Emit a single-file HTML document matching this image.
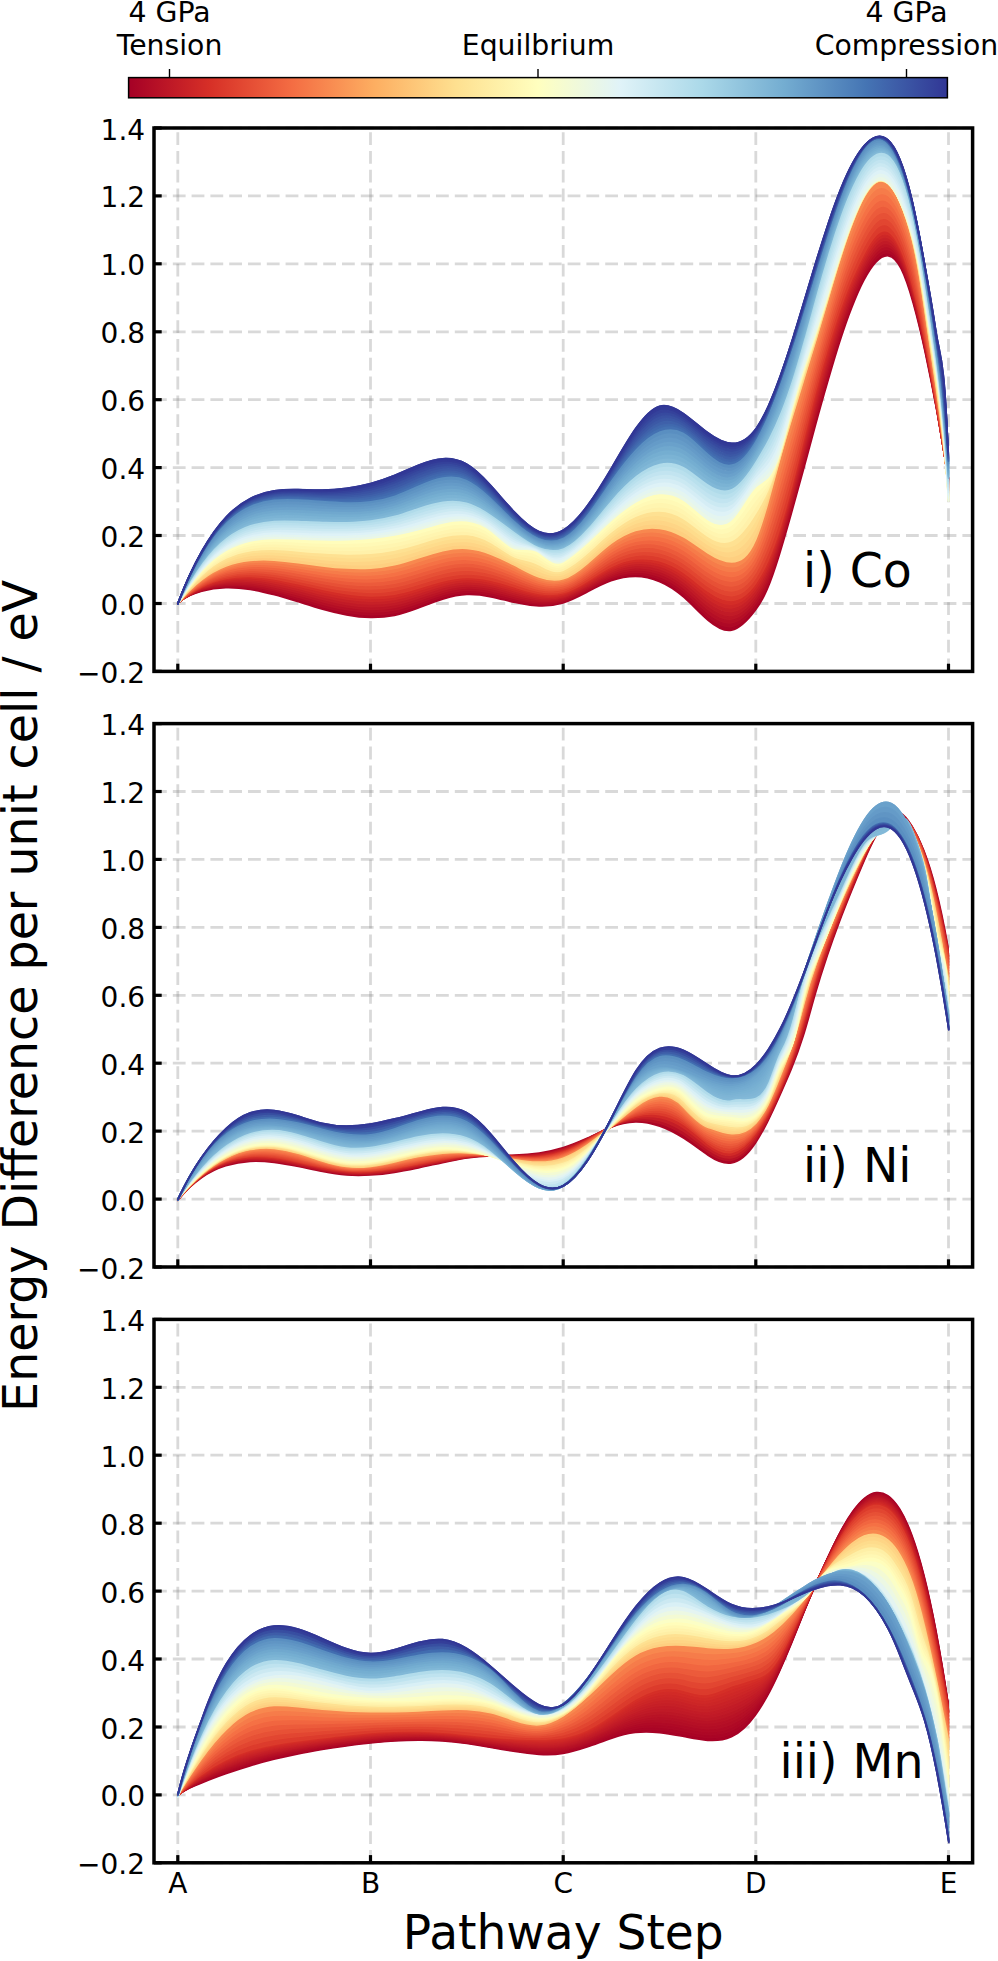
<!DOCTYPE html>
<html lang="en">
<head>
<meta charset="utf-8">
<title>Energy Difference per unit cell vs Pathway Step</title>
<style>html,body{margin:0;padding:0;background:#fff}svg{display:block}</style>
</head>
<body>
<svg width="998" height="1961" viewBox="0 0 998 1961">
<rect width="998" height="1961" fill="#fff"/>
<defs><linearGradient id="cb" x1="0" x2="1" y1="0" y2="0">
<stop offset="0%" stop-color="#a50026"/>
<stop offset="10%" stop-color="#d73027"/>
<stop offset="20%" stop-color="#f46d43"/>
<stop offset="30%" stop-color="#fdae61"/>
<stop offset="40%" stop-color="#fee090"/>
<stop offset="50%" stop-color="#ffffbf"/>
<stop offset="60%" stop-color="#e0f3f8"/>
<stop offset="70%" stop-color="#abd9e9"/>
<stop offset="80%" stop-color="#74add1"/>
<stop offset="90%" stop-color="#4575b4"/>
<stop offset="100%" stop-color="#313695"/>
</linearGradient>
<clipPath id="cl0"><rect x="154" y="128" width="818.6" height="543.4"/></clipPath>
<clipPath id="cl1"><rect x="154" y="723.6" width="818.6" height="543.4"/></clipPath>
<clipPath id="cl2"><rect x="154" y="1319.4" width="818.6" height="543.4"/></clipPath>
</defs>
<g id="colorbar">
<rect x="128.6" y="77.6" width="818.8" height="20.2" fill="url(#cb)" stroke="#000" stroke-width="1.5"/>
<line x1="169.5" x2="169.5" y1="69" y2="77.6" stroke="#000" stroke-width="1.4"/>
<line x1="538" x2="538" y1="69" y2="77.6" stroke="#000" stroke-width="1.4"/>
<line x1="906.5" x2="906.5" y1="69" y2="77.6" stroke="#000" stroke-width="1.4"/>
<g font-family="'DejaVu Sans','Liberation Sans',sans-serif" font-size="28.3" text-anchor="middle" fill="#000">
<text x="169.5" y="22.4">4 GPa</text><text x="169.5" y="54.6">Tension</text>
<text x="538" y="54.6">Equilbrium</text>
<text x="906.5" y="22.4">4 GPa</text><text x="906.5" y="54.6">Compression</text>
</g></g>
<g id="panel1">
<g stroke="#808080" stroke-opacity="0.3" stroke-width="2.8" stroke-dasharray="12.8 6.0" fill="none">
<line x1="177.8" x2="177.8" y1="671.4" y2="128"/>
<line x1="370.5" x2="370.5" y1="671.4" y2="128"/>
<line x1="563.2" x2="563.2" y1="671.4" y2="128"/>
<line x1="755.8" x2="755.8" y1="671.4" y2="128"/>
<line x1="948.5" x2="948.5" y1="671.4" y2="128"/>
<line x1="154" x2="972.6" y1="671.4" y2="671.4"/>
<line x1="154" x2="972.6" y1="603.5" y2="603.5"/>
<line x1="154" x2="972.6" y1="535.5" y2="535.5"/>
<line x1="154" x2="972.6" y1="467.6" y2="467.6"/>
<line x1="154" x2="972.6" y1="399.7" y2="399.7"/>
<line x1="154" x2="972.6" y1="331.8" y2="331.8"/>
<line x1="154" x2="972.6" y1="263.8" y2="263.8"/>
<line x1="154" x2="972.6" y1="195.9" y2="195.9"/>
<line x1="154" x2="972.6" y1="128" y2="128"/>
</g>
<g clip-path="url(#cl0)" stroke-width="1.7" stroke-linejoin="round" stroke-linecap="butt">
<path d="M177.9,602.3C179.8,601 181.8,599.8 183.7,598.7S187.6,596.5 189.6,595.5C193.6,593.6 197.6,592.2 201.7,591.1C209.8,588.9 217.9,587.9 225.9,587.7S242.1,588.2 250.2,589.4S266.3,592.6 274.4,594.7S290.4,599.3 298.5,601.8S314.5,606.8 322.5,609.1S338.6,613.3 346.5,614.8S362.5,617.3 370.5,617.4S386.4,617 394.4,615.3S410.3,610.9 418.3,607.9S434.4,601.7 442.5,599.2S458.6,594.7 466.8,594.4S483,595.1 491.1,596.8S507.2,600.7 515.2,602.5S531.1,605.5 539.1,605.8S555,605.3 562.9,602.9S578.8,596.4 586.8,592.2S602.9,583.7 611,580.8S627.3,576.4 635.4,576.4S651.7,578.2 659.8,581.6S676,590.2 684.1,597.4S700.2,613.5 708.2,620.3S724,631.6 731.6,630.1S747.2,621 755.1,610.5C759.1,605.2 763.1,598.9 767.1,589.5S775.1,568.3 779.1,555.4S787.1,528.6 791.1,514.3S799.2,485.3 803.2,470.5S811.2,440.7 815.2,426S823.2,396.8 827.3,382.9S835.3,355.5 839.3,343S847.3,318.8 851.4,308.4S859.4,288.6 863.5,280.9S871.5,266.9 875.6,262.5S883.9,255.3 888.4,255.8S897,260.6 901.1,268.7S909.2,288.7 913.2,303S921.3,334 925.2,352.2S933.1,390.2 937,411.3S944.5,454.6 948.4,477.7L948.4,478.1C944.5,454.6 940.7,431.9 936.9,410.4S929.1,368.8 925.1,350.4S917.1,315 913.1,300.6S905.1,274.3 901,266.1S892.8,253.5 888.4,252.8S879.8,254.7 875.7,259.1S867.6,269.7 863.5,277.4S855.5,294.3 851.5,304.6S843.4,326.4 839.4,338.8S831.4,364.4 827.4,378.3S819.3,406.6 815.3,421.4S807.3,451.3 803.3,466.3S795.2,496.2 791.2,510.6S783.2,539.1 779.2,552S771.2,576.5 767.2,585.9S759.2,601.7 755.2,607C747.2,617.7 739.3,625.1 731.6,626.4S716.1,623.3 708.1,616.6S692.1,601.2 684.1,594.2S667.9,582.3 659.8,579S643.5,574.2 635.4,574.2S619.2,576 611.1,579S594.9,586.6 586.9,590.8S570.9,599.2 562.9,601.6S547.1,604.6 539.1,604.2S523.1,602.4 515.1,600.5S499.1,596.5 491,594.8S474.9,591.9 466.8,592.3S450.6,594.4 442.5,596.9S426.4,602.5 418.4,605.4S402.4,611 394.4,612.7S378.5,614.9 370.5,614.7S354.5,613.6 346.5,612.2S330.5,608.8 322.5,606.6S306.5,601.9 298.4,599.5S282.4,594.8 274.3,592.7S258.2,588.9 250.2,587.8S234,586.2 226,586.5S209.8,588.1 201.7,590.6C197.6,591.8 193.6,593.3 189.6,595.3C187.7,596.3 185.7,597.4 183.7,598.6S179.8,601.1 177.9,602.4Z" fill="#a80326" stroke="#a80326"/>
<path d="M177.9,602.4C179.8,601.1 181.8,599.8 183.7,598.6S187.7,596.3 189.6,595.3C193.6,593.3 197.6,591.8 201.7,590.6C209.8,588.1 217.9,586.9 226,586.5S242.1,586.7 250.2,587.8S266.3,590.7 274.3,592.7S290.4,597.1 298.4,599.5S314.5,604.4 322.5,606.6S338.5,610.7 346.5,612.2S362.5,614.6 370.5,614.7S386.4,614.3 394.4,612.7S410.4,608.3 418.4,605.4S434.4,599.4 442.5,596.9S458.7,592.6 466.8,592.3S483,593.1 491,594.8S507.1,598.7 515.1,600.5S531.1,603.8 539.1,604.2S555,604 562.9,601.6S578.9,595.1 586.9,590.8S603,582.1 611.1,579S627.3,574.3 635.4,574.2S651.7,575.7 659.8,579S676,587.3 684.1,594.2S700.2,610 708.1,616.6S723.9,627.8 731.6,626.4S747.2,617.7 755.2,607C759.2,601.7 763.2,595.2 767.2,585.9S775.2,564.8 779.2,552S787.2,525 791.2,510.6S799.3,481.3 803.3,466.3S811.3,436.2 815.3,421.4S823.3,392.2 827.4,378.3S835.4,351.1 839.4,338.8S847.4,314.9 851.5,304.6S859.5,285.2 863.5,277.4S871.6,263.4 875.7,259.1S884,252 888.4,252.8S896.9,257.9 901,266.1S909.1,286.2 913.1,300.6S921.1,331.9 925.1,350.4S933,389 936.9,410.4S944.5,454.6 948.4,478.1L948.4,478.5C944.5,454.6 940.7,431.4 936.8,409.6S929,367.3 925,348.5S917,312.8 913,298.2S905,271.8 900.9,263.5S892.7,250.7 888.4,249.7S879.9,251.3 875.8,255.6S867.7,266.3 863.6,274S855.6,290.6 851.6,300.8S843.5,322.3 839.5,334.5S831.5,359.9 827.5,373.7S819.4,402 815.4,416.8S807.4,446.9 803.4,462S795.4,492.3 791.3,506.9S783.3,535.6 779.3,548.5S771.3,572.9 767.3,582.3S759.3,598.2 755.3,603.6C747.3,614.4 739.3,621.5 731.6,622.7S716,619.5 708.1,613S692.1,597.9 684,591.1S667.8,579.5 659.7,576.4S643.5,571.9 635.4,572.1S619.2,574 611.1,577.2S595,585 586.9,589.4S570.9,598 563,600.4S547.1,603.2 539.1,602.7S523.1,600.6 515.1,598.6S499.1,594.4 491,592.7S474.9,589.8 466.8,590.1S450.6,592.2 442.5,594.7S426.4,600.1 418.4,602.9S402.4,608.4 394.4,610S378.5,612.2 370.5,612S354.5,611 346.5,609.5S330.5,606.2 322.5,604.1S306.4,599.6 298.4,597.3S282.3,592.7 274.3,590.7S258.2,587.2 250.2,586.2S234,584.8 226,585.4S209.8,587.3 201.7,590C197.7,591.3 193.6,593 189.7,595.1C187.7,596.2 185.7,597.3 183.7,598.6S179.8,601.1 177.9,602.5Z" fill="#ae0926" stroke="#ae0926"/>
<path d="M177.9,602.5C179.8,601.1 181.8,599.8 183.7,598.6S187.7,596.2 189.7,595.1C193.6,593 197.7,591.3 201.7,590C209.8,587.3 217.9,585.9 226,585.4S242.1,585.2 250.2,586.2S266.3,588.8 274.3,590.7S290.4,595 298.4,597.3S314.5,602 322.5,604.1S338.5,608.1 346.5,609.5S362.5,611.9 370.5,612S386.5,611.6 394.4,610S410.4,605.8 418.4,602.9S434.5,597.1 442.5,594.7S458.7,590.5 466.8,590.1S483,591 491,592.7S507.1,596.7 515.1,598.6S531.1,602.2 539.1,602.7S555,602.7 563,600.4S578.9,593.8 586.9,589.4S603,580.4 611.1,577.2S627.3,572.3 635.4,572.1S651.6,573.3 659.7,576.4S675.9,584.4 684,591.1S700.1,606.4 708.1,613S723.9,623.9 731.6,622.7S747.3,614.4 755.3,603.6C759.3,598.2 763.3,591.6 767.3,582.3S775.3,561.4 779.3,548.5S787.3,521.5 791.3,506.9S799.4,477.2 803.4,462S811.4,431.6 815.4,416.8S823.5,387.5 827.5,373.7S835.5,346.8 839.5,334.5S847.5,311 851.6,300.8S859.6,281.7 863.6,274S871.7,260 875.8,255.6S884,248.8 888.4,249.7S896.9,255.2 900.9,263.5S909,283.7 913,298.2S921,329.8 925,348.5S933,387.8 936.8,409.6S944.5,454.6 948.4,478.5L948.5,478.9C944.5,454.5 940.7,431 936.8,408.8S928.9,365.7 924.9,346.7S916.9,310.5 912.9,295.9S904.9,269.3 900.8,260.9S892.6,247.8 888.4,246.7S879.9,247.9 875.9,252.2S867.8,262.9 863.7,270.5S855.7,287 851.7,297S843.6,318.2 839.6,330.3S831.6,355.4 827.6,369.2S819.5,397.3 815.5,412.2S807.5,442.5 803.5,457.8S795.5,488.5 791.4,503.2S783.4,532.1 779.4,545S771.4,569.4 767.4,578.7S759.4,594.7 755.4,600.1C747.4,611.1 739.4,617.9 731.6,619S716,615.7 708,609.3S692,594.5 683.9,588S667.8,576.8 659.7,573.8S643.5,569.6 635.4,569.9S619.2,572.1 611.1,575.5S595,583.5 587,588S571,596.8 563,599.1S547.1,601.8 539.1,601.2S523.1,598.7 515.1,596.7S499.1,592.3 491,590.6S474.9,587.7 466.8,588S450.6,590 442.6,592.4S426.5,597.7 418.5,600.5S402.4,605.8 394.4,607.4S378.5,609.5 370.5,609.3S354.5,608.3 346.5,606.9S330.5,603.7 322.5,601.6S306.4,597.3 298.4,595S282.3,590.6 274.3,588.8S258.2,585.4 250.1,584.6S234,583.5 226,584.2S209.8,586.6 201.7,589.4C197.7,590.9 193.7,592.7 189.7,594.9C187.7,596 185.7,597.2 183.8,598.5S179.8,601.2 177.9,602.7Z" fill="#b50f26" stroke="#b50f26"/>
<path d="M177.9,602.7C179.8,601.2 181.8,599.8 183.8,598.5S187.7,596 189.7,594.9C193.7,592.7 197.7,590.9 201.7,589.4C209.8,586.6 217.9,584.9 226,584.2S242.1,583.7 250.1,584.6S266.2,586.9 274.3,588.8S290.3,592.8 298.4,595S314.4,599.5 322.5,601.6S338.5,605.5 346.5,606.9S362.5,609.2 370.5,609.3S386.5,608.9 394.4,607.4S410.4,603.2 418.5,600.5S434.5,594.7 442.6,592.4S458.7,588.3 466.8,588S483,588.9 491,590.6S507.1,594.7 515.1,596.7S531.1,600.5 539.1,601.2S555,601.4 563,599.1S579,592.5 587,588S603.1,578.8 611.1,575.5S627.3,570.2 635.4,569.9S651.6,570.8 659.7,573.8S675.9,581.5 683.9,588S700,602.9 708,609.3S723.9,620.1 731.6,619S747.4,611.1 755.4,600.1C759.4,594.7 763.4,588 767.4,578.7S775.4,557.9 779.4,545S787.4,517.9 791.4,503.2S799.5,473.2 803.5,457.8S811.5,427.1 815.5,412.2S823.6,382.9 827.6,369.2S835.6,342.4 839.6,330.3S847.6,307 851.7,297S859.7,278.2 863.7,270.5S871.8,256.5 875.9,252.2S884.1,245.6 888.4,246.7S896.8,252.5 900.8,260.9S908.9,281.2 912.9,295.9S920.9,327.7 924.9,346.7S932.9,386.6 936.8,408.8S944.5,454.5 948.5,478.9L948.5,479.3C944.5,454.5 940.6,430.5 936.7,407.9S928.8,364.2 924.8,344.9S916.8,308.2 912.8,293.5S904.7,266.7 900.7,258.3S892.6,245 888.3,243.7S880,244.5 875.9,248.8S867.9,259.4 863.8,267.1S855.8,283.4 851.8,293.2S843.7,314.1 839.7,326.1S831.7,350.9 827.7,364.6S819.6,392.7 815.6,407.6S807.6,438.1 803.6,453.6S795.6,484.6 791.5,499.5S783.5,528.7 779.5,541.6S771.5,565.8 767.5,575S759.5,591.2 755.5,596.7C747.5,607.8 739.5,614.3 731.7,615.3S715.9,611.9 707.9,605.6S691.9,591.2 683.9,584.9S667.7,574 659.7,571.2S643.5,567.3 635.4,567.7S619.2,570.2 611.2,573.7S595.1,582 587,586.6S571,595.5 563,597.8S547.1,600.4 539.1,599.6S523.1,596.9 515.1,594.8S499,590.3 491,588.5S474.9,585.6 466.8,585.9S450.6,587.8 442.6,590.1S426.5,595.3 418.5,598S402.5,603.2 394.5,604.7S378.5,606.8 370.5,606.6S354.5,605.6 346.5,604.3S330.4,601.1 322.4,599.1S306.4,594.9 298.3,592.8S282.3,588.5 274.2,586.8S258.2,583.6 250.1,582.9S234,582.1 226,583S209.8,585.8 201.8,588.9C197.7,590.5 193.7,592.4 189.7,594.7C187.7,595.8 185.8,597.1 183.8,598.5S179.8,601.3 177.8,602.8Z" fill="#bb1526" stroke="#bb1526"/>
<path d="M177.8,602.8C179.8,601.3 181.8,599.8 183.8,598.5S187.7,595.8 189.7,594.7C193.7,592.4 197.7,590.5 201.8,588.9C209.8,585.8 217.9,583.9 226,583S242.1,582.2 250.1,582.9S266.2,585 274.2,586.8S290.3,590.6 298.3,592.8S314.4,597.1 322.4,599.1S338.5,602.9 346.5,604.3S362.5,606.5 370.5,606.6S386.5,606.2 394.5,604.7S410.5,600.7 418.5,598S434.6,592.4 442.6,590.1S458.7,586.2 466.8,585.9S482.9,586.8 491,588.5S507.1,592.6 515.1,594.8S531.1,598.8 539.1,599.6S555,600.1 563,597.8S579,591.2 587,586.6S603.1,577.1 611.2,573.7S627.3,568.2 635.4,567.7S651.6,568.4 659.7,571.2S675.8,578.5 683.9,584.9S699.9,599.3 707.9,605.6S723.8,616.3 731.7,615.3S747.5,607.8 755.5,596.7C759.5,591.2 763.5,584.3 767.5,575S775.5,554.4 779.5,541.6S787.5,514.4 791.5,499.5S799.6,469.1 803.6,453.6S811.6,422.5 815.6,407.6S823.7,378.3 827.7,364.6S835.7,338 839.7,326.1S847.7,303.1 851.8,293.2S859.8,274.7 863.8,267.1S871.9,253 875.9,248.8S884.1,242.3 888.3,243.7S896.7,249.8 900.7,258.3S908.8,278.7 912.8,293.5S920.8,325.6 924.8,344.9S932.8,385.4 936.7,407.9S944.5,454.5 948.5,479.3L948.5,479.6C944.5,454.4 940.6,430 936.6,407.1S928.7,362.6 924.7,343.1S916.7,306 912.7,291.1S904.6,264.2 900.6,255.7S892.5,242.2 888.3,240.6S880.1,241.1 876,245.3S867.9,256 863.9,263.6S855.9,279.8 851.9,289.5S843.8,310 839.8,321.8S831.8,346.5 827.8,360S819.7,388 815.7,403S807.7,433.7 803.7,449.4S795.7,480.8 791.6,495.8S783.6,525.2 779.6,538.1S771.6,562.2 767.6,571.4S759.6,587.7 755.6,593.3C747.6,604.5 739.6,610.7 731.7,611.6S715.9,608.1 707.9,601.9S691.8,587.9 683.8,581.7S667.7,571.2 659.6,568.6S643.5,565 635.4,565.5S619.3,568.3 611.2,571.9S595.1,580.5 587.1,585.2S571,594.3 563.1,596.6S547.1,599 539.1,598.1S523.1,595.1 515,592.8S499,588.2 491,586.5S474.9,583.6 466.8,583.8S450.7,585.6 442.6,587.8S426.6,592.9 418.5,595.5S402.5,600.6 394.5,602.1S378.5,604.1 370.5,603.9S354.5,602.9 346.4,601.6S330.4,598.6 322.4,596.6S306.3,592.6 298.3,590.5S282.3,586.4 274.2,584.8S258.1,581.9 250.1,581.3S234,580.8 226,581.9S209.9,585 201.8,588.3C197.8,590 193.7,592 189.8,594.5C187.8,595.7 185.8,597 183.8,598.4S179.8,601.3 177.8,602.9Z" fill="#c11b27" stroke="#c11b27"/>
<path d="M177.8,602.9C179.8,601.3 181.8,599.8 183.8,598.4S187.8,595.7 189.8,594.5C193.7,592 197.8,590 201.8,588.3C209.9,585 217.9,582.9 226,581.9S242.1,580.7 250.1,581.3S266.2,583.1 274.2,584.8S290.3,588.4 298.3,590.5S314.4,594.7 322.4,596.6S338.4,600.3 346.4,601.6S362.5,603.8 370.5,603.9S386.5,603.6 394.5,602.1S410.5,598.1 418.5,595.5S434.6,590.1 442.6,587.8S458.7,584 466.8,583.8S482.9,584.7 491,586.5S507,590.6 515,592.8S531.1,597.1 539.1,598.1S555.1,598.9 563.1,596.6S579.1,589.9 587.1,585.2S603.2,575.5 611.2,571.9S627.3,566.1 635.4,565.5S651.5,565.9 659.6,568.6S675.7,575.6 683.8,581.7S699.9,595.8 707.9,601.9S723.8,612.4 731.7,611.6S747.6,604.5 755.6,593.3C759.6,587.7 763.6,580.7 767.6,571.4S775.6,551 779.6,538.1S787.6,510.9 791.6,495.8S799.7,465.1 803.7,449.4S811.7,418 815.7,403S823.8,373.6 827.8,360S835.8,333.7 839.8,321.8S847.8,299.1 851.9,289.5S859.9,271.2 863.9,263.6S872,249.6 876,245.3S884.2,239.1 888.3,240.6S896.6,247.1 900.6,255.7S908.7,276.3 912.7,291.1S920.7,323.5 924.7,343.1S932.7,384.1 936.6,407.1S944.5,454.4 948.5,479.6L948.5,480C944.5,454.4 940.5,429.6 936.6,406.3S928.6,361 924.6,341.2S916.6,303.7 912.6,288.7S904.5,261.7 900.5,253.1S892.4,239.3 888.3,237.6S880.1,237.7 876.1,241.9S868,252.6 864,260.2S856,276.1 852,285.7S843.9,305.9 839.9,317.6S831.9,342 827.9,355.5S819.8,383.4 815.8,398.4S807.8,429.3 803.8,445.1S795.8,477 791.7,492.1S783.7,521.8 779.7,534.6S771.7,558.6 767.7,567.8S759.7,584.2 755.7,589.8C747.6,601.2 739.6,607.1 731.7,607.8S715.8,604.3 707.8,598.3S691.8,584.6 683.7,578.6S667.6,568.5 659.6,566S643.5,562.6 635.4,563.4S619.3,566.4 611.2,570.1S595.2,579 587.1,583.8S571.1,593.1 563.1,595.3S547.1,597.6 539.1,596.5S523,593.2 515,590.9S499,586.2 490.9,584.4S474.9,581.5 466.8,581.7S450.7,583.4 442.7,585.6S426.6,590.4 418.6,593S402.5,598 394.5,599.4S378.5,601.4 370.5,601.2S354.4,600.3 346.4,599S330.4,596 322.4,594.2S306.3,590.2 298.3,588.2S282.2,584.3 274.2,582.8S258.1,580.1 250.1,579.7S234,579.4 226,580.7S209.9,584.2 201.8,587.8C197.8,589.6 193.8,591.7 189.8,594.3C187.8,595.5 185.8,596.9 183.8,598.4S179.8,601.4 177.8,603Z" fill="#c72127" stroke="#c72127"/>
<path d="M177.8,603C179.8,601.4 181.8,599.8 183.8,598.4S187.8,595.5 189.8,594.3C193.8,591.7 197.8,589.6 201.8,587.8C209.9,584.2 217.9,581.9 226,580.7S242,579.2 250.1,579.7S266.2,581.3 274.2,582.8S290.3,586.2 298.3,588.2S314.3,592.3 322.4,594.2S338.4,597.7 346.4,599S362.5,601.1 370.5,601.2S386.5,600.9 394.5,599.4S410.5,595.6 418.6,593S434.6,587.7 442.7,585.6S458.7,581.9 466.8,581.7S482.9,582.6 490.9,584.4S507,588.6 515,590.9S531.1,595.4 539.1,596.5S555.1,597.6 563.1,595.3S579.1,588.6 587.1,583.8S603.2,573.8 611.2,570.1S627.3,564.1 635.4,563.4S651.5,563.5 659.6,566S675.7,572.7 683.7,578.6S699.8,592.3 707.8,598.3S723.8,608.6 731.7,607.8S747.6,601.2 755.7,589.8C759.7,584.2 763.7,577 767.7,567.8S775.7,547.5 779.7,534.6S787.7,507.3 791.7,492.1S799.8,461 803.8,445.1S811.8,413.4 815.8,398.4S823.9,369 827.9,355.5S835.9,329.3 839.9,317.6S847.9,295.2 852,285.7S860,267.7 864,260.2S872.1,246.1 876.1,241.9S884.2,235.9 888.3,237.6S896.5,244.5 900.5,253.1S908.6,273.8 912.6,288.7S920.6,321.5 924.6,341.2S932.6,382.9 936.6,406.3S944.5,454.4 948.5,480L948.5,480.4C944.5,454.4 940.5,429.1 936.5,405.4S928.5,359.5 924.5,339.4S916.5,301.4 912.5,286.4S904.4,259.2 900.4,250.5S892.4,236.5 888.3,234.6S880.2,234.3 876.2,238.5S868.1,249.2 864.1,256.7S856.1,272.5 852.1,281.9S844,301.8 840,313.4S832,337.5 828,350.9S819.9,378.7 815.9,393.8S807.9,424.9 803.9,440.9S795.9,473.1 791.8,488.4S783.8,518.3 779.8,531.2S771.8,555.1 767.8,564.2S759.8,580.7 755.7,586.4C747.7,597.9 739.7,603.5 731.7,604.1S715.7,600.5 707.7,594.6S691.7,581.2 683.6,575.5S667.6,565.7 659.5,563.4S643.4,560.3 635.4,561.2S619.3,564.5 611.3,568.3S595.2,577.5 587.2,582.4S571.1,591.9 563.1,594.1S547.1,596.2 539.1,595S523,591.4 515,589S499,584.1 490.9,582.3S474.8,579.4 466.8,579.5S450.7,581.2 442.7,583.3S426.6,588 418.6,590.5S402.6,595.3 394.5,596.8S378.5,598.7 370.5,598.5S354.4,597.6 346.4,596.4S330.4,593.5 322.3,591.7S306.3,587.9 298.3,586S282.2,582.2 274.2,580.8S258.1,578.3 250.1,578S234,578.1 226,579.5S209.9,583.4 201.9,587.2C197.8,589.1 193.8,591.4 189.8,594C187.8,595.4 185.8,596.8 183.8,598.3S179.8,601.5 177.8,603.2Z" fill="#ce2727" stroke="#ce2727"/>
<path d="M177.8,603.2C179.8,601.5 181.8,599.8 183.8,598.3S187.8,595.4 189.8,594C193.8,591.4 197.8,589.1 201.9,587.2C209.9,583.4 217.9,581 226,579.5S242,577.7 250.1,578S266.1,579.4 274.2,580.8S290.2,584.1 298.3,586S314.3,589.9 322.3,591.7S338.4,595.1 346.4,596.4S362.5,598.4 370.5,598.5S386.5,598.2 394.5,596.8S410.6,593 418.6,590.5S434.7,585.4 442.7,583.3S458.8,579.7 466.8,579.5S482.9,580.5 490.9,582.3S507,586.6 515,589S531.1,593.8 539.1,595S555.1,596.3 563.1,594.1S579.2,587.3 587.2,582.4S603.2,572.2 611.3,568.3S627.4,562 635.4,561.2S651.5,561 659.5,563.4S675.6,569.7 683.6,575.5S699.7,588.7 707.7,594.6S723.7,604.8 731.7,604.1S747.7,597.9 755.7,586.4C759.8,580.7 763.8,573.4 767.8,564.2S775.8,544 779.8,531.2S787.8,503.8 791.8,488.4S799.9,457 803.9,440.9S811.9,408.9 815.9,393.8S824,364.4 828,350.9S836,324.9 840,313.4S848,291.3 852.1,281.9S860.1,264.3 864.1,256.7S872.1,242.6 876.2,238.5S884.2,232.6 888.3,234.6S896.4,241.8 900.4,250.5S908.5,271.3 912.5,286.4S920.5,319.4 924.5,339.4S932.5,381.7 936.5,405.4S944.5,454.4 948.5,480.4L948.5,480.8C944.5,454.3 940.5,428.7 936.5,404.6S928.4,357.9 924.4,337.6S916.4,299.2 912.4,284S904.3,256.6 900.3,247.9S892.3,233.6 888.3,231.5S880.3,230.9 876.2,235S868.2,245.7 864.2,253.2S856.2,268.9 852.2,278.1S844.1,297.7 840.1,309.1S832.1,333 828.1,346.4S820,374 816,389.2S808,420.5 804,436.7S796,469.3 792,484.7S783.9,514.9 779.9,527.7S771.9,551.5 767.9,560.6S759.8,577.2 755.8,583C747.8,594.6 739.8,599.9 731.7,600.4S715.7,596.7 707.7,590.9S691.6,577.9 683.6,572.3S667.5,563 659.5,560.8S643.4,558 635.4,559S619.3,562.5 611.3,566.5S595.3,576 587.2,581S571.2,590.6 563.2,592.8S547.1,594.8 539.1,593.5S523,589.6 515,587S498.9,582.1 490.9,580.2S474.8,577.3 466.8,577.4S450.8,579 442.7,581S426.7,585.6 418.6,588S402.6,592.7 394.6,594.1S378.5,596 370.5,595.8S354.4,594.9 346.4,593.7S330.3,590.9 322.3,589.2S306.2,585.5 298.2,583.7S282.2,580.2 274.1,578.8S258.1,576.6 250.1,576.4S234,576.8 226,578.4S209.9,582.6 201.9,586.7C197.9,588.7 193.9,591.1 189.8,593.8C187.8,595.2 185.8,596.7 183.8,598.3S179.8,601.5 177.8,603.3Z" fill="#d42d27" stroke="#d42d27"/>
<path d="M177.8,603.3C179.8,601.5 181.8,599.8 183.8,598.3S187.8,595.2 189.8,593.8C193.9,591.1 197.9,588.7 201.9,586.7C209.9,582.6 217.9,580 226,578.4S242,576.2 250.1,576.4S266.1,577.5 274.1,578.8S290.2,581.9 298.2,583.7S314.3,587.4 322.3,589.2S338.4,592.5 346.4,593.7S362.4,595.7 370.5,595.8S386.5,595.5 394.6,594.1S410.6,590.5 418.6,588S434.7,583 442.7,581S458.8,577.6 466.8,577.4S482.9,578.4 490.9,580.2S507,584.5 515,587S531,592.1 539.1,593.5S555.1,595 563.2,592.8S579.2,586.1 587.2,581S603.3,570.5 611.3,566.5S627.4,560 635.4,559S651.5,558.6 659.5,560.8S675.5,566.8 683.6,572.3S699.6,585.2 707.7,590.9S723.7,600.9 731.7,600.4S747.8,594.6 755.8,583C759.8,577.2 763.9,569.8 767.9,560.6S775.9,540.5 779.9,527.7S787.9,500.2 792,484.7S800,452.9 804,436.7S812,404.4 816,389.2S824.1,359.7 828.1,346.4S836.1,320.5 840.1,309.1S848.1,287.3 852.2,278.1S860.2,260.8 864.2,253.2S872.2,239.1 876.2,235S884.3,229.4 888.3,231.5S896.3,239.1 900.3,247.9S908.4,268.8 912.4,284S920.4,317.3 924.4,337.6S932.4,380.5 936.5,404.6S944.5,454.3 948.5,480.8L948.5,482.1C944.5,453.6 940.5,427.2 936.5,402.5S928.4,355 924.4,333.7S916.4,293.7 912.4,278.5S904.3,251.1 900.3,242.2S892.3,227.8 888.3,225.5S880.3,224.5 876.2,228.4S868.2,238.7 864.2,246.2S856.2,261.9 852.2,271.3S844.1,291.3 840.1,302.8S832.1,327 828.1,340.4S820,368.1 816,383S808,413.6 804,429.4S796,461.1 792,476.3S783.9,506 779.9,519.1S771.9,543.6 767.9,553.3S759.8,571.2 755.8,577.5C747.8,590 739.8,595.1 731.7,595.6S715.7,591.8 707.7,586.1S691.6,573.3 683.6,567.9S667.5,558.8 659.5,556.7S643.4,554.3 635.4,555.4S619.3,559.4 611.3,563.6S595.3,573.6 587.2,578.9S571.2,588.8 563.2,591.1S547.1,593 539.1,591.4S523,587.1 515,584.3S498.9,578.9 490.9,577S474.8,573.7 466.8,573.8S450.8,575.2 442.7,577.2S426.7,581.8 418.6,584.2S402.6,589 394.6,590.4S378.5,592.4 370.5,592.4S354.4,591.6 346.4,590.5S330.3,587.9 322.3,586.3S306.2,582.8 298.2,581.1S282.2,577.7 274.1,576.5S258.1,574.4 250.1,574.4S234,575 226,576.8S209.9,581.5 201.9,585.8C197.9,587.9 193.9,590.5 189.8,593.4C187.8,594.8 185.8,596.4 183.8,598S179.8,601.5 177.8,603.3Z" fill="#dc3b2c" stroke="#dc3b2c"/>
<path d="M177.8,603.3C179.8,601.5 181.8,599.7 183.8,598S187.8,594.8 189.8,593.4C193.9,590.5 197.9,587.9 201.9,585.8C209.9,581.5 217.9,578.6 226,576.8S242,574.3 250.1,574.4S266.1,575.3 274.1,576.5S290.2,579.4 298.2,581.1S314.3,584.6 322.3,586.3S338.4,589.4 346.4,590.5S362.4,592.3 370.5,592.4S386.5,591.9 394.6,590.4S410.6,586.7 418.6,584.2S434.7,579.2 442.7,577.2S458.8,573.9 466.8,573.8S482.9,575 490.9,577S507,581.6 515,584.3S531,589.8 539.1,591.4S555.1,593.3 563.2,591.1S579.2,584.1 587.2,578.9S603.3,567.9 611.3,563.6S627.4,556.6 635.4,555.4S651.5,554.7 659.5,556.7S675.5,562.5 683.6,567.9S699.6,580.5 707.7,586.1S723.7,596 731.7,595.6S747.8,590 755.8,577.5C759.8,571.2 763.9,563.1 767.9,553.3S775.9,532.1 779.9,519.1S787.9,491.5 792,476.3S800,445.3 804,429.4S812,397.9 816,383S824.1,353.8 828.1,340.4S836.1,314.4 840.1,302.8S848.1,280.7 852.2,271.3S860.2,253.6 864.2,246.2S872.2,232.3 876.2,228.4S884.3,223.3 888.3,225.5S896.3,233.4 900.3,242.2S908.4,263.2 912.4,278.5S920.4,312.5 924.4,333.7S932.4,377.9 936.5,402.5S944.5,453.6 948.5,482.1L948.5,483.3C944.5,452.8 940.5,425.6 936.5,400.5S928.4,352 924.4,329.9S916.4,288.3 912.4,272.9S904.3,245.5 900.3,236.6S892.3,222 888.3,219.6S880.3,218.2 876.2,221.8S868.2,231.7 864.2,239.1S856.2,254.9 852.2,264.4S844.1,284.8 840.1,296.5S832.1,321 828.1,334.5S820,362.1 816,376.8S808,406.8 804,422.2S796,453 792,467.9S783.9,497.2 779.9,510.4S771.9,535.6 767.9,546.1S759.8,565.3 755.8,572C747.8,585.4 739.8,590.4 731.7,590.8S715.7,587 707.7,581.4S691.6,568.7 683.6,563.4S667.5,554.6 659.5,552.7S643.4,550.5 635.4,551.9S619.3,556.2 611.3,560.7S595.3,571.2 587.2,576.7S571.2,587.1 563.2,589.3S547.1,591.1 539.1,589.3S523,584.6 515,581.6S498.9,575.8 490.9,573.7S474.8,570.2 466.8,570.2S450.8,571.5 442.7,573.4S426.7,578 418.6,580.4S402.6,585.3 394.6,586.8S378.5,588.9 370.5,588.9S354.4,588.3 346.4,587.3S330.3,584.9 322.3,583.3S306.2,580.1 298.2,578.5S282.2,575.3 274.1,574.1S258.1,572.3 250.1,572.4S234,573.3 226,575.3S209.9,580.3 201.9,584.9C197.9,587.2 193.9,589.8 189.8,592.9C187.8,594.4 185.8,596.1 183.8,597.8S179.8,601.4 177.8,603.4Z" fill="#e24631" stroke="#e24631"/>
<path d="M177.8,603.4C179.8,601.4 181.8,599.5 183.8,597.8S187.8,594.4 189.8,592.9C193.9,589.8 197.9,587.2 201.9,584.9C209.9,580.3 217.9,577.2 226,575.3S242,572.5 250.1,572.4S266.1,573 274.1,574.1S290.2,576.8 298.2,578.5S314.3,581.8 322.3,583.3S338.4,586.3 346.4,587.3S362.4,588.9 370.5,588.9S386.5,588.2 394.6,586.8S410.6,582.9 418.6,580.4S434.7,575.4 442.7,573.4S458.8,570.1 466.8,570.2S482.9,571.6 490.9,573.7S507,578.7 515,581.6S531,587.6 539.1,589.3S555.1,591.5 563.2,589.3S579.2,582.2 587.2,576.7S603.3,565.2 611.3,560.7S627.4,553.2 635.4,551.9S651.5,550.8 659.5,552.7S675.5,558.1 683.6,563.4S699.6,575.8 707.7,581.4S723.7,591.1 731.7,590.8S747.8,585.4 755.8,572C759.8,565.3 763.9,556.5 767.9,546.1S775.9,523.6 779.9,510.4S787.9,482.9 792,467.9S800,437.6 804,422.2S812,391.5 816,376.8S824.1,347.9 828.1,334.5S836.1,308.3 840.1,296.5S848.1,274 852.2,264.4S860.2,246.5 864.2,239.1S872.2,225.5 876.2,221.8S884.3,217.2 888.3,219.6S896.3,227.7 900.3,236.6S908.4,257.6 912.4,272.9S920.4,307.7 924.4,329.9S932.4,375.4 936.5,400.5S944.5,452.8 948.5,483.3L948.5,484.6C944.5,452 940.5,424.1 936.5,398.5S928.4,349.1 924.4,326S916.4,282.8 912.4,267.4S904.3,239.9 900.3,230.9S892.3,216.2 888.3,213.6S880.3,211.8 876.2,215.2S868.2,224.7 864.2,232S856.2,247.9 852.2,257.6S844.1,278.3 840.1,290.2S832.1,315 828.1,328.5S820,356.1 816,370.6S808,399.9 804,414.9S796,444.9 792,459.6S783.9,488.4 779.9,501.8S771.9,527.7 767.9,538.8S759.8,559.4 755.8,566.5C747.8,580.8 739.8,585.6 731.7,585.9S715.7,582.1 707.7,576.6S691.6,564.2 683.6,559S667.5,550.4 659.5,548.6S643.4,546.8 635.4,548.3S619.3,553 611.3,557.7S595.3,568.8 587.2,574.5S571.2,585.3 563.2,587.6S547.1,589.2 539.1,587.3S523,582.1 515,578.9S498.9,572.7 490.9,570.4S474.8,566.7 466.8,566.5S450.8,567.7 442.7,569.6S426.7,574.2 418.6,576.6S402.6,581.5 394.6,583.1S378.5,585.3 370.5,585.4S354.4,585 346.4,584.1S330.3,581.9 322.3,580.4S306.2,577.4 298.2,575.8S282.2,572.8 274.1,571.8S258.1,570.2 250.1,570.4S234,571.6 226,573.7S209.9,579.2 201.9,584C197.9,586.4 193.9,589.2 189.8,592.4C187.8,594 185.8,595.8 183.8,597.6S179.8,601.3 177.8,603.4Z" fill="#e75136" stroke="#e75136"/>
<path d="M177.8,603.4C179.8,601.3 181.8,599.4 183.8,597.6S187.8,594 189.8,592.4C193.9,589.2 197.9,586.4 201.9,584C209.9,579.2 217.9,575.9 226,573.7S242,570.6 250.1,570.4S266.1,570.8 274.1,571.8S290.2,574.3 298.2,575.8S314.3,579 322.3,580.4S338.4,583.2 346.4,584.1S362.4,585.5 370.5,585.4S386.5,584.6 394.6,583.1S410.6,579.1 418.6,576.6S434.7,571.6 442.7,569.6S458.8,566.4 466.8,566.5S482.9,568.2 490.9,570.4S507,575.7 515,578.9S531,585.4 539.1,587.3S555.1,589.8 563.2,587.6S579.2,580.2 587.2,574.5S603.3,562.5 611.3,557.7S627.4,549.8 635.4,548.3S651.5,546.8 659.5,548.6S675.5,553.8 683.6,559S699.6,571.1 707.7,576.6S723.7,586.3 731.7,585.9S747.8,580.8 755.8,566.5C759.8,559.4 763.9,549.8 767.9,538.8S775.9,515.1 779.9,501.8S787.9,474.2 792,459.6S800,429.9 804,414.9S812,385 816,370.6S824.1,342 828.1,328.5S836.1,302.2 840.1,290.2S848.1,267.4 852.2,257.6S860.2,239.4 864.2,232S872.2,218.7 876.2,215.2S884.3,211 888.3,213.6S896.3,221.9 900.3,230.9S908.4,252 912.4,267.4S920.4,302.9 924.4,326S932.4,372.9 936.5,398.5S944.5,452 948.5,484.6L948.5,485.9C944.5,451.3 940.5,422.6 936.5,396.5S928.4,346.1 924.4,322.1S916.4,277.4 912.4,261.9S904.3,234.3 900.3,225.3S892.3,210.4 888.3,207.6S880.3,205.4 876.2,208.6S868.2,217.6 864.2,225S856.2,240.9 852.2,250.8S844.1,271.9 840.1,284S832.1,309 828.1,322.5S820,350.1 816,364.3S808,393.1 804,407.6S796,436.8 792,451.2S783.9,479.6 779.9,493.1S771.9,519.8 767.9,531.5S759.8,553.4 755.8,561C747.8,576.2 739.8,580.9 731.7,581.1S715.7,577.3 707.7,571.8S691.6,559.6 683.6,554.5S667.5,546.2 659.5,544.6S643.4,543 635.4,544.7S619.3,549.8 611.3,554.8S595.3,566.4 587.2,572.3S571.2,583.5 563.2,585.8S547.1,587.4 539.1,585.2S523,579.6 515,576.2S498.9,569.6 490.9,567.2S474.8,563.1 466.8,562.9S450.8,563.9 442.7,565.9S426.7,570.3 418.6,572.9S402.6,577.8 394.6,579.4S378.5,581.8 370.5,581.9S354.4,581.7 346.4,580.9S330.3,578.8 322.3,577.5S306.2,574.6 298.2,573.2S282.2,570.4 274.1,569.5S258.1,568 250.1,568.4S234,569.9 226,572.2S209.9,578 201.9,583.1C197.9,585.7 193.9,588.6 189.8,592C187.8,593.6 185.8,595.4 183.8,597.3S179.8,601.3 177.8,603.4Z" fill="#ec5b3b" stroke="#ec5b3b"/>
<path d="M177.8,603.4C179.8,601.3 181.8,599.3 183.8,597.3S187.8,593.6 189.8,592C193.9,588.6 197.9,585.7 201.9,583.1C209.9,578 217.9,574.5 226,572.2S242,568.7 250.1,568.4S266.1,568.5 274.1,569.5S290.2,571.8 298.2,573.2S314.3,576.1 322.3,577.5S338.4,580 346.4,580.9S362.4,582.1 370.5,581.9S386.5,581 394.6,579.4S410.6,575.4 418.6,572.9S434.7,567.8 442.7,565.9S458.8,562.7 466.8,562.9S482.9,564.7 490.9,567.2S507,572.8 515,576.2S531,583.1 539.1,585.2S555.1,588.1 563.2,585.8S579.2,578.3 587.2,572.3S603.3,559.8 611.3,554.8S627.4,546.4 635.4,544.7S651.5,542.9 659.5,544.6S675.5,549.5 683.6,554.5S699.6,566.4 707.7,571.8S723.7,581.4 731.7,581.1S747.8,576.2 755.8,561C759.8,553.4 763.9,543.2 767.9,531.5S775.9,506.7 779.9,493.1S787.9,465.5 792,451.2S800,422.2 804,407.6S812,378.6 816,364.3S824.1,336.1 828.1,322.5S836.1,296 840.1,284S848.1,260.7 852.2,250.8S860.2,232.3 864.2,225S872.2,211.8 876.2,208.6S884.3,204.9 888.3,207.6S896.3,216.2 900.3,225.3S908.4,246.3 912.4,261.9S920.4,298.1 924.4,322.1S932.4,370.3 936.5,396.5S944.5,451.3 948.5,485.9L948.5,487.1C944.5,450.5 940.5,421.1 936.5,394.4S928.4,343.2 924.4,318.2S916.4,271.9 912.4,256.3S904.3,228.7 900.3,219.6S892.3,204.5 888.3,201.7S880.3,199 876.2,202S868.2,210.6 864.2,217.9S856.2,233.9 852.2,244S844.1,265.4 840.1,277.7S832.1,303 828.1,316.6S820,344.1 816,358.1S808,386.2 804,400.4S796,428.7 792,442.8S783.9,470.8 779.9,484.5S771.9,511.9 767.9,524.2S759.8,547.5 755.8,555.6C747.8,571.7 739.8,576.1 731.7,576.3S715.7,572.4 707.7,567S691.6,555 683.6,550.1S667.5,542 659.5,540.5S643.4,539.2 635.4,541.2S619.3,546.6 611.3,551.9S595.3,564 587.2,570.2S571.2,581.7 563.2,584S547.1,585.5 539.1,583.2S523,577.1 515,573.5S498.9,566.5 490.9,563.9S474.8,559.6 466.8,559.3S450.8,560.2 442.7,562.1S426.7,566.5 418.6,569.1S402.6,574.1 394.6,575.7S378.5,578.2 370.5,578.5S354.4,578.4 346.4,577.6S330.3,575.8 322.3,574.6S306.2,571.9 298.2,570.6S282.2,567.9 274.1,567.1S258.1,565.9 250.1,566.4S234,568.1 226,570.6S209.9,576.9 201.9,582.2C197.9,584.9 193.9,588 189.8,591.5C187.8,593.3 185.8,595.1 183.8,597.1S179.8,601.2 177.8,603.4Z" fill="#f16640" stroke="#f16640"/>
<path d="M177.8,603.4C179.8,601.2 181.8,599.1 183.8,597.1S187.8,593.3 189.8,591.5C193.9,588 197.9,584.9 201.9,582.2C209.9,576.9 217.9,573.2 226,570.6S242,566.8 250.1,566.4S266.1,566.3 274.1,567.1S290.2,569.2 298.2,570.6S314.3,573.3 322.3,574.6S338.4,576.9 346.4,577.6S362.4,578.7 370.5,578.5S386.5,577.4 394.6,575.7S410.6,571.6 418.6,569.1S434.7,563.9 442.7,562.1S458.8,559 466.8,559.3S482.9,561.3 490.9,563.9S507,569.9 515,573.5S531,580.9 539.1,583.2S555.1,586.3 563.2,584S579.2,576.3 587.2,570.2S603.3,557.1 611.3,551.9S627.4,543.1 635.4,541.2S651.5,539 659.5,540.5S675.5,545.2 683.6,550.1S699.6,561.6 707.7,567S723.7,576.5 731.7,576.3S747.8,571.7 755.8,555.6C759.8,547.5 763.9,536.6 767.9,524.2S775.9,498.2 779.9,484.5S787.9,456.8 792,442.8S800,414.5 804,400.4S812,372.1 816,358.1S824.1,330.2 828.1,316.6S836.1,289.9 840.1,277.7S848.1,254 852.2,244S860.2,225.1 864.2,217.9S872.2,205 876.2,202S884.3,198.8 888.3,201.7S896.3,210.5 900.3,219.6S908.4,240.7 912.4,256.3S920.4,293.3 924.4,318.2S932.4,367.8 936.5,394.4S944.5,450.5 948.5,487.1L948.5,488.4C944.5,449.8 940.5,419.6 936.5,392.4S928.4,340.2 924.4,314.4S916.4,266.5 912.4,250.8S904.3,223.1 900.3,214S892.3,198.7 888.3,195.7S880.3,192.7 876.2,195.4S868.2,203.6 864.2,210.8S856.2,226.9 852.2,237.1S844.1,258.9 840.1,271.4S832.1,297.1 828.1,310.6S820,338.1 816,351.9S808,379.4 804,393.1S796,420.6 792,434.4S783.9,462 779.9,475.8S771.9,503.9 767.9,516.9S759.8,541.6 755.8,550.1C747.8,567.1 739.8,571.3 731.7,571.5S715.7,567.5 707.7,562.2S691.6,550.4 683.6,545.6S667.5,537.8 659.5,536.4S643.4,535.5 635.4,537.6S619.3,543.5 611.3,548.9S595.3,561.6 587.2,568S571.2,580 563.2,582.3S547.1,583.6 539.1,581.1S523,574.6 515,570.8S498.9,563.3 490.9,560.6S474.8,556 466.8,555.7S450.8,556.4 442.7,558.3S426.7,562.7 418.6,565.3S402.6,570.3 394.6,572S378.5,574.7 370.5,575S354.4,575.1 346.4,574.4S330.3,572.8 322.3,571.6S306.2,569.2 298.2,567.9S282.2,565.5 274.1,564.8S258.1,563.8 250.1,564.4S234,566.4 226,569.1S209.9,575.7 201.9,581.3C197.9,584.1 193.9,587.4 189.8,591C187.8,592.9 185.8,594.8 183.8,596.9S179.8,601.2 177.8,603.5Z" fill="#f57145" stroke="#f57145"/>
<path d="M177.8,603.5C179.8,601.2 181.8,599 183.8,596.9S187.8,592.9 189.8,591C193.9,587.4 197.9,584.1 201.9,581.3C209.9,575.7 217.9,571.8 226,569.1S242,565 250.1,564.4S266.1,564 274.1,564.8S290.2,566.7 298.2,567.9S314.3,570.5 322.3,571.6S338.4,573.8 346.4,574.4S362.4,575.3 370.5,575S386.5,573.8 394.6,572S410.6,567.8 418.6,565.3S434.7,560.1 442.7,558.3S458.8,555.3 466.8,555.7S482.9,557.9 490.9,560.6S507,566.9 515,570.8S531,578.6 539.1,581.1S555.1,584.6 563.2,582.3S579.2,574.4 587.2,568S603.3,554.4 611.3,548.9S627.4,539.7 635.4,537.6S651.5,535.1 659.5,536.4S675.5,540.8 683.6,545.6S699.6,556.9 707.7,562.2S723.7,571.6 731.7,571.5S747.8,567.1 755.8,550.1C759.8,541.6 763.9,529.9 767.9,516.9S775.9,489.7 779.9,475.8S787.9,448.1 792,434.4S800,406.8 804,393.1S812,365.7 816,351.9S824.1,324.2 828.1,310.6S836.1,283.8 840.1,271.4S848.1,247.4 852.2,237.1S860.2,218 864.2,210.8S872.2,198.2 876.2,195.4S884.3,192.6 888.3,195.7S896.3,204.8 900.3,214S908.4,235.1 912.4,250.8S920.4,288.5 924.4,314.4S932.4,365.2 936.5,392.4S944.5,449.8 948.5,488.4L948.5,489.7C944.5,449 940.5,418 936.5,390.4S928.4,337.3 924.4,310.5S916.4,261 912.4,245.2S904.3,217.5 900.3,208.3S892.3,192.9 888.3,189.7S880.3,186.3 876.2,188.8S868.2,196.6 864.2,203.7S856.2,219.9 852.2,230.3S844.1,252.5 840.1,265.1S832.1,291.1 828.1,304.7S820,332.2 816,345.7S808,372.5 804,385.8S796,412.5 792,426S783.9,453.1 779.9,467.2S771.9,496 767.9,509.7S759.8,535.7 755.8,544.6C747.8,562.5 739.8,566.6 731.7,566.7S715.7,562.7 707.7,557.5S691.6,545.8 683.6,541.2S667.5,533.6 659.5,532.4S643.4,531.7 635.4,534S619.3,540.3 611.3,546S595.3,559.2 587.2,565.8S571.2,578.2 563.2,580.5S547.1,581.8 539.1,579.1S523,572.1 515,568S498.9,560.2 490.9,557.3S474.8,552.5 466.8,552S450.8,552.6 442.7,554.5S426.7,558.9 418.6,561.5S402.6,566.6 394.6,568.4S378.5,571.1 370.5,571.5S354.4,571.8 346.4,571.2S330.3,569.8 322.3,568.7S306.2,566.5 298.2,565.3S282.2,563.1 274.1,562.4S258.1,561.6 250.1,562.4S234,564.7 226,567.6S209.9,574.6 201.9,580.5C197.9,583.4 193.9,586.7 189.8,590.6C187.8,592.5 185.8,594.5 183.8,596.7S179.8,601.1 177.8,603.5Z" fill="#f67c4a" stroke="#f67c4a"/>
<path d="M177.8,603.5C179.8,601.1 181.8,598.8 183.8,596.7S187.8,592.5 189.8,590.6C193.9,586.7 197.9,583.4 201.9,580.5C209.9,574.6 217.9,570.4 226,567.6S242,563.1 250.1,562.4S266.1,561.8 274.1,562.4S290.2,564.1 298.2,565.3S314.3,567.7 322.3,568.7S338.4,570.7 346.4,571.2S362.4,571.9 370.5,571.5S386.5,570.1 394.6,568.4S410.6,564 418.6,561.5S434.7,556.3 442.7,554.5S458.8,551.6 466.8,552S482.9,554.5 490.9,557.3S507,564 515,568S531,576.4 539.1,579.1S555.1,582.9 563.2,580.5S579.2,572.4 587.2,565.8S603.3,551.7 611.3,546S627.4,536.3 635.4,534S651.5,531.2 659.5,532.4S675.5,536.5 683.6,541.2S699.6,552.2 707.7,557.5S723.7,566.7 731.7,566.7S747.8,562.5 755.8,544.6C759.8,535.7 763.9,523.3 767.9,509.7S775.9,481.3 779.9,467.2S787.9,439.5 792,426S800,399.2 804,385.8S812,359.2 816,345.7S824.1,318.3 828.1,304.7S836.1,277.7 840.1,265.1S848.1,240.7 852.2,230.3S860.2,210.9 864.2,203.7S872.2,191.4 876.2,188.8S884.3,186.5 888.3,189.7S896.3,199.1 900.3,208.3S908.4,229.5 912.4,245.2S920.4,283.7 924.4,310.5S932.4,362.7 936.5,390.4S944.5,449 948.5,489.7L948.5,491C944.5,448.3 940.5,416.5 936.5,388.3S928.4,334.3 924.4,306.6S916.4,255.6 912.4,239.7S904.3,211.9 900.3,202.7S892.3,187.1 888.3,183.7S880.3,179.9 876.2,182.2S868.2,189.6 864.2,196.7S856.2,212.9 852.2,223.5S844.1,246 840.1,258.8S832.1,285.1 828.1,298.7S820,326.2 816,339.5S808,365.7 804,378.6S796,404.4 792,417.6S783.9,444.3 779.9,458.6S771.9,488.1 767.9,502.4S759.8,529.7 755.8,539.1C747.8,557.9 739.8,561.8 731.7,561.8S715.7,557.8 707.7,552.7S691.6,541.3 683.6,536.7S667.5,529.4 659.5,528.3S643.4,528 635.4,530.4S619.3,537.1 611.3,543.1S595.3,556.8 587.2,563.6S571.2,576.4 563.2,578.8S547.1,579.9 539.1,577S523,569.6 515,565.3S498.9,557.1 490.9,554.1S474.8,548.9 466.8,548.4S450.8,548.9 442.7,550.7S426.7,555.1 418.6,557.7S402.6,562.9 394.6,564.7S378.5,567.6 370.5,568.1S354.4,568.5 346.4,568S330.3,566.8 322.3,565.8S306.2,563.7 298.2,562.7S282.2,560.6 274.1,560.1S258.1,559.5 250.1,560.4S234,563 226,566S209.9,573.4 201.9,579.6C197.9,582.6 193.9,586.1 189.8,590.1C187.8,592.1 185.8,594.2 183.8,596.4S179.8,601 177.8,603.5Z" fill="#f8884f" stroke="#f8884f"/>
<path d="M177.8,603.5C179.8,601 181.8,598.7 183.8,596.4S187.8,592.1 189.8,590.1C193.9,586.1 197.9,582.6 201.9,579.6C209.9,573.4 217.9,569.1 226,566S242,561.2 250.1,560.4S266.1,559.6 274.1,560.1S290.2,561.6 298.2,562.7S314.3,564.8 322.3,565.8S338.4,567.6 346.4,568S362.4,568.5 370.5,568.1S386.5,566.5 394.6,564.7S410.6,560.3 418.6,557.7S434.7,552.5 442.7,550.7S458.8,547.8 466.8,548.4S482.9,551 490.9,554.1S507,561.1 515,565.3S531,574.1 539.1,577S555.1,581.1 563.2,578.8S579.2,570.5 587.2,563.6S603.3,549 611.3,543.1S627.4,532.9 635.4,530.4S651.5,527.3 659.5,528.3S675.5,532.2 683.6,536.7S699.6,547.5 707.7,552.7S723.7,561.8 731.7,561.8S747.8,557.9 755.8,539.1C759.8,529.7 763.9,516.6 767.9,502.4S775.9,472.8 779.9,458.6S787.9,430.8 792,417.6S800,391.5 804,378.6S812,352.8 816,339.5S824.1,312.4 828.1,298.7S836.1,271.5 840.1,258.8S848.1,234 852.2,223.5S860.2,203.7 864.2,196.7S872.2,184.5 876.2,182.2S884.3,180.4 888.3,183.7S896.3,193.4 900.3,202.7S908.4,223.8 912.4,239.7S920.4,278.9 924.4,306.6S932.4,360.1 936.5,388.3S944.5,448.3 948.5,491L948.5,492.2C944.5,446.6 940.5,414.4 936.5,386.3S928.4,332.8 924.4,305.3S916.4,254.8 912.4,239.2S904.3,211.7 900.3,202.5S892.3,187 888.3,183.6S880.3,179.8 876.2,182S868.2,189.3 864.2,196.4S856.2,212.6 852.2,223.1S844.1,245.6 840.1,258.3S832.1,284.4 828.1,298S820,325.2 816,338.4S808,364.3 804,377.1S796,402.8 792,416.3S783.9,443.6 779.9,457.7S771.9,486.2 767.9,499.2S759.8,523.9 755.8,532.6C747.8,550 739.8,555.6 731.7,556.5S715.7,553.7 707.7,548.5S691.6,536.8 683.6,532.1S667.5,524.8 659.5,524S643.4,524.1 635.4,526.9S619.3,534.1 611.3,540.2S595.3,554.1 587.2,561S571.2,573.9 563.2,576.6S547.1,577.2 539.1,573.9S523,567.2 515,563.2S498.9,554.6 490.9,551.1S474.8,545.5 466.8,544.9S450.8,545.4 442.7,547.2S426.7,551.6 418.6,554.2S402.6,559.2 394.6,561S378.5,563.8 370.5,564.3S354.4,564.8 346.4,564.4S330.3,563.4 322.3,562.5S306.2,560.7 298.2,559.7S282.2,557.8 274.1,557.4S258.1,557 250.1,557.9S234,560.8 226,564S209.9,571.9 201.9,578.4C197.9,581.6 193.9,585.3 189.8,589.5C187.8,591.6 185.8,593.8 183.8,596.1S179.8,601 177.8,603.6Z" fill="#fecf80" stroke="#fecf80"/>
<path d="M177.8,603.6C179.8,601 181.8,598.5 183.8,596.1S187.8,591.6 189.8,589.5C193.9,585.3 197.9,581.6 201.9,578.4C209.9,571.9 217.9,567.3 226,564S242,558.9 250.1,557.9S266.1,556.9 274.1,557.4S290.2,558.7 298.2,559.7S314.3,561.7 322.3,562.5S338.4,564.1 346.4,564.4S362.4,564.8 370.5,564.3S386.5,562.7 394.6,561S410.6,556.7 418.6,554.2S434.7,549 442.7,547.2S458.8,544.3 466.8,544.9S482.9,547.7 490.9,551.1S507,559.2 515,563.2S531,570.6 539.1,573.9S555.1,579.3 563.2,576.6S579.2,567.9 587.2,561S603.3,546.3 611.3,540.2S627.4,529.6 635.4,526.9S651.5,523.1 659.5,524S675.5,527.5 683.6,532.1S699.6,543.3 707.7,548.5S723.7,557.5 731.7,556.5S747.8,550 755.8,532.6C759.8,523.9 763.9,512.2 767.9,499.2S775.9,471.8 779.9,457.7S787.9,429.7 792,416.3S800,389.9 804,377.1S812,351.6 816,338.4S824.1,311.6 828.1,298S836.1,271 840.1,258.3S848.1,233.6 852.2,223.1S860.2,203.5 864.2,196.4S872.2,184.3 876.2,182S884.3,180.3 888.3,183.6S896.3,193.3 900.3,202.5S908.4,223.5 912.4,239.2S920.4,277.8 924.4,305.3S932.4,358.2 936.5,386.3S944.5,446.6 948.5,492.2L948.5,493.5C944.5,445 940.5,412.2 936.5,384.3S928.4,331.2 924.4,303.9S916.4,254.1 912.4,238.7S904.3,211.6 900.3,202.4S892.3,187 888.3,183.6S880.3,179.6 876.2,181.9S868.2,189.1 864.2,196.1S856.2,212.2 852.2,222.7S844.1,245.1 840.1,257.8S832.1,283.8 828.1,297.3S820,324.3 816,337.3S808,362.9 804,375.6S796,401.3 792,415S783.9,442.9 779.9,456.9S771.9,484.3 767.9,496.1S759.8,518 755.8,526C747.8,542 739.8,549.4 731.7,551.2S715.7,549.5 707.7,544.3S691.6,532.3 683.6,527.5S667.5,520.3 659.5,519.6S643.4,520.3 635.4,523.3S619.3,531.1 611.3,537.4S595.3,551.4 587.2,558.4S571.2,571.5 563.2,574.4S547.1,574.6 539.1,570.9S523,564.9 515,561.1S498.9,552 490.9,548.2S474.8,542.1 466.8,541.5S450.8,541.9 442.7,543.7S426.7,548.1 418.6,550.6S402.6,555.5 394.6,557.3S378.5,560 370.5,560.6S354.4,561.2 346.4,560.9S330.3,560 322.3,559.3S306.2,557.6 298.2,556.7S282.2,555 274.1,554.6S258.1,554.4 250.1,555.5S234,558.6 226,562.1S209.9,570.4 201.9,577.2C197.9,580.6 193.9,584.5 189.8,588.9C187.8,591.1 185.8,593.4 183.8,595.9S179.8,601 177.8,603.7Z" fill="#fed586" stroke="#fed586"/>
<path d="M177.8,603.7C179.8,601 181.8,598.3 183.8,595.9S187.8,591.1 189.8,588.9C193.9,584.5 197.9,580.6 201.9,577.2C209.9,570.4 217.9,565.5 226,562.1S242,556.6 250.1,555.5S266.1,554.3 274.1,554.6S290.2,555.9 298.2,556.7S314.3,558.5 322.3,559.3S338.4,560.6 346.4,560.9S362.4,561.1 370.5,560.6S386.5,559 394.6,557.3S410.6,553.1 418.6,550.6S434.7,545.5 442.7,543.7S458.8,540.8 466.8,541.5S482.9,544.4 490.9,548.2S507,557.3 515,561.1S531,567.2 539.1,570.9S555.1,577.4 563.2,574.4S579.2,565.3 587.2,558.4S603.3,543.6 611.3,537.4S627.4,526.3 635.4,523.3S651.5,519 659.5,519.6S675.5,522.8 683.6,527.5S699.6,539.1 707.7,544.3S723.7,553.1 731.7,551.2S747.8,542 755.8,526C759.8,518 763.9,507.8 767.9,496.1S775.9,470.8 779.9,456.9S787.9,428.7 792,415S800,388.4 804,375.6S812,350.4 816,337.3S824.1,310.8 828.1,297.3S836.1,270.4 840.1,257.8S848.1,233.2 852.2,222.7S860.2,203.2 864.2,196.1S872.2,184.1 876.2,181.9S884.3,180.2 888.3,183.6S896.3,193.2 900.3,202.4S908.4,223.3 912.4,238.7S920.4,276.7 924.4,303.9S932.4,356.3 936.5,384.3S944.5,445 948.5,493.5L948.5,494.7C944.5,443.4 940.5,410.1 936.5,382.2S928.4,329.7 924.4,302.6S916.4,253.4 912.4,238.2S904.3,211.4 900.3,202.3S892.3,186.9 888.3,183.5S880.3,179.5 876.2,181.7S868.2,188.9 864.2,195.9S856.2,211.9 852.2,222.4S844.1,244.7 840.1,257.2S832.1,283.1 828.1,296.5S820,323.4 816,336.3S808,361.5 804,374.2S796,399.8 792,413.7S783.9,442.2 779.9,456S771.9,482.4 767.9,493S759.8,512.2 755.8,519.5C747.8,534.1 739.8,543.1 731.7,545.9S715.7,545.4 707.7,540.2S691.6,527.8 683.6,523S667.5,515.7 659.5,515.3S643.4,516.5 635.4,519.8S619.3,528.1 611.3,534.5S595.3,548.7 587.2,555.7S571.2,569 563.2,572.3S547.1,571.9 539.1,567.8S523,562.5 515,559S498.9,549.5 490.9,545.3S474.8,538.7 466.8,538S450.8,538.4 442.7,540.2S426.7,544.7 418.6,547.1S402.6,551.9 394.6,553.5S378.5,556.2 370.5,556.8S354.4,557.5 346.4,557.3S330.3,556.6 322.3,556S306.2,554.6 298.2,553.8S282.2,552.2 274.1,551.9S258.1,551.8 250.1,553S234,556.4 226,560.1S209.9,568.9 201.9,576.1C197.9,579.6 193.9,583.7 189.8,588.3C187.8,590.6 185.8,593 183.8,595.6S179.8,600.9 177.8,603.8Z" fill="#fedc8c" stroke="#fedc8c"/>
<path d="M177.8,603.8C179.8,600.9 181.8,598.2 183.8,595.6S187.8,590.6 189.8,588.3C193.9,583.7 197.9,579.6 201.9,576.1C209.9,568.9 217.9,563.8 226,560.1S242,554.3 250.1,553S266.1,551.6 274.1,551.9S290.2,553 298.2,553.8S314.3,555.4 322.3,556S338.4,557.1 346.4,557.3S362.4,557.4 370.5,556.8S386.5,555.2 394.6,553.5S410.6,549.6 418.6,547.1S434.7,542.1 442.7,540.2S458.8,537.3 466.8,538S482.9,541.1 490.9,545.3S507,555.4 515,559S531,563.7 539.1,567.8S555.1,575.5 563.2,572.3S579.2,562.8 587.2,555.7S603.3,540.9 611.3,534.5S627.4,523.1 635.4,519.8S651.5,514.9 659.5,515.3S675.5,518.2 683.6,523S699.6,534.9 707.7,540.2S723.7,548.8 731.7,545.9S747.8,534.1 755.8,519.5C759.8,512.2 763.9,503.5 767.9,493S775.9,469.8 779.9,456S787.9,427.6 792,413.7S800,386.8 804,374.2S812,349.2 816,336.3S824.1,309.9 828.1,296.5S836.1,269.8 840.1,257.2S848.1,232.8 852.2,222.4S860.2,202.9 864.2,195.9S872.2,183.9 876.2,181.7S884.3,180 888.3,183.5S896.3,193.2 900.3,202.3S908.4,223 912.4,238.2S920.4,275.5 924.4,302.6S932.4,354.3 936.5,382.2S944.5,443.4 948.5,494.7L948.5,496C944.5,441.8 940.5,408 936.5,380.2S928.4,328.1 924.4,301.2S916.4,252.7 912.4,237.7S904.3,211.2 900.3,202.1S892.3,186.8 888.3,183.4S880.3,179.3 876.2,181.5S868.2,188.6 864.2,195.6S856.2,211.6 852.2,222S844.1,244.2 840.1,256.7S832.1,282.5 828.1,295.8S820,322.5 816,335.2S808,360.2 804,372.7S796,398.3 792,412.4S783.9,441.5 779.9,455.2S771.9,480.6 767.9,489.8S759.8,506.3 755.8,512.9C747.8,526.1 739.8,536.9 731.7,540.6S715.7,541.3 707.7,536S691.6,523.3 683.6,518.4S667.5,511.1 659.5,510.9S643.4,512.6 635.4,516.2S619.3,525.1 611.3,531.7S595.3,546 587.2,553.1S571.2,566.5 563.2,570.1S547.1,569.2 539.1,564.7S523,560.2 515,556.9S498.9,546.9 490.9,542.3S474.8,535.3 466.8,534.5S450.8,534.9 442.7,536.7S426.7,541.2 418.6,543.6S402.6,548.2 394.6,549.8S378.5,552.5 370.5,553.1S354.4,553.9 346.4,553.8S330.3,553.3 322.3,552.7S306.2,551.5 298.2,550.8S282.2,549.4 274.1,549.2S258.1,549.3 250.1,550.6S234,554.3 226,558.1S209.9,567.4 201.9,574.9C197.9,578.6 193.9,582.9 189.8,587.7C187.8,590.1 185.8,592.6 183.8,595.3S179.8,600.9 177.8,603.9Z" fill="#fee192" stroke="#fee192"/>
<path d="M177.8,603.9C179.8,600.9 181.8,598 183.8,595.3S187.8,590.1 189.8,587.7C193.9,582.9 197.9,578.6 201.9,574.9C209.9,567.4 217.9,562 226,558.1S242,551.9 250.1,550.6S266.1,549 274.1,549.2S290.2,550.1 298.2,550.8S314.3,552.2 322.3,552.7S338.4,553.7 346.4,553.8S362.4,553.7 370.5,553.1S386.5,551.4 394.6,549.8S410.6,546 418.6,543.6S434.7,538.6 442.7,536.7S458.8,533.8 466.8,534.5S482.9,537.8 490.9,542.3S507,553.5 515,556.9S531,560.2 539.1,564.7S555.1,573.7 563.2,570.1S579.2,560.2 587.2,553.1S603.3,538.2 611.3,531.7S627.4,519.8 635.4,516.2S651.5,510.7 659.5,510.9S675.5,513.5 683.6,518.4S699.6,530.7 707.7,536S723.7,544.4 731.7,540.6S747.8,526.1 755.8,512.9C759.8,506.3 763.9,499.1 767.9,489.8S775.9,468.8 779.9,455.2S787.9,426.6 792,412.4S800,385.3 804,372.7S812,348 816,335.2S824.1,309.1 828.1,295.8S836.1,269.2 840.1,256.7S848.1,232.4 852.2,222S860.2,202.6 864.2,195.6S872.2,183.7 876.2,181.5S884.3,179.9 888.3,183.4S896.3,193.1 900.3,202.1S908.4,222.7 912.4,237.7S920.4,274.4 924.4,301.2S932.4,352.4 936.5,380.2S944.5,441.8 948.5,496L948.5,497.2C944.5,440.2 940.5,405.8 936.5,378.1S928.4,326.5 924.4,299.9S916.4,252 912.4,237.2S904.3,211 900.3,202S892.3,186.8 888.3,183.3S880.3,179.2 876.2,181.4S868.2,188.4 864.2,195.3S856.2,211.3 852.2,221.6S844.1,243.7 840.1,256.2S832.1,281.8 828.1,295.1S820,321.5 816,334.2S808,358.8 804,371.2S796,396.7 792,411.1S783.9,440.9 779.9,454.3S771.9,478.7 767.9,486.7S759.8,500.4 755.8,506.3C747.8,518.2 739.8,530.6 731.7,535.3S715.7,537.1 707.7,531.8S691.6,518.8 683.6,513.8S667.5,506.6 659.5,506.6S643.4,508.8 635.4,512.7S619.3,522.1 611.3,528.8S595.3,543.3 587.2,550.5S571.2,564 563.2,567.9S547.1,566.5 539.1,561.6S523,557.8 515,554.7S498.9,544.4 490.9,539.4S474.8,531.8 466.8,531.1S450.8,531.4 442.7,533.3S426.7,537.7 418.6,540.1S402.6,544.5 394.6,546.1S378.5,548.7 370.5,549.3S354.4,550.2 346.4,550.2S330.3,549.9 322.3,549.5S306.2,548.4 298.2,547.8S282.2,546.6 274.1,546.5S258.1,546.7 250.1,548.2S234,552.1 226,556.2S209.9,565.9 201.9,573.7C197.9,577.6 193.9,582 189.8,587.1C187.8,589.6 185.8,592.2 183.8,595.1S179.8,600.9 177.8,604Z" fill="#fff1aa" stroke="#fff1aa"/>
<path d="M177.8,604C179.8,600.9 181.8,597.9 183.8,595.1S187.8,589.6 189.8,587.1C193.9,582 197.9,577.6 201.9,573.7C209.9,565.9 217.9,560.3 226,556.2S242,549.6 250.1,548.2S266.1,546.3 274.1,546.5S290.2,547.2 298.2,547.8S314.3,549 322.3,549.5S338.4,550.2 346.4,550.2S362.4,550 370.5,549.3S386.5,547.7 394.6,546.1S410.6,542.4 418.6,540.1S434.7,535.1 442.7,533.3S458.8,530.3 466.8,531.1S482.9,534.4 490.9,539.4S507,551.7 515,554.7S531,556.7 539.1,561.6S555.1,571.8 563.2,567.9S579.2,557.6 587.2,550.5S603.3,535.5 611.3,528.8S627.4,516.5 635.4,512.7S651.5,506.6 659.5,506.6S675.5,508.8 683.6,513.8S699.6,526.5 707.7,531.8S723.7,540 731.7,535.3S747.8,518.2 755.8,506.3C759.8,500.4 763.9,494.7 767.9,486.7S775.9,467.8 779.9,454.3S787.9,425.5 792,411.1S800,383.7 804,371.2S812,346.8 816,334.2S824.1,308.3 828.1,295.1S836.1,268.7 840.1,256.2S848.1,232 852.2,221.6S860.2,202.3 864.2,195.3S872.2,183.5 876.2,181.4S884.3,179.8 888.3,183.3S896.3,193 900.3,202S908.4,222.4 912.4,237.2S920.4,273.3 924.4,299.9S932.4,350.5 936.5,378.1S944.5,440.2 948.5,497.2L948.5,498.5C944.5,438.6 940.5,403.7 936.5,376.1S928.4,325 924.4,298.6S916.4,251.3 912.4,236.7S904.3,210.8 900.3,201.9S892.3,186.7 888.3,183.2S880.3,179.1 876.2,181.2S868.2,188.2 864.2,195.1S856.2,210.9 852.2,221.3S844.1,243.3 840.1,255.7S832.1,281.2 828.1,294.3S820,320.6 816,333.1S808,357.4 804,369.8S796,395.2 792,409.8S783.9,440.2 779.9,453.5S771.9,476.8 767.9,483.5S759.8,494.6 755.8,499.8C747.8,510.2 739.8,524.4 731.7,530S715.7,533 707.7,527.7S691.6,514.3 683.6,509.2S667.5,502 659.5,502.2S643.4,504.9 635.4,509.1S619.3,519.1 611.3,526S595.3,540.6 587.2,547.8S571.2,561.6 563.2,565.8S547.1,563.8 539.1,558.6S523,555.5 515,552.6S498.9,541.8 490.9,536.5S474.8,528.4 466.8,527.6S450.8,527.9 442.7,529.8S426.7,534.3 418.6,536.6S402.6,540.9 394.6,542.4S378.5,544.9 370.5,545.6S354.4,546.6 346.4,546.7S330.3,546.5 322.3,546.2S306.2,545.4 298.2,544.9S282.2,543.8 274.1,543.7S258.1,544.2 250.1,545.7S234,549.9 226,554.2S209.9,564.4 201.9,572.6C197.9,576.6 193.9,581.2 189.8,586.5C187.8,589.1 185.8,591.8 183.8,594.8S179.8,600.8 177.8,604.1Z" fill="#fff5b0" stroke="#fff5b0"/>
<path d="M177.8,604.1C179.8,600.8 181.8,597.7 183.8,594.8S187.8,589.1 189.8,586.5C193.9,581.2 197.9,576.6 201.9,572.6C209.9,564.4 217.9,558.5 226,554.2S242,547.3 250.1,545.7S266.1,543.7 274.1,543.7S290.2,544.3 298.2,544.9S314.3,545.9 322.3,546.2S338.4,546.7 346.4,546.7S362.4,546.3 370.5,545.6S386.5,543.9 394.6,542.4S410.6,538.9 418.6,536.6S434.7,531.6 442.7,529.8S458.8,526.8 466.8,527.6S482.9,531.1 490.9,536.5S507,549.8 515,552.6S531,553.3 539.1,558.6S555.1,569.9 563.2,565.8S579.2,555 587.2,547.8S603.3,532.8 611.3,526S627.4,513.3 635.4,509.1S651.5,502.4 659.5,502.2S675.5,504.1 683.6,509.2S699.6,522.3 707.7,527.7S723.7,535.7 731.7,530S747.8,510.2 755.8,499.8C759.8,494.6 763.9,490.3 767.9,483.5S775.9,466.7 779.9,453.5S787.9,424.5 792,409.8S800,382.1 804,369.8S812,345.6 816,333.1S824.1,307.4 828.1,294.3S836.1,268.1 840.1,255.7S848.1,231.6 852.2,221.3S860.2,202 864.2,195.1S872.2,183.3 876.2,181.2S884.3,179.7 888.3,183.2S896.3,193 900.3,201.9S908.4,222.1 912.4,236.7S920.4,272.1 924.4,298.6S932.4,348.5 936.5,376.1S944.5,438.6 948.5,498.5L948.5,499.7C944.5,437 940.5,401.5 936.5,374.1S928.4,323.4 924.4,297.2S916.4,250.5 912.4,236.2S904.3,210.6 900.3,201.8S892.3,186.6 888.3,183.1S880.3,178.9 876.2,181S868.2,187.9 864.2,194.8S856.2,210.6 852.2,220.9S844.1,242.8 840.1,255.2S832.1,280.5 828.1,293.6S820,319.7 816,332S808,356 804,368.3S796,393.7 792,408.6S783.9,439.5 779.9,452.6S771.9,474.9 767.9,480.4S759.8,488.7 755.8,493.2C747.8,502.3 739.8,518.2 731.7,524.7S715.7,528.9 707.7,523.5S691.6,509.8 683.6,504.6S667.5,497.5 659.5,497.9S643.4,501.1 635.4,505.6S619.3,516.1 611.3,523.1S595.3,538 587.2,545.2S571.2,559.1 563.2,563.6S547.1,561.2 539.1,555.5S523,553.1 515,550.5S498.9,539.3 490.9,533.5S474.8,525 466.8,524.2S450.8,524.4 442.7,526.3S426.7,530.8 418.6,533.1S402.6,537.2 394.6,538.7S378.5,541.2 370.5,541.9S354.4,543 346.4,543.1S330.3,543.2 322.3,542.9S306.2,542.3 298.2,541.9S282.2,541 274.1,541S258.1,541.6 250.1,543.3S234,547.8 226,552.3S209.9,562.9 201.9,571.4C197.9,575.6 193.9,580.4 189.8,585.9C187.8,588.6 185.8,591.5 183.8,594.5S179.8,600.8 177.8,604.2Z" fill="#fff9b6" stroke="#fff9b6"/>
<path d="M177.8,604.2C179.8,600.8 181.8,597.6 183.8,594.5S187.8,588.6 189.8,585.9C193.9,580.4 197.9,575.6 201.9,571.4C209.9,562.9 217.9,556.7 226,552.3S242,545 250.1,543.3S266.1,541 274.1,541S290.2,541.5 298.2,541.9S314.3,542.7 322.3,542.9S338.4,543.3 346.4,543.1S362.4,542.6 370.5,541.9S386.5,540.1 394.6,538.7S410.6,535.3 418.6,533.1S434.7,528.2 442.7,526.3S458.8,523.3 466.8,524.2S482.9,527.8 490.9,533.5S507,547.9 515,550.5S531,549.8 539.1,555.5S555.1,568.1 563.2,563.6S579.2,552.5 587.2,545.2S603.3,530.1 611.3,523.1S627.4,510 635.4,505.6S651.5,498.3 659.5,497.9S675.5,499.5 683.6,504.6S699.6,518.1 707.7,523.5S723.7,531.3 731.7,524.7S747.8,502.3 755.8,493.2C759.8,488.7 763.9,485.9 767.9,480.4S775.9,465.7 779.9,452.6S787.9,423.4 792,408.6S800,380.6 804,368.3S812,344.4 816,332S824.1,306.6 828.1,293.6S836.1,267.5 840.1,255.2S848.1,231.2 852.2,220.9S860.2,201.7 864.2,194.8S872.2,183.1 876.2,181S884.3,179.6 888.3,183.1S896.3,192.9 900.3,201.8S908.4,221.9 912.4,236.2S920.4,271 924.4,297.2S932.4,346.6 936.5,374.1S944.5,437 948.5,499.7L948.5,501C944.5,435.4 940.5,399.4 936.5,372S928.4,321.8 924.4,295.9S916.4,249.8 912.4,235.7S904.3,210.5 900.3,201.6S892.3,186.6 888.3,183.1S880.3,178.8 876.2,180.8S868.2,187.7 864.2,194.6S856.2,210.3 852.2,220.5S844.1,242.4 840.1,254.7S832.1,279.9 828.1,292.8S820,318.7 816,331S808,354.6 804,366.8S796,392.1 792,407.3S783.9,438.8 779.9,451.8S771.9,473 767.9,477.3S759.8,482.9 755.8,486.7C747.8,494.3 739.8,511.9 731.7,519.4S715.7,524.7 707.7,519.3S691.6,505.3 683.6,500S667.5,492.9 659.5,493.5S643.4,497.3 635.4,502S619.3,513.1 611.3,520.2S595.3,535.3 587.2,542.6S571.2,556.6 563.2,561.4S547.1,558.5 539.1,552.4S523,550.8 515,548.4S498.9,536.7 490.9,530.6S474.8,521.6 466.8,520.7S450.8,520.9 442.7,522.8S426.7,527.3 418.6,529.5S402.6,533.5 394.6,534.9S378.5,537.4 370.5,538.1S354.4,539.3 346.4,539.6S330.3,539.8 322.3,539.7S306.2,539.3 298.2,538.9S282.2,538.2 274.1,538.3S258.1,539.1 250.1,540.9S234,545.6 226,550.3S209.9,561.4 201.9,570.2C197.9,574.6 193.9,579.6 189.8,585.2C187.8,588.1 185.8,591.1 183.8,594.2S179.8,600.7 177.8,604.3Z" fill="#fffdbc" stroke="#fffdbc"/>
<path d="M177.8,604.3C179.8,600.7 181.8,597.4 183.8,594.2S187.8,588.1 189.8,585.2C193.9,579.6 197.9,574.6 201.9,570.2C209.9,561.4 217.9,555 226,550.3S242,542.7 250.1,540.9S266.1,538.4 274.1,538.3S290.2,538.6 298.2,538.9S314.3,539.5 322.3,539.7S338.4,539.8 346.4,539.6S362.4,538.9 370.5,538.1S386.5,536.3 394.6,534.9S410.6,531.8 418.6,529.5S434.7,524.7 442.7,522.8S458.8,519.8 466.8,520.7S482.9,524.5 490.9,530.6S507,546 515,548.4S531,546.3 539.1,552.4S555.1,566.2 563.2,561.4S579.2,549.9 587.2,542.6S603.3,527.4 611.3,520.2S627.4,506.7 635.4,502S651.5,494.1 659.5,493.5S675.5,494.8 683.6,500S699.6,513.9 707.7,519.3S723.7,527 731.7,519.4S747.8,494.3 755.8,486.7C759.8,482.9 763.9,481.5 767.9,477.3S775.9,464.7 779.9,451.8S787.9,422.4 792,407.3S800,379 804,366.8S812,343.2 816,331S824.1,305.8 828.1,292.8S836.1,266.9 840.1,254.7S848.1,230.8 852.2,220.5S860.2,201.4 864.2,194.6S872.2,182.9 876.2,180.8S884.3,179.5 888.3,183.1S896.3,192.8 900.3,201.6S908.4,221.6 912.4,235.7S920.4,269.9 924.4,295.9S932.4,344.7 936.5,372S944.5,435.4 948.5,501L948.5,498.1C944.5,433.8 940.5,397.9 936.5,370.2S928.4,319.3 924.4,293.4S916.4,247.1 912.4,232.6S904.3,206.8 900.3,197.9S892.3,182.9 888.3,179.4S880.3,175.3 876.2,177.4S868.2,184.1 864.2,190.8S856.2,206.1 852.2,216.1S844.1,237.6 840.1,249.7S832.1,274.7 828.1,287.7S820,313.8 816,326.3S808,350.6 804,363.1S796,388.8 792,403.6S783.9,434.2 779.9,446.8S771.9,467.7 767.9,472.4S759.8,479.1 755.8,483.3C747.8,491.6 739.8,508.4 731.7,515.5S715.7,520.2 707.7,514.8S691.6,500.9 683.6,495.8S667.5,488.9 659.5,489.7S643.4,493.7 635.4,498.7S619.3,510.2 611.3,517.6S595.3,533.2 587.2,540.7S571.2,555.1 563.2,559.7S547.1,557.4 539.1,551.6S523,549.1 515,546.3S498.9,534.5 490.9,528.5S474.8,519.4 466.8,518.3S450.8,518.2 442.7,520S426.7,524.5 418.6,526.7S402.6,530.9 394.6,532.4S378.5,535 370.5,535.8S354.4,537 346.4,537.3S330.3,537.5 322.3,537.3S306.2,536.9 298.2,536.5S282.2,535.8 274.1,536S258.1,536.9 250.1,538.8S234,543.8 226,548.6S209.9,560.2 201.9,569.2C197.9,573.7 193.9,578.9 189.8,584.7C187.8,587.6 185.8,590.6 183.8,593.9S179.8,600.6 177.8,604.2Z" fill="#eaf7e6" stroke="#eaf7e6"/>
<path d="M177.8,604.2C179.8,600.6 181.8,597.1 183.8,593.9S187.8,587.6 189.8,584.7C193.9,578.9 197.9,573.7 201.9,569.2C209.9,560.2 217.9,553.5 226,548.6S242,540.7 250.1,538.8S266.1,536.2 274.1,536S290.2,536.2 298.2,536.5S314.3,537.2 322.3,537.3S338.4,537.5 346.4,537.3S362.4,536.6 370.5,535.8S386.5,533.9 394.6,532.4S410.6,529 418.6,526.7S434.7,521.8 442.7,520S458.8,517.3 466.8,518.3S482.9,522.5 490.9,528.5S507,543.4 515,546.3S531,545.9 539.1,551.6S555.1,564.3 563.2,559.7S579.2,548.2 587.2,540.7S603.3,525 611.3,517.6S627.4,503.6 635.4,498.7S651.5,490.5 659.5,489.7S675.5,490.7 683.6,495.8S699.6,509.4 707.7,514.8S723.7,522.6 731.7,515.5S747.8,491.6 755.8,483.3C759.8,479.1 763.9,477.1 767.9,472.4S775.9,459.4 779.9,446.8S787.9,418.4 792,403.6S800,375.5 804,363.1S812,338.8 816,326.3S824.1,300.7 828.1,287.7S836.1,261.9 840.1,249.7S848.1,226.2 852.2,216.1S860.2,197.4 864.2,190.8S872.2,179.4 876.2,177.4S884.3,176 888.3,179.4S896.3,189 900.3,197.9S908.4,218.1 912.4,232.6S920.4,267.5 924.4,293.4S932.4,342.6 936.5,370.2S944.5,433.8 948.5,498.1L948.5,495.3C944.5,432.2 940.5,396.4 936.5,368.4S928.4,316.7 924.4,290.9S916.4,244.4 912.4,229.5S904.3,203.1 900.3,194.2S892.3,179.2 888.3,175.8S880.3,171.9 876.2,173.9S868.2,180.4 864.2,186.9S856.2,201.9 852.2,211.7S844.1,232.8 840.1,244.8S832.1,269.6 828.1,282.6S820,308.8 816,321.6S808,346.6 804,359.3S796,385.4 792,399.9S783.9,429.6 779.9,441.8S771.9,462.4 767.9,467.5S759.8,475.4 755.8,479.9C747.8,488.9 739.8,505 731.7,511.6S715.7,515.7 707.7,510.3S691.6,496.5 683.6,491.5S667.5,484.9 659.5,485.9S643.4,490.2 635.4,495.3S619.3,507.3 611.3,515S595.3,531.2 587.2,538.9S571.2,553.5 563.2,557.9S547.1,556.2 539.1,550.8S523,547.4 515,544.1S498.9,532.3 490.9,526.4S474.8,517.2 466.8,515.9S450.8,515.5 442.7,517.3S426.7,521.6 418.6,523.9S402.6,528.3 394.6,529.9S378.5,532.7 370.5,533.5S354.4,534.7 346.4,534.9S330.3,535.1 322.3,535S306.2,534.5 298.2,534.2S282.2,533.5 274.1,533.7S258.1,534.7 250.1,536.7S234,542 226,547S209.9,558.9 201.9,568.2C197.9,572.9 193.9,578.1 189.8,584.1C187.8,587 185.8,590.2 183.8,593.5S179.8,600.4 177.8,604.1Z" fill="#e4f5f0" stroke="#e4f5f0"/>
<path d="M177.8,604.1C179.8,600.4 181.8,596.8 183.8,593.5S187.8,587 189.8,584.1C193.9,578.1 197.9,572.9 201.9,568.2C209.9,558.9 217.9,552 226,547S242,538.7 250.1,536.7S266.1,533.9 274.1,533.7S290.2,533.8 298.2,534.2S314.3,534.8 322.3,535S338.4,535.2 346.4,534.9S362.4,534.3 370.5,533.5S386.5,531.5 394.6,529.9S410.6,526.2 418.6,523.9S434.7,519 442.7,517.3S458.8,514.7 466.8,515.9S482.9,520.4 490.9,526.4S507,540.8 515,544.1S531,545.4 539.1,550.8S555.1,562.3 563.2,557.9S579.2,546.6 587.2,538.9S603.3,522.6 611.3,515S627.4,500.5 635.4,495.3S651.5,486.8 659.5,485.9S675.5,486.6 683.6,491.5S699.6,504.8 707.7,510.3S723.7,518.2 731.7,511.6S747.8,488.9 755.8,479.9C759.8,475.4 763.9,472.6 767.9,467.5S775.9,454 779.9,441.8S787.9,414.4 792,399.9S800,372.1 804,359.3S812,334.4 816,321.6S824.1,295.6 828.1,282.6S836.1,256.8 840.1,244.8S848.1,221.6 852.2,211.7S860.2,193.4 864.2,186.9S872.2,175.9 876.2,173.9S884.3,172.5 888.3,175.8S896.3,185.2 900.3,194.2S908.4,214.6 912.4,229.5S920.4,265.1 924.4,290.9S932.4,340.5 936.5,368.4S944.5,432.2 948.5,495.3L948.5,492.4C944.5,430.7 940.5,394.8 936.5,366.6S928.4,314.1 924.4,288.4S916.4,241.8 912.4,226.4S904.3,199.4 900.3,190.4S892.3,175.5 888.3,172.2S880.3,168.4 876.2,170.4S868.2,176.8 864.2,183.1S856.2,197.7 852.2,207.4S844.1,228 840.1,239.9S832.1,264.4 828.1,277.5S820,303.9 816,316.9S808,342.6 804,355.6S796,382 792,396.2S783.9,425 779.9,436.8S771.9,457.1 767.9,462.7S759.8,471.7 755.8,476.5C747.8,486.2 739.8,501.5 731.7,507.7S715.7,511.2 707.7,505.7S691.6,492.1 683.6,487.3S667.5,481 659.5,482S643.4,486.7 635.4,492S619.3,504.4 611.3,512.3S595.3,529.1 587.2,537.1S571.2,551.9 563.2,556.1S547.1,555.1 539.1,550.1S523,545.7 515,542S498.9,530.1 490.9,524.2S474.8,515 466.8,513.6S450.8,512.9 442.7,514.5S426.7,518.7 418.6,521.1S402.6,525.7 394.6,527.4S378.5,530.3 370.5,531.1S354.4,532.4 346.4,532.6S330.3,532.8 322.3,532.6S306.2,532.1 298.2,531.8S282.2,531.1 274.1,531.4S258.1,532.5 250.1,534.7S234,540.1 226,545.4S209.9,557.7 201.9,567.2C197.9,572 193.9,577.4 189.8,583.5C187.8,586.5 185.8,589.8 183.8,593.2S179.8,600.2 177.8,603.9Z" fill="#def2f7" stroke="#def2f7"/>
<path d="M177.8,603.9C179.8,600.2 181.8,596.6 183.8,593.2S187.8,586.5 189.8,583.5C193.9,577.4 197.9,572 201.9,567.2C209.9,557.7 217.9,550.6 226,545.4S242,536.8 250.1,534.7S266.1,531.7 274.1,531.4S290.2,531.4 298.2,531.8S314.3,532.4 322.3,532.6S338.4,532.8 346.4,532.6S362.4,532 370.5,531.1S386.5,529.1 394.6,527.4S410.6,523.5 418.6,521.1S434.7,516.1 442.7,514.5S458.8,512.2 466.8,513.6S482.9,518.4 490.9,524.2S507,538.2 515,542S531,545 539.1,550.1S555.1,560.3 563.2,556.1S579.2,545 587.2,537.1S603.3,520.3 611.3,512.3S627.4,497.3 635.4,492S651.5,483.1 659.5,482S675.5,482.4 683.6,487.3S699.6,500.3 707.7,505.7S723.7,513.8 731.7,507.7S747.8,486.2 755.8,476.5C759.8,471.7 763.9,468.2 767.9,462.7S775.9,448.7 779.9,436.8S787.9,410.4 792,396.2S800,368.6 804,355.6S812,330 816,316.9S824.1,290.5 828.1,277.5S836.1,251.7 840.1,239.9S848.1,217 852.2,207.4S860.2,189.5 864.2,183.1S872.2,172.4 876.2,170.4S884.3,168.9 888.3,172.2S896.3,181.5 900.3,190.4S908.4,211.1 912.4,226.4S920.4,262.7 924.4,288.4S932.4,338.4 936.5,366.6S944.5,430.7 948.5,492.4L948.5,489.6C944.5,429.1 940.5,393.3 936.5,364.8S928.4,311.5 924.4,285.9S916.4,239.1 912.4,223.4S904.3,195.7 900.3,186.7S892.3,171.8 888.3,168.6S880.3,165 876.2,166.9S868.2,173.2 864.2,179.3S856.2,193.5 852.2,203S844.1,223.2 840.1,234.9S832.1,259.3 828.1,272.3S820,298.9 816,312.3S808,338.6 804,351.9S796,378.6 792,392.5S783.9,420.3 779.9,431.8S771.9,451.8 767.9,457.8S759.8,467.9 755.8,473.1C747.8,483.4 739.8,498 731.7,503.7S715.7,506.6 707.7,501.2S691.6,487.7 683.6,483S667.5,477 659.5,478.2S643.4,483.2 635.4,488.7S619.3,501.5 611.3,509.7S595.3,527.1 587.2,535.2S571.2,550.4 563.2,554.4S547.1,554 539.1,549.3S523,544 515,539.8S498.9,527.9 490.9,522.1S474.8,512.8 466.8,511.2S450.8,510.2 442.7,511.7S426.7,515.8 418.6,518.2S402.6,523.1 394.6,524.9S378.5,527.9 370.5,528.8S354.4,530.1 346.4,530.3S330.3,530.5 322.3,530.3S306.2,529.7 298.2,529.4S282.2,528.8 274.1,529.1S258.1,530.4 250.1,532.6S234,538.3 226,543.7S209.9,556.4 201.9,566.2C197.9,571.1 193.9,576.6 189.8,582.9C187.8,586 185.8,589.3 183.8,592.8S179.8,600 177.8,603.8Z" fill="#d5edf5" stroke="#d5edf5"/>
<path d="M177.8,603.8C179.8,600 181.8,596.3 183.8,592.8S187.8,586 189.8,582.9C193.9,576.6 197.9,571.1 201.9,566.2C209.9,556.4 217.9,549.1 226,543.7S242,534.8 250.1,532.6S266.1,529.4 274.1,529.1S290.2,529.1 298.2,529.4S314.3,530.1 322.3,530.3S338.4,530.5 346.4,530.3S362.4,529.7 370.5,528.8S386.5,526.7 394.6,524.9S410.6,520.7 418.6,518.2S434.7,513.3 442.7,511.7S458.8,509.6 466.8,511.2S482.9,516.4 490.9,522.1S507,535.7 515,539.8S531,544.6 539.1,549.3S555.1,558.4 563.2,554.4S579.2,543.3 587.2,535.2S603.3,517.9 611.3,509.7S627.4,494.2 635.4,488.7S651.5,479.4 659.5,478.2S675.5,478.3 683.6,483S699.6,495.8 707.7,501.2S723.7,509.5 731.7,503.7S747.8,483.4 755.8,473.1C759.8,467.9 763.9,463.8 767.9,457.8S775.9,443.3 779.9,431.8S787.9,406.4 792,392.5S800,365.1 804,351.9S812,325.6 816,312.3S824.1,285.4 828.1,272.3S836.1,246.6 840.1,234.9S848.1,212.4 852.2,203S860.2,185.5 864.2,179.3S872.2,168.9 876.2,166.9S884.3,165.4 888.3,168.6S896.3,177.7 900.3,186.7S908.4,207.6 912.4,223.4S920.4,260.2 924.4,285.9S932.4,336.3 936.5,364.8S944.5,429.1 948.5,489.6L948.5,486.7C944.5,427.5 940.5,391.8 936.5,363S928.4,309 924.4,283.4S916.4,236.4 912.4,220.3S904.3,192 900.3,182.9S892.3,168.1 888.3,165S880.3,161.5 876.2,163.4S868.2,169.5 864.2,175.5S856.2,189.3 852.2,198.6S844.1,218.4 840.1,230S832.1,254.1 828.1,267.2S820,294 816,307.6S808,334.6 804,348.1S796,375.2 792,388.8S783.9,415.7 779.9,426.8S771.9,446.5 767.9,452.9S759.8,464.2 755.8,469.7C747.8,480.7 739.8,494.5 731.7,499.8S715.7,502.1 707.7,496.7S691.6,483.3 683.6,478.8S667.5,473 659.5,474.4S643.4,479.7 635.4,485.4S619.3,498.6 611.3,507S595.3,525 587.2,533.4S571.2,548.8 563.2,552.6S547.1,552.9 539.1,548.5S523,542.3 515,537.7S498.9,525.6 490.9,520S474.8,510.5 466.8,508.8S450.8,507.5 442.7,508.9S426.7,512.9 418.6,515.4S402.6,520.4 394.6,522.3S378.5,525.6 370.5,526.5S354.4,527.8 346.4,528S330.3,528.1 322.3,527.9S306.2,527.3 298.2,527S282.2,526.4 274.1,526.8S258.1,528.2 250.1,530.5S234,536.5 226,542.1S209.9,555.1 201.9,565.2C197.9,570.2 193.9,575.9 189.8,582.3C187.8,585.5 185.8,588.9 183.8,592.4S179.8,599.8 177.8,603.7Z" fill="#cbe9f2" stroke="#cbe9f2"/>
<path d="M177.8,603.7C179.8,599.8 181.8,596 183.8,592.4S187.8,585.5 189.8,582.3C193.9,575.9 197.9,570.2 201.9,565.2C209.9,555.1 217.9,547.6 226,542.1S242,532.9 250.1,530.5S266.1,527.2 274.1,526.8S290.2,526.7 298.2,527S314.3,527.7 322.3,527.9S338.4,528.2 346.4,528S362.4,527.4 370.5,526.5S386.5,524.3 394.6,522.3S410.6,517.9 418.6,515.4S434.7,510.4 442.7,508.9S458.8,507.1 466.8,508.8S482.9,514.4 490.9,520S507,533.1 515,537.7S531,544.1 539.1,548.5S555.1,556.4 563.2,552.6S579.2,541.7 587.2,533.4S603.3,515.5 611.3,507S627.4,491.1 635.4,485.4S651.5,475.7 659.5,474.4S675.5,474.2 683.6,478.8S699.6,491.2 707.7,496.7S723.7,505.1 731.7,499.8S747.8,480.7 755.8,469.7C759.8,464.2 763.9,459.4 767.9,452.9S775.9,438 779.9,426.8S787.9,402.4 792,388.8S800,361.6 804,348.1S812,321.2 816,307.6S824.1,280.3 828.1,267.2S836.1,241.6 840.1,230S848.1,207.8 852.2,198.6S860.2,181.5 864.2,175.5S872.2,165.4 876.2,163.4S884.3,161.9 888.3,165S896.3,173.9 900.3,182.9S908.4,204.2 912.4,220.3S920.4,257.8 924.4,283.4S932.4,334.2 936.5,363S944.5,427.5 948.5,486.7L948.5,483.9C944.5,426 940.5,390.3 936.5,361.2S928.4,306.4 924.4,280.9S916.4,233.7 912.4,217.2S904.3,188.3 900.3,179.2S892.3,164.3 888.3,161.3S880.3,158.1 876.2,160S868.2,165.9 864.2,171.7S856.2,185.2 852.2,194.2S844.1,213.6 840.1,225.1S832.1,249 828.1,262.1S820,289 816,302.9S808,330.6 804,344.4S796,371.8 792,385.1S783.9,411.1 779.9,421.9S771.9,441.2 767.9,448.1S759.8,460.5 755.8,466.3C747.8,478 739.8,491 731.7,495.9S715.7,497.6 707.7,492.1S691.6,478.9 683.6,474.5S667.5,469 659.5,470.5S643.4,476.1 635.4,482S619.3,495.6 611.3,504.4S595.3,523 587.2,531.5S571.2,547.3 563.2,550.9S547.1,551.7 539.1,547.7S523,540.6 515,535.5S498.9,523.4 490.9,517.9S474.8,508.3 466.8,506.4S450.8,504.8 442.7,506.2S426.7,510 418.6,512.6S402.6,517.8 394.6,519.8S378.5,523.2 370.5,524.2S354.4,525.6 346.4,525.7S330.3,525.8 322.3,525.5S306.2,524.9 298.2,524.6S282.2,524.1 274.1,524.5S258.1,526 250.1,528.5S234,534.7 226,540.4S209.9,553.9 201.9,564.2C197.9,569.4 193.9,575.2 189.8,581.7C187.8,585 185.8,588.4 183.8,592.1S179.8,599.6 177.8,603.6Z" fill="#c2e4f0" stroke="#c2e4f0"/>
<path d="M177.8,603.6C179.8,599.6 181.8,595.7 183.8,592.1S187.8,585 189.8,581.7C193.9,575.2 197.9,569.4 201.9,564.2C209.9,553.9 217.9,546.2 226,540.4S242,530.9 250.1,528.5S266.1,524.9 274.1,524.5S290.2,524.3 298.2,524.6S314.3,525.3 322.3,525.5S338.4,525.9 346.4,525.7S362.4,525.1 370.5,524.2S386.5,521.8 394.6,519.8S410.6,515.2 418.6,512.6S434.7,507.5 442.7,506.2S458.8,504.6 466.8,506.4S482.9,512.4 490.9,517.9S507,530.5 515,535.5S531,543.7 539.1,547.7S555.1,554.5 563.2,550.9S579.2,540.1 587.2,531.5S603.3,513.2 611.3,504.4S627.4,487.9 635.4,482S651.5,472 659.5,470.5S675.5,470.1 683.6,474.5S699.6,486.7 707.7,492.1S723.7,500.7 731.7,495.9S747.8,478 755.8,466.3C759.8,460.5 763.9,455 767.9,448.1S775.9,432.6 779.9,421.9S787.9,398.4 792,385.1S800,358.1 804,344.4S812,316.8 816,302.9S824.1,275.2 828.1,262.1S836.1,236.5 840.1,225.1S848.1,203.2 852.2,194.2S860.2,177.5 864.2,171.7S872.2,161.8 876.2,160S884.3,158.3 888.3,161.3S896.3,170.1 900.3,179.2S908.4,200.7 912.4,217.2S920.4,255.4 924.4,280.9S932.4,332.1 936.5,361.2S944.5,426 948.5,483.9L948.5,481.1C944.5,424.4 940.5,388.8 936.5,359.4S928.4,303.8 924.4,278.4S916.4,231 912.4,214.1S904.3,184.6 900.3,175.5S892.3,160.6 888.3,157.7S880.3,154.6 876.2,156.5S868.2,162.3 864.2,167.9S856.2,181 852.2,189.8S844.1,208.8 840.1,220.1S832.1,243.8 828.1,257S820,284.1 816,298.2S808,326.6 804,340.6S796,368.4 792,381.4S783.9,406.5 779.9,416.9S771.9,435.8 767.9,443.2S759.8,456.8 755.8,462.9C747.8,475.3 739.8,487.6 731.7,492S715.7,493.1 707.7,487.6S691.6,474.5 683.6,470.3S667.5,465.1 659.5,466.7S643.4,472.6 635.4,478.7S619.3,492.7 611.3,501.8S595.3,521 587.2,529.7S571.2,545.7 563.2,549.1S547.1,550.6 539.1,546.9S523,538.9 515,533.4S498.9,521.2 490.9,515.8S474.8,506.1 466.8,504.1S450.8,502.1 442.7,503.4S426.7,507.2 418.6,509.8S402.6,515.2 394.6,517.3S378.5,520.9 370.5,521.8S354.4,523.3 346.4,523.4S330.3,523.4 322.3,523.2S306.2,522.6 298.2,522.3S282.2,521.7 274.1,522.2S258.1,523.9 250.1,526.4S234,532.9 226,538.8S209.9,552.6 201.9,563.2C197.9,568.5 193.9,574.4 189.8,581.1C187.8,584.5 185.8,588 183.8,591.7S179.8,599.4 177.8,603.5Z" fill="#b9e0ed" stroke="#b9e0ed"/>
<path d="M177.8,603.5C179.8,599.4 181.8,595.5 183.8,591.7S187.8,584.5 189.8,581.1C193.9,574.4 197.9,568.5 201.9,563.2C209.9,552.6 217.9,544.7 226,538.8S242,529 250.1,526.4S266.1,522.7 274.1,522.2S290.2,521.9 298.2,522.3S314.3,522.9 322.3,523.2S338.4,523.6 346.4,523.4S362.4,522.8 370.5,521.8S386.5,519.4 394.6,517.3S410.6,512.4 418.6,509.8S434.7,504.7 442.7,503.4S458.8,502 466.8,504.1S482.9,510.3 490.9,515.8S507,527.9 515,533.4S531,543.3 539.1,546.9S555.1,552.5 563.2,549.1S579.2,538.4 587.2,529.7S603.3,510.8 611.3,501.8S627.4,484.8 635.4,478.7S651.5,468.4 659.5,466.7S675.5,466 683.6,470.3S699.6,482.2 707.7,487.6S723.7,496.4 731.7,492S747.8,475.3 755.8,462.9C759.8,456.8 763.9,450.5 767.9,443.2S775.9,427.2 779.9,416.9S787.9,394.4 792,381.4S800,354.6 804,340.6S812,312.3 816,298.2S824.1,270.1 828.1,257S836.1,231.4 840.1,220.1S848.1,198.6 852.2,189.8S860.2,173.6 864.2,167.9S872.2,158.3 876.2,156.5S884.3,154.8 888.3,157.7S896.3,166.3 900.3,175.5S908.4,197.2 912.4,214.1S920.4,253 924.4,278.4S932.4,330 936.5,359.4S944.5,424.4 948.5,481.1L948.5,478.2C944.5,422.8 940.5,387.3 936.5,357.6S928.4,301.2 924.4,275.9S916.4,228.3 912.4,211S904.3,180.9 900.3,171.7S892.3,156.9 888.3,154.1S880.3,151.2 876.2,153S868.2,158.6 864.2,164.1S856.2,176.8 852.2,185.4S844.1,204 840.1,215.2S832.1,238.7 828.1,251.8S820,279.1 816,293.5S808,322.6 804,336.9S796,365 792,377.7S783.9,401.9 779.9,411.9S771.9,430.5 767.9,438.3S759.8,453 755.8,459.5C747.8,472.6 739.8,484.1 731.7,488S715.7,488.6 707.7,483.1S691.6,470.2 683.6,466S667.5,461.1 659.5,462.9S643.4,469.1 635.4,475.4S619.3,489.8 611.3,499.1S595.3,518.9 587.2,527.8S571.2,544.2 563.2,547.4S547.1,549.5 539.1,546.2S523,537.2 515,531.2S498.9,519 490.9,513.7S474.8,503.9 466.8,501.7S450.8,499.4 442.7,500.6S426.7,504.3 418.6,506.9S402.6,512.6 394.6,514.8S378.5,518.5 370.5,519.5S354.4,521 346.4,521.1S330.3,521.1 322.3,520.8S306.2,520.2 298.2,519.9S282.2,519.4 274.1,519.9S258.1,521.7 250.1,524.3S234,531.1 226,537.1S209.9,551.4 201.9,562.2C197.9,567.6 193.9,573.7 189.8,580.5C187.8,584 185.8,587.6 183.8,591.4S179.8,599.2 177.8,603.4Z" fill="#b0dbea" stroke="#b0dbea"/>
<path d="M177.8,603.4C179.8,599.2 181.8,595.2 183.8,591.4S187.8,584 189.8,580.5C193.9,573.7 197.9,567.6 201.9,562.2C209.9,551.4 217.9,543.2 226,537.1S242,527 250.1,524.3S266.1,520.4 274.1,519.9S290.2,519.6 298.2,519.9S314.3,520.6 322.3,520.8S338.4,521.3 346.4,521.1S362.4,520.5 370.5,519.5S386.5,517 394.6,514.8S410.6,509.6 418.6,506.9S434.7,501.8 442.7,500.6S458.8,499.5 466.8,501.7S482.9,508.3 490.9,513.7S507,525.3 515,531.2S531,542.8 539.1,546.2S555.1,550.5 563.2,547.4S579.2,536.8 587.2,527.8S603.3,508.4 611.3,499.1S627.4,481.7 635.4,475.4S651.5,464.7 659.5,462.9S675.5,461.9 683.6,466S699.6,477.6 707.7,483.1S723.7,492 731.7,488S747.8,472.6 755.8,459.5C759.8,453 763.9,446.1 767.9,438.3S775.9,421.9 779.9,411.9S787.9,390.4 792,377.7S800,351.1 804,336.9S812,307.9 816,293.5S824.1,265 828.1,251.8S836.1,226.4 840.1,215.2S848.1,194 852.2,185.4S860.2,169.6 864.2,164.1S872.2,154.8 876.2,153S884.3,151.3 888.3,154.1S896.3,162.5 900.3,171.7S908.4,193.7 912.4,211S920.4,250.6 924.4,275.9S932.4,327.9 936.5,357.6S944.5,422.8 948.5,478.2L948.5,476.1C944.5,420.1 940.5,385.1 936.5,355.7S928.4,299.8 924.4,274.7S916.4,227.5 912.4,210.2S904.3,180.1 900.3,170.8S892.3,155.8 888.3,152.8S880.3,149.5 876.2,151.2S868.2,156.6 864.2,162S856.2,174.6 852.2,183.2S844.1,201.8 840.1,212.9S832.1,236.2 828.1,249.3S820,276.3 816,290.5S808,319.3 804,333.4S796,361.2 792,373.8S783.9,398.1 779.9,408.2S771.9,427.2 767.9,435.2S759.8,450.3 755.8,456.9C747.8,470.1 739.8,481.3 731.7,485S715.7,484.9 707.7,479.2S691.6,465.9 683.6,461.7S667.5,456.9 659.5,458.8S643.4,465.4 635.4,472S619.3,487 611.3,496.6S595.3,516.9 587.2,526S571.2,542.7 563.2,546S547.1,548.4 539.1,545S523,536 515,529.9S498.9,517.2 490.9,511.5S474.8,501.2 466.8,498.8S450.8,496.4 442.7,497.6S426.7,501.4 418.6,504.1S402.6,510 394.6,512.3S378.5,516.1 370.5,517.1S354.4,518.5 346.4,518.6S330.3,518.5 322.3,518.2S306.2,517.5 298.2,517.2S282.2,516.7 274.1,517.2S258.1,519.1 250.1,521.9S234,528.9 226,535.2S209.9,549.9 201.9,561.1C197.9,566.6 193.9,572.9 189.8,579.9C187.8,583.4 185.8,587.2 183.8,591.1S179.8,599.1 177.8,603.4Z" fill="#81b8d7" stroke="#81b8d7"/>
<path d="M177.8,603.4C179.8,599.1 181.8,595 183.8,591.1S187.8,583.4 189.8,579.9C193.9,572.9 197.9,566.6 201.9,561.1C209.9,549.9 217.9,541.5 226,535.2S242,524.7 250.1,521.9S266.1,517.8 274.1,517.2S290.2,516.9 298.2,517.2S314.3,517.9 322.3,518.2S338.4,518.8 346.4,518.6S362.4,518.1 370.5,517.1S386.5,514.6 394.6,512.3S410.6,506.9 418.6,504.1S434.7,498.8 442.7,497.6S458.8,496.5 466.8,498.8S482.9,505.9 490.9,511.5S507,523.7 515,529.9S531,541.7 539.1,545S555.1,549.3 563.2,546S579.2,535.2 587.2,526S603.3,506.2 611.3,496.6S627.4,478.6 635.4,472S651.5,460.8 659.5,458.8S675.5,457.6 683.6,461.7S699.6,473.6 707.7,479.2S723.7,488.6 731.7,485S747.8,470.1 755.8,456.9C759.8,450.3 763.9,443.2 767.9,435.2S775.9,418.3 779.9,408.2S787.9,386.5 792,373.8S800,347.4 804,333.4S812,304.8 816,290.5S824.1,262.4 828.1,249.3S836.1,224 840.1,212.9S848.1,191.8 852.2,183.2S860.2,167.5 864.2,162S872.2,152.9 876.2,151.2S884.3,149.8 888.3,152.8S896.3,161.5 900.3,170.8S908.4,193 912.4,210.2S920.4,249.6 924.4,274.7S932.4,326.3 936.5,355.7S944.5,420.1 948.5,476.1L948.5,474C944.5,417.5 940.5,382.9 936.5,353.8S928.4,298.4 924.4,273.5S916.4,226.6 912.4,209.4S904.3,179.3 900.3,169.9S892.3,154.6 888.3,151.4S880.3,147.8 876.2,149.4S868.2,154.6 864.2,160S856.2,172.5 852.2,181S844.1,199.5 840.1,210.6S832.1,233.8 828.1,246.8S820,273.5 816,287.6S808,315.9 804,329.8S796,357.3 792,370S783.9,394.2 779.9,404.5S771.9,423.9 767.9,432.1S759.8,447.6 755.8,454.3C747.8,467.6 739.8,478.5 731.7,481.9S715.7,481.3 707.7,475.4S691.6,461.7 683.6,457.5S667.5,452.6 659.5,454.8S643.4,461.8 635.4,468.6S619.3,484.2 611.3,494S595.3,514.8 587.2,524.2S571.2,541.3 563.2,544.7S547.1,547.2 539.1,543.9S523,534.8 515,528.5S498.9,515.3 490.9,509.4S474.8,498.5 466.8,496S450.8,493.3 442.7,494.6S426.7,498.5 418.6,501.3S402.6,507.4 394.6,509.7S378.5,513.7 370.5,514.7S354.4,516.1 346.4,516.2S330.3,516 322.3,515.6S306.2,514.8 298.2,514.5S282.2,514 274.1,514.6S258.1,516.6 250.1,519.5S234,526.7 226,533.3S209.9,548.4 201.9,559.9C197.9,565.7 193.9,572.1 189.8,579.3C187.8,582.9 185.8,586.8 183.8,590.8S179.8,599 177.8,603.5Z" fill="#7bb3d4" stroke="#7bb3d4"/>
<path d="M177.8,603.5C179.8,599 181.8,594.8 183.8,590.8S187.8,582.9 189.8,579.3C193.9,572.1 197.9,565.7 201.9,559.9C209.9,548.4 217.9,539.8 226,533.3S242,522.4 250.1,519.5S266.1,515.2 274.1,514.6S290.2,514.2 298.2,514.5S314.3,515.3 322.3,515.6S338.4,516.2 346.4,516.2S362.4,515.6 370.5,514.7S386.5,512.1 394.6,509.7S410.6,504.2 418.6,501.3S434.7,495.8 442.7,494.6S458.8,493.5 466.8,496S482.9,503.5 490.9,509.4S507,522.2 515,528.5S531,540.6 539.1,543.9S555.1,548.1 563.2,544.7S579.2,533.5 587.2,524.2S603.3,503.9 611.3,494S627.4,475.4 635.4,468.6S651.5,456.9 659.5,454.8S675.5,453.3 683.6,457.5S699.6,469.5 707.7,475.4S723.7,485.3 731.7,481.9S747.8,467.6 755.8,454.3C759.8,447.6 763.9,440.3 767.9,432.1S775.9,414.8 779.9,404.5S787.9,382.6 792,370S800,343.8 804,329.8S812,301.6 816,287.6S824.1,259.7 828.1,246.8S836.1,221.6 840.1,210.6S848.1,189.5 852.2,181S860.2,165.4 864.2,160S872.2,151 876.2,149.4S884.3,148.2 888.3,151.4S896.3,160.5 900.3,169.9S908.4,192.2 912.4,209.4S920.4,248.6 924.4,273.5S932.4,324.8 936.5,353.8S944.5,417.5 948.5,474L948.5,471.9C944.5,414.8 940.5,380.7 936.5,352S928.4,297 924.4,272.3S916.4,225.8 912.4,208.7S904.3,178.5 900.3,169S892.3,153.4 888.3,150S880.3,146.1 876.2,147.6S868.2,152.6 864.2,157.9S856.2,170.3 852.2,178.8S844.1,197.3 840.1,208.3S832.1,231.4 828.1,244.2S820,270.7 816,284.6S808,312.5 804,326.3S796,353.5 792,366.1S783.9,390.3 779.9,400.8S771.9,420.6 767.9,429S759.8,444.9 755.8,451.6C747.8,465.2 739.8,475.8 731.7,478.8S715.7,477.6 707.7,471.5S691.6,457.4 683.6,453.2S667.5,448.4 659.5,450.7S643.4,458.2 635.4,465.3S619.3,481.4 611.3,491.5S595.3,512.8 587.2,522.4S571.2,539.8 563.2,543.4S547.1,546.1 539.1,542.8S523,533.6 515,527.1S498.9,513.5 490.9,507.3S474.8,495.8 466.8,493.1S450.8,490.3 442.7,491.6S426.7,495.5 418.6,498.5S402.6,504.8 394.6,507.2S378.5,511.2 370.5,512.2S354.4,513.6 346.4,513.7S330.3,513.4 322.3,513S306.2,512.1 298.2,511.8S282.2,511.3 274.1,511.9S258.1,514.1 250.1,517.1S234,524.6 226,531.3S209.9,547 201.9,558.8C197.9,564.7 193.9,571.3 189.8,578.7C187.8,582.4 185.8,586.4 183.8,590.5S179.8,599 177.8,603.5Z" fill="#75aed1" stroke="#75aed1"/>
<path d="M177.8,603.5C179.8,599 181.8,594.6 183.8,590.5S187.8,582.4 189.8,578.7C193.9,571.3 197.9,564.7 201.9,558.8C209.9,547 217.9,538 226,531.3S242,520.1 250.1,517.1S266.1,512.6 274.1,511.9S290.2,511.5 298.2,511.8S314.3,512.6 322.3,513S338.4,513.7 346.4,513.7S362.4,513.2 370.5,512.2S386.5,509.7 394.6,507.2S410.6,501.5 418.6,498.5S434.7,492.8 442.7,491.6S458.8,490.4 466.8,493.1S482.9,501.1 490.9,507.3S507,520.6 515,527.1S531,539.4 539.1,542.8S555.1,546.9 563.2,543.4S579.2,531.9 587.2,522.4S603.3,501.6 611.3,491.5S627.4,472.3 635.4,465.3S651.5,453 659.5,450.7S675.5,448.9 683.6,453.2S699.6,465.4 707.7,471.5S723.7,481.9 731.7,478.8S747.8,465.2 755.8,451.6C759.8,444.9 763.9,437.4 767.9,429S775.9,411.2 779.9,400.8S787.9,378.7 792,366.1S800,340.1 804,326.3S812,298.4 816,284.6S824.1,257.1 828.1,244.2S836.1,219.3 840.1,208.3S848.1,187.3 852.2,178.8S860.2,163.2 864.2,157.9S872.2,149 876.2,147.6S884.3,146.7 888.3,150S896.3,159.5 900.3,169S908.4,191.5 912.4,208.7S920.4,247.6 924.4,272.3S932.4,323.2 936.5,352S944.5,414.8 948.5,471.9L948.5,469.9C944.5,412.1 940.5,378.5 936.5,350.1S928.4,295.5 924.4,271.1S916.4,225 912.4,207.9S904.3,177.7 900.3,168.1S892.3,152.2 888.3,148.7S880.3,144.4 876.2,145.8S868.2,150.6 864.2,155.8S856.2,168.2 852.2,176.6S844.1,195 840.1,206S832.1,228.9 828.1,241.7S820,267.9 816,281.6S808,309.2 804,322.8S796,349.7 792,362.2S783.9,386.5 779.9,397.1S771.9,417.2 767.9,425.9S759.8,442.2 755.8,449C747.8,462.7 739.8,473 731.7,475.8S715.7,474 707.7,467.7S691.6,453.2 683.6,448.9S667.5,444.2 659.5,446.7S643.4,454.5 635.4,461.9S619.3,478.6 611.3,488.9S595.3,510.8 587.2,520.5S571.2,538.4 563.2,542S547.1,545 539.1,541.6S523,532.4 515,525.7S498.9,511.6 490.9,505.1S474.8,493.1 466.8,490.3S450.8,487.3 442.7,488.6S426.7,492.6 418.6,495.7S402.6,502.2 394.6,504.7S378.5,508.8 370.5,509.8S354.4,511.2 346.4,511.2S330.3,510.9 322.3,510.4S306.2,509.5 298.2,509.1S282.2,508.6 274.1,509.3S258.1,511.5 250.1,514.6S234,522.4 226,529.4S209.9,545.5 201.9,557.6C197.9,563.7 193.9,570.5 189.8,578.1C187.8,581.9 185.8,586 183.8,590.2S179.8,598.9 177.8,603.6Z" fill="#70a8ce" stroke="#70a8ce"/>
<path d="M177.8,603.6C179.8,598.9 181.8,594.4 183.8,590.2S187.8,581.9 189.8,578.1C193.9,570.5 197.9,563.7 201.9,557.6C209.9,545.5 217.9,536.3 226,529.4S242,517.8 250.1,514.6S266.1,510 274.1,509.3S290.2,508.8 298.2,509.1S314.3,510 322.3,510.4S338.4,511.2 346.4,511.2S362.4,510.8 370.5,509.8S386.5,507.2 394.6,504.7S410.6,498.8 418.6,495.7S434.7,489.9 442.7,488.6S458.8,487.4 466.8,490.3S482.9,498.7 490.9,505.1S507,519 515,525.7S531,538.3 539.1,541.6S555.1,545.7 563.2,542S579.2,530.3 587.2,520.5S603.3,499.3 611.3,488.9S627.4,469.2 635.4,461.9S651.5,449.1 659.5,446.7S675.5,444.6 683.6,448.9S699.6,461.3 707.7,467.7S723.7,478.6 731.7,475.8S747.8,462.7 755.8,449C759.8,442.2 763.9,434.5 767.9,425.9S775.9,407.7 779.9,397.1S787.9,374.8 792,362.2S800,336.4 804,322.8S812,295.3 816,281.6S824.1,254.4 828.1,241.7S836.1,216.9 840.1,206S848.1,185.1 852.2,176.6S860.2,161.1 864.2,155.8S872.2,147.1 876.2,145.8S884.3,145.2 888.3,148.7S896.3,158.4 900.3,168.1S908.4,190.8 912.4,207.9S920.4,246.6 924.4,271.1S932.4,321.7 936.5,350.1S944.5,412.1 948.5,469.9L948.5,467.8C944.5,409.4 940.5,376.3 936.5,348.2S928.4,294.1 924.4,269.8S916.4,224.1 912.4,207.1S904.3,176.9 900.3,167.2S892.3,151 888.3,147.3S880.3,142.7 876.2,143.9S868.2,148.6 864.2,153.8S856.2,166 852.2,174.4S844.1,192.7 840.1,203.7S832.1,226.5 828.1,239.1S820,265.1 816,278.6S808,305.8 804,319.2S796,345.9 792,358.4S783.9,382.6 779.9,393.4S771.9,413.9 767.9,422.7S759.8,439.5 755.8,446.4C747.8,460.2 739.8,470.2 731.7,472.7S715.7,470.4 707.7,463.8S691.6,448.9 683.6,444.6S667.5,440 659.5,442.6S643.4,450.9 635.4,458.5S619.3,475.8 611.3,486.4S595.3,508.7 587.2,518.7S571.2,536.9 563.2,540.7S547.1,543.9 539.1,540.5S523,531.2 515,524.3S498.9,509.8 490.9,503S474.8,490.5 466.8,487.4S450.8,484.2 442.7,485.5S426.7,489.7 418.6,492.9S402.6,499.6 394.6,502.2S378.5,506.4 370.5,507.4S354.4,508.7 346.4,508.7S330.3,508.3 322.3,507.8S306.2,506.8 298.2,506.4S282.2,505.9 274.1,506.6S258.1,509 250.1,512.2S234,520.3 226,527.4S209.9,544 201.9,556.5C197.9,562.7 193.9,569.7 189.8,577.5C187.8,581.4 185.8,585.6 183.8,589.9S179.8,598.8 177.8,603.6Z" fill="#6aa1cb" stroke="#6aa1cb"/>
<path d="M177.8,603.6C179.8,598.8 181.8,594.3 183.8,589.9S187.8,581.4 189.8,577.5C193.9,569.7 197.9,562.7 201.9,556.5C209.9,544 217.9,534.6 226,527.4S242,515.4 250.1,512.2S266.1,507.3 274.1,506.6S290.2,506.1 298.2,506.4S314.3,507.4 322.3,507.8S338.4,508.7 346.4,508.7S362.4,508.4 370.5,507.4S386.5,504.7 394.6,502.2S410.6,496.1 418.6,492.9S434.7,486.9 442.7,485.5S458.8,484.4 466.8,487.4S482.9,496.2 490.9,503S507,517.5 515,524.3S531,537.2 539.1,540.5S555.1,544.5 563.2,540.7S579.2,528.7 587.2,518.7S603.3,497.1 611.3,486.4S627.4,466.1 635.4,458.5S651.5,445.3 659.5,442.6S675.5,440.3 683.6,444.6S699.6,457.2 707.7,463.8S723.7,475.2 731.7,472.7S747.8,460.2 755.8,446.4C759.8,439.5 763.9,431.6 767.9,422.7S775.9,404.1 779.9,393.4S787.9,370.9 792,358.4S800,332.7 804,319.2S812,292.1 816,278.6S824.1,251.8 828.1,239.1S836.1,214.6 840.1,203.7S848.1,182.9 852.2,174.4S860.2,159 864.2,153.8S872.2,145.2 876.2,143.9S884.3,143.7 888.3,147.3S896.3,157.4 900.3,167.2S908.4,190 912.4,207.1S920.4,245.6 924.4,269.8S932.4,320.1 936.5,348.2S944.5,409.4 948.5,467.8L948.5,465.7C944.5,406.8 940.5,374.1 936.5,346.4S928.4,292.7 924.4,268.6S916.4,223.3 912.4,206.3S904.3,176.1 900.3,166.3S892.3,149.8 888.3,146S880.3,141 876.2,142.1S868.2,146.6 864.2,151.7S856.2,163.8 852.2,172.3S844.1,190.5 840.1,201.3S832.1,224.1 828.1,236.6S820,262.3 816,275.6S808,302.4 804,315.7S796,342.1 792,354.5S783.9,378.8 779.9,389.7S771.9,410.6 767.9,419.6S759.8,436.7 755.8,443.7C747.8,457.7 739.8,467.4 731.7,469.7S715.7,466.7 707.7,459.9S691.6,444.7 683.6,440.4S667.5,435.8 659.5,438.6S643.4,447.2 635.4,455.1S619.3,472.9 611.3,483.9S595.3,506.7 587.2,516.9S571.2,535.5 563.2,539.4S547.1,542.7 539.1,539.4S523,530 515,523S498.9,507.9 490.9,500.9S474.8,487.8 466.8,484.6S450.8,481.2 442.7,482.5S426.7,486.8 418.6,490.1S402.6,497 394.6,499.6S378.5,504 370.5,505S354.4,506.3 346.4,506.2S330.3,505.7 322.3,505.2S306.2,504.1 298.2,503.7S282.2,503.2 274.1,504S258.1,506.4 250.1,509.8S234,518.1 226,525.5S209.9,542.5 201.9,555.3C197.9,561.7 193.9,568.9 189.8,576.9C187.8,580.9 185.8,585.2 183.8,589.6S179.8,598.8 177.8,603.7Z" fill="#659bc8" stroke="#659bc8"/>
<path d="M177.8,603.7C179.8,598.8 181.8,594.1 183.8,589.6S187.8,580.9 189.8,576.9C193.9,568.9 197.9,561.7 201.9,555.3C209.9,542.5 217.9,532.8 226,525.5S242,513.1 250.1,509.8S266.1,504.7 274.1,504S290.2,503.4 298.2,503.7S314.3,504.7 322.3,505.2S338.4,506.2 346.4,506.2S362.4,506 370.5,505S386.5,502.3 394.6,499.6S410.6,493.4 418.6,490.1S434.7,483.9 442.7,482.5S458.8,481.4 466.8,484.6S482.9,493.8 490.9,500.9S507,515.9 515,523S531,536.1 539.1,539.4S555.1,543.3 563.2,539.4S579.2,527 587.2,516.9S603.3,494.8 611.3,483.9S627.4,463 635.4,455.1S651.5,441.4 659.5,438.6S675.5,436 683.6,440.4S699.6,453.1 707.7,459.9S723.7,471.9 731.7,469.7S747.8,457.7 755.8,443.7C759.8,436.7 763.9,428.7 767.9,419.6S775.9,400.6 779.9,389.7S787.9,367 792,354.5S800,329 804,315.7S812,288.9 816,275.6S824.1,249.1 828.1,236.6S836.1,212.2 840.1,201.3S848.1,180.7 852.2,172.3S860.2,156.9 864.2,151.7S872.2,143.2 876.2,142.1S884.3,142.1 888.3,146S896.3,156.4 900.3,166.3S908.4,189.3 912.4,206.3S920.4,244.6 924.4,268.6S932.4,318.6 936.5,346.4S944.5,406.8 948.5,465.7L948.5,463.6C944.5,404.1 940.5,372 936.5,344.5S928.4,291.2 924.4,267.4S916.4,222.5 912.4,205.5S904.3,175.4 900.3,165.4S892.3,148.6 888.3,144.6S880.3,139.3 876.2,140.3S868.2,144.6 864.2,149.7S856.2,161.7 852.2,170.1S844.1,188.2 840.1,199S832.1,221.7 828.1,234.1S820,259.5 816,272.6S808,299.1 804,312.2S796,338.2 792,350.6S783.9,374.9 779.9,386S771.9,407.3 767.9,416.5S759.8,434 755.8,441.1C747.8,455.3 739.8,464.7 731.7,466.6S715.7,463.1 707.7,456.1S691.6,440.5 683.6,436.1S667.5,431.5 659.5,434.5S643.4,443.6 635.4,451.8S619.3,470.1 611.3,481.3S595.3,504.7 587.2,515S571.2,534 563.2,538.1S547.1,541.6 539.1,538.3S523,528.8 515,521.6S498.9,506.1 490.9,498.7S474.8,485.1 466.8,481.7S450.8,478.1 442.7,479.5S426.7,483.9 418.6,487.3S402.6,494.4 394.6,497.1S378.5,501.5 370.5,502.5S354.4,503.8 346.4,503.7S330.3,503.2 322.3,502.6S306.2,501.4 298.2,501S282.2,500.5 274.1,501.3S258.1,503.9 250.1,507.4S234,516 226,523.5S209.9,541.1 201.9,554.2C197.9,560.8 193.9,568.1 189.8,576.3C187.8,580.4 185.8,584.8 183.8,589.3S179.8,598.7 177.8,603.7Z" fill="#6095c4" stroke="#6095c4"/>
<path d="M177.8,603.7C179.8,598.7 181.8,593.9 183.8,589.3S187.8,580.4 189.8,576.3C193.9,568.1 197.9,560.8 201.9,554.2C209.9,541.1 217.9,531.1 226,523.5S242,510.8 250.1,507.4S266.1,502.1 274.1,501.3S290.2,500.7 298.2,501S314.3,502.1 322.3,502.6S338.4,503.7 346.4,503.7S362.4,503.5 370.5,502.5S386.5,499.8 394.6,497.1S410.6,490.7 418.6,487.3S434.7,480.9 442.7,479.5S458.8,478.4 466.8,481.7S482.9,491.4 490.9,498.7S507,514.4 515,521.6S531,534.9 539.1,538.3S555.1,542.1 563.2,538.1S579.2,525.4 587.2,515S603.3,492.5 611.3,481.3S627.4,459.9 635.4,451.8S651.5,437.5 659.5,434.5S675.5,431.7 683.6,436.1S699.6,449 707.7,456.1S723.7,468.5 731.7,466.6S747.8,455.3 755.8,441.1C759.8,434 763.9,425.8 767.9,416.5S775.9,397 779.9,386S787.9,363 792,350.6S800,325.3 804,312.2S812,285.8 816,272.6S824.1,246.5 828.1,234.1S836.1,209.8 840.1,199S848.1,178.4 852.2,170.1S860.2,154.8 864.2,149.7S872.2,141.3 876.2,140.3S884.3,140.6 888.3,144.6S896.3,155.4 900.3,165.4S908.4,188.6 912.4,205.5S920.4,243.6 924.4,267.4S932.4,317.1 936.5,344.5S944.5,404.1 948.5,463.6L948.5,461.5C944.5,401.4 940.5,369.8 936.5,342.6S928.4,289.8 924.4,266.2S916.4,221.7 912.4,204.8S904.3,174.6 900.3,164.5S892.3,147.4 888.3,143.3S880.3,137.6 876.2,138.5S868.2,142.5 864.2,147.6S856.2,159.5 852.2,167.9S844.1,186 840.1,196.7S832.1,219.2 828.1,231.5S820,256.7 816,269.6S808,295.7 804,308.7S796,334.4 792,346.8S783.9,371.1 779.9,382.3S771.9,403.9 767.9,413.4S759.8,431.3 755.8,438.5C747.8,452.8 739.8,461.9 731.7,463.5S715.7,459.5 707.7,452.2S691.6,436.2 683.6,431.8S667.5,427.3 659.5,430.5S643.4,439.9 635.4,448.4S619.3,467.3 611.3,478.8S595.3,502.6 587.2,513.2S571.2,532.6 563.2,536.7S547.1,540.5 539.1,537.1S523,527.6 515,520.2S498.9,504.2 490.9,496.6S474.8,482.4 466.8,478.9S450.8,475.1 442.7,476.5S426.7,481 418.6,484.5S402.6,491.8 394.6,494.6S378.5,499.1 370.5,500.1S354.4,501.4 346.4,501.3S330.3,500.6 322.3,500S306.2,498.8 298.2,498.4S282.2,497.8 274.1,498.7S258.1,501.4 250.1,504.9S234,513.8 226,521.6S209.9,539.6 201.9,553.1C197.9,559.8 193.9,567.3 189.8,575.7C187.8,579.9 185.8,584.4 183.8,589S179.8,598.6 177.8,603.8Z" fill="#5a8fc1" stroke="#5a8fc1"/>
<path d="M177.8,603.8C179.8,598.6 181.8,593.7 183.8,589S187.8,579.9 189.8,575.7C193.9,567.3 197.9,559.8 201.9,553.1C209.9,539.6 217.9,529.4 226,521.6S242,508.5 250.1,504.9S266.1,499.5 274.1,498.7S290.2,498 298.2,498.4S314.3,499.4 322.3,500S338.4,501.1 346.4,501.3S362.4,501.1 370.5,500.1S386.5,497.4 394.6,494.6S410.6,488 418.6,484.5S434.7,477.9 442.7,476.5S458.8,475.4 466.8,478.9S482.9,489 490.9,496.6S507,512.8 515,520.2S531,533.8 539.1,537.1S555.1,540.9 563.2,536.7S579.2,523.8 587.2,513.2S603.3,490.2 611.3,478.8S627.4,456.8 635.4,448.4S651.5,433.6 659.5,430.5S675.5,427.4 683.6,431.8S699.6,445 707.7,452.2S723.7,465.2 731.7,463.5S747.8,452.8 755.8,438.5C759.8,431.3 763.9,422.9 767.9,413.4S775.9,393.5 779.9,382.3S787.9,359.1 792,346.8S800,321.6 804,308.7S812,282.6 816,269.6S824.1,243.8 828.1,231.5S836.1,207.5 840.1,196.7S848.1,176.2 852.2,167.9S860.2,152.6 864.2,147.6S872.2,139.4 876.2,138.5S884.3,139.1 888.3,143.3S896.3,154.4 900.3,164.5S908.4,187.8 912.4,204.8S920.4,242.5 924.4,266.2S932.4,315.5 936.5,342.6S944.5,401.4 948.5,461.5L948.5,460.3C944.4,395.1 940.4,368.3 936.4,341.1S928.4,288.9 924.4,265.5S916.3,221.1 912.3,204.1S904.3,173.8 900.2,163.7S892.2,146.9 888.2,142.8S880.3,137.4 876.3,138.3S868.3,142.3 864.3,147.3S856.3,159 852.3,167.2S844.2,185.1 840.2,195.7S832.2,218 828.2,230.3S820.2,255.3 816.1,268.3S808.1,294.5 804.1,307.5S796.1,333.3 792.1,345.7S784,370.1 780,381.3S772,403 768,412.4S759.9,430.2 755.9,437.1C747.9,451.1 739.8,459.6 731.7,461S715.6,456.8 707.6,449.7S691.5,434 683.5,429.5S667.5,424.4 659.5,427.4S643.5,437.1 635.5,445.8S619.4,465.6 611.4,477.3S595.4,501.6 587.3,512.2S571.3,531.6 563.2,535.9S547.1,539.8 539,536.4S522.9,526.7 514.9,519.2S498.8,502.9 490.8,495.2S474.8,480.7 466.8,477.1S450.7,473 442.7,474.3S426.7,478.6 418.7,482S402.6,489.3 394.6,492.2S378.5,496.9 370.5,498S354.4,499.6 346.4,499.6S330.3,499.3 322.3,498.8S306.2,497.6 298.2,497.3S282.2,496.8 274.2,497.7S258.1,500.5 250.1,504.1S234.1,513.1 226,521S210,539.2 202,552.7C197.9,559.5 193.9,567.1 189.9,575.5C187.9,579.8 185.8,584.2 183.8,588.9S179.8,598.6 177.8,603.8Z" fill="#4471b2" stroke="#4471b2"/>
<path d="M177.8,603.8C179.8,598.6 181.8,593.6 183.8,588.9S187.9,579.8 189.9,575.5C193.9,567.1 197.9,559.5 202,552.7C210,539.2 218,528.8 226,521S242.1,507.7 250.1,504.1S266.1,498.6 274.2,497.7S290.2,496.9 298.2,497.3S314.3,498.3 322.3,498.8S338.4,499.7 346.4,499.6S362.5,499.2 370.5,498S386.6,495 394.6,492.2S410.7,485.5 418.7,482S434.7,475.5 442.7,474.3S458.8,473.4 466.8,477.1S482.8,487.4 490.8,495.2S506.9,511.6 514.9,519.2S531,533.1 539,536.4S555.2,540.1 563.2,535.9S579.3,522.8 587.3,512.2S603.4,489 611.4,477.3S627.5,454.6 635.5,445.8S651.5,430.5 659.5,427.4S675.5,424.9 683.5,429.5S699.6,442.6 707.6,449.7S723.7,462.4 731.7,461S747.9,451.1 755.9,437.1C759.9,430.2 763.9,421.8 768,412.4S776,392.5 780,381.3S788,358.2 792.1,345.7S800.1,320.5 804.1,307.5S812.1,281.3 816.1,268.3S824.2,242.5 828.2,230.3S836.2,206.4 840.2,195.7S848.2,175.4 852.3,167.2S860.3,152.2 864.3,147.3S872.3,139.2 876.3,138.3S884.2,138.7 888.2,142.8S896.2,153.7 900.2,163.7S908.3,187.1 912.3,204.1S920.3,242.1 924.4,265.5S932.4,314 936.4,341.1S944.4,395.1 948.5,460.3L948.4,459.1C944.4,388.8 940.3,366.8 936.3,339.7S928.3,287.9 924.3,264.8S916.3,220.5 912.2,203.4S904.2,173 900.1,163S892.1,146.3 888.2,142.4S880.3,137.2 876.3,138.1S868.4,142.1 864.4,147S856.4,158.5 852.3,166.6S844.3,184.1 840.3,194.7S832.3,216.8 828.3,229S820.3,254 816.2,267S808.2,293.2 804.2,306.3S796.2,332.2 792.2,344.7S784.1,369.2 780.1,380.4S772.1,402.1 768.1,411.4S760,429 756,435.8C747.9,449.4 739.8,457.3 731.7,458.5S715.6,454.2 707.5,447.2S691.5,431.9 683.5,427.2S667.5,421.5 659.5,424.4S643.6,434.2 635.6,443.3S619.5,463.9 611.5,475.9S595.4,500.5 587.4,511.2S571.3,530.7 563.3,535S547.1,539.1 539,535.7S522.9,525.8 514.8,518.2S498.8,501.6 490.7,493.7S474.7,478.9 466.7,475.2S450.7,470.9 442.7,472S426.7,476.2 418.7,479.6S402.7,486.9 394.6,489.8S378.6,494.7 370.5,495.9S354.5,497.8 346.4,498S330.3,498 322.3,497.5S306.2,496.5 298.2,496.2S282.2,495.8 274.2,496.7S258.2,499.6 250.1,503.3S234.1,512.4 226.1,520.4S210.1,538.7 202,552.4C198,559.2 193.9,566.8 189.9,575.4C187.9,579.6 185.9,584.1 183.9,588.9S179.8,598.6 177.8,603.8Z" fill="#4169ae" stroke="#4169ae"/>
<path d="M177.8,603.8C179.8,598.6 181.8,593.6 183.9,588.9S187.9,579.6 189.9,575.4C193.9,566.8 198,559.2 202,552.4C210.1,538.7 218.1,528.3 226.1,520.4S242.1,507 250.1,503.3S266.2,497.7 274.2,496.7S290.2,495.9 298.2,496.2S314.3,497.1 322.3,497.5S338.4,498.2 346.4,498S362.5,497.2 370.5,495.9S386.6,492.7 394.6,489.8S410.7,483 418.7,479.6S434.7,473.2 442.7,472S458.7,471.5 466.7,475.2S482.7,485.9 490.7,493.7S506.8,510.5 514.8,518.2S530.9,532.3 539,535.7S555.2,539.4 563.3,535S579.4,521.9 587.4,511.2S603.5,487.9 611.5,475.9S627.6,452.4 635.6,443.3S651.6,427.3 659.5,424.4S675.4,422.5 683.5,427.2S699.5,440.3 707.5,447.2S723.6,459.6 731.7,458.5S747.9,449.4 756,435.8C760,429 764,420.8 768.1,411.4S776.1,391.6 780.1,380.4S788.1,357.2 792.2,344.7S800.2,319.3 804.2,306.3S812.2,280 816.2,267S824.3,241.2 828.3,229S836.3,205.2 840.3,194.7S848.3,174.7 852.3,166.6S860.4,151.8 864.4,147S872.4,139 876.3,138.1S884.2,138.4 888.2,142.4S896.1,153 900.1,163S908.2,186.3 912.2,203.4S920.3,241.6 924.3,264.8S932.3,312.5 936.3,339.7S944.4,388.8 948.4,459.1L948.4,457.9C944.3,382.5 940.2,365.3 936.2,338.2S928.2,287 924.2,264.1S916.2,220 912.2,202.8S904.1,172.3 900.1,162.3S892,145.8 888.1,141.9S880.3,136.9 876.3,137.9S868.4,141.9 864.4,146.7S856.4,158 852.4,165.9S844.4,183.2 840.4,193.7S832.4,215.6 828.4,227.7S820.4,252.7 816.3,265.7S808.3,292 804.3,305.1S796.3,331.2 792.3,343.7S784.2,368.2 780.2,379.5S772.2,401.2 768.2,410.4S760.1,427.9 756.1,434.5C748,447.8 739.9,455.1 731.7,456S715.5,451.5 707.5,444.7S691.4,429.7 683.4,424.9S667.5,418.6 659.6,421.4S643.7,431.3 635.7,440.8S619.6,462.1 611.6,474.4S595.5,499.4 587.5,510.2S571.4,529.7 563.3,534.2S547,538.5 538.9,535S522.8,524.9 514.8,517.1S498.7,500.3 490.7,492.3S474.6,477.2 466.7,473.4S450.7,468.8 442.7,469.8S426.8,473.8 418.8,477.2S402.7,484.4 394.7,487.4S378.6,492.4 370.6,493.9S354.5,496.1 346.4,496.4S330.4,496.6 322.3,496.3S306.2,495.4 298.2,495.1S282.2,494.8 274.2,495.8S258.2,498.7 250.2,502.5S234.2,511.7 226.2,519.7S210.2,538.3 202.1,552C198,558.9 194,566.6 189.9,575.2C187.9,579.5 185.9,584 183.9,588.8S179.8,598.5 177.8,603.8Z" fill="#3f61aa" stroke="#3f61aa"/>
<path d="M177.8,603.8C179.8,598.5 181.8,593.5 183.9,588.8S187.9,579.5 189.9,575.2C194,566.6 198,558.9 202.1,552C210.2,538.3 218.2,527.7 226.2,519.7S242.2,506.2 250.2,502.5S266.2,496.7 274.2,495.8S290.2,494.8 298.2,495.1S314.3,496 322.3,496.3S338.4,496.7 346.4,496.4S362.5,495.3 370.6,493.9S386.6,490.3 394.7,487.4S410.7,480.5 418.8,477.2S434.8,470.9 442.7,469.8S458.7,469.5 466.7,473.4S482.6,484.3 490.7,492.3S506.7,509.3 514.8,517.1S530.8,531.5 538.9,535S555.2,538.6 563.3,534.2S579.5,520.9 587.5,510.2S603.6,486.7 611.6,474.4S627.6,450.3 635.7,440.8S651.7,424.2 659.6,421.4S675.4,420.1 683.4,424.9S699.4,437.9 707.5,444.7S723.6,456.9 731.7,456S748,447.8 756.1,434.5C760.1,427.9 764.1,419.7 768.2,410.4S776.2,390.7 780.2,379.5S788.2,356.2 792.3,343.7S800.3,318.2 804.3,305.1S812.3,278.7 816.3,265.7S824.4,239.9 828.4,227.7S836.4,204.1 840.4,193.7S848.4,173.9 852.4,165.9S860.5,151.4 864.4,146.7S872.4,138.8 876.3,137.9S884.1,138.1 888.1,141.9S896,152.4 900.1,162.3S908.1,185.6 912.2,202.8S920.2,241.1 924.2,264.1S932.2,311 936.2,338.2S944.3,382.5 948.4,457.9L948.3,456.7C944.2,376.1 940.1,363.8 936.1,336.7S928.1,286 924.2,263.4S916.2,219.4 912.1,202.1S904,171.5 900,161.6S891.9,145.2 888,141.5S880.3,136.7 876.4,137.7S868.5,141.6 864.5,146.3S856.5,157.5 852.5,165.3S844.5,182.3 840.5,192.6S832.5,214.4 828.5,226.5S820.5,251.4 816.4,264.4S808.4,290.7 804.4,303.9S796.4,330.1 792.4,342.6S784.3,367.3 780.3,378.6S772.3,400.2 768.3,409.5S760.2,426.7 756.2,433.2C748.1,446.1 739.9,452.8 731.7,453.5S715.5,448.9 707.4,442.2S691.3,427.6 683.3,422.6S667.4,415.7 659.6,418.4S643.8,428.4 635.7,438.2S619.7,460.4 611.7,473S595.6,498.3 587.6,509.1S571.5,528.8 563.4,533.3S547,537.8 538.9,534.3S522.7,524.1 514.7,516.1S498.6,499 490.6,490.9S474.6,475.5 466.6,471.5S450.7,466.7 442.8,467.6S426.8,471.4 418.8,474.7S402.8,481.9 394.7,484.9S378.6,490.2 370.6,491.8S354.5,494.3 346.4,494.8S330.4,495.3 322.3,495.1S306.2,494.3 298.2,494S282.2,493.8 274.2,494.8S258.2,497.9 250.2,501.7S234.3,511 226.3,519.1S210.3,537.8 202.2,551.7C198.1,558.6 194,566.3 190,575C187.9,579.3 185.9,583.9 183.9,588.7S179.8,598.5 177.8,603.8Z" fill="#3c59a6" stroke="#3c59a6"/>
<path d="M177.8,603.8C179.8,598.5 181.9,593.5 183.9,588.7S187.9,579.3 190,575C194,566.3 198.1,558.6 202.2,551.7C210.3,537.8 218.3,527.2 226.3,519.1S242.3,505.5 250.2,501.7S266.2,495.8 274.2,494.8S290.2,493.8 298.2,494S314.3,494.8 322.3,495.1S338.4,495.3 346.4,494.8S362.5,493.4 370.6,491.8S386.7,488 394.7,484.9S410.8,478 418.8,474.7S434.8,468.6 442.8,467.6S458.6,467.5 466.6,471.5S482.6,482.7 490.6,490.9S506.6,508.2 514.7,516.1S530.8,530.8 538.9,534.3S555.3,537.9 563.4,533.3S579.5,519.9 587.6,509.1S603.7,485.5 611.7,473S627.7,448.1 635.7,438.2S651.8,421.1 659.6,418.4S675.3,417.6 683.3,422.6S699.4,435.6 707.4,442.2S723.5,454.1 731.7,453.5S748.1,446.1 756.2,433.2C760.2,426.7 764.2,418.7 768.3,409.5S776.3,389.8 780.3,378.6S788.3,355.2 792.4,342.6S800.4,317 804.4,303.9S812.4,277.4 816.4,264.4S824.5,238.6 828.5,226.5S836.5,203 840.5,192.6S848.5,173.1 852.5,165.3S860.5,151.1 864.5,146.3S872.5,138.6 876.4,137.7S884.1,137.7 888,141.5S895.9,151.7 900,161.6S908,184.8 912.1,202.1S920.2,240.7 924.2,263.4S932.1,309.5 936.1,336.7S944.2,376.1 948.3,456.7L948.3,455.5C944.2,369.8 940,362.4 936,335.2S928.1,285.1 924.1,262.6S916.1,218.9 912,201.5S903.9,170.8 899.9,160.9S891.9,144.7 887.9,141S880.3,136.4 876.4,137.4S868.6,141.4 864.6,146S856.6,157 852.6,164.6S844.6,181.4 840.6,191.6S832.6,213.2 828.6,225.2S820.6,250.1 816.5,263.1S808.5,289.5 804.5,302.7S796.5,329 792.5,341.6S784.4,366.4 780.4,377.6S772.4,399.3 768.4,408.5S760.3,425.5 756.3,431.8C748.2,444.4 739.9,450.5 731.7,450.9S715.4,446.2 707.3,439.7S691.3,425.4 683.3,420.3S667.4,412.8 659.6,415.4S643.8,425.5 635.8,435.7S619.8,458.7 611.8,471.5S595.7,497.3 587.7,508.1S571.6,527.8 563.4,532.4S547,537.2 538.8,533.6S522.6,523.2 514.6,515.1S498.5,497.7 490.5,489.4S474.5,473.8 466.5,469.7S450.7,464.6 442.8,465.4S426.8,469 418.8,472.3S402.8,479.4 394.8,482.5S378.7,488 370.6,489.7S354.5,492.5 346.5,493.2S330.4,494 322.3,493.8S306.2,493.1 298.2,492.9S282.2,492.8 274.2,493.8S258.3,497 250.3,500.8S234.3,510.3 226.4,518.5S210.4,537.4 202.2,551.3C198.2,558.3 194.1,566.1 190,574.8C188,579.2 185.9,583.7 183.9,588.6S179.8,598.5 177.8,603.8Z" fill="#3a52a3" stroke="#3a52a3"/>
<path d="M177.8,603.8C179.8,598.5 181.9,593.4 183.9,588.6S188,579.2 190,574.8C194.1,566.1 198.2,558.3 202.2,551.3C210.4,537.4 218.4,526.7 226.4,518.5S242.3,504.7 250.3,500.8S266.2,494.9 274.2,493.8S290.2,492.7 298.2,492.9S314.3,493.6 322.3,493.8S338.4,493.8 346.5,493.2S362.6,491.4 370.6,489.7S386.7,485.6 394.8,482.5S410.8,475.6 418.8,472.3S434.8,466.3 442.8,465.4S458.6,465.5 466.5,469.7S482.5,481.1 490.5,489.4S506.5,507 514.6,515.1S530.7,530 538.8,533.6S555.3,537.1 563.4,532.4S579.6,519 587.7,508.1S603.7,484.4 611.8,471.5S627.8,445.9 635.8,435.7S651.8,417.9 659.6,415.4S675.3,415.2 683.3,420.3S699.3,433.3 707.3,439.7S723.5,451.3 731.7,450.9S748.2,444.4 756.3,431.8C760.3,425.5 764.3,417.6 768.4,408.5S776.4,388.9 780.4,377.6S788.4,354.2 792.5,341.6S800.5,315.9 804.5,302.7S812.5,276.1 816.5,263.1S824.6,237.3 828.6,225.2S836.6,201.8 840.6,191.6S848.6,172.3 852.6,164.6S860.6,150.7 864.6,146S872.5,138.4 876.4,137.4S884,137.4 887.9,141S895.8,151.1 899.9,160.9S908,184.1 912,201.5S920.1,240.2 924.1,262.6S932,308 936,335.2S944.2,369.8 948.3,455.5L948.2,454.3C944.1,363.5 939.9,360.9 935.9,333.7S928,284.1 924,261.9S916.1,218.3 912,200.8S903.8,170 899.8,160.2S891.8,144.1 887.9,140.6S880.3,136.2 876.4,137.2S868.6,141.2 864.7,145.7S856.7,156.4 852.7,164S844.7,180.5 840.7,190.6S832.7,211.9 828.7,224S820.7,248.7 816.6,261.8S808.6,288.2 804.6,301.5S796.6,327.9 792.6,340.6S784.5,365.4 780.5,376.7S772.5,398.4 768.4,407.5S760.4,424.4 756.3,430.5C748.2,442.8 740,448.2 731.7,448.4S715.3,443.6 707.3,437.2S691.2,423.3 683.2,418S667.4,409.9 659.7,412.4S643.9,422.6 635.9,433.2S619.9,456.9 611.9,470.1S595.8,496.2 587.7,507.1S571.6,526.8 563.5,531.6S547,536.5 538.8,532.9S522.6,522.3 514.5,514.1S498.4,496.5 490.4,488S474.4,472.1 466.5,467.8S450.7,462.5 442.8,463.2S426.9,466.6 418.9,469.8S402.9,476.9 394.8,480.1S378.7,485.7 370.6,487.6S354.5,490.8 346.5,491.6S330.4,492.6 322.3,492.6S306.2,492 298.2,491.8S282.2,491.7 274.2,492.9S258.3,496.1 250.3,500S234.4,509.6 226.4,517.9S210.5,536.9 202.3,551C198.2,558 194.1,565.8 190,574.6C188,579 186,583.6 183.9,588.5S179.9,598.5 177.8,603.9Z" fill="#374a9f" stroke="#374a9f"/>
<path d="M177.8,603.9C179.9,598.5 181.9,593.4 183.9,588.5S188,579 190,574.6C194.1,565.8 198.2,558 202.3,551C210.5,536.9 218.4,526.1 226.4,517.9S242.4,503.9 250.3,500S266.3,494 274.2,492.9S290.2,491.7 298.2,491.8S314.3,492.5 322.3,492.6S338.4,492.3 346.5,491.6S362.6,489.5 370.6,487.6S386.7,483.3 394.8,480.1S410.9,473.1 418.9,469.8S434.8,464 442.8,463.2S458.6,463.6 466.5,467.8S482.4,479.5 490.4,488S506.5,505.9 514.5,514.1S530.6,529.3 538.8,532.9S555.3,536.3 563.5,531.6S579.7,518 587.7,507.1S603.8,483.2 611.9,470.1S627.9,443.7 635.9,433.2S651.9,414.8 659.7,412.4S675.2,412.7 683.2,418S699.2,430.9 707.3,437.2S723.5,448.6 731.7,448.4S748.2,442.8 756.3,430.5C760.4,424.4 764.4,416.6 768.4,407.5S776.5,388 780.5,376.7S788.5,353.3 792.6,340.6S800.6,314.7 804.6,301.5S812.6,274.8 816.6,261.8S824.7,236 828.7,224S836.7,200.7 840.7,190.6S848.7,171.6 852.7,164S860.7,150.3 864.7,145.7S872.6,138.3 876.4,137.2S884,137 887.9,140.6S895.7,150.4 899.8,160.2S907.9,183.3 912,200.8S920.1,239.7 924,261.9S932,306.5 935.9,333.7S944.1,363.5 948.2,454.3L948.2,453C944.1,357.2 939.8,359.4 935.9,332.2S927.9,283.2 924,261.2S916,217.7 911.9,200.2S903.7,169.2 899.7,159.5S891.7,143.5 887.8,140.1S880.3,136 876.5,137S868.7,141 864.8,145.4S856.8,155.9 852.8,163.3S844.8,179.6 840.8,189.6S832.8,210.7 828.8,222.7S820.8,247.4 816.7,260.5S808.7,286.9 804.7,300.3S796.7,326.8 792.7,339.6S784.6,364.5 780.6,375.8S772.6,397.5 768.5,406.5S760.5,423.2 756.4,429.2C748.3,441.1 740,446 731.7,445.9S715.3,440.9 707.2,434.7S691.1,421.1 683.1,415.7S667.4,407 659.7,409.3S644,419.7 636,430.6S620,455.2 612,468.6S595.9,495.1 587.8,506.1S571.7,525.9 563.5,530.7S547,535.8 538.8,532.2S522.5,521.4 514.4,513.1S498.4,495.2 490.3,486.6S474.3,470.4 466.4,466S450.7,460.4 442.8,461S426.9,464.2 418.9,467.4S402.9,474.5 394.8,477.7S378.7,483.5 370.7,485.5S354.5,489 346.5,489.9S330.4,491.3 322.3,491.3S306.2,490.9 298.2,490.7S282.2,490.7 274.2,491.9S258.3,495.2 250.4,499.2S234.5,508.9 226.5,517.3S210.5,536.5 202.4,550.6C198.3,557.7 194.2,565.6 190.1,574.4C188,578.8 186,583.5 183.9,588.4S179.9,598.5 177.8,603.9Z" fill="#35429b" stroke="#35429b"/>
<path d="M177.8,603.9C179.9,598.5 181.9,593.3 183.9,588.4S188,578.8 190.1,574.4C194.2,565.6 198.3,557.7 202.4,550.6C210.5,536.5 218.5,525.6 226.5,517.3S242.4,503.2 250.4,499.2S266.3,493 274.2,491.9S290.2,490.6 298.2,490.7S314.3,491.3 322.3,491.3S338.4,490.9 346.5,489.9S362.6,487.6 370.7,485.5S386.8,480.9 394.8,477.7S410.9,470.6 418.9,467.4S434.9,461.7 442.8,461S458.5,461.6 466.4,466S482.3,478 490.3,486.6S506.4,504.7 514.4,513.1S530.6,528.5 538.8,532.2S555.4,535.6 563.5,530.7S579.8,517.1 587.8,506.1S603.9,482 612,468.6S628,441.5 636,430.6S652,411.6 659.7,409.3S675.2,410.3 683.1,415.7S699.1,428.6 707.2,434.7S723.4,445.8 731.7,445.9S748.3,441.1 756.4,429.2C760.5,423.2 764.5,415.5 768.5,406.5S776.6,387.1 780.6,375.8S788.6,352.3 792.7,339.6S800.7,313.6 804.7,300.3S812.7,273.5 816.7,260.5S824.8,234.7 828.8,222.7S836.8,199.6 840.8,189.6S848.8,170.8 852.8,163.3S860.8,149.9 864.8,145.4S872.6,138.1 876.5,137S883.9,136.7 887.8,140.1S895.6,149.7 899.7,159.5S907.8,182.6 911.9,200.2S920,239.3 924,261.2S931.9,305 935.9,332.2S944.1,357.2 948.2,453L948.1,451.8C944,350.8 939.8,357.9 935.8,330.7S927.8,282.3 923.9,260.5S915.9,217.2 911.8,199.5S903.6,168.5 899.6,158.8S891.6,143 887.7,139.7S880.3,135.7 876.5,136.8S868.8,140.7 864.8,145.1S856.9,155.4 852.9,162.7S844.9,178.7 840.9,188.5S832.9,209.5 828.9,221.4S820.9,246.1 816.8,259.2S808.8,285.7 804.8,299.1S796.8,325.7 792.8,338.5S784.7,363.6 780.7,374.9S772.7,396.6 768.6,405.5S760.6,422.1 756.5,427.9C748.4,439.4 740,443.7 731.7,443.4S715.2,438.3 707.1,432.3S691,418.9 683.1,413.4S667.4,404.1 659.7,406.3S644.1,416.8 636.1,428.1S620.1,453.5 612.1,467.2S596,494.1 587.9,505.1S571.8,524.9 563.6,529.9S546.9,535.2 538.7,531.5S522.4,520.5 514.4,512.1S498.3,493.9 490.3,485.1S474.3,468.6 466.4,464.1S450.7,458.3 442.8,458.8S426.9,461.8 419,465S402.9,472 394.9,475.3S378.8,481.3 370.7,483.5S354.6,487.2 346.5,488.3S330.4,490 322.3,490.1S306.2,489.8 298.2,489.7S282.2,489.7 274.3,490.9S258.4,494.4 250.4,498.4S234.6,508.2 226.6,516.6S210.6,536 202.4,550.2C198.3,557.4 194.2,565.3 190.1,574.2C188,578.7 186,583.4 183.9,588.3S179.9,598.4 177.8,603.9Z" fill="#323a97" stroke="#323a97"/>
<path d="M177.8,603.9C179.9,598.4 181.9,593.3 183.9,588.3S188,578.7 190.1,574.2C194.2,565.3 198.3,557.4 202.4,550.2C210.6,536 218.6,525 226.6,516.6S242.5,502.4 250.4,498.4S266.3,492.1 274.3,490.9S290.2,489.5 298.2,489.7S314.3,490.2 322.3,490.1S338.4,489.4 346.5,488.3S362.6,485.6 370.7,483.5S386.8,478.6 394.9,475.3S411,468.1 419,465S434.9,459.3 442.8,458.8S458.5,459.6 466.4,464.1S482.3,476.4 490.3,485.1S506.3,503.6 514.4,512.1S530.5,527.8 538.7,531.5S555.4,534.8 563.6,529.9S579.9,516.1 587.9,505.1S604,480.9 612.1,467.2S628.1,439.3 636.1,428.1S652.1,408.5 659.7,406.3S675.1,407.8 683.1,413.4S699.1,426.2 707.1,432.3S723.4,443.1 731.7,443.4S748.4,439.4 756.5,427.9C760.6,422.1 764.6,414.5 768.6,405.5S776.7,386.2 780.7,374.9S788.7,351.3 792.8,338.5S800.8,312.4 804.8,299.1S812.8,272.2 816.8,259.2S824.9,233.4 828.9,221.4S836.9,198.4 840.9,188.5S848.9,170 852.9,162.7S860.9,149.5 864.8,145.1S872.7,137.9 876.5,136.8S883.9,136.4 887.7,139.7S895.5,149.1 899.6,158.8S907.7,181.8 911.8,199.5S920,238.8 923.9,260.5S931.8,303.5 935.8,330.7S944,350.8 948.1,451.8" fill="none" stroke="#313695"/>
</g>
<g stroke="#000" stroke-width="3.2">
<line x1="154" x2="161.7" y1="671.4" y2="671.4"/>
<line x1="154" x2="161.7" y1="603.5" y2="603.5"/>
<line x1="154" x2="161.7" y1="535.5" y2="535.5"/>
<line x1="154" x2="161.7" y1="467.6" y2="467.6"/>
<line x1="154" x2="161.7" y1="399.7" y2="399.7"/>
<line x1="154" x2="161.7" y1="331.8" y2="331.8"/>
<line x1="154" x2="161.7" y1="263.8" y2="263.8"/>
<line x1="154" x2="161.7" y1="195.9" y2="195.9"/>
<line x1="154" x2="161.7" y1="128" y2="128"/>
<line x1="177.8" x2="177.8" y1="671.4" y2="663.7"/>
<line x1="370.5" x2="370.5" y1="671.4" y2="663.7"/>
<line x1="563.2" x2="563.2" y1="671.4" y2="663.7"/>
<line x1="755.8" x2="755.8" y1="671.4" y2="663.7"/>
<line x1="948.5" x2="948.5" y1="671.4" y2="663.7"/>
</g>
<rect x="154" y="128" width="818.6" height="543.4" fill="none" stroke="#000" stroke-width="3.5"/>
<g font-family="'DejaVu Sans','Liberation Sans',sans-serif" font-size="28.0" text-anchor="end" fill="#000">
<text x="145.1" y="682.9">−0.2</text>
<text x="145.1" y="615">0.0</text>
<text x="145.1" y="547">0.2</text>
<text x="145.1" y="479.1">0.4</text>
<text x="145.1" y="411.2">0.6</text>
<text x="145.1" y="343.3">0.8</text>
<text x="145.1" y="275.3">1.0</text>
<text x="145.1" y="207.4">1.2</text>
<text x="145.1" y="139.5">1.4</text>
</g>
<text x="803" y="586.5" font-family="'DejaVu Sans','Liberation Sans',sans-serif" font-size="47.4" fill="#000">i) Co</text>
</g>
<g id="panel2">
<g stroke="#808080" stroke-opacity="0.3" stroke-width="2.8" stroke-dasharray="12.8 6.0" fill="none">
<line x1="177.8" x2="177.8" y1="1267" y2="723.6"/>
<line x1="370.5" x2="370.5" y1="1267" y2="723.6"/>
<line x1="563.2" x2="563.2" y1="1267" y2="723.6"/>
<line x1="755.8" x2="755.8" y1="1267" y2="723.6"/>
<line x1="948.5" x2="948.5" y1="1267" y2="723.6"/>
<line x1="154" x2="972.6" y1="1267" y2="1267"/>
<line x1="154" x2="972.6" y1="1199.1" y2="1199.1"/>
<line x1="154" x2="972.6" y1="1131.1" y2="1131.1"/>
<line x1="154" x2="972.6" y1="1063.2" y2="1063.2"/>
<line x1="154" x2="972.6" y1="995.3" y2="995.3"/>
<line x1="154" x2="972.6" y1="927.4" y2="927.4"/>
<line x1="154" x2="972.6" y1="859.4" y2="859.4"/>
<line x1="154" x2="972.6" y1="791.5" y2="791.5"/>
<line x1="154" x2="972.6" y1="723.6" y2="723.6"/>
</g>
<g clip-path="url(#cl1)" stroke-width="1.7" stroke-linejoin="round" stroke-linecap="butt">
<path d="M177.7,1200.1C179.7,1197.8 181.7,1195.6 183.7,1193.5S187.6,1189.4 189.5,1187.5C193.4,1183.8 197.4,1180.5 201.4,1177.7C209.5,1172.1 217.6,1168.2 225.7,1165.7S241.9,1161.7 250,1161.3S266.2,1161.4 274.2,1162.4S290.4,1164.9 298.4,1166.5S314.5,1169.9 322.5,1171.4S338.5,1174.2 346.5,1174.9S362.4,1175.5 370.4,1175S386.4,1173.6 394.4,1172.3S410.4,1169.4 418.5,1167.8S434.5,1164.3 442.6,1162.6S458.6,1159.3 466.7,1158S482.8,1156 490.9,1155.8S507,1155.6 515,1155.2S531.1,1154.1 539.2,1153S555.3,1150.1 563.4,1147.6S579.6,1141.5 587.6,1138S603.3,1130.3 611.2,1127.1S627.2,1122.1 635.4,1121.9S651.7,1123.4 659.8,1126.2S676,1133.3 684,1138.4S700.2,1149.9 708.1,1155.2S723.9,1164.2 731.6,1162.9S747.2,1155.1 755.1,1143.4C759.1,1137.6 763.1,1130.5 767.1,1122.6S775.1,1106 779.1,1097S787.2,1079 791.2,1069.3S799.2,1048.8 803.2,1036.1S811.2,1008 815.2,994.1S823.3,967.4 827.3,955.5S835.3,932.5 839.3,921.9S847.4,901.1 851.4,891.2S859.4,871.8 863.4,862.4S871.6,843.8 875.9,835.9S884.5,821.4 888.7,817.3S896.3,811.7 900,813.1S907.8,819.5 911.8,826S919.8,840.2 923.7,850.2S931.6,872.5 935.6,888.1S943.7,922.6 947.7,945.5L947.9,948.1C943.9,926.2 939.8,907.2 935.8,891.1S927.8,862 923.9,851.5S915.9,833 911.9,826.5S903.8,815.6 900.1,814.1S892.7,814.1 888.6,817.9S880.2,827.7 876,835.2S867.7,851.5 863.6,860.6S855.6,879.2 851.6,889S843.5,908.9 839.5,919.4S831.5,940.6 827.5,952.1S819.4,976.1 815.4,990S807.4,1019 803.4,1032S795.4,1056.2 791.4,1066.4S783.3,1085.9 779.3,1094.9S771.3,1112.6 767.3,1120.3S759.3,1135.1 755.3,1140.8C747.3,1152.3 739.4,1158.9 731.6,1160.2S716,1157.7 708,1152.3S692,1140 683.9,1134.8S667.8,1125.8 659.7,1123.3S643.5,1119.9 635.4,1120.5S619.2,1123.5 611.2,1127S595.5,1134.8 587.5,1138.6S571.4,1146.1 563.3,1148.7S547.2,1153 539.2,1154S523.1,1155.5 515,1155.7S498.9,1155.6 490.9,1155.7S474.8,1156.4 466.7,1157.6S450.6,1160.2 442.6,1161.8S426.5,1165.2 418.5,1166.8S402.5,1170 394.5,1171.3S378.4,1173.6 370.4,1174.1S354.4,1174.6 346.4,1173.9S330.4,1171.9 322.4,1170.4S306.4,1167 298.3,1165.4S282.3,1162.2 274.2,1161.2S258.1,1159.7 250,1160.2S233.9,1162 225.8,1164.7S209.6,1171.4 201.5,1177.1C197.5,1180 193.5,1183.4 189.6,1187.2C187.6,1189.1 185.7,1191.2 183.7,1193.3S179.7,1197.7 177.8,1200.1Z" fill="#ab0626" stroke="#ab0626"/>
<path d="M177.8,1200.1C179.7,1197.7 181.7,1195.5 183.7,1193.3S187.6,1189.1 189.6,1187.2C193.5,1183.4 197.5,1180 201.5,1177.1C209.6,1171.4 217.7,1167.4 225.8,1164.7S241.9,1160.6 250,1160.2S266.2,1160.2 274.2,1161.2S290.3,1163.7 298.3,1165.4S314.4,1168.8 322.4,1170.4S338.4,1173.2 346.4,1173.9S362.4,1174.6 370.4,1174.1S386.4,1172.6 394.5,1171.3S410.5,1168.5 418.5,1166.8S434.6,1163.5 442.6,1161.8S458.7,1158.7 466.7,1157.6S482.8,1155.8 490.9,1155.7S507,1155.8 515,1155.7S531.1,1155 539.2,1154S555.3,1151.3 563.3,1148.7S579.5,1142.4 587.5,1138.6S603.3,1130.4 611.2,1127S627.3,1121.2 635.4,1120.5S651.6,1120.9 659.7,1123.3S675.9,1129.7 683.9,1134.8S700,1146.8 708,1152.3S723.9,1161.6 731.6,1160.2S747.3,1152.3 755.3,1140.8C759.3,1135.1 763.3,1128.1 767.3,1120.3S775.3,1104 779.3,1094.9S787.4,1076.6 791.4,1066.4S799.4,1045 803.4,1032S811.4,1003.8 815.4,990S823.5,963.6 827.5,952.1S835.5,929.9 839.5,919.4S847.6,898.8 851.6,889S859.6,869.7 863.6,860.6S871.8,842.7 876,835.2S884.5,821.6 888.6,817.9S896.3,812.7 900.1,814.1S907.9,820.1 911.9,826.5S919.9,841 923.9,851.5S931.8,875.1 935.8,891.1S943.9,926.2 947.9,948.1L948.1,950.8C944.1,929.8 940.1,910.7 936,894.2S928,863.8 924.1,852.8S916.1,833.4 912.1,827.1S904,816.5 900.2,815.1S892.5,815 888.5,818.5S880.2,827.5 876.1,834.5S867.8,849.9 863.8,858.7S855.8,877 851.8,886.8S843.7,906.7 839.7,917S831.7,937.7 827.7,948.8S819.6,972.1 815.6,985.8S807.6,1014.6 803.6,1027.9S795.6,1052.9 791.6,1063.5S783.5,1083.7 779.5,1092.8S771.5,1110.4 767.5,1118.1S759.5,1132.6 755.5,1138.2C747.5,1149.5 739.5,1156.2 731.7,1157.6S715.9,1155 707.9,1149.3S691.8,1136.5 683.8,1131.3S667.7,1122.4 659.6,1120.4S643.5,1118 635.4,1119.1S619.2,1123 611.3,1126.8S595.4,1135.1 587.4,1139.2S571.3,1147.1 563.3,1149.8S547.2,1154.1 539.1,1155S523,1156.1 515,1156.1S498.9,1155.7 490.9,1155.7S474.8,1156.1 466.7,1157.1S450.7,1159.5 442.6,1161.1S426.6,1164.3 418.6,1165.9S402.5,1169.1 394.5,1170.3S378.5,1172.6 370.4,1173.1S354.4,1173.6 346.4,1172.9S330.4,1170.9 322.4,1169.3S306.3,1165.9 298.3,1164.2S282.2,1161 274.2,1160S258.1,1158.5 250,1159S233.9,1160.9 225.8,1163.7S209.7,1170.7 201.7,1176.6C197.6,1179.6 193.6,1183 189.7,1186.9C187.7,1188.9 185.7,1191 183.7,1193.2S179.8,1197.7 177.8,1200.2Z" fill="#b81226" stroke="#b81226"/>
<path d="M177.8,1200.2C179.8,1197.7 181.8,1195.4 183.7,1193.2S187.7,1188.9 189.7,1186.9C193.6,1183 197.6,1179.6 201.7,1176.6C209.7,1170.7 217.8,1166.5 225.8,1163.7S242,1159.5 250,1159S266.1,1159 274.2,1160S290.3,1162.5 298.3,1164.2S314.4,1167.7 322.4,1169.3S338.4,1172.2 346.4,1172.9S362.4,1173.6 370.4,1173.1S386.5,1171.6 394.5,1170.3S410.5,1167.5 418.6,1165.9S434.6,1162.6 442.6,1161.1S458.7,1158.1 466.7,1157.1S482.8,1155.6 490.9,1155.7S507,1156.1 515,1156.1S531.1,1155.8 539.1,1155S555.2,1152.5 563.3,1149.8S579.4,1143.3 587.4,1139.2S603.3,1130.6 611.3,1126.8S627.3,1120.3 635.4,1119.1S651.6,1118.4 659.6,1120.4S675.8,1126 683.8,1131.3S699.9,1143.7 707.9,1149.3S723.8,1159 731.7,1157.6S747.5,1149.5 755.5,1138.2C759.5,1132.6 763.5,1125.8 767.5,1118.1S775.5,1102 779.5,1092.8S787.5,1074.1 791.6,1063.5S799.6,1041.2 803.6,1027.9S811.6,999.6 815.6,985.8S823.7,959.9 827.7,948.8S835.7,927.3 839.7,917S847.8,896.5 851.8,886.8S859.8,867.6 863.8,858.7S871.9,841.5 876.1,834.5S884.4,821.9 888.5,818.5S896.3,813.7 900.2,815.1S908.1,820.7 912.1,827.1S920.1,841.8 924.1,852.8S932,877.7 936,894.2S944.1,929.8 948.1,950.8L948.3,953.5C944.3,933.3 940.3,914.2 936.3,897.3S928.2,865.7 924.2,854.1S916.2,833.9 912.2,827.6S904.2,817.4 900.3,816.1S892.4,815.9 888.4,819.1S880.2,827.3 876.1,833.9S868,848.3 864,856.9S856,874.8 852,884.5S843.9,904.4 839.9,914.6S831.9,934.7 827.9,945.4S819.8,968.1 815.8,981.7S807.8,1010.2 803.8,1023.8S795.8,1049.6 791.8,1060.6S783.7,1081.6 779.7,1090.7S771.7,1108.3 767.7,1115.9S759.7,1130.1 755.6,1135.6C747.6,1146.8 739.6,1153.5 731.7,1155S715.8,1152.3 707.8,1146.4S691.7,1133.1 683.7,1127.7S667.6,1119.1 659.6,1117.5S643.5,1116.1 635.4,1117.7S619.3,1122.6 611.3,1126.6S595.3,1135.5 587.3,1139.8S571.3,1148.2 563.2,1151S547.1,1155.2 539.1,1156S523,1156.7 515,1156.5S498.9,1155.8 490.9,1155.6S474.8,1155.8 466.8,1156.7S450.7,1158.8 442.7,1160.3S426.6,1163.4 418.6,1165S402.5,1168.1 394.5,1169.4S378.5,1171.7 370.5,1172.2S354.4,1172.7 346.4,1172S330.4,1169.9 322.3,1168.3S306.3,1164.8 298.3,1163S282.2,1159.7 274.2,1158.7S258.1,1157.3 250,1157.8S234,1159.9 225.9,1162.8S209.8,1170 201.8,1176.1C197.8,1179.1 193.8,1182.6 189.8,1186.6C187.8,1188.6 185.8,1190.8 183.8,1193S179.8,1197.7 177.8,1200.2Z" fill="#c41e27" stroke="#c41e27"/>
<path d="M177.8,1200.2C179.8,1197.7 181.8,1195.3 183.8,1193S187.8,1188.6 189.8,1186.6C193.8,1182.6 197.8,1179.1 201.8,1176.1C209.8,1170 217.9,1165.7 225.9,1162.8S242,1158.4 250,1157.8S266.1,1157.7 274.2,1158.7S290.2,1161.3 298.3,1163S314.3,1166.6 322.3,1168.3S338.4,1171.2 346.4,1172S362.4,1172.7 370.5,1172.2S386.5,1170.7 394.5,1169.4S410.6,1166.6 418.6,1165S434.7,1161.7 442.7,1160.3S458.7,1157.5 466.8,1156.7S482.9,1155.4 490.9,1155.6S507,1156.3 515,1156.5S531.1,1156.7 539.1,1156S555.2,1153.7 563.2,1151S579.3,1144.2 587.3,1139.8S603.3,1130.7 611.3,1126.6S627.3,1119.4 635.4,1117.7S651.5,1115.9 659.6,1117.5S675.6,1122.4 683.7,1127.7S699.8,1140.5 707.8,1146.4S723.8,1156.4 731.7,1155S747.6,1146.8 755.6,1135.6C759.7,1130.1 763.7,1123.4 767.7,1115.9S775.7,1099.9 779.7,1090.7S787.7,1071.6 791.8,1060.6S799.8,1037.4 803.8,1023.8S811.8,995.4 815.8,981.7S823.9,956.1 827.9,945.4S835.9,924.8 839.9,914.6S848,894.3 852,884.5S860,865.5 864,856.9S872.1,840.4 876.1,833.9S884.3,822.2 888.4,819.1S896.3,814.8 900.3,816.1S908.2,821.3 912.2,827.6S920.2,842.5 924.2,854.1S932.2,880.4 936.3,897.3S944.3,933.3 948.3,953.5L948.5,956.2C944.5,936.9 940.5,917.7 936.5,900.4S928.4,867.5 924.4,855.4S916.4,834.4 912.4,828.1S904.3,818.4 900.3,817.1S892.3,816.8 888.3,819.7S880.3,827.1 876.2,833.2S868.2,846.7 864.2,855S856.2,872.6 852.2,882.3S844.1,902.1 840.1,912.1S832.1,931.8 828.1,942.1S820,964.1 816,977.6S808,1005.8 804,1019.7S796,1046.3 792,1057.7S783.9,1079.4 779.9,1088.7S771.9,1106.2 767.9,1113.6S759.8,1127.6 755.8,1133C747.8,1144 739.8,1150.8 731.7,1152.3S715.7,1149.6 707.7,1143.5S691.6,1129.6 683.6,1124.2S667.5,1115.7 659.5,1114.6S643.4,1114.2 635.4,1116.3S619.3,1122.1 611.3,1126.5S595.3,1135.8 587.2,1140.4S571.2,1149.3 563.2,1152.1S547.1,1156.4 539.1,1157S523,1157.4 515,1156.9S498.9,1155.8 490.9,1155.5S474.8,1155.5 466.8,1156.2S450.8,1158.1 442.7,1159.5S426.7,1162.5 418.6,1164S402.6,1167.1 394.6,1168.4S378.5,1170.7 370.5,1171.2S354.4,1171.7 346.4,1171S330.3,1168.9 322.3,1167.2S306.2,1163.6 298.2,1161.9S282.2,1158.5 274.1,1157.5S258.1,1156.1 250.1,1156.7S234,1158.8 226,1161.8S209.9,1169.3 201.9,1175.5C197.9,1178.7 193.9,1182.2 189.8,1186.4C187.8,1188.4 185.8,1190.6 183.8,1192.9S179.8,1197.7 177.8,1200.3Z" fill="#d12a27" stroke="#d12a27"/>
<path d="M177.8,1200.3C179.8,1197.7 181.8,1195.2 183.8,1192.9S187.8,1188.4 189.8,1186.4C193.9,1182.2 197.9,1178.7 201.9,1175.5C209.9,1169.3 217.9,1164.8 226,1161.8S242,1157.3 250.1,1156.7S266.1,1156.5 274.1,1157.5S290.2,1160.1 298.2,1161.9S314.3,1165.5 322.3,1167.2S338.4,1170.3 346.4,1171S362.4,1171.7 370.5,1171.2S386.5,1169.7 394.6,1168.4S410.6,1165.6 418.6,1164S434.7,1160.9 442.7,1159.5S458.8,1156.9 466.8,1156.2S482.9,1155.3 490.9,1155.5S507,1156.5 515,1156.9S531,1157.6 539.1,1157S555.1,1154.9 563.2,1152.1S579.2,1145.1 587.2,1140.4S603.3,1130.8 611.3,1126.5S627.4,1118.5 635.4,1116.3S651.5,1113.4 659.5,1114.6S675.5,1118.8 683.6,1124.2S699.6,1137.4 707.7,1143.5S723.7,1153.8 731.7,1152.3S747.8,1144 755.8,1133C759.8,1127.6 763.9,1121 767.9,1113.6S775.9,1097.9 779.9,1088.7S787.9,1069.1 792,1057.7S800,1033.5 804,1019.7S812,991.1 816,977.6S824.1,952.4 828.1,942.1S836.1,922.2 840.1,912.1S848.1,892 852.2,882.3S860.2,863.4 864.2,855S872.2,839.2 876.2,833.2S884.3,822.5 888.3,819.7S896.3,815.8 900.3,817.1S908.4,821.9 912.4,828.1S920.4,843.3 924.4,855.4S932.4,883 936.5,900.4S944.5,936.9 948.5,956.2L948.5,959.1C944.5,939.8 940.5,920.1 936.5,902.3S928.4,868.8 924.4,856.5S916.4,835.2 912.4,828.8S904.3,818.8 900.3,817.5S892.3,817.1 888.3,819.9S880.3,827.2 876.2,833.2S868.2,846.4 864.2,854.7S856.2,872.1 852.2,881.6S844.1,901.1 840.1,911S832.1,930.6 828.1,940.8S820,962.7 816,975.9S808,1003.5 804,1017.6S796,1044.7 792,1056.1S783.9,1077.8 779.9,1087.2S771.9,1105 767.9,1112.5S759.8,1126.5 755.8,1131.8C747.8,1142.5 739.8,1148.7 731.7,1150S715.7,1147.1 707.7,1141.4S691.6,1127.9 683.6,1122S667.5,1113.2 659.5,1112.2S643.4,1112.5 635.4,1115.2S619.3,1121.8 611.3,1126.5S595.3,1136.3 587.2,1141S571.2,1150 563.2,1152.9S547.1,1157.1 539.1,1157.6S523,1157.8 515,1157.3S498.9,1155.9 490.9,1155.5S474.8,1155.1 466.8,1155.7S450.8,1157.4 442.7,1158.7S426.7,1161.5 418.6,1163.1S402.6,1166.2 394.6,1167.6S378.5,1170 370.5,1170.6S354.4,1171.2 346.4,1170.4S330.3,1168.2 322.3,1166.4S306.2,1162.6 298.2,1160.8S282.2,1157.3 274.1,1156.4S258.1,1155.1 250.1,1155.8S234,1158.2 226,1161.3S209.9,1169 201.9,1175.4C197.9,1178.5 193.9,1182.1 189.8,1186.2C187.8,1188.3 185.8,1190.5 183.8,1192.8S179.8,1197.5 177.8,1200.1Z" fill="#dc3b2c" stroke="#dc3b2c"/>
<path d="M177.8,1200.1C179.8,1197.5 181.8,1195.1 183.8,1192.8S187.8,1188.3 189.8,1186.2C193.9,1182.1 197.9,1178.5 201.9,1175.4C209.9,1169 217.9,1164.5 226,1161.3S242,1156.5 250.1,1155.8S266.1,1155.4 274.1,1156.4S290.2,1159 298.2,1160.8S314.3,1164.7 322.3,1166.4S338.4,1169.7 346.4,1170.4S362.4,1171.2 370.5,1170.6S386.5,1168.9 394.6,1167.6S410.6,1164.7 418.6,1163.1S434.7,1160 442.7,1158.7S458.8,1156.3 466.8,1155.7S482.9,1155.1 490.9,1155.5S507,1156.7 515,1157.3S531,1158.2 539.1,1157.6S555.1,1155.7 563.2,1152.9S579.2,1145.8 587.2,1141S603.3,1131.1 611.3,1126.5S627.4,1117.8 635.4,1115.2S651.5,1111.3 659.5,1112.2S675.5,1116.2 683.6,1122S699.6,1135.8 707.7,1141.4S723.7,1151.2 731.7,1150S747.8,1142.5 755.8,1131.8C759.8,1126.5 763.9,1120 767.9,1112.5S775.9,1096.5 779.9,1087.2S787.9,1067.6 792,1056.1S800,1031.6 804,1017.6S812,989.1 816,975.9S824.1,951.1 828.1,940.8S836.1,921 840.1,911S848.1,891.2 852.2,881.6S860.2,862.9 864.2,854.7S872.2,839.1 876.2,833.2S884.3,822.6 888.3,819.9S896.3,816.2 900.3,817.5S908.4,822.5 912.4,828.8S920.4,844.2 924.4,856.5S932.4,884.5 936.5,902.3S944.5,939.8 948.5,959.1L948.5,962C944.5,942.6 940.5,922.4 936.5,904.2S928.4,870.1 924.4,857.6S916.4,835.9 912.4,829.5S904.3,819.3 900.3,817.9S892.3,817.4 888.3,820.1S880.3,827.3 876.2,833.1S868.2,846.2 864.2,854.3S856.2,871.5 852.2,880.9S844.1,900.1 840.1,909.9S832.1,929.3 828.1,939.6S820,961.2 816,974.2S808,1001.3 804,1015.4S796,1043.1 792,1054.6S783.9,1076.2 779.9,1085.7S771.9,1103.9 767.9,1111.4S759.8,1125.3 755.8,1130.6C747.8,1141 739.8,1146.6 731.7,1147.7S715.7,1144.7 707.7,1139.4S691.6,1126.2 683.6,1119.9S667.5,1110.6 659.5,1109.9S643.4,1110.9 635.4,1114S619.3,1121.6 611.3,1126.5S595.3,1136.8 587.2,1141.6S571.2,1150.8 563.2,1153.6S547.1,1157.8 539.1,1158.3S523,1158.3 515,1157.7S498.9,1156.1 490.9,1155.5S474.8,1154.8 466.8,1155.3S450.8,1156.7 442.7,1157.9S426.7,1160.6 418.6,1162.1S402.6,1165.4 394.6,1166.8S378.5,1169.4 370.5,1170S354.4,1170.7 346.4,1169.9S330.3,1167.5 322.3,1165.6S306.2,1161.6 298.2,1159.7S282.2,1156.2 274.1,1155.2S258.1,1154.1 250.1,1154.9S234,1157.6 226,1160.8S209.9,1168.8 201.9,1175.2C197.9,1178.4 193.9,1182 189.8,1186.1C187.8,1188.2 185.8,1190.3 183.8,1192.6S179.8,1197.4 177.8,1199.9Z" fill="#e24631" stroke="#e24631"/>
<path d="M177.8,1199.9C179.8,1197.4 181.8,1194.9 183.8,1192.6S187.8,1188.2 189.8,1186.1C193.9,1182 197.9,1178.4 201.9,1175.2C209.9,1168.8 217.9,1164.1 226,1160.8S242,1155.7 250.1,1154.9S266.1,1154.3 274.1,1155.2S290.2,1157.8 298.2,1159.7S314.3,1163.8 322.3,1165.6S338.4,1169.1 346.4,1169.9S362.4,1170.6 370.5,1170S386.5,1168.2 394.6,1166.8S410.6,1163.7 418.6,1162.1S434.7,1159.1 442.7,1157.9S458.8,1155.8 466.8,1155.3S482.9,1154.9 490.9,1155.5S507,1157 515,1157.7S531,1158.7 539.1,1158.3S555.1,1156.5 563.2,1153.6S579.2,1146.5 587.2,1141.6S603.3,1131.4 611.3,1126.5S627.4,1117.1 635.4,1114S651.5,1109.3 659.5,1109.9S675.5,1113.6 683.6,1119.9S699.6,1134.1 707.7,1139.4S723.7,1148.7 731.7,1147.7S747.8,1141 755.8,1130.6C759.8,1125.3 763.9,1119 767.9,1111.4S775.9,1095.2 779.9,1085.7S787.9,1066 792,1054.6S800,1029.6 804,1015.4S812,987.1 816,974.2S824.1,949.8 828.1,939.6S836.1,919.8 840.1,909.9S848.1,890.3 852.2,880.9S860.2,862.5 864.2,854.3S872.2,839 876.2,833.1S884.3,822.8 888.3,820.1S896.3,816.5 900.3,817.9S908.4,823 912.4,829.5S920.4,845.1 924.4,857.6S932.4,886 936.5,904.2S944.5,942.6 948.5,962L948.5,964.9C944.5,945.5 940.5,924.8 936.5,906.2S928.4,871.3 924.4,858.7S916.4,836.7 912.4,830.2S904.3,819.8 900.3,818.3S892.3,817.7 888.3,820.3S880.3,827.3 876.2,833.1S868.2,846 864.2,854S856.2,870.9 852.2,880.2S844.1,899.1 840.1,908.9S832.1,928.1 828.1,938.3S820,959.8 816,972.5S808,999 804,1013.3S796,1041.5 792,1053S783.9,1074.6 779.9,1084.2S771.9,1102.7 767.9,1110.3S759.8,1124.2 755.8,1129.3C747.8,1139.4 739.8,1144.6 731.7,1145.3S715.7,1142.3 707.7,1137.4S691.6,1124.5 683.6,1117.8S667.5,1108 659.5,1107.6S643.4,1109.3 635.4,1112.8S619.3,1121.3 611.3,1126.5S595.3,1137.2 587.2,1142.2S571.2,1151.6 563.2,1154.4S547.1,1158.5 539.1,1158.9S523,1158.8 515,1158S498.9,1156.2 490.9,1155.5S474.8,1154.5 466.8,1154.9S450.8,1156 442.7,1157.1S426.7,1159.6 418.6,1161.2S402.6,1164.5 394.6,1165.9S378.5,1168.7 370.5,1169.4S354.4,1170.1 346.4,1169.3S330.3,1166.8 322.3,1164.9S306.2,1160.6 298.2,1158.7S282.2,1155 274.1,1154.1S258.1,1153 250.1,1154S234,1156.9 226,1160.4S209.9,1168.5 201.9,1175C197.9,1178.2 193.9,1181.9 189.8,1186C187.8,1188.1 185.8,1190.2 183.8,1192.5S179.8,1197.2 177.8,1199.8Z" fill="#e75136" stroke="#e75136"/>
<path d="M177.8,1199.8C179.8,1197.2 181.8,1194.8 183.8,1192.5S187.8,1188.1 189.8,1186C193.9,1181.9 197.9,1178.2 201.9,1175C209.9,1168.5 217.9,1163.8 226,1160.4S242,1154.9 250.1,1154S266.1,1153.2 274.1,1154.1S290.2,1156.7 298.2,1158.7S314.3,1162.9 322.3,1164.9S338.4,1168.5 346.4,1169.3S362.4,1170 370.5,1169.4S386.5,1167.4 394.6,1165.9S410.6,1162.8 418.6,1161.2S434.7,1158.2 442.7,1157.1S458.8,1155.2 466.8,1154.9S482.9,1154.8 490.9,1155.5S507,1157.2 515,1158S531,1159.3 539.1,1158.9S555.1,1157.2 563.2,1154.4S579.2,1147.2 587.2,1142.2S603.3,1131.7 611.3,1126.5S627.4,1116.4 635.4,1112.8S651.5,1107.2 659.5,1107.6S675.5,1111 683.6,1117.8S699.6,1132.5 707.7,1137.4S723.7,1146.1 731.7,1145.3S747.8,1139.4 755.8,1129.3C759.8,1124.2 763.9,1117.9 767.9,1110.3S775.9,1093.8 779.9,1084.2S787.9,1064.5 792,1053S800,1027.6 804,1013.3S812,985.1 816,972.5S824.1,948.5 828.1,938.3S836.1,918.6 840.1,908.9S848.1,889.5 852.2,880.2S860.2,862 864.2,854S872.2,838.9 876.2,833.1S884.3,822.9 888.3,820.3S896.3,816.9 900.3,818.3S908.4,823.6 912.4,830.2S920.4,846.1 924.4,858.7S932.4,887.5 936.5,906.2S944.5,945.5 948.5,964.9L948.5,967.9C944.5,948.4 940.5,927.2 936.5,908.1S928.4,872.6 924.4,859.8S916.4,837.5 912.4,830.8S904.3,820.3 900.3,818.8S892.3,818 888.3,820.5S880.3,827.4 876.2,833.1S868.2,845.8 864.2,853.7S856.2,870.4 852.2,879.5S844.1,898.2 840.1,907.8S832.1,926.9 828.1,937S820,958.3 816,970.7S808,996.7 804,1011.2S796,1039.9 792,1051.4S783.9,1073 779.9,1082.7S771.9,1101.5 767.9,1109.2S759.8,1123.1 755.8,1128.1C747.8,1137.9 739.8,1142.5 731.7,1143S715.7,1139.8 707.7,1135.3S691.6,1122.8 683.6,1115.6S667.5,1105.5 659.5,1105.3S643.4,1107.7 635.4,1111.7S619.3,1121 611.3,1126.5S595.3,1137.7 587.2,1142.8S571.2,1152.3 563.2,1155.1S547.1,1159.3 539.1,1159.6S523,1159.3 515,1158.4S498.9,1156.3 490.9,1155.4S474.8,1154.2 466.8,1154.4S450.8,1155.3 442.7,1156.3S426.7,1158.7 418.6,1160.3S402.6,1163.6 394.6,1165.1S378.5,1168 370.5,1168.7S354.4,1169.6 346.4,1168.8S330.3,1166.1 322.3,1164.1S306.2,1159.7 298.2,1157.6S282.2,1153.8 274.1,1152.9S258.1,1152 250.1,1153.1S234,1156.3 226,1159.9S209.9,1168.3 201.9,1174.8C197.9,1178.1 193.9,1181.8 189.8,1185.9C187.8,1187.9 185.8,1190.1 183.8,1192.4S179.8,1197.1 177.8,1199.6Z" fill="#ec5b3b" stroke="#ec5b3b"/>
<path d="M177.8,1199.6C179.8,1197.1 181.8,1194.7 183.8,1192.4S187.8,1187.9 189.8,1185.9C193.9,1181.8 197.9,1178.1 201.9,1174.8C209.9,1168.3 217.9,1163.4 226,1159.9S242,1154.1 250.1,1153.1S266.1,1152 274.1,1152.9S290.2,1155.5 298.2,1157.6S314.3,1162 322.3,1164.1S338.4,1167.9 346.4,1168.8S362.4,1169.5 370.5,1168.7S386.5,1166.7 394.6,1165.1S410.6,1161.8 418.6,1160.3S434.7,1157.3 442.7,1156.3S458.8,1154.6 466.8,1154.4S482.9,1154.6 490.9,1155.4S507,1157.5 515,1158.4S531,1159.9 539.1,1159.6S555.1,1158 563.2,1155.1S579.2,1147.9 587.2,1142.8S603.3,1132 611.3,1126.5S627.4,1115.7 635.4,1111.7S651.5,1105.1 659.5,1105.3S675.5,1108.5 683.6,1115.6S699.6,1130.8 707.7,1135.3S723.7,1143.5 731.7,1143S747.8,1137.9 755.8,1128.1C759.8,1123.1 763.9,1116.9 767.9,1109.2S775.9,1092.5 779.9,1082.7S787.9,1063 792,1051.4S800,1025.7 804,1011.2S812,983.1 816,970.7S824.1,947.2 828.1,937S836.1,917.4 840.1,907.8S848.1,888.7 852.2,879.5S860.2,861.6 864.2,853.7S872.2,838.7 876.2,833.1S884.3,823 888.3,820.5S896.3,817.2 900.3,818.8S908.4,824.2 912.4,830.8S920.4,847 924.4,859.8S932.4,889 936.5,908.1S944.5,948.4 948.5,967.9L948.5,970.8C944.5,951.3 940.5,929.5 936.5,910S928.4,873.9 924.4,860.9S916.4,838.3 912.4,831.5S904.3,820.8 900.3,819.2S892.3,818.2 888.3,820.7S880.3,827.4 876.2,833S868.2,845.6 864.2,853.3S856.2,869.8 852.2,878.8S844.1,897.2 840.1,906.7S832.1,925.7 828.1,935.8S820,956.9 816,969S808,994.4 804,1009.1S796,1038.3 792,1049.9S783.9,1071.4 779.9,1081.2S771.9,1100.4 767.9,1108.1S759.8,1122 755.8,1126.8C747.8,1136.4 739.8,1140.4 731.7,1140.7S715.7,1137.4 707.7,1133.3S691.6,1121.1 683.6,1113.5S667.5,1102.9 659.5,1103S643.4,1106.1 635.4,1110.5S619.3,1120.7 611.3,1126.5S595.3,1138.2 587.2,1143.4S571.2,1153.1 563.2,1155.9S547.1,1160 539.1,1160.2S523,1159.8 515,1158.8S498.9,1156.4 490.9,1155.4S474.8,1153.9 466.8,1154S450.8,1154.6 442.7,1155.5S426.7,1157.8 418.6,1159.3S402.6,1162.7 394.6,1164.3S378.5,1167.3 370.5,1168.1S354.4,1169.1 346.4,1168.2S330.3,1165.5 322.3,1163.3S306.2,1158.7 298.2,1156.5S282.2,1152.6 274.1,1151.8S258.1,1151 250.1,1152.2S234,1155.7 226,1159.4S209.9,1168.1 201.9,1174.7C197.9,1178 193.9,1181.7 189.8,1185.8C187.8,1187.8 185.8,1190 183.8,1192.3S179.8,1196.9 177.8,1199.4Z" fill="#f16640" stroke="#f16640"/>
<path d="M177.8,1199.4C179.8,1196.9 181.8,1194.5 183.8,1192.3S187.8,1187.8 189.8,1185.8C193.9,1181.7 197.9,1178 201.9,1174.7C209.9,1168.1 217.9,1163 226,1159.4S242,1153.4 250.1,1152.2S266.1,1150.9 274.1,1151.8S290.2,1154.4 298.2,1156.5S314.3,1161.1 322.3,1163.3S338.4,1167.3 346.4,1168.2S362.4,1168.9 370.5,1168.1S386.5,1165.9 394.6,1164.3S410.6,1160.9 418.6,1159.3S434.7,1156.4 442.7,1155.5S458.8,1154 466.8,1154S482.9,1154.4 490.9,1155.4S507,1157.7 515,1158.8S531,1160.5 539.1,1160.2S555.1,1158.8 563.2,1155.9S579.2,1148.6 587.2,1143.4S603.3,1132.3 611.3,1126.5S627.4,1115 635.4,1110.5S651.5,1103 659.5,1103S675.5,1105.9 683.6,1113.5S699.6,1129.1 707.7,1133.3S723.7,1141 731.7,1140.7S747.8,1136.4 755.8,1126.8C759.8,1122 763.9,1115.9 767.9,1108.1S775.9,1091.1 779.9,1081.2S787.9,1061.4 792,1049.9S800,1023.7 804,1009.1S812,981.1 816,969S824.1,945.9 828.1,935.8S836.1,916.2 840.1,906.7S848.1,887.8 852.2,878.8S860.2,861.1 864.2,853.3S872.2,838.6 876.2,833S884.3,823.2 888.3,820.7S896.3,817.6 900.3,819.2S908.4,824.7 912.4,831.5S920.4,847.9 924.4,860.9S932.4,890.5 936.5,910S944.5,951.3 948.5,970.8L948.5,973.7C944.5,954.1 940.5,931.9 936.5,911.9S928.4,875.1 924.4,862S916.4,839.1 912.4,832.2S904.3,821.3 900.3,819.6S892.3,818.5 888.3,820.9S880.3,827.5 876.2,833S868.2,845.3 864.2,853S856.2,869.2 852.2,878.1S844.1,896.2 840.1,905.6S832.1,924.4 828.1,934.5S820,955.4 816,967.3S808,992.1 804,1006.9S796,1036.7 792,1048.3S783.9,1069.8 779.9,1079.8S771.9,1099.2 767.9,1107S759.8,1120.9 755.8,1125.6C747.8,1134.8 739.8,1138.3 731.7,1138.4S715.7,1135 707.7,1131.2S691.6,1119.4 683.6,1111.4S667.5,1100.4 659.5,1100.7S643.4,1104.5 635.4,1109.4S619.3,1120.4 611.3,1126.5S595.3,1138.7 587.2,1144S571.2,1153.8 563.2,1156.7S547.1,1160.7 539.1,1160.9S523,1160.3 515,1159.1S498.9,1156.5 490.9,1155.4S474.8,1153.6 466.8,1153.5S450.8,1153.9 442.7,1154.7S426.7,1156.8 418.6,1158.4S402.6,1161.8 394.6,1163.5S378.5,1166.7 370.5,1167.5S354.4,1168.6 346.4,1167.6S330.3,1164.8 322.3,1162.5S306.2,1157.7 298.2,1155.4S282.2,1151.4 274.1,1150.6S258.1,1150 250.1,1151.3S234,1155.1 226,1158.9S209.9,1167.8 201.9,1174.5C197.9,1177.8 193.9,1181.5 189.8,1185.7C187.8,1187.7 185.8,1189.9 183.8,1192.1S179.8,1196.8 177.8,1199.3Z" fill="#f57145" stroke="#f57145"/>
<path d="M177.8,1199.3C179.8,1196.8 181.8,1194.4 183.8,1192.1S187.8,1187.7 189.8,1185.7C193.9,1181.5 197.9,1177.8 201.9,1174.5C209.9,1167.8 217.9,1162.7 226,1158.9S242,1152.6 250.1,1151.3S266.1,1149.8 274.1,1150.6S290.2,1153.2 298.2,1155.4S314.3,1160.3 322.3,1162.5S338.4,1166.7 346.4,1167.6S362.4,1168.4 370.5,1167.5S386.5,1165.2 394.6,1163.5S410.6,1159.9 418.6,1158.4S434.7,1155.6 442.7,1154.7S458.8,1153.4 466.8,1153.5S482.9,1154.3 490.9,1155.4S507,1158 515,1159.1S531,1161.1 539.1,1160.9S555.1,1159.5 563.2,1156.7S579.2,1149.3 587.2,1144S603.3,1132.5 611.3,1126.5S627.4,1114.3 635.4,1109.4S651.5,1100.9 659.5,1100.7S675.5,1103.3 683.6,1111.4S699.6,1127.5 707.7,1131.2S723.7,1138.4 731.7,1138.4S747.8,1134.8 755.8,1125.6C759.8,1120.9 763.9,1114.8 767.9,1107S775.9,1089.7 779.9,1079.8S787.9,1059.9 792,1048.3S800,1021.8 804,1006.9S812,979.2 816,967.3S824.1,944.6 828.1,934.5S836.1,914.9 840.1,905.6S848.1,887 852.2,878.1S860.2,860.7 864.2,853S872.2,838.5 876.2,833S884.3,823.3 888.3,820.9S896.3,817.9 900.3,819.6S908.4,825.3 912.4,832.2S920.4,848.8 924.4,862S932.4,892 936.5,911.9S944.5,954.1 948.5,973.7L948.5,976.7C944.5,957 940.5,934.2 936.5,913.9S928.4,876.4 924.4,863.1S916.4,839.8 912.4,832.9S904.3,821.8 900.3,820S892.3,818.8 888.3,821.1S880.3,827.5 876.2,833S868.2,845.1 864.2,852.7S856.2,868.7 852.2,877.4S844.1,895.2 840.1,904.5S832.1,923.2 828.1,933.3S820,954 816,965.6S808,989.8 804,1004.8S796,1035.1 792,1046.7S783.9,1068.2 779.9,1078.3S771.9,1098 767.9,1105.9S759.8,1119.8 755.8,1124.3C747.8,1133.3 739.8,1136.2 731.7,1136S715.7,1132.6 707.7,1129.2S691.6,1117.7 683.6,1109.2S667.5,1097.8 659.5,1098.3S643.4,1102.9 635.4,1108.2S619.3,1120.1 611.3,1126.5S595.3,1139.1 587.2,1144.6S571.2,1154.6 563.2,1157.4S547.1,1161.4 539.1,1161.5S523,1160.8 515,1159.5S498.9,1156.6 490.9,1155.4S474.8,1153.3 466.8,1153.1S450.8,1153.2 442.7,1153.9S426.7,1155.9 418.6,1157.4S402.6,1160.9 394.6,1162.7S378.5,1166 370.5,1166.9S354.4,1168 346.4,1167.1S330.3,1164.1 322.3,1161.7S306.2,1156.7 298.2,1154.4S282.2,1150.2 274.1,1149.4S258.1,1148.9 250.1,1150.4S234,1154.4 226,1158.4S209.9,1167.6 201.9,1174.3C197.9,1177.7 193.9,1181.4 189.8,1185.5C187.8,1187.6 185.8,1189.8 183.8,1192S179.8,1196.6 177.8,1199.1Z" fill="#f67c4a" stroke="#f67c4a"/>
<path d="M177.8,1199.1C179.8,1196.6 181.8,1194.3 183.8,1192S187.8,1187.6 189.8,1185.5C193.9,1181.4 197.9,1177.7 201.9,1174.3C209.9,1167.6 217.9,1162.3 226,1158.4S242,1151.8 250.1,1150.4S266.1,1148.7 274.1,1149.4S290.2,1152.1 298.2,1154.4S314.3,1159.4 322.3,1161.7S338.4,1166.1 346.4,1167.1S362.4,1167.8 370.5,1166.9S386.5,1164.4 394.6,1162.7S410.6,1159 418.6,1157.4S434.7,1154.7 442.7,1153.9S458.8,1152.8 466.8,1153.1S482.9,1154.1 490.9,1155.4S507,1158.2 515,1159.5S531,1161.7 539.1,1161.5S555.1,1160.3 563.2,1157.4S579.2,1150 587.2,1144.6S603.3,1132.8 611.3,1126.5S627.4,1113.6 635.4,1108.2S651.5,1098.9 659.5,1098.3S675.5,1100.8 683.6,1109.2S699.6,1125.8 707.7,1129.2S723.7,1135.9 731.7,1136S747.8,1133.3 755.8,1124.3C759.8,1119.8 763.9,1113.8 767.9,1105.9S775.9,1088.4 779.9,1078.3S787.9,1058.3 792,1046.7S800,1019.8 804,1004.8S812,977.2 816,965.6S824.1,943.3 828.1,933.3S836.1,913.7 840.1,904.5S848.1,886.2 852.2,877.4S860.2,860.2 864.2,852.7S872.2,838.4 876.2,833S884.3,823.4 888.3,821.1S896.3,818.3 900.3,820S908.4,825.9 912.4,832.9S920.4,849.7 924.4,863.1S932.4,893.5 936.5,913.9S944.5,957 948.5,976.7L948.5,979.6C944.5,959.9 940.5,936.6 936.5,915.8S928.4,877.7 924.4,864.2S916.4,840.6 912.4,833.5S904.3,822.3 900.3,820.4S892.3,819.1 888.3,821.3S880.3,827.6 876.2,832.9S868.2,844.9 864.2,852.3S856.2,868.1 852.2,876.7S844.1,894.2 840.1,903.4S832.1,922 828.1,932S820,952.5 816,963.8S808,987.6 804,1002.7S796,1033.6 792,1045.2S783.9,1066.6 779.9,1076.8S771.9,1096.9 767.9,1104.8S759.8,1118.7 755.8,1123.1C747.8,1131.8 739.8,1134.1 731.7,1133.7S715.7,1130.1 707.7,1127.1S691.6,1116 683.6,1107.1S667.5,1095.3 659.5,1096S643.4,1101.2 635.4,1107S619.3,1119.8 611.3,1126.5S595.3,1139.6 587.2,1145.2S571.2,1155.3 563.2,1158.2S547.1,1162.1 539.1,1162.2S523,1161.2 515,1159.9S498.9,1156.8 490.9,1155.4S474.8,1153 466.8,1152.6S450.8,1152.5 442.7,1153.1S426.7,1154.9 418.6,1156.5S402.6,1160 394.6,1161.8S378.5,1165.3 370.5,1166.3S354.4,1167.5 346.4,1166.5S330.3,1163.4 322.3,1161S306.2,1155.7 298.2,1153.3S282.2,1149 274.1,1148.3S258.1,1147.9 250.1,1149.5S234,1153.8 226,1157.9S209.9,1167.3 201.9,1174.1C197.9,1177.5 193.9,1181.3 189.8,1185.4C187.8,1187.5 185.8,1189.6 183.8,1191.9S179.8,1196.5 177.8,1198.9Z" fill="#f8884f" stroke="#f8884f"/>
<path d="M177.8,1198.9C179.8,1196.5 181.8,1194.1 183.8,1191.9S187.8,1187.5 189.8,1185.4C193.9,1181.3 197.9,1177.5 201.9,1174.1C209.9,1167.3 217.9,1161.9 226,1157.9S242,1151 250.1,1149.5S266.1,1147.5 274.1,1148.3S290.2,1150.9 298.2,1153.3S314.3,1158.5 322.3,1161S338.4,1165.5 346.4,1166.5S362.4,1167.3 370.5,1166.3S386.5,1163.7 394.6,1161.8S410.6,1158.1 418.6,1156.5S434.7,1153.8 442.7,1153.1S458.8,1152.3 466.8,1152.6S482.9,1153.9 490.9,1155.4S507,1158.5 515,1159.9S531,1162.3 539.1,1162.2S555.1,1161 563.2,1158.2S579.2,1150.7 587.2,1145.2S603.3,1133.1 611.3,1126.5S627.4,1112.9 635.4,1107S651.5,1096.8 659.5,1096S675.5,1098.2 683.6,1107.1S699.6,1124.2 707.7,1127.1S723.7,1133.3 731.7,1133.7S747.8,1131.8 755.8,1123.1C759.8,1118.7 763.9,1112.8 767.9,1104.8S775.9,1087 779.9,1076.8S787.9,1056.8 792,1045.2S800,1017.8 804,1002.7S812,975.2 816,963.8S824.1,942 828.1,932S836.1,912.5 840.1,903.4S848.1,885.4 852.2,876.7S860.2,859.8 864.2,852.3S872.2,838.2 876.2,832.9S884.3,823.6 888.3,821.3S896.3,818.6 900.3,820.4S908.4,826.4 912.4,833.5S920.4,850.6 924.4,864.2S932.4,895 936.5,915.8S944.5,959.9 948.5,979.6L948.5,982.5C944.5,957.3 940.5,939.8 936.5,918.4S928.4,878.8 924.4,864.9S916.4,840.8 912.4,833.7S904.3,822.5 900.3,820.8S892.3,819.6 888.3,821.8S880.3,828 876.2,833.2S868.2,844.9 864.2,852.2S856.2,867.7 852.2,876.3S844.1,893.9 840.1,903.1S832.1,921.9 828.1,931.9S820,952.3 816,963.4S808,986.3 804,1001.6S796,1033.5 792,1045.1S783.9,1065.6 779.9,1075.5S771.9,1095.9 767.9,1104S759.8,1117.9 755.8,1122.1C747.8,1130.5 739.8,1132.4 731.7,1131.8S715.7,1128.6 707.7,1125.7S691.6,1114.3 683.6,1105.5S667.5,1094.2 659.5,1095.2S643.4,1100.4 635.4,1106.2S619.3,1119.3 611.3,1126.3S595.3,1140.2 587.2,1146.1S571.2,1156.7 563.2,1159.5S547.1,1163.4 539.1,1163.3S523,1162 515,1160.5S498.9,1157 490.9,1155.4S474.8,1152.8 466.8,1152.3S450.8,1151.9 442.7,1152.5S426.7,1154.3 418.6,1155.9S402.6,1159.4 394.6,1161.2S378.5,1164.7 370.5,1165.7S354.4,1166.9 346.4,1165.9S330.3,1162.8 322.3,1160.4S306.2,1155.1 298.2,1152.7S282.2,1148.5 274.1,1147.8S258.1,1147.4 250.1,1149S234,1153.4 226,1157.5S209.9,1167.1 201.9,1173.9C197.9,1177.4 193.9,1181.1 189.8,1185.3C187.8,1187.4 185.8,1189.6 183.8,1191.8S179.8,1196.5 177.8,1198.9Z" fill="#fecf80" stroke="#fecf80"/>
<path d="M177.8,1198.9C179.8,1196.5 181.8,1194.1 183.8,1191.8S187.8,1187.4 189.8,1185.3C193.9,1181.1 197.9,1177.4 201.9,1173.9C209.9,1167.1 217.9,1161.6 226,1157.5S242,1150.6 250.1,1149S266.1,1147 274.1,1147.8S290.2,1150.4 298.2,1152.7S314.3,1157.9 322.3,1160.4S338.4,1164.9 346.4,1165.9S362.4,1166.7 370.5,1165.7S386.5,1163 394.6,1161.2S410.6,1157.4 418.6,1155.9S434.7,1153.1 442.7,1152.5S458.8,1151.8 466.8,1152.3S482.9,1153.9 490.9,1155.4S507,1158.9 515,1160.5S531,1163.2 539.1,1163.3S555.1,1162.4 563.2,1159.5S579.2,1151.9 587.2,1146.1S603.3,1133.3 611.3,1126.3S627.4,1112.1 635.4,1106.2S651.5,1096.1 659.5,1095.2S675.5,1096.7 683.6,1105.5S699.6,1122.8 707.7,1125.7S723.7,1131.3 731.7,1131.8S747.8,1130.5 755.8,1122.1C759.8,1117.9 763.9,1112 767.9,1104S775.9,1085.5 779.9,1075.5S787.9,1056.7 792,1045.1S800,1016.8 804,1001.6S812,974.4 816,963.4S824.1,941.9 828.1,931.9S836.1,912.3 840.1,903.1S848.1,884.9 852.2,876.3S860.2,859.5 864.2,852.2S872.2,838.4 876.2,833.2S884.3,824 888.3,821.8S896.3,819 900.3,820.8S908.4,826.6 912.4,833.7S920.4,851 924.4,864.9S932.4,897 936.5,918.4S944.5,957.3 948.5,982.5L948.5,985.5C944.5,954.7 940.5,943.1 936.5,921S928.4,880 924.4,865.7S916.4,841.1 912.4,833.9S904.3,822.8 900.3,821.1S892.3,820.1 888.3,822.3S880.3,828.3 876.2,833.4S868.2,844.8 864.2,852S856.2,867.3 852.2,875.9S844.1,893.5 840.1,902.8S832.1,921.8 828.1,931.8S820,952.2 816,962.9S808,985 804,1000.4S796,1033.5 792,1045.1S783.9,1064.6 779.9,1074.3S771.9,1095 767.9,1103.1S759.8,1117 755.8,1121.1C747.8,1129.3 739.8,1130.7 731.7,1129.9S715.7,1127 707.7,1124.2S691.6,1112.6 683.6,1103.9S667.5,1093.2 659.5,1094.3S643.4,1099.5 635.4,1105.4S619.3,1118.7 611.3,1126.1S595.3,1140.8 587.2,1147S571.2,1158 563.2,1160.9S547.1,1164.7 539.1,1164.4S523,1162.8 515,1161.1S498.9,1157.2 490.9,1155.5S474.8,1152.6 466.8,1152S450.8,1151.3 442.7,1151.9S426.7,1153.6 418.6,1155.2S402.6,1158.8 394.6,1160.6S378.5,1164.1 370.5,1165.1S354.4,1166.3 346.4,1165.3S330.3,1162.2 322.3,1159.8S306.2,1154.5 298.2,1152.2S282.2,1147.9 274.1,1147.2S258.1,1146.9 250.1,1148.5S234,1153 226,1157.1S209.9,1166.8 201.9,1173.7C197.9,1177.2 193.9,1181 189.8,1185.2C187.8,1187.3 185.8,1189.5 183.8,1191.8S179.8,1196.4 177.8,1198.9Z" fill="#fed586" stroke="#fed586"/>
<path d="M177.8,1198.9C179.8,1196.4 181.8,1194.1 183.8,1191.8S187.8,1187.3 189.8,1185.2C193.9,1181 197.9,1177.2 201.9,1173.7C209.9,1166.8 217.9,1161.3 226,1157.1S242,1150.2 250.1,1148.5S266.1,1146.5 274.1,1147.2S290.2,1149.8 298.2,1152.2S314.3,1157.3 322.3,1159.8S338.4,1164.3 346.4,1165.3S362.4,1166 370.5,1165.1S386.5,1162.4 394.6,1160.6S410.6,1156.8 418.6,1155.2S434.7,1152.5 442.7,1151.9S458.8,1151.3 466.8,1152S482.9,1153.8 490.9,1155.5S507,1159.4 515,1161.1S531,1164.2 539.1,1164.4S555.1,1163.7 563.2,1160.9S579.2,1153.2 587.2,1147S603.3,1133.4 611.3,1126.1S627.4,1111.3 635.4,1105.4S651.5,1095.3 659.5,1094.3S675.5,1095.2 683.6,1103.9S699.6,1121.4 707.7,1124.2S723.7,1129.2 731.7,1129.9S747.8,1129.3 755.8,1121.1C759.8,1117 763.9,1111.2 767.9,1103.1S775.9,1083.9 779.9,1074.3S787.9,1056.6 792,1045.1S800,1015.8 804,1000.4S812,973.6 816,962.9S824.1,941.8 828.1,931.8S836.1,912.1 840.1,902.8S848.1,884.4 852.2,875.9S860.2,859.2 864.2,852S872.2,838.5 876.2,833.4S884.3,824.5 888.3,822.3S896.3,819.4 900.3,821.1S908.4,826.8 912.4,833.9S920.4,851.4 924.4,865.7S932.4,898.9 936.5,921S944.5,954.7 948.5,985.5L948.5,988.4C944.5,952.1 940.5,946.3 936.5,923.6S928.4,881.1 924.4,866.4S916.4,841.3 912.4,834.1S904.3,823 900.3,821.4S892.3,820.6 888.3,822.8S880.3,828.7 876.2,833.7S868.2,844.8 864.2,851.9S856.2,866.9 852.2,875.5S844.1,893.1 840.1,902.5S832.1,921.7 828.1,931.7S820,952 816,962.4S808,983.7 804,999.3S796,1033.5 792,1045S783.9,1063.6 779.9,1073S771.9,1094.1 767.9,1102.3S759.8,1116.1 755.8,1120.1C747.8,1128.1 739.8,1128.9 731.7,1128.1S715.7,1125.5 707.7,1122.7S691.6,1110.9 683.6,1102.3S667.5,1092.2 659.5,1093.4S643.4,1098.6 635.4,1104.5S619.3,1118.2 611.3,1125.9S595.3,1141.4 587.2,1147.9S571.2,1159.4 563.2,1162.2S547.1,1165.9 539.1,1165.6S523,1163.7 515,1161.7S498.9,1157.5 490.9,1155.6S474.8,1152.4 466.8,1151.6S450.8,1150.7 442.7,1151.3S426.7,1153 418.6,1154.6S402.6,1158.1 394.6,1160S378.5,1163.5 370.5,1164.5S354.4,1165.7 346.4,1164.7S330.3,1161.6 322.3,1159.2S306.2,1154 298.2,1151.6S282.2,1147.4 274.1,1146.7S258.1,1146.4 250.1,1148.1S234,1152.6 226,1156.8S209.9,1166.5 201.9,1173.5C197.9,1177 193.9,1180.8 189.8,1185.1C187.8,1187.2 185.8,1189.4 183.8,1191.7S179.8,1196.4 177.8,1198.9Z" fill="#fedc8c" stroke="#fedc8c"/>
<path d="M177.8,1198.9C179.8,1196.4 181.8,1194 183.8,1191.7S187.8,1187.2 189.8,1185.1C193.9,1180.8 197.9,1177 201.9,1173.5C209.9,1166.5 217.9,1161 226,1156.8S242,1149.7 250.1,1148.1S266.1,1146 274.1,1146.7S290.2,1149.3 298.2,1151.6S314.3,1156.8 322.3,1159.2S338.4,1163.7 346.4,1164.7S362.4,1165.4 370.5,1164.5S386.5,1161.8 394.6,1160S410.6,1156.1 418.6,1154.6S434.7,1151.8 442.7,1151.3S458.8,1150.9 466.8,1151.6S482.9,1153.8 490.9,1155.6S507,1159.8 515,1161.7S531,1165.2 539.1,1165.6S555.1,1165.1 563.2,1162.2S579.2,1154.4 587.2,1147.9S603.3,1133.6 611.3,1125.9S627.4,1110.5 635.4,1104.5S651.5,1094.6 659.5,1093.4S675.5,1093.8 683.6,1102.3S699.6,1119.9 707.7,1122.7S723.7,1127.2 731.7,1128.1S747.8,1128.1 755.8,1120.1C759.8,1116.1 763.9,1110.4 767.9,1102.3S775.9,1082.3 779.9,1073S787.9,1056.5 792,1045S800,1014.8 804,999.3S812,972.8 816,962.4S824.1,941.8 828.1,931.7S836.1,911.9 840.1,902.5S848.1,884 852.2,875.5S860.2,859 864.2,851.9S872.2,838.6 876.2,833.7S884.3,825 888.3,822.8S896.3,819.8 900.3,821.4S908.4,826.9 912.4,834.1S920.4,851.8 924.4,866.4S932.4,900.9 936.5,923.6S944.5,952.1 948.5,988.4L948.5,991.3C944.5,949.6 940.5,949.5 936.5,926.2S928.4,882.2 924.4,867.2S916.4,841.5 912.4,834.3S904.3,823.2 900.3,821.8S892.3,821.1 888.3,823.3S880.3,829.1 876.2,833.9S868.2,844.8 864.2,851.8S856.2,866.6 852.2,875S844.1,892.7 840.1,902.2S832.1,921.6 828.1,931.7S820,951.8 816,961.9S808,982.4 804,998.1S796,1033.5 792,1044.9S783.9,1062.6 779.9,1071.7S771.9,1093.2 767.9,1101.4S759.8,1115.3 755.8,1119.1C747.8,1126.8 739.8,1127.2 731.7,1126.2S715.7,1124 707.7,1121.3S691.6,1109.2 683.6,1100.7S667.5,1091.2 659.5,1092.5S643.4,1097.7 635.4,1103.7S619.3,1117.7 611.3,1125.7S595.3,1142 587.2,1148.8S571.2,1160.8 563.2,1163.6S547.1,1167.2 539.1,1166.7S523,1164.5 515,1162.3S498.9,1157.7 490.9,1155.7S474.8,1152.2 466.8,1151.3S450.8,1150.2 442.7,1150.7S426.7,1152.3 418.6,1153.9S402.6,1157.5 394.6,1159.3S378.5,1162.9 370.5,1163.8S354.4,1165.1 346.4,1164.1S330.3,1161.1 322.3,1158.6S306.2,1153.4 298.2,1151.1S282.2,1146.9 274.1,1146.2S258.1,1146 250.1,1147.6S234,1152.2 226,1156.4S209.9,1166.2 201.9,1173.3C197.9,1176.8 193.9,1180.7 189.8,1185C187.8,1187.1 185.8,1189.3 183.8,1191.6S179.8,1196.4 177.8,1198.9Z" fill="#fee192" stroke="#fee192"/>
<path d="M177.8,1198.9C179.8,1196.4 181.8,1194 183.8,1191.6S187.8,1187.1 189.8,1185C193.9,1180.7 197.9,1176.8 201.9,1173.3C209.9,1166.2 217.9,1160.6 226,1156.4S242,1149.3 250.1,1147.6S266.1,1145.5 274.1,1146.2S290.2,1148.7 298.2,1151.1S314.3,1156.2 322.3,1158.6S338.4,1163.2 346.4,1164.1S362.4,1164.8 370.5,1163.8S386.5,1161.2 394.6,1159.3S410.6,1155.5 418.6,1153.9S434.7,1151.1 442.7,1150.7S458.8,1150.4 466.8,1151.3S482.9,1153.7 490.9,1155.7S507,1160.2 515,1162.3S531,1166.2 539.1,1166.7S555.1,1166.4 563.2,1163.6S579.2,1155.6 587.2,1148.8S603.3,1133.8 611.3,1125.7S627.4,1109.7 635.4,1103.7S651.5,1093.9 659.5,1092.5S675.5,1092.3 683.6,1100.7S699.6,1118.5 707.7,1121.3S723.7,1125.1 731.7,1126.2S747.8,1126.8 755.8,1119.1C759.8,1115.3 763.9,1109.6 767.9,1101.4S775.9,1080.7 779.9,1071.7S787.9,1056.4 792,1044.9S800,1013.8 804,998.1S812,972 816,961.9S824.1,941.7 828.1,931.7S836.1,911.7 840.1,902.2S848.1,883.5 852.2,875S860.2,858.7 864.2,851.8S872.2,838.8 876.2,833.9S884.3,825.4 888.3,823.3S896.3,820.3 900.3,821.8S908.4,827.1 912.4,834.3S920.4,852.1 924.4,867.2S932.4,902.9 936.5,926.2S944.5,949.6 948.5,991.3L948.5,994.3C944.5,947 940.5,952.8 936.5,928.8S928.4,883.4 924.4,867.9S916.4,841.8 912.4,834.5S904.3,823.5 900.3,822.1S892.3,821.6 888.3,823.7S880.3,829.5 876.2,834.2S868.2,844.8 864.2,851.6S856.2,866.2 852.2,874.6S844.1,892.3 840.1,901.9S832.1,921.5 828.1,931.6S820,951.7 816,961.5S808,981.1 804,997S796,1033.5 792,1044.9S783.9,1061.7 779.9,1070.4S771.9,1092.3 767.9,1100.6S759.8,1114.4 755.8,1118.2C747.8,1125.6 739.8,1125.5 731.7,1124.3S715.7,1122.4 707.7,1119.8S691.6,1107.5 683.6,1099.2S667.5,1090.1 659.5,1091.7S643.4,1096.9 635.4,1102.9S619.3,1117.1 611.3,1125.5S595.3,1142.6 587.2,1149.7S571.2,1162.1 563.2,1165S547.1,1168.4 539.1,1167.8S523,1165.3 515,1163S498.9,1158 490.9,1155.8S474.8,1151.9 466.8,1150.9S450.8,1149.6 442.7,1150S426.7,1151.7 418.6,1153.3S402.6,1156.9 394.6,1158.7S378.5,1162.2 370.5,1163.2S354.4,1164.5 346.4,1163.5S330.3,1160.5 322.3,1158S306.2,1152.8 298.2,1150.5S282.2,1146.3 274.1,1145.7S258.1,1145.5 250.1,1147.2S234,1151.8 226,1156S209.9,1166 201.9,1173.1C197.9,1176.6 193.9,1180.5 189.8,1184.8C187.8,1187 185.8,1189.2 183.8,1191.6S179.8,1196.4 177.8,1198.9Z" fill="#feefa6" stroke="#feefa6"/>
<path d="M177.8,1198.9C179.8,1196.4 181.8,1193.9 183.8,1191.6S187.8,1187 189.8,1184.8C193.9,1180.5 197.9,1176.6 201.9,1173.1C209.9,1166 217.9,1160.3 226,1156S242,1148.8 250.1,1147.2S266.1,1145 274.1,1145.7S290.2,1148.2 298.2,1150.5S314.3,1155.6 322.3,1158S338.4,1162.6 346.4,1163.5S362.4,1164.2 370.5,1163.2S386.5,1160.6 394.6,1158.7S410.6,1154.9 418.6,1153.3S434.7,1150.5 442.7,1150S458.8,1149.9 466.8,1150.9S482.9,1153.6 490.9,1155.8S507,1160.7 515,1163S531,1167.2 539.1,1167.8S555.1,1167.8 563.2,1165S579.2,1156.8 587.2,1149.7S603.3,1134 611.3,1125.5S627.4,1108.9 635.4,1102.9S651.5,1093.2 659.5,1091.7S675.5,1090.8 683.6,1099.2S699.6,1117.1 707.7,1119.8S723.7,1123.1 731.7,1124.3S747.8,1125.6 755.8,1118.2C759.8,1114.4 763.9,1108.8 767.9,1100.6S775.9,1079.2 779.9,1070.4S787.9,1056.3 792,1044.9S800,1012.9 804,997S812,971.2 816,961.5S824.1,941.6 828.1,931.6S836.1,911.5 840.1,901.9S848.1,883.1 852.2,874.6S860.2,858.4 864.2,851.6S872.2,838.9 876.2,834.2S884.3,825.9 888.3,823.7S896.3,820.7 900.3,822.1S908.4,827.2 912.4,834.5S920.4,852.5 924.4,867.9S932.4,904.8 936.5,928.8S944.5,947 948.5,994.3L948.5,997.2C944.5,944.4 940.5,956 936.5,931.4S928.4,884.5 924.4,868.7S916.4,842 912.4,834.7S904.3,823.7 900.3,822.4S892.3,822.1 888.3,824.2S880.3,829.8 876.2,834.4S868.2,844.8 864.2,851.5S856.2,865.8 852.2,874.2S844.1,891.9 840.1,901.6S832.1,921.4 828.1,931.5S820,951.5 816,961S808,979.8 804,995.8S796,1033.5 792,1044.8S783.9,1060.7 779.9,1069.1S771.9,1091.4 767.9,1099.7S759.8,1113.6 755.8,1117.2C747.8,1124.3 739.8,1123.8 731.7,1122.4S715.7,1120.9 707.7,1118.3S691.6,1105.8 683.6,1097.6S667.5,1089.1 659.5,1090.8S643.4,1096 635.4,1102S619.3,1116.6 611.3,1125.4S595.3,1143.2 587.2,1150.6S571.2,1163.5 563.2,1166.3S547.1,1169.7 539.1,1168.9S523,1166.1 515,1163.6S498.9,1158.2 490.9,1155.9S474.8,1151.7 466.8,1150.6S450.8,1149 442.7,1149.4S426.7,1151 418.6,1152.6S402.6,1156.2 394.6,1158.1S378.5,1161.6 370.5,1162.6S354.4,1163.9 346.4,1162.9S330.3,1159.9 322.3,1157.4S306.2,1152.3 298.2,1150S282.2,1145.8 274.1,1145.2S258.1,1145 250.1,1146.7S234,1151.4 226,1155.7S209.9,1165.7 201.9,1172.8C197.9,1176.4 193.9,1180.4 189.8,1184.7C187.8,1186.9 185.8,1189.2 183.8,1191.5S179.8,1196.4 177.8,1198.9Z" fill="#fff3ad" stroke="#fff3ad"/>
<path d="M177.8,1198.9C179.8,1196.4 181.8,1193.9 183.8,1191.5S187.8,1186.9 189.8,1184.7C193.9,1180.4 197.9,1176.4 201.9,1172.8C209.9,1165.7 217.9,1160 226,1155.7S242,1148.4 250.1,1146.7S266.1,1144.5 274.1,1145.2S290.2,1147.6 298.2,1150S314.3,1155 322.3,1157.4S338.4,1162 346.4,1162.9S362.4,1163.6 370.5,1162.6S386.5,1159.9 394.6,1158.1S410.6,1154.2 418.6,1152.6S434.7,1149.8 442.7,1149.4S458.8,1149.5 466.8,1150.6S482.9,1153.6 490.9,1155.9S507,1161.1 515,1163.6S531,1168.2 539.1,1168.9S555.1,1169.1 563.2,1166.3S579.2,1158.1 587.2,1150.6S603.3,1134.1 611.3,1125.4S627.4,1108.1 635.4,1102S651.5,1092.4 659.5,1090.8S675.5,1089.4 683.6,1097.6S699.6,1115.7 707.7,1118.3S723.7,1121.1 731.7,1122.4S747.8,1124.3 755.8,1117.2C759.8,1113.6 763.9,1108.1 767.9,1099.7S775.9,1077.6 779.9,1069.1S787.9,1056.2 792,1044.8S800,1011.9 804,995.8S812,970.5 816,961S824.1,941.5 828.1,931.5S836.1,911.3 840.1,901.6S848.1,882.6 852.2,874.2S860.2,858.1 864.2,851.5S872.2,839 876.2,834.4S884.3,826.4 888.3,824.2S896.3,821.1 900.3,822.4S908.4,827.4 912.4,834.7S920.4,852.9 924.4,868.7S932.4,906.8 936.5,931.4S944.5,944.4 948.5,997.2L948.5,1000.1C944.5,941.8 940.5,959.2 936.5,934S928.4,885.6 924.4,869.4S916.4,842.2 912.4,834.9S904.3,824 900.3,822.7S892.3,822.6 888.3,824.7S880.3,830.2 876.2,834.7S868.2,844.8 864.2,851.3S856.2,865.4 852.2,873.8S844.1,891.5 840.1,901.3S832.1,921.3 828.1,931.4S820,951.4 816,960.5S808,978.5 804,994.7S796,1033.4 792,1044.8S783.9,1059.7 779.9,1067.9S771.9,1090.4 767.9,1098.9S759.8,1112.7 755.8,1116.2C747.8,1123.1 739.8,1122 731.7,1120.5S715.7,1119.3 707.7,1116.8S691.6,1104.1 683.6,1096S667.5,1088.1 659.5,1089.9S643.4,1095.1 635.4,1101.2S619.3,1116.1 611.3,1125.2S595.3,1143.8 587.2,1151.5S571.2,1164.8 563.2,1167.7S547.1,1171 539.1,1170.1S523,1166.9 515,1164.2S498.9,1158.5 490.9,1156S474.8,1151.5 466.8,1150.3S450.8,1148.5 442.7,1148.8S426.7,1150.4 418.6,1152S402.6,1155.6 394.6,1157.5S378.5,1161 370.5,1162S354.4,1163.3 346.4,1162.3S330.3,1159.3 322.3,1156.9S306.2,1151.7 298.2,1149.4S282.2,1145.3 274.1,1144.6S258.1,1144.5 250.1,1146.2S234,1151 226,1155.3S209.9,1165.4 201.9,1172.6C197.9,1176.2 193.9,1180.2 189.8,1184.6C187.8,1186.8 185.8,1189.1 183.8,1191.5S179.8,1196.3 177.8,1198.9Z" fill="#fff8b4" stroke="#fff8b4"/>
<path d="M177.8,1198.9C179.8,1196.3 181.8,1193.8 183.8,1191.5S187.8,1186.8 189.8,1184.6C193.9,1180.2 197.9,1176.2 201.9,1172.6C209.9,1165.4 217.9,1159.7 226,1155.3S242,1148 250.1,1146.2S266.1,1144 274.1,1144.6S290.2,1147.1 298.2,1149.4S314.3,1154.4 322.3,1156.9S338.4,1161.4 346.4,1162.3S362.4,1163 370.5,1162S386.5,1159.3 394.6,1157.5S410.6,1153.6 418.6,1152S434.7,1149.1 442.7,1148.8S458.8,1149 466.8,1150.3S482.9,1153.5 490.9,1156S507,1161.5 515,1164.2S531,1169.2 539.1,1170.1S555.1,1170.5 563.2,1167.7S579.2,1159.3 587.2,1151.5S603.3,1134.3 611.3,1125.2S627.4,1107.3 635.4,1101.2S651.5,1091.7 659.5,1089.9S675.5,1087.9 683.6,1096S699.6,1114.3 707.7,1116.8S723.7,1119 731.7,1120.5S747.8,1123.1 755.8,1116.2C759.8,1112.7 763.9,1107.3 767.9,1098.9S775.9,1076 779.9,1067.9S787.9,1056.1 792,1044.8S800,1010.9 804,994.7S812,969.7 816,960.5S824.1,941.5 828.1,931.4S836.1,911.1 840.1,901.3S848.1,882.2 852.2,873.8S860.2,857.9 864.2,851.3S872.2,839.2 876.2,834.7S884.3,826.9 888.3,824.7S896.3,821.5 900.3,822.7S908.4,827.6 912.4,834.9S920.4,853.3 924.4,869.4S932.4,908.7 936.5,934S944.5,941.8 948.5,1000.1L948.5,1003.1C944.5,939.3 940.5,962.5 936.5,936.6S928.4,886.8 924.4,870.2S916.4,842.4 912.4,835.1S904.3,824.2 900.3,823.1S892.3,823.1 888.3,825.2S880.3,830.6 876.2,835S868.2,844.7 864.2,851.2S856.2,865 852.2,873.4S844.1,891.1 840.1,901S832.1,921.2 828.1,931.3S820,951.2 816,960S808,977.2 804,993.5S796,1033.4 792,1044.7S783.9,1058.7 779.9,1066.6S771.9,1089.5 767.9,1098S759.8,1111.9 755.8,1115.2C747.8,1121.9 739.8,1120.3 731.7,1118.7S715.7,1117.8 707.7,1115.4S691.6,1102.4 683.6,1094.4S667.5,1087.1 659.5,1089S643.4,1094.2 635.4,1100.4S619.3,1115.5 611.3,1125S595.3,1144.4 587.2,1152.5S571.2,1166.2 563.2,1169S547.1,1172.2 539.1,1171.2S523,1167.7 515,1164.8S498.9,1158.7 490.9,1156.1S474.8,1151.3 466.8,1149.9S450.8,1147.9 442.7,1148.2S426.7,1149.7 418.6,1151.3S402.6,1155 394.6,1156.8S378.5,1160.4 370.5,1161.4S354.4,1162.7 346.4,1161.7S330.3,1158.7 322.3,1156.3S306.2,1151.1 298.2,1148.8S282.2,1144.7 274.1,1144.1S258.1,1144 250.1,1145.8S234,1150.6 226,1154.9S209.9,1165.1 201.9,1172.4C197.9,1176 193.9,1180.1 189.8,1184.5C187.8,1186.7 185.8,1189 183.8,1191.4S179.8,1196.3 177.8,1198.9Z" fill="#fffdbb" stroke="#fffdbb"/>
<path d="M177.8,1198.9C179.8,1196.3 181.8,1193.8 183.8,1191.4S187.8,1186.7 189.8,1184.5C193.9,1180.1 197.9,1176 201.9,1172.4C209.9,1165.1 217.9,1159.3 226,1154.9S242,1147.5 250.1,1145.8S266.1,1143.5 274.1,1144.1S290.2,1146.5 298.2,1148.8S314.3,1153.9 322.3,1156.3S338.4,1160.8 346.4,1161.7S362.4,1162.4 370.5,1161.4S386.5,1158.7 394.6,1156.8S410.6,1153 418.6,1151.3S434.7,1148.5 442.7,1148.2S458.8,1148.6 466.8,1149.9S482.9,1153.4 490.9,1156.1S507,1161.9 515,1164.8S531,1170.1 539.1,1171.2S555.1,1171.9 563.2,1169S579.2,1160.5 587.2,1152.5S603.3,1134.5 611.3,1125S627.4,1106.5 635.4,1100.4S651.5,1091 659.5,1089S675.5,1086.4 683.6,1094.4S699.6,1112.9 707.7,1115.4S723.7,1117 731.7,1118.7S747.8,1121.9 755.8,1115.2C759.8,1111.9 763.9,1106.5 767.9,1098S775.9,1074.5 779.9,1066.6S787.9,1056 792,1044.7S800,1009.9 804,993.5S812,968.9 816,960S824.1,941.4 828.1,931.3S836.1,910.8 840.1,901S848.1,881.7 852.2,873.4S860.2,857.6 864.2,851.2S872.2,839.3 876.2,835S884.3,827.3 888.3,825.2S896.3,821.9 900.3,823.1S908.4,827.7 912.4,835.1S920.4,853.6 924.4,870.2S932.4,910.7 936.5,936.6S944.5,939.3 948.5,1003.1L948.5,1004.5C944.5,945.1 940.5,963.3 936.5,937.8S928.4,887 924.4,870.1S916.4,842.3 912.4,834.6S904.3,823.2 900.3,822.4S892.3,823.4 888.3,825.7S880.3,831 876.2,835S868.2,843.9 864.2,850.2S856.2,863.9 852.2,872.2S844.1,889.9 840.1,899.6S832.1,919.5 828.1,929.4S820,949 816,957.9S808,975.3 804,991.1S796,1029.5 792,1041.5S783.9,1056.8 779.9,1064.6S771.9,1087.3 767.9,1095.9S759.8,1109.8 755.8,1112.9C747.8,1119.1 739.8,1117.4 731.7,1116.2S715.7,1115.2 707.7,1112.4S691.6,1099.3 683.6,1091.9S667.5,1084.9 659.5,1086.9S643.4,1092.4 635.4,1098.8S619.3,1114.5 611.3,1124.4S595.3,1144.8 587.2,1153.3S571.2,1168.1 563.2,1171.1S547.1,1174.5 539.1,1173.2S523,1169 515,1165.6S498.9,1158.5 490.9,1155.4S474.8,1149.8 466.8,1148.2S450.8,1146 442.7,1146.2S426.7,1147.7 418.6,1149.3S402.6,1153 394.6,1154.8S378.5,1158.4 370.5,1159.5S354.4,1160.8 346.4,1159.8S330.3,1156.7 322.3,1154.3S306.2,1149.1 298.2,1146.9S282.2,1142.8 274.1,1142.2S258.1,1142.2 250.1,1144.1S234,1149.1 226,1153.6S209.9,1164.1 201.9,1171.6C197.9,1175.4 193.9,1179.5 189.8,1184.1C187.8,1186.4 185.8,1188.7 183.8,1191.2S179.8,1196.3 177.8,1199Z" fill="#fbfec6" stroke="#fbfec6"/>
<path d="M177.8,1199C179.8,1196.3 181.8,1193.7 183.8,1191.2S187.8,1186.4 189.8,1184.1C193.9,1179.5 197.9,1175.4 201.9,1171.6C209.9,1164.1 217.9,1158.2 226,1153.6S242,1145.9 250.1,1144.1S266.1,1141.6 274.1,1142.2S290.2,1144.6 298.2,1146.9S314.3,1151.9 322.3,1154.3S338.4,1158.8 346.4,1159.8S362.4,1160.5 370.5,1159.5S386.5,1156.7 394.6,1154.8S410.6,1150.9 418.6,1149.3S434.7,1146.5 442.7,1146.2S458.8,1146.7 466.8,1148.2S482.9,1152.2 490.9,1155.4S507,1162.3 515,1165.6S531,1171.9 539.1,1173.2S555.1,1174.2 563.2,1171.1S579.2,1161.8 587.2,1153.3S603.3,1134.3 611.3,1124.4S627.4,1105.2 635.4,1098.8S651.5,1088.9 659.5,1086.9S675.5,1084.4 683.6,1091.9S699.6,1109.5 707.7,1112.4S723.7,1115.1 731.7,1116.2S747.8,1119.1 755.8,1112.9C759.8,1109.8 763.9,1104.5 767.9,1095.9S775.9,1072.4 779.9,1064.6S787.9,1053.4 792,1041.5S800,1006.9 804,991.1S812,966.8 816,957.9S824.1,939.3 828.1,929.4S836.1,909.4 840.1,899.6S848.1,880.6 852.2,872.2S860.2,856.4 864.2,850.2S872.2,838.9 876.2,835S884.3,828.1 888.3,825.7S896.3,821.7 900.3,822.4S908.4,826.8 912.4,834.6S920.4,853.3 924.4,870.1S932.4,912.4 936.5,937.8S944.5,945.1 948.5,1004.5L948.5,1006C944.5,950.9 940.5,964.2 936.5,939.1S928.4,887.2 924.4,870.1S916.4,842.2 912.4,834.1S904.3,822.2 900.3,821.8S892.3,823.8 888.3,826.3S880.3,831.4 876.2,835S868.2,843 864.2,849.1S856.2,862.7 852.2,871S844.1,888.7 840.1,898.3S832.1,917.8 828.1,927.5S820,946.7 816,955.7S808,973.4 804,988.6S796,1025.7 792,1038.2S783.9,1054.9 779.9,1062.7S771.9,1085.1 767.9,1093.8S759.8,1107.7 755.8,1110.6C747.8,1116.4 739.8,1114.4 731.7,1113.8S715.7,1112.6 707.7,1109.4S691.6,1096.3 683.6,1089.4S667.5,1082.7 659.5,1084.8S643.4,1090.6 635.4,1097.3S619.3,1113.6 611.3,1123.9S595.3,1145.1 587.2,1154.2S571.2,1169.9 563.2,1173.3S547.1,1176.8 539.1,1175.3S523,1170.3 515,1166.5S498.9,1158.2 490.9,1154.6S474.8,1148.3 466.8,1146.5S450.8,1144 442.7,1144.3S426.7,1145.7 418.6,1147.3S402.6,1151 394.6,1152.9S378.5,1156.5 370.5,1157.5S354.4,1158.8 346.4,1157.9S330.3,1154.8 322.3,1152.4S306.2,1147.2 298.2,1144.9S282.2,1140.8 274.1,1140.3S258.1,1140.4 250.1,1142.4S234,1147.6 226,1152.3S209.9,1163.1 201.9,1170.9C197.9,1174.8 193.9,1179 189.8,1183.7C187.8,1186 185.8,1188.5 183.8,1191S179.8,1196.2 177.8,1199Z" fill="#f3fad4" stroke="#f3fad4"/>
<path d="M177.8,1199C179.8,1196.2 181.8,1193.6 183.8,1191S187.8,1186 189.8,1183.7C193.9,1179 197.9,1174.8 201.9,1170.9C209.9,1163.1 217.9,1157 226,1152.3S242,1144.3 250.1,1142.4S266.1,1139.8 274.1,1140.3S290.2,1142.6 298.2,1144.9S314.3,1149.9 322.3,1152.4S338.4,1156.9 346.4,1157.9S362.4,1158.5 370.5,1157.5S386.5,1154.7 394.6,1152.9S410.6,1148.9 418.6,1147.3S434.7,1144.5 442.7,1144.3S458.8,1144.8 466.8,1146.5S482.9,1151 490.9,1154.6S507,1162.6 515,1166.5S531,1173.7 539.1,1175.3S555.1,1176.6 563.2,1173.3S579.2,1163.2 587.2,1154.2S603.3,1134.2 611.3,1123.9S627.4,1104 635.4,1097.3S651.5,1086.8 659.5,1084.8S675.5,1082.4 683.6,1089.4S699.6,1106.1 707.7,1109.4S723.7,1113.1 731.7,1113.8S747.8,1116.4 755.8,1110.6C759.8,1107.7 763.9,1102.6 767.9,1093.8S775.9,1070.4 779.9,1062.7S787.9,1050.7 792,1038.2S800,1003.9 804,988.6S812,964.7 816,955.7S824.1,937.2 828.1,927.5S836.1,907.9 840.1,898.3S848.1,879.4 852.2,871S860.2,855.2 864.2,849.1S872.2,838.5 876.2,835S884.3,828.8 888.3,826.3S896.3,821.4 900.3,821.8S908.4,825.9 912.4,834.1S920.4,853 924.4,870.1S932.4,914.1 936.5,939.1S944.5,950.9 948.5,1006L948.5,1007.5C944.5,956.7 940.5,965 936.5,940.4S928.4,887.4 924.4,870S916.4,842.1 912.4,833.6S904.3,821.2 900.3,821.2S892.3,824.1 888.3,826.8S880.3,831.9 876.2,835S868.2,842.2 864.2,848.1S856.2,861.5 852.2,869.9S844.1,887.6 840.1,897S832.1,916.1 828.1,925.6S820,944.5 816,953.6S808,971.5 804,986.2S796,1021.8 792,1034.9S783.9,1053.1 779.9,1060.7S771.9,1082.8 767.9,1091.7S759.8,1105.6 755.8,1108.3C747.8,1113.7 739.8,1111.5 731.7,1111.3S715.7,1110.1 707.7,1106.4S691.6,1093.3 683.6,1086.9S667.5,1080.5 659.5,1082.6S643.4,1088.8 635.4,1095.7S619.3,1112.6 611.3,1123.3S595.3,1145.5 587.2,1155S571.2,1171.8 563.2,1175.4S547.1,1179.2 539.1,1177.3S523,1171.7 515,1167.3S498.9,1158 490.9,1153.9S474.8,1146.8 466.8,1144.8S450.8,1142.1 442.7,1142.3S426.7,1143.7 418.6,1145.3S402.6,1149 394.6,1150.9S378.5,1154.5 370.5,1155.6S354.4,1156.9 346.4,1155.9S330.3,1152.9 322.3,1150.4S306.2,1145.2 298.2,1142.9S282.2,1138.9 274.1,1138.4S258.1,1138.6 250.1,1140.7S234,1146.1 226,1151S209.9,1162.2 201.9,1170.1C197.9,1174.1 193.9,1178.5 189.8,1183.3C187.8,1185.7 185.8,1188.2 183.8,1190.8S179.8,1196.2 177.8,1199Z" fill="#ecf8e3" stroke="#ecf8e3"/>
<path d="M177.8,1199C179.8,1196.2 181.8,1193.5 183.8,1190.8S187.8,1185.7 189.8,1183.3C193.9,1178.5 197.9,1174.1 201.9,1170.1C209.9,1162.2 217.9,1155.8 226,1151S242,1142.7 250.1,1140.7S266.1,1137.9 274.1,1138.4S290.2,1140.6 298.2,1142.9S314.3,1148 322.3,1150.4S338.4,1155 346.4,1155.9S362.4,1156.6 370.5,1155.6S386.5,1152.8 394.6,1150.9S410.6,1146.9 418.6,1145.3S434.7,1142.5 442.7,1142.3S458.8,1142.9 466.8,1144.8S482.9,1149.9 490.9,1153.9S507,1162.9 515,1167.3S531,1175.5 539.1,1177.3S555.1,1179 563.2,1175.4S579.2,1164.5 587.2,1155S603.3,1134.1 611.3,1123.3S627.4,1102.7 635.4,1095.7S651.5,1084.7 659.5,1082.6S675.5,1080.4 683.6,1086.9S699.6,1102.7 707.7,1106.4S723.7,1111.1 731.7,1111.3S747.8,1113.7 755.8,1108.3C759.8,1105.6 763.9,1100.6 767.9,1091.7S775.9,1068.3 779.9,1060.7S787.9,1048 792,1034.9S800,1000.9 804,986.2S812,962.6 816,953.6S824.1,935.1 828.1,925.6S836.1,906.5 840.1,897S848.1,878.2 852.2,869.9S860.2,854 864.2,848.1S872.2,838.1 876.2,835S884.3,829.6 888.3,826.8S896.3,821.1 900.3,821.2S908.4,825 912.4,833.6S920.4,852.7 924.4,870S932.4,915.7 936.5,940.4S944.5,956.7 948.5,1007.5L948.5,1009C944.5,962.5 940.5,965.9 936.5,941.6S928.4,887.6 924.4,870S916.4,842 912.4,833.1S904.3,820.2 900.3,820.5S892.3,824.5 888.3,827.4S880.3,832.3 876.2,835S868.2,841.4 864.2,847.1S856.2,860.3 852.2,868.7S844.1,886.4 840.1,895.7S832.1,914.4 828.1,923.7S820,942.3 816,951.4S808,969.6 804,983.7S796,1017.9 792,1031.6S783.9,1051.2 779.9,1058.7S771.9,1080.6 767.9,1089.6S759.8,1103.4 755.8,1105.9C747.8,1110.9 739.8,1108.6 731.7,1108.9S715.7,1107.5 707.7,1103.4S691.6,1090.3 683.6,1084.3S667.5,1078.3 659.5,1080.5S643.4,1087 635.4,1094.2S619.3,1111.6 611.3,1122.8S595.3,1145.9 587.2,1155.9S571.2,1173.7 563.2,1177.5S547.1,1181.5 539.1,1179.4S523,1173 515,1168.1S498.9,1157.7 490.9,1153.2S474.8,1145.2 466.8,1143.1S450.8,1140.2 442.7,1140.3S426.7,1141.7 418.6,1143.3S402.6,1147 394.6,1148.9S378.5,1152.6 370.5,1153.6S354.4,1155 346.4,1154S330.3,1150.9 322.3,1148.5S306.2,1143.2 298.2,1140.9S282.2,1136.9 274.1,1136.5S258.1,1136.8 250.1,1139S234,1144.6 226,1149.6S209.9,1161.2 201.9,1169.4C197.9,1173.5 193.9,1178 189.8,1182.9C187.8,1185.4 185.8,1188 183.8,1190.7S179.8,1196.2 177.8,1199.1Z" fill="#e4f4f1" stroke="#e4f4f1"/>
<path d="M177.8,1199.1C179.8,1196.2 181.8,1193.3 183.8,1190.7S187.8,1185.4 189.8,1182.9C193.9,1178 197.9,1173.5 201.9,1169.4C209.9,1161.2 217.9,1154.6 226,1149.6S242,1141.1 250.1,1139S266.1,1136 274.1,1136.5S290.2,1138.7 298.2,1140.9S314.3,1146 322.3,1148.5S338.4,1153 346.4,1154S362.4,1154.7 370.5,1153.6S386.5,1150.8 394.6,1148.9S410.6,1144.9 418.6,1143.3S434.7,1140.5 442.7,1140.3S458.8,1141.1 466.8,1143.1S482.9,1148.7 490.9,1153.2S507,1163.2 515,1168.1S531,1177.3 539.1,1179.4S555.1,1181.4 563.2,1177.5S579.2,1165.8 587.2,1155.9S603.3,1133.9 611.3,1122.8S627.4,1101.4 635.4,1094.2S651.5,1082.6 659.5,1080.5S675.5,1078.4 683.6,1084.3S699.6,1099.3 707.7,1103.4S723.7,1109.2 731.7,1108.9S747.8,1110.9 755.8,1105.9C759.8,1103.4 763.9,1098.7 767.9,1089.6S775.9,1066.3 779.9,1058.7S787.9,1045.3 792,1031.6S800,997.9 804,983.7S812,960.5 816,951.4S824.1,933 828.1,923.7S836.1,905 840.1,895.7S848.1,877.1 852.2,868.7S860.2,852.9 864.2,847.1S872.2,837.7 876.2,835S884.3,830.3 888.3,827.4S896.3,820.8 900.3,820.5S908.4,824.1 912.4,833.1S920.4,852.4 924.4,870S932.4,917.4 936.5,941.6S944.5,962.5 948.5,1009L948.5,1010.5C944.5,968.3 940.5,966.7 936.5,942.9S928.4,887.8 924.4,869.9S916.4,841.9 912.4,832.5S904.3,819.2 900.3,819.9S892.3,824.8 888.3,827.9S880.3,832.7 876.2,835S868.2,840.5 864.2,846.1S856.2,859.2 852.2,867.6S844.1,885.2 840.1,894.4S832.1,912.7 828.1,921.8S820,940.1 816,949.3S808,967.7 804,981.3S796,1014 792,1028.3S783.9,1049.3 779.9,1056.8S771.9,1078.4 767.9,1087.5S759.8,1101.3 755.8,1103.6C747.8,1108.2 739.8,1105.6 731.7,1106.4S715.7,1104.9 707.7,1100.4S691.6,1087.3 683.6,1081.8S667.5,1076.1 659.5,1078.3S643.4,1085.2 635.4,1092.6S619.3,1110.6 611.3,1122.2S595.3,1146.2 587.2,1156.7S571.2,1175.5 563.2,1179.6S547.1,1183.8 539.1,1181.4S523,1174.3 515,1168.9S498.9,1157.5 490.9,1152.5S474.8,1143.7 466.8,1141.4S450.8,1138.3 442.7,1138.4S426.7,1139.7 418.6,1141.3S402.6,1145 394.6,1146.9S378.5,1150.6 370.5,1151.7S354.4,1153.1 346.4,1152.1S330.3,1149 322.3,1146.5S306.2,1141.2 298.2,1139S282.2,1135 274.1,1134.6S258.1,1135 250.1,1137.2S234,1143.1 226,1148.3S209.9,1160.2 201.9,1168.6C197.9,1172.8 193.9,1177.4 189.8,1182.5C187.8,1185.1 185.8,1187.7 183.8,1190.5S179.8,1196.1 177.8,1199.1Z" fill="#d9f0f6" stroke="#d9f0f6"/>
<path d="M177.8,1199.1C179.8,1196.1 181.8,1193.2 183.8,1190.5S187.8,1185.1 189.8,1182.5C193.9,1177.4 197.9,1172.8 201.9,1168.6C209.9,1160.2 217.9,1153.5 226,1148.3S242,1139.5 250.1,1137.2S266.1,1134.2 274.1,1134.6S290.2,1136.7 298.2,1139S314.3,1144 322.3,1146.5S338.4,1151.1 346.4,1152.1S362.4,1152.7 370.5,1151.7S386.5,1148.8 394.6,1146.9S410.6,1142.9 418.6,1141.3S434.7,1138.5 442.7,1138.4S458.8,1139.2 466.8,1141.4S482.9,1147.5 490.9,1152.5S507,1163.5 515,1168.9S531,1179.1 539.1,1181.4S555.1,1183.8 563.2,1179.6S579.2,1167.2 587.2,1156.7S603.3,1133.8 611.3,1122.2S627.4,1100.1 635.4,1092.6S651.5,1080.6 659.5,1078.3S675.5,1076.3 683.6,1081.8S699.6,1095.9 707.7,1100.4S723.7,1107.2 731.7,1106.4S747.8,1108.2 755.8,1103.6C759.8,1101.3 763.9,1096.7 767.9,1087.5S775.9,1064.3 779.9,1056.8S787.9,1042.7 792,1028.3S800,994.9 804,981.3S812,958.5 816,949.3S824.1,930.9 828.1,921.8S836.1,903.5 840.1,894.4S848.1,875.9 852.2,867.6S860.2,851.7 864.2,846.1S872.2,837.3 876.2,835S884.3,831.1 888.3,827.9S896.3,820.6 900.3,819.9S908.4,823.2 912.4,832.5S920.4,852 924.4,869.9S932.4,919.1 936.5,942.9S944.5,968.3 948.5,1010.5L948.5,1011.9C944.5,974.1 940.5,967.6 936.5,944.2S928.4,888 924.4,869.9S916.4,841.8 912.4,832S904.3,818.2 900.3,819.2S892.3,825.2 888.3,828.5S880.3,833.1 876.2,835S868.2,839.7 864.2,845.1S856.2,858 852.2,866.4S844.1,884.1 840.1,893.1S832.1,910.9 828.1,919.9S820,937.8 816,947.1S808,965.8 804,978.8S796,1010.1 792,1025.1S783.9,1047.4 779.9,1054.8S771.9,1076.1 767.9,1085.4S759.8,1099.2 755.8,1101.3C747.8,1105.5 739.8,1102.7 731.7,1104S715.7,1102.3 707.7,1097.4S691.6,1084.3 683.6,1079.3S667.5,1074 659.5,1076.2S643.4,1083.4 635.4,1091.1S619.3,1109.7 611.3,1121.7S595.3,1146.6 587.2,1157.6S571.2,1177.4 563.2,1181.8S547.1,1186.1 539.1,1183.5S523,1175.7 515,1169.8S498.9,1157.2 490.9,1151.8S474.8,1142.2 466.8,1139.7S450.8,1136.3 442.7,1136.4S426.7,1137.7 418.6,1139.3S402.6,1143 394.6,1144.9S378.5,1148.6 370.5,1149.7S354.4,1151.1 346.4,1150.2S330.3,1147 322.3,1144.6S306.2,1139.3 298.2,1137S282.2,1133 274.1,1132.7S258.1,1133.2 250.1,1135.5S234,1141.6 226,1147S209.9,1159.2 201.9,1167.8C197.9,1172.2 193.9,1176.9 189.8,1182.1C187.8,1184.7 185.8,1187.5 183.8,1190.3S179.8,1196.1 177.8,1199.1Z" fill="#cce9f2" stroke="#cce9f2"/>
<path d="M177.8,1199.1C179.8,1196.1 181.8,1193.1 183.8,1190.3S187.8,1184.7 189.8,1182.1C193.9,1176.9 197.9,1172.2 201.9,1167.8C209.9,1159.2 217.9,1152.3 226,1147S242,1137.9 250.1,1135.5S266.1,1132.3 274.1,1132.7S290.2,1134.7 298.2,1137S314.3,1142.1 322.3,1144.6S338.4,1149.2 346.4,1150.2S362.4,1150.8 370.5,1149.7S386.5,1146.8 394.6,1144.9S410.6,1140.9 418.6,1139.3S434.7,1136.5 442.7,1136.4S458.8,1137.3 466.8,1139.7S482.9,1146.3 490.9,1151.8S507,1163.9 515,1169.8S531,1180.9 539.1,1183.5S555.1,1186.1 563.2,1181.8S579.2,1168.5 587.2,1157.6S603.3,1133.7 611.3,1121.7S627.4,1098.8 635.4,1091.1S651.5,1078.5 659.5,1076.2S675.5,1074.3 683.6,1079.3S699.6,1092.5 707.7,1097.4S723.7,1105.3 731.7,1104S747.8,1105.5 755.8,1101.3C759.8,1099.2 763.9,1094.8 767.9,1085.4S775.9,1062.2 779.9,1054.8S787.9,1040 792,1025.1S800,991.9 804,978.8S812,956.4 816,947.1S824.1,928.8 828.1,919.9S836.1,902.1 840.1,893.1S848.1,874.8 852.2,866.4S860.2,850.5 864.2,845.1S872.2,836.9 876.2,835S884.3,831.8 888.3,828.5S896.3,820.3 900.3,819.2S908.4,822.3 912.4,832S920.4,851.7 924.4,869.9S932.4,920.8 936.5,944.2S944.5,974.1 948.5,1011.9L948.5,1013.4C944.5,979.9 940.5,968.4 936.5,945.4S928.4,888.3 924.4,869.8S916.4,841.7 912.4,831.5S904.3,817.1 900.3,818.6S892.3,825.5 888.3,829S880.3,833.6 876.2,835S868.2,838.8 864.2,844.1S856.2,856.8 852.2,865.2S844.1,882.9 840.1,891.8S832.1,909.2 828.1,918S820,935.6 816,945S808,963.9 804,976.4S796,1006.3 792,1021.8S783.9,1045.5 779.9,1052.8S771.9,1073.9 767.9,1083.3S759.8,1097.1 755.8,1099C747.8,1102.7 739.8,1099.8 731.7,1101.5S715.7,1099.7 707.7,1094.4S691.6,1081.3 683.6,1076.8S667.5,1071.8 659.5,1074.1S643.4,1081.6 635.4,1089.5S619.3,1108.7 611.3,1121.1S595.3,1147 587.2,1158.4S571.2,1179.3 563.2,1183.9S547.1,1188.4 539.1,1185.5S523,1177 515,1170.6S498.9,1157 490.9,1151S474.8,1140.7 466.8,1138S450.8,1134.4 442.7,1134.5S426.7,1135.6 418.6,1137.3S402.6,1141 394.6,1142.9S378.5,1146.7 370.5,1147.8S354.4,1149.2 346.4,1148.2S330.3,1145.1 322.3,1142.6S306.2,1137.3 298.2,1135S282.2,1131.1 274.1,1130.8S258.1,1131.4 250.1,1133.8S234,1140.1 226,1145.6S209.9,1158.2 201.9,1167.1C197.9,1171.5 193.9,1176.4 189.8,1181.7C187.8,1184.4 185.8,1187.2 183.8,1190.1S179.8,1196 177.8,1199.2Z" fill="#bfe3ef" stroke="#bfe3ef"/>
<path d="M177.8,1199.2C179.8,1196 181.8,1193 183.8,1190.1S187.8,1184.4 189.8,1181.7C193.9,1176.4 197.9,1171.5 201.9,1167.1C209.9,1158.2 217.9,1151.1 226,1145.6S242,1136.3 250.1,1133.8S266.1,1130.4 274.1,1130.8S290.2,1132.8 298.2,1135S314.3,1140.1 322.3,1142.6S338.4,1147.3 346.4,1148.2S362.4,1148.9 370.5,1147.8S386.5,1144.9 394.6,1142.9S410.6,1138.9 418.6,1137.3S434.7,1134.5 442.7,1134.5S458.8,1135.4 466.8,1138S482.9,1145.1 490.9,1151S507,1164.2 515,1170.6S531,1182.6 539.1,1185.5S555.1,1188.5 563.2,1183.9S579.2,1169.9 587.2,1158.4S603.3,1133.5 611.3,1121.1S627.4,1097.5 635.4,1089.5S651.5,1076.4 659.5,1074.1S675.5,1072.3 683.6,1076.8S699.6,1089 707.7,1094.4S723.7,1103.3 731.7,1101.5S747.8,1102.7 755.8,1099C759.8,1097.1 763.9,1092.8 767.9,1083.3S775.9,1060.2 779.9,1052.8S787.9,1037.3 792,1021.8S800,988.9 804,976.4S812,954.3 816,945S824.1,926.7 828.1,918S836.1,900.6 840.1,891.8S848.1,873.6 852.2,865.2S860.2,849.3 864.2,844.1S872.2,836.5 876.2,835S884.3,832.6 888.3,829S896.3,820 900.3,818.6S908.4,821.4 912.4,831.5S920.4,851.4 924.4,869.8S932.4,922.5 936.5,945.4S944.5,979.9 948.5,1013.4L948.5,1014.9C944.5,985.7 940.5,969.2 936.5,946.7S928.4,888.5 924.4,869.8S916.4,841.6 912.4,831S904.3,816.1 900.3,818S892.3,825.9 888.3,829.6S880.3,834 876.2,835.1S868.2,838 864.2,843.1S856.2,855.6 852.2,864.1S844.1,881.7 840.1,890.4S832.1,907.5 828.1,916.1S820,933.4 816,942.8S808,962 804,973.9S796,1002.4 792,1018.5S783.9,1043.6 779.9,1050.9S771.9,1071.7 767.9,1081.3S759.8,1095 755.8,1096.7C747.8,1100 739.8,1096.8 731.7,1099.1S715.7,1097.2 707.7,1091.4S691.6,1078.3 683.6,1074.3S667.5,1069.6 659.5,1071.9S643.4,1079.7 635.4,1088S619.3,1107.7 611.3,1120.6S595.3,1147.3 587.2,1159.3S571.2,1181.1 563.2,1186S547.1,1190.7 539.1,1187.6S523,1178.3 515,1171.4S498.9,1156.8 490.9,1150.3S474.8,1139.1 466.8,1136.3S450.8,1132.5 442.7,1132.5S426.7,1133.6 418.6,1135.2S402.6,1138.9 394.6,1140.9S378.5,1144.7 370.5,1145.8S354.4,1147.3 346.4,1146.3S330.3,1143.1 322.3,1140.6S306.2,1135.3 298.2,1133.1S282.2,1129.1 274.1,1128.8S258.1,1129.6 250.1,1132.1S234,1138.6 226,1144.3S209.9,1157.2 201.9,1166.3C197.9,1170.9 193.9,1175.9 189.8,1181.3C187.8,1184.1 185.8,1186.9 183.8,1189.9S179.8,1196 177.8,1199.2Z" fill="#b2dceb" stroke="#b2dceb"/>
<path d="M177.8,1199.2C179.8,1196 181.8,1192.9 183.8,1189.9S187.8,1184.1 189.8,1181.3C193.9,1175.9 197.9,1170.9 201.9,1166.3C209.9,1157.2 217.9,1149.9 226,1144.3S242,1134.6 250.1,1132.1S266.1,1128.6 274.1,1128.8S290.2,1130.8 298.2,1133.1S314.3,1138.1 322.3,1140.6S338.4,1145.3 346.4,1146.3S362.4,1146.9 370.5,1145.8S386.5,1142.9 394.6,1140.9S410.6,1136.9 418.6,1135.2S434.7,1132.5 442.7,1132.5S458.8,1133.6 466.8,1136.3S482.9,1143.9 490.9,1150.3S507,1164.5 515,1171.4S531,1184.4 539.1,1187.6S555.1,1190.9 563.2,1186S579.2,1171.2 587.2,1159.3S603.3,1133.4 611.3,1120.6S627.4,1096.2 635.4,1088S651.5,1074.3 659.5,1071.9S675.5,1070.3 683.6,1074.3S699.6,1085.6 707.7,1091.4S723.7,1101.3 731.7,1099.1S747.8,1100 755.8,1096.7C759.8,1095 763.9,1090.9 767.9,1081.3S775.9,1058.1 779.9,1050.9S787.9,1034.6 792,1018.5S800,985.9 804,973.9S812,952.2 816,942.8S824.1,924.6 828.1,916.1S836.1,899.1 840.1,890.4S848.1,872.5 852.2,864.1S860.2,848.1 864.2,843.1S872.2,836.1 876.2,835.1S884.3,833.3 888.3,829.6S896.3,819.8 900.3,818S908.4,820.5 912.4,831S920.4,851.1 924.4,869.8S932.4,924.2 936.5,946.7S944.5,985.7 948.5,1014.9L948.5,1015.7C944.5,986.2 940.5,968.4 936.5,945.7S928.4,889.2 924.4,870.8S916.4,842.3 912.4,831.7S904.3,816.3 900.3,817.2S892.3,823.1 888.3,826.2S880.3,830.1 876.2,831.4S868.2,835 864.2,840.2S856.2,852.9 852.2,861.3S844.1,879.1 840.1,888S832.1,905.6 828.1,914.4S820,932.4 816,942.1S808,961.9 804,973.8S796,1001.7 792,1017.2S783.9,1041.9 779.9,1049.3S771.9,1069.5 767.9,1078.6S759.8,1092 755.8,1093.9C747.8,1097.7 739.8,1095.3 731.7,1097.3S715.7,1095.4 707.7,1090S691.6,1077.7 683.6,1073.8S667.5,1069 659.5,1071.2S643.4,1078.7 635.4,1087S619.3,1107.3 611.3,1120.4S595.3,1147.5 587.2,1159.4S571.2,1181.1 563.2,1186S547.1,1190.7 539.1,1187.5S523,1178.2 515,1171.2S498.9,1156.3 490.9,1149.7S474.8,1138.2 466.8,1135.2S450.8,1131.2 442.7,1131.3S426.7,1132.5 418.6,1134.2S402.6,1138.1 394.6,1140.1S378.5,1144 370.5,1145.1S354.4,1146.4 346.4,1145.4S330.3,1142.3 322.3,1139.8S306.2,1134.6 298.2,1132.4S282.2,1128.6 274.1,1128.3S258.1,1128.9 250.1,1131.4S234,1137.8 226,1143.4S209.9,1156.4 201.9,1165.6C197.9,1170.3 193.9,1175.4 189.8,1181C187.8,1183.8 185.8,1186.7 183.8,1189.8S179.8,1196 177.8,1199.3Z" fill="#83b9d8" stroke="#83b9d8"/>
<path d="M177.8,1199.3C179.8,1196 181.8,1192.8 183.8,1189.8S187.8,1183.8 189.8,1181C193.9,1175.4 197.9,1170.3 201.9,1165.6C209.9,1156.4 217.9,1149.1 226,1143.4S242,1133.9 250.1,1131.4S266.1,1128 274.1,1128.3S290.2,1130.2 298.2,1132.4S314.3,1137.4 322.3,1139.8S338.4,1144.4 346.4,1145.4S362.4,1146.1 370.5,1145.1S386.5,1142.1 394.6,1140.1S410.6,1135.9 418.6,1134.2S434.7,1131.3 442.7,1131.3S458.8,1132.3 466.8,1135.2S482.9,1143.1 490.9,1149.7S507,1164.2 515,1171.2S531,1184.3 539.1,1187.5S555.1,1190.8 563.2,1186S579.2,1171.3 587.2,1159.4S603.3,1133.5 611.3,1120.4S627.4,1095.4 635.4,1087S651.5,1073.4 659.5,1071.2S675.5,1069.9 683.6,1073.8S699.6,1084.6 707.7,1090S723.7,1099.4 731.7,1097.3S747.8,1097.7 755.8,1093.9C759.8,1092 763.9,1087.8 767.9,1078.6S775.9,1056.7 779.9,1049.3S787.9,1032.7 792,1017.2S800,985.8 804,973.8S812,951.8 816,942.1S824.1,923.3 828.1,914.4S836.1,896.9 840.1,888S848.1,869.8 852.2,861.3S860.2,845.4 864.2,840.2S872.2,832.7 876.2,831.4S884.3,829.4 888.3,826.2S896.3,818.1 900.3,817.2S908.4,821.1 912.4,831.7S920.4,852.3 924.4,870.8S932.4,923 936.5,945.7S944.5,986.2 948.5,1015.7L948.5,1016.5C944.5,986.8 940.5,967.6 936.5,944.7S928.4,890 924.4,871.8S916.4,843 912.4,832.3S904.3,816.5 900.3,816.5S892.3,820.3 888.3,822.9S880.3,826.3 876.2,827.8S868.2,832 864.2,837.3S856.2,850.2 852.2,858.6S844.1,876.4 840.1,885.5S832.1,903.6 828.1,912.8S820,931.4 816,941.5S808,961.8 804,973.8S796,1001 792,1015.9S783.9,1040.1 779.9,1047.7S771.9,1067.3 767.9,1076S759.8,1089 755.8,1091.2C747.8,1095.5 739.8,1093.8 731.7,1095.6S715.7,1093.7 707.7,1088.6S691.6,1077 683.6,1073.3S667.5,1068.5 659.5,1070.5S643.4,1077.6 635.4,1086.1S619.3,1106.8 611.3,1120.2S595.3,1147.7 587.2,1159.6S571.2,1181.1 563.2,1185.9S547.1,1190.7 539.1,1187.5S523,1178 515,1170.9S498.9,1155.8 490.9,1149.1S474.8,1137.2 466.8,1134.2S450.8,1130 442.7,1130S426.7,1131.3 418.6,1133.1S402.6,1137.2 394.6,1139.3S378.5,1143.3 370.5,1144.3S354.4,1145.5 346.4,1144.5S330.3,1141.4 322.3,1139S306.2,1133.9 298.2,1131.8S282.2,1128 274.1,1127.7S258.1,1128.3 250.1,1130.7S234,1136.9 226,1142.6S209.9,1155.6 201.9,1165C197.9,1169.7 193.9,1174.9 189.8,1180.6C187.8,1183.5 185.8,1186.5 183.8,1189.6S179.8,1196 177.8,1199.5Z" fill="#80b6d6" stroke="#80b6d6"/>
<path d="M177.8,1199.5C179.8,1196 181.8,1192.8 183.8,1189.6S187.8,1183.5 189.8,1180.6C193.9,1174.9 197.9,1169.7 201.9,1165C209.9,1155.6 217.9,1148.2 226,1142.6S242,1133.1 250.1,1130.7S266.1,1127.4 274.1,1127.7S290.2,1129.6 298.2,1131.8S314.3,1136.6 322.3,1139S338.4,1143.5 346.4,1144.5S362.4,1145.4 370.5,1144.3S386.5,1141.4 394.6,1139.3S410.6,1134.9 418.6,1133.1S434.7,1130.1 442.7,1130S458.8,1131.1 466.8,1134.2S482.9,1142.4 490.9,1149.1S507,1163.8 515,1170.9S531,1184.3 539.1,1187.5S555.1,1190.8 563.2,1185.9S579.2,1171.4 587.2,1159.6S603.3,1133.5 611.3,1120.2S627.4,1094.6 635.4,1086.1S651.5,1072.5 659.5,1070.5S675.5,1069.5 683.6,1073.3S699.6,1083.5 707.7,1088.6S723.7,1097.4 731.7,1095.6S747.8,1095.5 755.8,1091.2C759.8,1089 763.9,1084.7 767.9,1076S775.9,1055.3 779.9,1047.7S787.9,1030.8 792,1015.9S800,985.7 804,973.8S812,951.5 816,941.5S824.1,922 828.1,912.8S836.1,894.6 840.1,885.5S848.1,867.1 852.2,858.6S860.2,842.7 864.2,837.3S872.2,829.4 876.2,827.8S884.3,825.4 888.3,822.9S896.3,816.5 900.3,816.5S908.4,821.7 912.4,832.3S920.4,853.5 924.4,871.8S932.4,921.8 936.5,944.7S944.5,986.8 948.5,1016.5L948.5,1017.3C944.5,987.3 940.5,966.7 936.5,943.7S928.4,890.8 924.4,872.8S916.4,843.7 912.4,833S904.3,816.6 900.3,815.7S892.3,817.5 888.3,819.5S880.3,822.4 876.2,824.2S868.2,828.9 864.2,834.4S856.2,847.4 852.2,855.9S844.1,873.8 840.1,883S832.1,901.6 828.1,911.2S820,930.5 816,940.8S808,961.7 804,973.7S796,1000.4 792,1014.6S783.9,1038.3 779.9,1046.1S771.9,1065.1 767.9,1073.4S759.8,1086 755.8,1088.4C747.8,1093.2 739.8,1092.3 731.7,1093.8S715.7,1091.9 707.7,1087.2S691.6,1076.4 683.6,1072.8S667.5,1067.9 659.5,1069.8S643.4,1076.5 635.4,1085.2S619.3,1106.4 611.3,1120S595.3,1147.9 587.2,1159.7S571.2,1181 563.2,1185.9S547.1,1190.7 539.1,1187.4S523,1177.9 515,1170.7S498.9,1155.4 490.9,1148.5S474.8,1136.2 466.8,1133.1S450.8,1128.7 442.7,1128.8S426.7,1130.2 418.6,1132S402.6,1136.3 394.6,1138.4S378.5,1142.5 370.5,1143.6S354.4,1144.6 346.4,1143.6S330.3,1140.5 322.3,1138.2S306.2,1133.2 298.2,1131.1S282.2,1127.5 274.1,1127.1S258.1,1127.6 250.1,1129.9S234,1136.1 226,1141.7S209.9,1154.7 201.9,1164.3C197.9,1169.1 193.9,1174.4 189.8,1180.2C187.8,1183.2 185.8,1186.2 183.8,1189.5S179.8,1196.1 177.8,1199.6Z" fill="#7db4d5" stroke="#7db4d5"/>
<path d="M177.8,1199.6C179.8,1196.1 181.8,1192.7 183.8,1189.5S187.8,1183.2 189.8,1180.2C193.9,1174.4 197.9,1169.1 201.9,1164.3C209.9,1154.7 217.9,1147.3 226,1141.7S242,1132.3 250.1,1129.9S266.1,1126.8 274.1,1127.1S290.2,1129.1 298.2,1131.1S314.3,1135.8 322.3,1138.2S338.4,1142.5 346.4,1143.6S362.4,1144.6 370.5,1143.6S386.5,1140.6 394.6,1138.4S410.6,1133.9 418.6,1132S434.7,1128.9 442.7,1128.8S458.8,1129.9 466.8,1133.1S482.9,1141.6 490.9,1148.5S507,1163.4 515,1170.7S531,1184.2 539.1,1187.4S555.1,1190.7 563.2,1185.9S579.2,1171.5 587.2,1159.7S603.3,1133.6 611.3,1120S627.4,1093.8 635.4,1085.2S651.5,1071.6 659.5,1069.8S675.5,1069.2 683.6,1072.8S699.6,1082.5 707.7,1087.2S723.7,1095.4 731.7,1093.8S747.8,1093.2 755.8,1088.4C759.8,1086 763.9,1081.6 767.9,1073.4S775.9,1053.9 779.9,1046.1S787.9,1028.8 792,1014.6S800,985.6 804,973.7S812,951.1 816,940.8S824.1,920.7 828.1,911.2S836.1,892.3 840.1,883S848.1,864.4 852.2,855.9S860.2,839.9 864.2,834.4S872.2,826 876.2,824.2S884.3,821.5 888.3,819.5S896.3,814.8 900.3,815.7S908.4,822.3 912.4,833S920.4,854.7 924.4,872.8S932.4,920.7 936.5,943.7S944.5,987.3 948.5,1017.3L948.5,1018.1C944.5,987.8 940.5,965.9 936.5,942.7S928.4,891.6 924.4,873.8S916.4,844.3 912.4,833.6S904.3,816.8 900.3,815S892.3,814.7 888.3,816.1S880.3,818.5 876.2,820.6S868.2,825.9 864.2,831.6S856.2,844.7 852.2,853.2S844.1,871.1 840.1,880.6S832.1,899.6 828.1,909.5S820,929.5 816,940.1S808,961.6 804,973.6S796,999.7 792,1013.3S783.9,1036.5 779.9,1044.5S771.9,1063 767.9,1070.8S759.8,1083 755.8,1085.6C747.8,1090.9 739.8,1090.8 731.7,1092.1S715.7,1090.2 707.7,1085.8S691.6,1075.8 683.6,1072.3S667.5,1067.4 659.5,1069S643.4,1075.4 635.4,1084.2S619.3,1105.9 611.3,1119.8S595.3,1148.1 587.2,1159.9S571.2,1181 563.2,1185.8S547.1,1190.6 539.1,1187.4S523,1177.7 515,1170.4S498.9,1154.9 490.9,1147.9S474.8,1135.2 466.8,1132S450.8,1127.5 442.7,1127.6S426.7,1129 418.6,1131S402.6,1135.4 394.6,1137.6S378.5,1141.8 370.5,1142.8S354.4,1143.7 346.4,1142.7S330.3,1139.6 322.3,1137.3S306.2,1132.5 298.2,1130.5S282.2,1126.9 274.1,1126.6S258.1,1127 250.1,1129.2S234,1135.2 226,1140.8S209.9,1153.9 201.9,1163.6C197.9,1168.5 193.9,1173.9 189.8,1179.9C187.8,1182.9 185.8,1186 183.8,1189.3S179.8,1196.1 177.8,1199.7Z" fill="#7ab2d3" stroke="#7ab2d3"/>
<path d="M177.8,1199.7C179.8,1196.1 181.8,1192.6 183.8,1189.3S187.8,1182.9 189.8,1179.9C193.9,1173.9 197.9,1168.5 201.9,1163.6C209.9,1153.9 217.9,1146.5 226,1140.8S242,1131.5 250.1,1129.2S266.1,1126.2 274.1,1126.6S290.2,1128.5 298.2,1130.5S314.3,1135.1 322.3,1137.3S338.4,1141.6 346.4,1142.7S362.4,1143.8 370.5,1142.8S386.5,1139.8 394.6,1137.6S410.6,1132.9 418.6,1131S434.7,1127.6 442.7,1127.6S458.8,1128.7 466.8,1132S482.9,1140.9 490.9,1147.9S507,1163.1 515,1170.4S531,1184.1 539.1,1187.4S555.1,1190.6 563.2,1185.8S579.2,1171.6 587.2,1159.9S603.3,1133.7 611.3,1119.8S627.4,1093 635.4,1084.2S651.5,1070.7 659.5,1069S675.5,1068.8 683.6,1072.3S699.6,1081.4 707.7,1085.8S723.7,1093.4 731.7,1092.1S747.8,1090.9 755.8,1085.6C759.8,1083 763.9,1078.6 767.9,1070.8S775.9,1052.5 779.9,1044.5S787.9,1026.9 792,1013.3S800,985.6 804,973.6S812,950.7 816,940.1S824.1,919.4 828.1,909.5S836.1,890 840.1,880.6S848.1,861.7 852.2,853.2S860.2,837.2 864.2,831.6S872.2,822.6 876.2,820.6S884.3,817.6 888.3,816.1S896.3,813.1 900.3,815S908.4,822.9 912.4,833.6S920.4,855.9 924.4,873.8S932.4,919.5 936.5,942.7S944.5,987.8 948.5,1018.1L948.5,1018.9C944.5,988.3 940.5,965 936.5,941.7S928.4,892.4 924.4,874.8S916.4,845 912.4,834.3S904.3,816.9 900.3,814.2S892.3,811.9 888.3,812.8S880.3,814.7 876.2,817S868.2,822.9 864.2,828.7S856.2,842 852.2,850.5S844.1,868.4 840.1,878.1S832.1,897.7 828.1,907.9S820,928.6 816,939.4S808,961.5 804,973.5S796,999.1 792,1012S783.9,1034.7 779.9,1042.9S771.9,1060.8 767.9,1068.1S759.8,1080 755.8,1082.9C747.8,1088.6 739.8,1089.3 731.7,1090.4S715.7,1088.5 707.7,1084.4S691.6,1075.1 683.6,1071.8S667.5,1066.8 659.5,1068.3S643.4,1074.4 635.4,1083.3S619.3,1105.5 611.3,1119.6S595.3,1148.3 587.2,1160S571.2,1181 563.2,1185.8S547.1,1190.6 539.1,1187.3S523,1177.5 515,1170.1S498.9,1154.5 490.9,1147.3S474.8,1134.3 466.8,1130.9S450.8,1126.2 442.7,1126.3S426.7,1127.9 418.6,1129.9S402.6,1134.5 394.6,1136.8S378.5,1141.1 370.5,1142S354.4,1142.9 346.4,1141.8S330.3,1138.7 322.3,1136.5S306.2,1131.8 298.2,1129.9S282.2,1126.4 274.1,1126S258.1,1126.3 250.1,1128.5S234,1134.4 226,1140S209.9,1153.1 201.9,1162.9C197.9,1167.9 193.9,1173.4 189.8,1179.5C187.8,1182.6 185.8,1185.8 183.8,1189.2S179.8,1196.1 177.8,1199.8Z" fill="#77afd2" stroke="#77afd2"/>
<path d="M177.8,1199.8C179.8,1196.1 181.8,1192.6 183.8,1189.2S187.8,1182.6 189.8,1179.5C193.9,1173.4 197.9,1167.9 201.9,1162.9C209.9,1153.1 217.9,1145.6 226,1140S242,1130.7 250.1,1128.5S266.1,1125.6 274.1,1126S290.2,1127.9 298.2,1129.9S314.3,1134.3 322.3,1136.5S338.4,1140.7 346.4,1141.8S362.4,1143 370.5,1142S386.5,1139.1 394.6,1136.8S410.6,1131.9 418.6,1129.9S434.7,1126.4 442.7,1126.3S458.8,1127.4 466.8,1130.9S482.9,1140.1 490.9,1147.3S507,1162.7 515,1170.1S531,1184 539.1,1187.3S555.1,1190.6 563.2,1185.8S579.2,1171.7 587.2,1160S603.3,1133.7 611.3,1119.6S627.4,1092.1 635.4,1083.3S651.5,1069.8 659.5,1068.3S675.5,1068.4 683.6,1071.8S699.6,1080.3 707.7,1084.4S723.7,1091.4 731.7,1090.4S747.8,1088.6 755.8,1082.9C759.8,1080 763.9,1075.5 767.9,1068.1S775.9,1051.2 779.9,1042.9S787.9,1024.9 792,1012S800,985.5 804,973.5S812,950.3 816,939.4S824.1,918.1 828.1,907.9S836.1,887.8 840.1,878.1S848.1,859 852.2,850.5S860.2,834.4 864.2,828.7S872.2,819.2 876.2,817S884.3,813.6 888.3,812.8S896.3,811.5 900.3,814.2S908.4,823.6 912.4,834.3S920.4,857.2 924.4,874.8S932.4,918.4 936.5,941.7S944.5,988.3 948.5,1018.9L948.5,1019.6C944.5,988.9 940.5,964.2 936.5,940.7S928.4,893.1 924.4,875.8S916.4,845.7 912.4,834.9S904.3,817.1 900.3,813.5S892.3,809.1 888.3,809.4S880.3,810.8 876.2,813.3S868.2,819.9 864.2,825.8S856.2,839.2 852.2,847.8S844.1,865.8 840.1,875.6S832.1,895.7 828.1,906.2S820,927.6 816,938.8S808,961.4 804,973.4S796,998.4 792,1010.7S783.9,1032.9 779.9,1041.4S771.9,1058.6 767.9,1065.5S759.8,1077 755.8,1080.1C747.8,1086.4 739.8,1087.8 731.7,1088.6S715.7,1086.7 707.7,1083S691.6,1074.5 683.6,1071.3S667.5,1066.3 659.5,1067.6S643.4,1073.3 635.4,1082.3S619.3,1105 611.3,1119.4S595.3,1148.5 587.2,1160.2S571.2,1180.9 563.2,1185.7S547.1,1190.6 539.1,1187.3S523,1177.4 515,1169.9S498.9,1154 490.9,1146.7S474.8,1133.3 466.8,1129.8S450.8,1124.9 442.7,1125.1S426.7,1126.7 418.6,1128.8S402.6,1133.6 394.6,1135.9S378.5,1140.4 370.5,1141.3S354.4,1142 346.4,1140.9S330.3,1137.8 322.3,1135.7S306.2,1131.2 298.2,1129.2S282.2,1125.8 274.1,1125.4S258.1,1125.6 250.1,1127.8S234,1133.5 226,1139.1S209.9,1152.3 201.9,1162.3C197.9,1167.3 193.9,1172.9 189.8,1179.1C187.8,1182.3 185.8,1185.5 183.8,1189S179.8,1196.1 177.8,1200Z" fill="#74acd1" stroke="#74acd1"/>
<path d="M177.8,1200C179.8,1196.1 181.8,1192.5 183.8,1189S187.8,1182.3 189.8,1179.1C193.9,1172.9 197.9,1167.3 201.9,1162.3C209.9,1152.3 217.9,1144.7 226,1139.1S242,1129.9 250.1,1127.8S266.1,1125 274.1,1125.4S290.2,1127.3 298.2,1129.2S314.3,1133.5 322.3,1135.7S338.4,1139.8 346.4,1140.9S362.4,1142.2 370.5,1141.3S386.5,1138.3 394.6,1135.9S410.6,1130.9 418.6,1128.8S434.7,1125.2 442.7,1125.1S458.8,1126.2 466.8,1129.8S482.9,1139.4 490.9,1146.7S507,1162.4 515,1169.9S531,1183.9 539.1,1187.3S555.1,1190.5 563.2,1185.7S579.2,1171.8 587.2,1160.2S603.3,1133.8 611.3,1119.4S627.4,1091.3 635.4,1082.3S651.5,1068.9 659.5,1067.6S675.5,1068 683.6,1071.3S699.6,1079.3 707.7,1083S723.7,1089.4 731.7,1088.6S747.8,1086.4 755.8,1080.1C759.8,1077 763.9,1072.4 767.9,1065.5S775.9,1049.8 779.9,1041.4S787.9,1023 792,1010.7S800,985.4 804,973.4S812,950 816,938.8S824.1,916.7 828.1,906.2S836.1,885.5 840.1,875.6S848.1,856.3 852.2,847.8S860.2,831.7 864.2,825.8S872.2,815.9 876.2,813.3S884.3,809.7 888.3,809.4S896.3,809.8 900.3,813.5S908.4,824.2 912.4,834.9S920.4,858.4 924.4,875.8S932.4,917.2 936.5,940.7S944.5,988.9 948.5,1019.6L948.5,1020.4C944.5,989.4 940.5,963.3 936.5,939.7S928.4,893.9 924.4,876.7S916.4,846.4 912.4,835.6S904.3,817.3 900.3,812.7S892.3,806.3 888.3,806S880.3,806.9 876.2,809.7S868.2,816.9 864.2,822.9S856.2,836.5 852.2,845.1S844.1,863.1 840.1,873.2S832.1,893.7 828.1,904.6S820,926.6 816,938.1S808,961.4 804,973.3S796,997.7 792,1009.4S783.9,1031.2 779.9,1039.8S771.9,1056.5 767.9,1062.9S759.8,1074 755.8,1077.4C747.8,1084.1 739.8,1086.3 731.7,1086.9S715.7,1085 707.7,1081.6S691.6,1073.9 683.6,1070.8S667.5,1065.7 659.5,1066.9S643.4,1072.2 635.4,1081.4S619.3,1104.6 611.3,1119.2S595.3,1148.6 587.2,1160.3S571.2,1180.9 563.2,1185.7S547.1,1190.6 539.1,1187.2S523,1177.2 515,1169.6S498.9,1153.5 490.9,1146.1S474.8,1132.3 466.8,1128.7S450.8,1123.7 442.7,1123.8S426.7,1125.6 418.6,1127.8S402.6,1132.7 394.6,1135.1S378.5,1139.6 370.5,1140.5S354.4,1141.1 346.4,1140S330.3,1136.9 322.3,1134.8S306.2,1130.5 298.2,1128.6S282.2,1125.3 274.1,1124.8S258.1,1125 250.1,1127S234,1132.7 226,1138.3S209.9,1151.5 201.9,1161.6C197.9,1166.7 193.9,1172.4 189.8,1178.7C187.8,1181.9 185.8,1185.3 183.8,1188.9S179.8,1196.2 177.8,1200.1Z" fill="#71a9cf" stroke="#71a9cf"/>
<path d="M177.8,1200.1C179.8,1196.2 181.8,1192.4 183.8,1188.9S187.8,1181.9 189.8,1178.7C193.9,1172.4 197.9,1166.7 201.9,1161.6C209.9,1151.5 217.9,1143.8 226,1138.3S242,1129.1 250.1,1127S266.1,1124.4 274.1,1124.8S290.2,1126.7 298.2,1128.6S314.3,1132.7 322.3,1134.8S338.4,1138.8 346.4,1140S362.4,1141.4 370.5,1140.5S386.5,1137.5 394.6,1135.1S410.6,1129.9 418.6,1127.8S434.7,1124 442.7,1123.8S458.8,1125 466.8,1128.7S482.9,1138.6 490.9,1146.1S507,1162 515,1169.6S531,1183.8 539.1,1187.2S555.1,1190.4 563.2,1185.7S579.2,1172 587.2,1160.3S603.3,1133.8 611.3,1119.2S627.4,1090.5 635.4,1081.4S651.5,1068 659.5,1066.9S675.5,1067.6 683.6,1070.8S699.6,1078.2 707.7,1081.6S723.7,1087.5 731.7,1086.9S747.8,1084.1 755.8,1077.4C759.8,1074 763.9,1069.3 767.9,1062.9S775.9,1048.4 779.9,1039.8S787.9,1021.1 792,1009.4S800,985.3 804,973.3S812,949.6 816,938.1S824.1,915.4 828.1,904.6S836.1,883.2 840.1,873.2S848.1,853.6 852.2,845.1S860.2,829 864.2,822.9S872.2,812.5 876.2,809.7S884.3,805.7 888.3,806S896.3,808.1 900.3,812.7S908.4,824.8 912.4,835.6S920.4,859.6 924.4,876.7S932.4,916 936.5,939.7S944.5,989.4 948.5,1020.4L948.5,1021.2C944.5,989.9 940.5,962.5 936.5,938.7S928.4,894.7 924.4,877.7S916.4,847.1 912.4,836.3S904.3,817.4 900.3,812S892.3,803.5 888.3,802.6S880.3,803.1 876.2,806.1S868.2,813.9 864.2,820.1S856.2,833.8 852.2,842.3S844.1,860.5 840.1,870.7S832.1,891.8 828.1,902.9S820,925.7 816,937.4S808,961.3 804,973.3S796,997.1 792,1008.1S783.9,1029.4 779.9,1038.2S771.9,1054.3 767.9,1060.3S759.8,1071 755.8,1074.6C747.8,1081.8 739.8,1084.8 731.7,1085.1S715.7,1083.3 707.7,1080.2S691.6,1073.2 683.6,1070.3S667.5,1065.2 659.5,1066.1S643.4,1071.2 635.4,1080.4S619.3,1104.1 611.3,1119S595.3,1148.8 587.2,1160.4S571.2,1180.9 563.2,1185.6S547.1,1190.6 539.1,1187.2S523,1177.1 515,1169.4S498.9,1153.1 490.9,1145.5S474.8,1131.4 466.8,1127.6S450.8,1122.4 442.7,1122.6S426.7,1124.4 418.6,1126.7S402.6,1131.8 394.6,1134.3S378.5,1138.9 370.5,1139.8S354.4,1140.2 346.4,1139.1S330.3,1136 322.3,1134S306.2,1129.8 298.2,1128S282.2,1124.7 274.1,1124.3S258.1,1124.3 250.1,1126.3S234,1131.8 226,1137.4S209.9,1150.6 201.9,1160.9C197.9,1166.1 193.9,1171.9 189.8,1178.4C187.8,1181.6 185.8,1185.1 183.8,1188.7S179.8,1196.2 177.8,1200.2Z" fill="#6ea6cd" stroke="#6ea6cd"/>
<path d="M177.8,1200.2C179.8,1196.2 181.8,1192.4 183.8,1188.7S187.8,1181.6 189.8,1178.4C193.9,1171.9 197.9,1166.1 201.9,1160.9C209.9,1150.6 217.9,1143 226,1137.4S242,1128.3 250.1,1126.3S266.1,1123.8 274.1,1124.3S290.2,1126.2 298.2,1128S314.3,1132 322.3,1134S338.4,1137.9 346.4,1139.1S362.4,1140.6 370.5,1139.8S386.5,1136.8 394.6,1134.3S410.6,1129 418.6,1126.7S434.7,1122.8 442.7,1122.6S458.8,1123.8 466.8,1127.6S482.9,1137.9 490.9,1145.5S507,1161.7 515,1169.4S531,1183.7 539.1,1187.2S555.1,1190.4 563.2,1185.6S579.2,1172.1 587.2,1160.4S603.3,1133.9 611.3,1119S627.4,1089.7 635.4,1080.4S651.5,1067.1 659.5,1066.1S675.5,1067.3 683.6,1070.3S699.6,1077.1 707.7,1080.2S723.7,1085.5 731.7,1085.1S747.8,1081.8 755.8,1074.6C759.8,1071 763.9,1066.3 767.9,1060.3S775.9,1047 779.9,1038.2S787.9,1019.1 792,1008.1S800,985.2 804,973.3S812,949.2 816,937.4S824.1,914.1 828.1,902.9S836.1,880.9 840.1,870.7S848.1,850.9 852.2,842.3S860.2,826.2 864.2,820.1S872.2,809.1 876.2,806.1S884.3,801.8 888.3,802.6S896.3,806.5 900.3,812S908.4,825.4 912.4,836.3S920.4,860.8 924.4,877.7S932.4,914.9 936.5,938.7S944.5,989.9 948.5,1021.2L948.5,1022.3C944.5,991.9 940.5,965.3 936.5,942.1S928.4,899.2 924.4,882.7S916.4,852.6 912.4,841.9S904.3,823.2 900.3,817.7S892.3,809.1 888.3,808S880.3,808 876.2,810.8S868.2,818 864.2,823.9S856.2,837 852.2,845.2S844.1,862.8 840.1,872.7S832.1,893.4 828.1,904.4S820,926.8 816,938.4S808,961.9 804,973.6S796,996.8 792,1007.6S783.9,1028.4 779.9,1037S771.9,1052.9 767.9,1058.8S759.8,1069.4 755.8,1073C747.8,1080.1 739.8,1083 731.7,1083.2S715.7,1081.1 707.7,1077.9S691.6,1070.5 683.6,1067.4S667.5,1062.1 659.5,1063.4S643.4,1069.5 635.4,1079.4S619.3,1103.9 611.3,1118.8S595.3,1148.7 587.2,1160.5S571.2,1181.2 563.2,1185.7S547.1,1190.2 539.1,1186.6S523,1176.2 515,1168.3S498.9,1151.7 490.9,1144S474.8,1129.6 466.8,1125.7S450.8,1120.4 442.7,1120.6S426.7,1122.5 418.6,1124.8S402.6,1130 394.6,1132.5S378.5,1137.2 370.5,1138.1S354.4,1138.6 346.4,1137.5S330.3,1134.4 322.3,1132.4S306.2,1128.1 298.2,1126.3S282.2,1123.1 274.1,1122.7S258.1,1122.7 250.1,1124.8S234,1130.4 226,1136.1S209.9,1149.6 201.9,1160.1C197.9,1165.3 193.9,1171.2 189.8,1177.8C187.8,1181.2 185.8,1184.7 183.8,1188.4S179.8,1195.9 177.8,1200Z" fill="#6aa1cb" stroke="#6aa1cb"/>
<path d="M177.8,1200C179.8,1195.9 181.8,1192.1 183.8,1188.4S187.8,1181.2 189.8,1177.8C193.9,1171.2 197.9,1165.3 201.9,1160.1C209.9,1149.6 217.9,1141.8 226,1136.1S242,1126.8 250.1,1124.8S266.1,1122.2 274.1,1122.7S290.2,1124.5 298.2,1126.3S314.3,1130.4 322.3,1132.4S338.4,1136.3 346.4,1137.5S362.4,1139 370.5,1138.1S386.5,1135 394.6,1132.5S410.6,1127.1 418.6,1124.8S434.7,1120.8 442.7,1120.6S458.8,1121.8 466.8,1125.7S482.9,1136.2 490.9,1144S507,1160.5 515,1168.3S531,1183 539.1,1186.6S555.1,1190.3 563.2,1185.7S579.2,1172.2 587.2,1160.5S603.3,1133.8 611.3,1118.8S627.4,1089.2 635.4,1079.4S651.5,1064.7 659.5,1063.4S675.5,1064.2 683.6,1067.4S699.6,1074.6 707.7,1077.9S723.7,1083.5 731.7,1083.2S747.8,1080.1 755.8,1073C759.8,1069.4 763.9,1064.8 767.9,1058.8S775.9,1045.7 779.9,1037S787.9,1018.4 792,1007.6S800,985.3 804,973.6S812,950 816,938.4S824.1,915.4 828.1,904.4S836.1,882.7 840.1,872.7S848.1,853.5 852.2,845.2S860.2,829.7 864.2,823.9S872.2,813.5 876.2,810.8S884.3,807 888.3,808S896.3,812.2 900.3,817.7S908.4,831.2 912.4,841.9S920.4,866.1 924.4,882.7S932.4,918.9 936.5,942.1S944.5,991.9 948.5,1022.3L948.5,1023.4C944.5,994 940.5,968.1 936.5,945.5S928.4,903.8 924.4,887.6S916.4,858.1 912.4,847.5S904.3,829 900.3,823.4S892.3,814.6 888.3,813.4S880.3,813 876.2,815.5S868.2,822.1 864.2,827.7S856.2,840.1 852.2,848.1S844.1,865.1 840.1,874.8S832.1,895 828.1,905.8S820,928 816,939.4S808,962.5 804,973.9S796,996.6 792,1007.1S783.9,1027.3 779.9,1035.8S771.9,1051.5 767.9,1057.4S759.8,1067.9 755.8,1071.4C747.8,1078.4 739.8,1081.2 731.7,1081.3S715.7,1078.9 707.7,1075.5S691.6,1067.7 683.6,1064.5S667.5,1059.1 659.5,1060.7S643.4,1067.9 635.4,1078.3S619.3,1103.6 611.3,1118.6S595.3,1148.6 587.2,1160.5S571.2,1181.4 563.2,1185.9S547.1,1189.9 539.1,1186.1S523,1175.3 515,1167.3S498.9,1150.4 490.9,1142.5S474.8,1127.8 466.8,1123.8S450.8,1118.4 442.7,1118.6S426.7,1120.5 418.6,1122.8S402.6,1128.1 394.6,1130.7S378.5,1135.6 370.5,1136.5S354.4,1137 346.4,1135.9S330.3,1132.9 322.3,1130.8S306.2,1126.5 298.2,1124.7S282.2,1121.5 274.1,1121S258.1,1121.2 250.1,1123.3S234,1129 226,1134.8S209.9,1148.6 201.9,1159.2C197.9,1164.5 193.9,1170.5 189.8,1177.3C187.8,1180.7 185.8,1184.2 183.8,1188S179.8,1195.7 177.8,1199.9Z" fill="#659bc8" stroke="#659bc8"/>
<path d="M177.8,1199.9C179.8,1195.7 181.8,1191.8 183.8,1188S187.8,1180.7 189.8,1177.3C193.9,1170.5 197.9,1164.5 201.9,1159.2C209.9,1148.6 217.9,1140.6 226,1134.8S242,1125.4 250.1,1123.3S266.1,1120.6 274.1,1121S290.2,1122.9 298.2,1124.7S314.3,1128.7 322.3,1130.8S338.4,1134.7 346.4,1135.9S362.4,1137.4 370.5,1136.5S386.5,1133.3 394.6,1130.7S410.6,1125.2 418.6,1122.8S434.7,1118.7 442.7,1118.6S458.8,1119.8 466.8,1123.8S482.9,1134.6 490.9,1142.5S507,1159.3 515,1167.3S531,1182.3 539.1,1186.1S555.1,1190.3 563.2,1185.9S579.2,1172.4 587.2,1160.5S603.3,1133.7 611.3,1118.6S627.4,1088.8 635.4,1078.3S651.5,1062.2 659.5,1060.7S675.5,1061.2 683.6,1064.5S699.6,1072.1 707.7,1075.5S723.7,1081.4 731.7,1081.3S747.8,1078.4 755.8,1071.4C759.8,1067.9 763.9,1063.3 767.9,1057.4S775.9,1044.3 779.9,1035.8S787.9,1017.6 792,1007.1S800,985.4 804,973.9S812,950.8 816,939.4S824.1,916.7 828.1,905.8S836.1,884.5 840.1,874.8S848.1,856.1 852.2,848.1S860.2,833.2 864.2,827.7S872.2,817.9 876.2,815.5S884.3,812.2 888.3,813.4S896.3,817.9 900.3,823.4S908.4,836.9 912.4,847.5S920.4,871.3 924.4,887.6S932.4,923 936.5,945.5S944.5,994 948.5,1023.4L948.5,1024.5C944.5,996 940.5,970.9 936.5,949S928.4,908.3 924.4,892.5S916.4,863.6 912.4,853.1S904.3,834.8 900.3,829.2S892.3,820.2 888.3,818.8S880.3,817.9 876.2,820.1S868.2,826.2 864.2,831.5S856.2,843.3 852.2,851S844.1,867.4 840.1,876.9S832.1,896.6 828.1,907.3S820,929.1 816,940.4S808,963.1 804,974.2S796,996.3 792,1006.6S783.9,1026.3 779.9,1034.7S771.9,1050.2 767.9,1056S759.8,1066.4 755.8,1069.8C747.8,1076.7 739.8,1079.4 731.7,1079.4S715.7,1076.8 707.7,1073.2S691.6,1065 683.6,1061.6S667.5,1056.1 659.5,1057.9S643.4,1066.2 635.4,1077.3S619.3,1103.3 611.3,1118.5S595.3,1148.5 587.2,1160.5S571.2,1181.7 563.2,1186S547.1,1189.5 539.1,1185.5S523,1174.4 515,1166.3S498.9,1149 490.9,1141S474.8,1126 466.8,1121.9S450.8,1116.4 442.7,1116.6S426.7,1118.5 418.6,1120.9S402.6,1126.3 394.6,1128.9S378.5,1133.9 370.5,1134.8S354.4,1135.4 346.4,1134.3S330.3,1131.3 322.3,1129.2S306.2,1124.9 298.2,1123.1S282.2,1119.8 274.1,1119.4S258.1,1119.6 250.1,1121.8S234,1127.7 226,1133.6S209.9,1147.6 201.9,1158.4C197.9,1163.8 193.9,1169.9 189.8,1176.8C187.8,1180.2 185.8,1183.8 183.8,1187.6S179.8,1195.5 177.8,1199.7Z" fill="#6095c4" stroke="#6095c4"/>
<path d="M177.8,1199.7C179.8,1195.5 181.8,1191.4 183.8,1187.6S187.8,1180.2 189.8,1176.8C193.9,1169.9 197.9,1163.8 201.9,1158.4C209.9,1147.6 217.9,1139.5 226,1133.6S242,1123.9 250.1,1121.8S266.1,1119 274.1,1119.4S290.2,1121.2 298.2,1123.1S314.3,1127.1 322.3,1129.2S338.4,1133.2 346.4,1134.3S362.4,1135.8 370.5,1134.8S386.5,1131.6 394.6,1128.9S410.6,1123.3 418.6,1120.9S434.7,1116.7 442.7,1116.6S458.8,1117.9 466.8,1121.9S482.9,1132.9 490.9,1141S507,1158.1 515,1166.3S531,1181.5 539.1,1185.5S555.1,1190.3 563.2,1186S579.2,1172.5 587.2,1160.5S603.3,1133.6 611.3,1118.5S627.4,1088.3 635.4,1077.3S651.5,1059.8 659.5,1057.9S675.5,1058.2 683.6,1061.6S699.6,1069.7 707.7,1073.2S723.7,1079.4 731.7,1079.4S747.8,1076.7 755.8,1069.8C759.8,1066.4 763.9,1061.8 767.9,1056S775.9,1043 779.9,1034.7S787.9,1016.8 792,1006.6S800,985.4 804,974.2S812,951.7 816,940.4S824.1,918 828.1,907.3S836.1,886.3 840.1,876.9S848.1,858.6 852.2,851S860.2,836.7 864.2,831.5S872.2,822.4 876.2,820.1S884.3,817.4 888.3,818.8S896.3,823.5 900.3,829.2S908.4,842.7 912.4,853.1S920.4,876.6 924.4,892.5S932.4,927.1 936.5,949S944.5,996 948.5,1024.5L948.5,1025.6C944.5,998 940.5,973.7 936.5,952.4S928.4,912.9 924.4,897.4S916.4,869.1 912.4,858.7S904.3,840.6 900.3,834.9S892.3,825.7 888.3,824.1S880.3,822.9 876.2,824.8S868.2,830.4 864.2,835.3S856.2,846.5 852.2,853.9S844.1,869.7 840.1,878.9S832.1,898.2 828.1,908.7S820,930.3 816,941.4S808,963.7 804,974.6S796,996.1 792,1006.1S783.9,1025.3 779.9,1033.5S771.9,1048.8 767.9,1054.6S759.8,1064.8 755.8,1068.2C747.8,1075.1 739.8,1077.6 731.7,1077.5S715.7,1074.6 707.7,1070.9S691.6,1062.2 683.6,1058.7S667.5,1053 659.5,1055.2S643.4,1064.6 635.4,1076.2S619.3,1103.1 611.3,1118.3S595.3,1148.4 587.2,1160.6S571.2,1182 563.2,1186.1S547.1,1189.2 539.1,1185S523,1173.5 515,1165.2S498.9,1147.7 490.9,1139.5S474.8,1124.2 466.8,1120S450.8,1114.4 442.7,1114.6S426.7,1116.5 418.6,1118.9S402.6,1124.4 394.6,1127.1S378.5,1132.2 370.5,1133.2S354.4,1133.8 346.4,1132.7S330.3,1129.7 322.3,1127.6S306.2,1123.3 298.2,1121.4S282.2,1118.2 274.1,1117.8S258.1,1118 250.1,1120.2S234,1126.3 226,1132.3S209.9,1146.5 201.9,1157.5C197.9,1163 193.9,1169.2 189.8,1176.2C187.8,1179.7 185.8,1183.4 183.8,1187.3S179.8,1195.2 177.8,1199.5Z" fill="#5a8fc1" stroke="#5a8fc1"/>
<path d="M177.8,1199.5C179.8,1195.2 181.8,1191.1 183.8,1187.3S187.8,1179.7 189.8,1176.2C193.9,1169.2 197.9,1163 201.9,1157.5C209.9,1146.5 217.9,1138.3 226,1132.3S242,1122.5 250.1,1120.2S266.1,1117.4 274.1,1117.8S290.2,1119.6 298.2,1121.4S314.3,1125.5 322.3,1127.6S338.4,1131.6 346.4,1132.7S362.4,1134.2 370.5,1133.2S386.5,1129.8 394.6,1127.1S410.6,1121.3 418.6,1118.9S434.7,1114.7 442.7,1114.6S458.8,1115.9 466.8,1120S482.9,1131.3 490.9,1139.5S507,1157 515,1165.2S531,1180.8 539.1,1185S555.1,1190.3 563.2,1186.1S579.2,1172.7 587.2,1160.6S603.3,1133.5 611.3,1118.3S627.4,1087.8 635.4,1076.2S651.5,1057.3 659.5,1055.2S675.5,1055.2 683.6,1058.7S699.6,1067.2 707.7,1070.9S723.7,1077.4 731.7,1077.5S747.8,1075.1 755.8,1068.2C759.8,1064.8 763.9,1060.3 767.9,1054.6S775.9,1041.7 779.9,1033.5S787.9,1016 792,1006.1S800,985.5 804,974.6S812,952.5 816,941.4S824.1,919.2 828.1,908.7S836.1,888.1 840.1,878.9S848.1,861.2 852.2,853.9S860.2,840.2 864.2,835.3S872.2,826.8 876.2,824.8S884.3,822.6 888.3,824.1S896.3,829.2 900.3,834.9S908.4,848.4 912.4,858.7S920.4,881.8 924.4,897.4S932.4,931.1 936.5,952.4S944.5,998 948.5,1025.6L948.6,1026.7C944.6,999.5 940.6,975.3 936.6,954.1S928.6,914.7 924.6,899.1S916.6,870.6 912.6,860.1S904.5,841.6 900.5,835.8S892.4,826.5 888.4,824.9S880.2,823.7 876.1,825.8S868.1,831.5 864,836.5S856,847.8 852,855.1S844,870.6 840,879.6S832,898.4 828.1,908.7S820.1,929.8 816.1,940.8S808.1,962.9 804.1,973.7S796.1,995.1 792.1,1004.9S784.1,1024 780.1,1032.1S772.1,1047.4 768,1053.2S760,1063.8 756,1067.4C747.9,1074.6 739.8,1077.4 731.7,1077.1S715.6,1073.5 707.5,1069.3S691.5,1060.1 683.5,1056.6S667.5,1051.2 659.6,1053.5S643.6,1063 635.6,1074.9S619.4,1102.8 611.3,1118.3S595.2,1148.7 587.2,1160.8S571.2,1181.9 563.2,1186.1S547.1,1189.2 539,1184.9S522.9,1173.1 514.8,1164.5S498.8,1146.4 490.7,1138S474.7,1122.3 466.7,1118.1S450.7,1112.6 442.7,1112.8S426.7,1114.9 418.7,1117.3S402.6,1122.5 394.6,1125.1S378.5,1129.8 370.5,1130.9S354.4,1131.9 346.4,1131S330.3,1128.5 322.3,1126.5S306.2,1122.1 298.2,1120.1S282.1,1116.5 274.1,1116S258.1,1116 250.1,1118.4S234.1,1124.9 226.1,1131.2S210,1146.1 201.9,1157.3C197.9,1162.9 193.9,1169.2 189.8,1176.3C187.8,1179.8 185.8,1183.5 183.8,1187.3S179.8,1195.3 177.8,1199.6Z" fill="#426db0" stroke="#426db0"/>
<path d="M177.8,1199.6C179.8,1195.3 181.8,1191.2 183.8,1187.3S187.8,1179.8 189.8,1176.3C193.9,1169.2 197.9,1162.9 201.9,1157.3C210,1146.1 218.1,1137.6 226.1,1131.2S242.1,1120.8 250.1,1118.4S266.1,1115.5 274.1,1116S290.1,1118.1 298.2,1120.1S314.2,1124.5 322.3,1126.5S338.3,1130.2 346.4,1131S362.5,1132 370.5,1130.9S386.6,1127.6 394.6,1125.1S410.7,1119.7 418.7,1117.3S434.7,1113.1 442.7,1112.8S458.7,1114 466.7,1118.1S482.7,1129.5 490.7,1138S506.8,1156 514.8,1164.5S531,1180.6 539,1184.9S555.1,1190.2 563.2,1186.1S579.2,1172.8 587.2,1160.8S603.2,1133.8 611.3,1118.3S627.6,1086.7 635.6,1074.9S651.6,1055.8 659.6,1053.5S675.5,1053.1 683.5,1056.6S699.5,1065.1 707.5,1069.3S723.6,1076.8 731.7,1077.1S747.9,1074.6 756,1067.4C760,1063.8 764,1059.1 768,1053.2S776.1,1040.3 780.1,1032.1S788.1,1014.8 792.1,1004.9S800.1,984.5 804.1,973.7S812.1,951.8 816.1,940.8S824.1,919 828.1,908.7S836,888.7 840,879.6S848,862.4 852,855.1S860,841.5 864,836.5S872.1,827.8 876.1,825.8S884.3,823.3 888.4,824.9S896.5,830 900.5,835.8S908.6,849.6 912.6,860.1S920.6,883.5 924.6,899.1S932.6,933 936.6,954.1S944.6,999.5 948.6,1026.7L948.7,1027.8C944.7,1000.9 940.7,977 936.7,955.9S928.8,916.5 924.8,900.8S916.8,872 912.8,861.4S904.7,842.7 900.7,836.8S892.6,827.2 888.4,825.6S880.1,824.6 876,826.7S867.9,832.7 863.9,837.8S855.8,849.1 851.8,856.3S843.8,871.6 839.9,880.4S832,898.7 828.1,908.8S820.2,929.4 816.2,940.2S808.2,962.1 804.3,972.8S796.3,994.1 792.3,1003.8S784.3,1022.6 780.3,1030.7S772.2,1045.9 768.2,1051.9S760.2,1062.7 756.1,1066.5C748,1074.1 739.9,1077.3 731.7,1076.8S715.5,1072.3 707.4,1067.7S691.4,1057.9 683.4,1054.4S667.5,1049.4 659.6,1051.8S643.8,1061.4 635.8,1073.5S619.5,1102.4 611.3,1118.3S595.1,1149.1 587.2,1161S571.2,1181.8 563.2,1186S547.1,1189.1 539,1184.7S522.7,1172.6 514.7,1163.8S498.6,1145.2 490.6,1136.5S474.6,1120.4 466.6,1116.3S450.7,1110.8 442.8,1111.1S426.8,1113.4 418.8,1115.7S402.7,1120.6 394.7,1123S378.6,1127.5 370.5,1128.6S354.4,1130 346.4,1129.4S330.3,1127.4 322.2,1125.4S306.1,1120.9 298.1,1118.8S282.1,1114.8 274.1,1114.1S258.2,1114 250.2,1116.6S234.3,1123.5 226.3,1130.2S210.1,1145.7 202,1157.1C197.9,1162.8 193.9,1169.2 189.8,1176.3C187.8,1179.8 185.8,1183.5 183.8,1187.4S179.8,1195.4 177.8,1199.6Z" fill="#3e5da8" stroke="#3e5da8"/>
<path d="M177.8,1199.6C179.8,1195.4 181.8,1191.3 183.8,1187.4S187.8,1179.8 189.8,1176.3C193.9,1169.2 197.9,1162.8 202,1157.1C210.1,1145.7 218.3,1136.9 226.3,1130.2S242.2,1119.1 250.2,1116.6S266.1,1113.5 274.1,1114.1S290.1,1116.6 298.1,1118.8S314.2,1123.4 322.2,1125.4S338.3,1128.8 346.4,1129.4S362.5,1129.8 370.5,1128.6S386.6,1125.4 394.7,1123S410.7,1118 418.8,1115.7S434.8,1111.5 442.8,1111.1S458.7,1112.1 466.6,1116.3S482.6,1127.8 490.6,1136.5S506.6,1155 514.7,1163.8S530.9,1180.3 539,1184.7S555.1,1190.1 563.2,1186S579.2,1172.8 587.2,1161S603.2,1134.2 611.3,1118.3S627.7,1085.6 635.8,1073.5S651.7,1054.3 659.6,1051.8S675.4,1051 683.4,1054.4S699.4,1063.1 707.4,1067.7S723.5,1076.2 731.7,1076.8S748,1074.1 756.1,1066.5C760.2,1062.7 764.2,1057.9 768.2,1051.9S776.3,1038.8 780.3,1030.7S788.3,1013.6 792.3,1003.8S800.3,983.6 804.3,972.8S812.2,951 816.2,940.2S824.1,918.8 828.1,908.8S835.9,889.2 839.9,880.4S847.8,863.5 851.8,856.3S859.8,842.8 863.9,837.8S871.9,828.9 876,826.7S884.3,824.1 888.4,825.6S896.6,830.9 900.7,836.8S908.7,850.8 912.8,861.4S920.8,885.1 924.8,900.8S932.7,934.8 936.7,955.9S944.7,1000.9 948.7,1027.8L948.8,1028.9C944.8,1002.4 940.8,978.6 936.9,957.6S928.9,918.2 924.9,902.5S917,873.5 913,862.8S904.9,843.7 900.9,837.7S892.7,827.9 888.5,826.4S880.1,825.4 875.9,827.7S867.7,833.9 863.7,839S855.6,850.4 851.6,857.5S843.7,872.5 839.7,881.1S831.9,899 828,908.8S820.2,929 816.3,939.6S808.4,961.3 804.4,972S796.5,993.1 792.5,1002.7S784.5,1021.3 780.5,1029.4S772.4,1044.5 768.4,1050.6S760.3,1061.7 756.3,1065.6C748.2,1073.6 739.9,1077.2 731.7,1076.4S715.3,1071.1 707.3,1066.1S691.3,1055.7 683.3,1052.3S667.5,1047.5 659.7,1050.2S644,1059.8 635.9,1072.2S619.5,1102.1 611.3,1118.3S595.1,1149.4 587.1,1161.1S571.2,1181.7 563.2,1185.9S547.1,1189.1 539,1184.6S522.6,1172.2 514.5,1163.1S498.4,1143.9 490.4,1135S474.4,1118.5 466.5,1114.4S450.7,1109 442.8,1109.4S426.8,1111.8 418.8,1114.1S402.8,1118.8 394.7,1121S378.6,1125.1 370.6,1126.3S354.5,1128.1 346.4,1127.8S330.2,1126.3 322.2,1124.4S306,1119.8 298,1117.4S282,1113.1 274.1,1112.3S258.2,1112.1 250.3,1114.7S234.4,1122.1 226.4,1129.1S210.2,1145.3 202,1156.9C198,1162.7 193.9,1169.2 189.8,1176.3C187.8,1179.9 185.8,1183.6 183.8,1187.5S179.8,1195.4 177.8,1199.6Z" fill="#384ea1" stroke="#384ea1"/>
<path d="M177.8,1199.6C179.8,1195.4 181.8,1191.4 183.8,1187.5S187.8,1179.9 189.8,1176.3C193.9,1169.2 198,1162.7 202,1156.9C210.2,1145.3 218.4,1136.1 226.4,1129.1S242.3,1117.4 250.3,1114.7S266.1,1111.6 274.1,1112.3S290,1115.1 298,1117.4S314.1,1122.4 322.2,1124.4S338.3,1127.5 346.4,1127.8S362.5,1127.6 370.6,1126.3S386.7,1123.2 394.7,1121S410.8,1116.3 418.8,1114.1S434.8,1109.8 442.8,1109.4S458.6,1110.2 466.5,1114.4S482.4,1126.1 490.4,1135S506.4,1154.1 514.5,1163.1S530.8,1180.1 539,1184.6S555.2,1190 563.2,1185.9S579.1,1172.9 587.1,1161.1S603.1,1134.6 611.3,1118.3S627.9,1084.5 635.9,1072.2S651.9,1052.8 659.7,1050.2S675.4,1048.9 683.3,1052.3S699.3,1061.1 707.3,1066.1S723.4,1075.6 731.7,1076.4S748.2,1073.6 756.3,1065.6C760.3,1061.7 764.4,1056.6 768.4,1050.6S776.5,1037.4 780.5,1029.4S788.5,1012.4 792.5,1002.7S800.4,982.7 804.4,972S812.3,950.3 816.3,939.6S824.1,918.6 828,908.8S835.8,889.7 839.7,881.1S847.6,864.6 851.6,857.5S859.7,844.1 863.7,839S871.8,830 875.9,827.7S884.3,824.8 888.5,826.4S896.8,831.7 900.9,837.7S908.9,852 913,862.8S921,886.7 924.9,902.5S932.9,936.6 936.9,957.6S944.8,1002.4 948.8,1028.9L948.8,1030C944.9,1003.8 940.9,980.3 937,959.3S929.1,920 925.1,904.2S917.2,875 913.1,864.1S905.1,844.8 901,838.6S892.8,828.7 888.6,827.1S880,826.3 875.8,828.7S867.6,835.1 863.5,840.3S855.4,851.7 851.4,858.8S843.5,873.5 839.6,881.9S831.9,899.3 828,908.8S820.3,928.5 816.4,939.1S808.5,960.5 804.5,971.1S796.6,992.1 792.6,1001.6S784.7,1020 780.7,1028S772.6,1043 768.6,1049.2S760.5,1060.6 756.4,1064.8C748.3,1073.1 740,1077 731.6,1076S715.2,1069.9 707.2,1064.5S691.2,1053.5 683.2,1050.2S667.6,1045.7 659.8,1048.5S644.1,1058.1 636.1,1070.8S619.6,1101.8 611.3,1118.4S595,1149.7 587.1,1161.3S571.3,1181.7 563.2,1185.8S547.1,1189.1 538.9,1184.5S522.5,1171.8 514.4,1162.4S498.3,1142.6 490.3,1133.5S474.3,1116.6 466.4,1112.5S450.7,1107.2 442.8,1107.7S426.9,1110.3 418.9,1112.5S402.8,1116.9 394.8,1118.9S378.7,1122.7 370.6,1124S354.5,1126.1 346.4,1126.1S330.2,1125.2 322.1,1123.3S306,1118.6 298,1116.1S282,1111.4 274,1110.5S258.2,1110.1 250.3,1112.9S234.5,1120.7 226.5,1128.1S210.3,1144.8 202.1,1156.7C198,1162.6 193.9,1169.2 189.8,1176.4C187.8,1179.9 185.8,1183.7 183.8,1187.6S179.8,1195.5 177.8,1199.7Z" fill="#343e99" stroke="#343e99"/>
<path d="M177.8,1199.7C179.8,1195.5 181.8,1191.5 183.8,1187.6S187.8,1179.9 189.8,1176.4C193.9,1169.2 198,1162.6 202.1,1156.7C210.3,1144.8 218.6,1135.4 226.5,1128.1S242.4,1115.7 250.3,1112.9S266.1,1109.6 274,1110.5S290,1113.6 298,1116.1S314,1121.4 322.1,1123.3S338.3,1126.1 346.4,1126.1S362.5,1125.3 370.6,1124S386.7,1120.9 394.8,1118.9S410.8,1114.6 418.9,1112.5S434.9,1108.2 442.8,1107.7S458.5,1108.3 466.4,1112.5S482.3,1124.3 490.3,1133.5S506.3,1153.1 514.4,1162.4S530.8,1179.9 538.9,1184.5S555.2,1190 563.2,1185.8S579.1,1173 587.1,1161.3S603.1,1134.9 611.3,1118.4S628.1,1083.5 636.1,1070.8S652,1051.3 659.8,1048.5S675.3,1046.9 683.2,1050.2S699.1,1059 707.2,1064.5S723.3,1075.1 731.6,1076S748.3,1073.1 756.4,1064.8C760.5,1060.6 764.5,1055.4 768.6,1049.2S776.6,1035.9 780.7,1028S788.7,1011.2 792.6,1001.6S800.6,981.7 804.5,971.1S812.4,949.6 816.4,939.1S824.2,918.4 828,908.8S835.7,890.3 839.6,881.9S847.4,865.8 851.4,858.8S859.5,845.4 863.5,840.3S871.7,831.1 875.8,828.7S884.3,825.6 888.6,827.1S897,832.5 901,838.6S909.1,853.2 913.1,864.1S921.1,888.4 925.1,904.2S933.1,938.4 937,959.3S944.9,1003.8 948.8,1030" fill="none" stroke="#313695"/>
</g>
<g stroke="#000" stroke-width="3.2">
<line x1="154" x2="161.7" y1="1267" y2="1267"/>
<line x1="154" x2="161.7" y1="1199.1" y2="1199.1"/>
<line x1="154" x2="161.7" y1="1131.1" y2="1131.1"/>
<line x1="154" x2="161.7" y1="1063.2" y2="1063.2"/>
<line x1="154" x2="161.7" y1="995.3" y2="995.3"/>
<line x1="154" x2="161.7" y1="927.4" y2="927.4"/>
<line x1="154" x2="161.7" y1="859.4" y2="859.4"/>
<line x1="154" x2="161.7" y1="791.5" y2="791.5"/>
<line x1="154" x2="161.7" y1="723.6" y2="723.6"/>
<line x1="177.8" x2="177.8" y1="1267" y2="1259.3"/>
<line x1="370.5" x2="370.5" y1="1267" y2="1259.3"/>
<line x1="563.2" x2="563.2" y1="1267" y2="1259.3"/>
<line x1="755.8" x2="755.8" y1="1267" y2="1259.3"/>
<line x1="948.5" x2="948.5" y1="1267" y2="1259.3"/>
</g>
<rect x="154" y="723.6" width="818.6" height="543.4" fill="none" stroke="#000" stroke-width="3.5"/>
<g font-family="'DejaVu Sans','Liberation Sans',sans-serif" font-size="28.0" text-anchor="end" fill="#000">
<text x="145.1" y="1278.5">−0.2</text>
<text x="145.1" y="1210.6">0.0</text>
<text x="145.1" y="1142.6">0.2</text>
<text x="145.1" y="1074.7">0.4</text>
<text x="145.1" y="1006.8">0.6</text>
<text x="145.1" y="938.9">0.8</text>
<text x="145.1" y="870.9">1.0</text>
<text x="145.1" y="803">1.2</text>
<text x="145.1" y="735.1">1.4</text>
</g>
<text x="803" y="1182.1" font-family="'DejaVu Sans','Liberation Sans',sans-serif" font-size="47.4" fill="#000">ii) Ni</text>
</g>
<g id="panel3">
<g stroke="#808080" stroke-opacity="0.3" stroke-width="2.8" stroke-dasharray="12.8 6.0" fill="none">
<line x1="177.8" x2="177.8" y1="1862.8" y2="1319.4"/>
<line x1="370.5" x2="370.5" y1="1862.8" y2="1319.4"/>
<line x1="563.2" x2="563.2" y1="1862.8" y2="1319.4"/>
<line x1="755.8" x2="755.8" y1="1862.8" y2="1319.4"/>
<line x1="948.5" x2="948.5" y1="1862.8" y2="1319.4"/>
<line x1="154" x2="972.6" y1="1862.8" y2="1862.8"/>
<line x1="154" x2="972.6" y1="1794.9" y2="1794.9"/>
<line x1="154" x2="972.6" y1="1727" y2="1727"/>
<line x1="154" x2="972.6" y1="1659" y2="1659"/>
<line x1="154" x2="972.6" y1="1591.1" y2="1591.1"/>
<line x1="154" x2="972.6" y1="1523.2" y2="1523.2"/>
<line x1="154" x2="972.6" y1="1455.2" y2="1455.2"/>
<line x1="154" x2="972.6" y1="1387.3" y2="1387.3"/>
<line x1="154" x2="972.6" y1="1319.4" y2="1319.4"/>
</g>
<g clip-path="url(#cl2)" stroke-width="1.7" stroke-linejoin="round" stroke-linecap="butt">
<path d="M177.8,1794.4C179.8,1793.3 181.7,1792.2 183.7,1791.2S187.6,1789.1 189.5,1788.1C193.5,1786.1 197.5,1784.5 201.6,1782.9C209.6,1779.6 217.6,1776.5 225.7,1773.7S241.8,1768.3 249.8,1765.9S265.9,1761.3 273.9,1759.3S290,1755.5 298.1,1753.8S314.1,1750.7 322.2,1749.3S338.2,1746.8 346.3,1745.8S362.4,1743.8 370.4,1743S386.5,1741.5 394.5,1741S410.6,1740.2 418.6,1740.1S434.7,1740.3 442.8,1740.8S458.9,1742.3 466.9,1743.5S483,1746 491,1747.4S507.1,1750.2 515.1,1751.5S531.1,1753.8 539.1,1754.3S555.1,1754.7 563,1753.4S578.9,1749.7 587,1747S603,1741.1 611.1,1738.4S627.2,1733.5 635.3,1732.5S651.5,1731.8 659.6,1732.6S675.7,1735 683.7,1736.5S699.8,1739.7 707.7,1740.3S723.5,1740.2 731.4,1736.7S747.2,1726.3 755.1,1715.4C759.1,1710 763.1,1703.6 767.1,1696.4S775.1,1680.9 779.1,1672.1S787.2,1653.7 791.2,1643.9S799.2,1623.8 803.3,1613.7S811.7,1593.4 816,1583.6S824.5,1564.4 828.7,1555.5S836.9,1538.4 840.9,1530.9S848.9,1516.9 852.9,1511.3S860.8,1501.3 864.7,1498.1S872.5,1493 876.3,1492.6S883.9,1493.1 887.8,1495.7S895.6,1502.7 899.6,1509S907.6,1523.8 911.6,1534.5S919.6,1558.3 923.6,1573.9S931.6,1607.9 935.6,1629S943.7,1674.4 947.8,1701.7L947.8,1702.3C943.8,1675.5 939.7,1651.5 935.7,1630.4S927.7,1591 923.6,1575.3S915.6,1546.5 911.6,1535.7S903.6,1516.5 899.7,1510S891.7,1499.2 887.8,1496.6S880.2,1493 876.3,1493.4S868.6,1495.7 864.7,1498.9S856.8,1506.5 852.8,1512S844.8,1524.1 840.8,1531.5S832.8,1547.1 828.7,1555.8S820.3,1573.9 816,1583.6S807.5,1603.2 803.3,1613.3S795.2,1633.4 791.2,1643.2S783.2,1662.3 779.2,1671.1S771.2,1687.8 767.2,1694.8S759.2,1708 755.2,1713.1C747.2,1723.5 739.3,1730 731.4,1733.5S715.7,1737.8 707.7,1737.4S691.7,1735.2 683.7,1733.6S667.6,1730.6 659.6,1729.9S643.4,1729.2 635.3,1730.4S619.1,1734.1 611.1,1737S595,1743.1 587,1745.9S571,1751.1 563,1752.4S547.1,1753.8 539.1,1753.4S523.1,1751.9 515.1,1750.7S499.1,1748.1 491,1746.8S475,1744.1 466.9,1742.9S450.8,1740.9 442.8,1740.3S426.7,1739.5 418.6,1739.5S402.5,1739.9 394.5,1740.4S378.4,1741.6 370.4,1742.4S354.3,1744.1 346.3,1745.1S330.2,1747.3 322.2,1748.6S306.1,1751.4 298.1,1753S282,1756.4 273.9,1758.3S257.9,1762.5 249.8,1764.9S233.7,1769.9 225.7,1772.8S209.6,1778.8 201.6,1782.3C197.6,1784 193.5,1785.8 189.6,1787.8C187.6,1788.8 185.6,1790 183.7,1791.1S179.8,1793.3 177.8,1794.5Z" fill="#a70226" stroke="#a70226"/>
<path d="M177.8,1794.5C179.8,1793.3 181.7,1792.2 183.7,1791.1S187.6,1788.8 189.6,1787.8C193.5,1785.8 197.6,1784 201.6,1782.3C209.6,1778.8 217.7,1775.7 225.7,1772.8S241.8,1767.3 249.8,1764.9S265.9,1760.3 273.9,1758.3S290,1754.6 298.1,1753S314.1,1749.9 322.2,1748.6S338.3,1746.1 346.3,1745.1S362.4,1743.1 370.4,1742.4S386.5,1740.9 394.5,1740.4S410.6,1739.6 418.6,1739.5S434.7,1739.7 442.8,1740.3S458.9,1741.8 466.9,1742.9S483,1745.4 491,1746.8S507.1,1749.5 515.1,1750.7S531.1,1752.9 539.1,1753.4S555.1,1753.7 563,1752.4S579,1748.7 587,1745.9S603,1739.8 611.1,1737S627.2,1731.6 635.3,1730.4S651.5,1729.2 659.6,1729.9S675.7,1732.1 683.7,1733.6S699.8,1736.9 707.7,1737.4S723.5,1737 731.4,1733.5S747.2,1723.5 755.2,1713.1C759.2,1708 763.2,1701.9 767.2,1694.8S775.2,1679.8 779.2,1671.1S787.2,1652.9 791.2,1643.2S799.2,1623.3 803.3,1613.3S811.7,1593.2 816,1583.6S824.5,1564.6 828.7,1555.8S836.8,1538.9 840.8,1531.5S848.8,1517.5 852.8,1512S860.8,1502 864.7,1498.9S872.5,1493.8 876.3,1493.4S884,1493.9 887.8,1496.6S895.7,1503.6 899.7,1510S907.6,1524.9 911.6,1535.7S919.6,1559.6 923.6,1575.3S931.7,1609.3 935.7,1630.4S943.8,1675.5 947.8,1702.3L947.8,1703C943.8,1676.6 939.7,1652.8 935.7,1631.8S927.7,1592.4 923.7,1576.6S915.7,1547.7 911.7,1536.8S903.7,1517.5 899.7,1511.1S891.8,1500.2 887.9,1497.5S880.2,1493.8 876.3,1494.2S868.6,1496.5 864.7,1499.6S856.8,1507.2 852.8,1512.7S844.8,1524.7 840.8,1532S832.7,1547.4 828.6,1556.1S820.2,1574 816,1583.5S807.5,1602.9 803.4,1612.9S795.3,1632.8 791.3,1642.4S783.2,1661.4 779.2,1670S771.2,1686.5 767.2,1693.3S759.2,1705.9 755.2,1710.8C747.2,1720.6 739.3,1726.8 731.4,1730.3S715.7,1734.8 707.7,1734.5S691.7,1732.4 683.7,1730.8S667.6,1727.8 659.6,1727.2S643.4,1726.9 635.3,1728.3S619.1,1732.5 611.1,1735.5S595,1741.9 587,1744.8S571,1750.1 563,1751.4S547.1,1752.8 539.1,1752.4S523.1,1751 515.1,1749.9S499.1,1747.4 491,1746.1S475,1743.5 466.9,1742.4S450.8,1740.3 442.8,1739.8S426.7,1738.9 418.6,1739S402.6,1739.3 394.5,1739.8S378.4,1740.9 370.4,1741.7S354.3,1743.4 346.3,1744.4S330.2,1746.6 322.2,1747.9S306.1,1750.6 298.1,1752.2S282,1755.5 274,1757.4S257.9,1761.5 249.8,1763.9S233.8,1768.9 225.7,1771.9S209.6,1778.1 201.6,1781.8C197.6,1783.6 193.5,1785.4 189.6,1787.6C187.6,1788.6 185.7,1789.8 183.7,1791S179.8,1793.3 177.8,1794.5Z" fill="#aa0526" stroke="#aa0526"/>
<path d="M177.8,1794.5C179.8,1793.3 181.7,1792.1 183.7,1791S187.6,1788.6 189.6,1787.6C193.5,1785.4 197.6,1783.6 201.6,1781.8C209.6,1778.1 217.7,1774.9 225.7,1771.9S241.8,1766.3 249.8,1763.9S265.9,1759.3 274,1757.4S290,1753.7 298.1,1752.2S314.1,1749.2 322.2,1747.9S338.3,1745.4 346.3,1744.4S362.4,1742.5 370.4,1741.7S386.5,1740.2 394.5,1739.8S410.6,1739 418.6,1739S434.7,1739.2 442.8,1739.8S458.9,1741.2 466.9,1742.4S483,1744.8 491,1746.1S507.1,1748.7 515.1,1749.9S531.1,1752 539.1,1752.4S555.1,1752.7 563,1751.4S579,1747.7 587,1744.8S603,1738.5 611.1,1735.5S627.2,1729.8 635.3,1728.3S651.5,1726.6 659.6,1727.2S675.7,1729.1 683.7,1730.8S699.8,1734.2 707.7,1734.5S723.5,1733.8 731.4,1730.3S747.2,1720.6 755.2,1710.8C759.2,1705.9 763.2,1700.1 767.2,1693.3S775.2,1678.6 779.2,1670S787.3,1652.1 791.3,1642.4S799.3,1622.8 803.4,1612.9S811.7,1593.1 816,1583.5S824.5,1564.8 828.6,1556.1S836.8,1539.3 840.8,1532S848.8,1518.1 852.8,1512.7S860.7,1502.8 864.7,1499.6S872.5,1494.6 876.3,1494.2S884,1494.8 887.9,1497.5S895.7,1504.6 899.7,1511.1S907.7,1526 911.7,1536.8S919.7,1560.8 923.7,1576.6S931.7,1610.7 935.7,1631.8S943.8,1676.6 947.8,1703L947.9,1703.7C943.9,1677.6 939.8,1654.1 935.8,1633.1S927.8,1593.8 923.7,1577.9S915.7,1548.9 911.7,1538S903.7,1518.6 899.7,1512.1S891.8,1501.1 887.9,1498.4S880.2,1494.6 876.3,1495S868.6,1497.2 864.6,1500.4S856.7,1507.9 852.7,1513.3S844.7,1525.2 840.7,1532.5S832.7,1547.8 828.6,1556.4S820.2,1574.1 816,1583.5S807.5,1602.7 803.4,1612.5S795.3,1632.1 791.3,1641.7S783.3,1660.5 779.3,1669S771.3,1685.2 767.3,1691.8S759.3,1703.8 755.3,1708.5C747.3,1717.8 739.4,1723.7 731.5,1727.1S715.7,1731.8 707.7,1731.6S691.7,1729.5 683.7,1727.9S667.6,1724.9 659.6,1724.5S643.4,1724.5 635.3,1726.2S619.2,1730.8 611.1,1734S595,1740.8 587,1743.8S571,1749.1 563,1750.4S547.1,1751.9 539.1,1751.5S523.1,1750.2 515.1,1749.1S499,1746.7 491,1745.4S475,1742.9 466.9,1741.8S450.8,1739.8 442.8,1739.2S426.7,1738.4 418.6,1738.4S402.6,1738.7 394.5,1739.1S378.4,1740.3 370.4,1741S354.3,1742.7 346.3,1743.7S330.2,1745.9 322.2,1747.1S306.1,1749.8 298.1,1751.3S282,1754.6 274,1756.5S257.9,1760.5 249.9,1762.9S233.8,1768 225.7,1771S209.7,1777.4 201.6,1781.2C197.6,1783.1 193.6,1785.1 189.6,1787.3C187.6,1788.4 185.7,1789.6 183.7,1790.9S179.8,1793.3 177.8,1794.6Z" fill="#ad0826" stroke="#ad0826"/>
<path d="M177.8,1794.6C179.8,1793.3 181.7,1792.1 183.7,1790.9S187.6,1788.4 189.6,1787.3C193.6,1785.1 197.6,1783.1 201.6,1781.2C209.7,1777.4 217.7,1774 225.7,1771S241.8,1765.3 249.9,1762.9S265.9,1758.4 274,1756.5S290,1752.9 298.1,1751.3S314.2,1748.4 322.2,1747.1S338.3,1744.7 346.3,1743.7S362.4,1741.8 370.4,1741S386.5,1739.6 394.5,1739.1S410.6,1738.4 418.6,1738.4S434.7,1738.6 442.8,1739.2S458.9,1740.7 466.9,1741.8S483,1744.2 491,1745.4S507.1,1748 515.1,1749.1S531.1,1751.1 539.1,1751.5S555.1,1751.7 563,1750.4S579,1746.7 587,1743.8S603.1,1737.3 611.1,1734S627.2,1727.9 635.3,1726.2S651.5,1724.1 659.6,1724.5S675.7,1726.2 683.7,1727.9S699.7,1731.4 707.7,1731.6S723.6,1730.6 731.5,1727.1S747.3,1717.8 755.3,1708.5C759.3,1703.8 763.3,1698.3 767.3,1691.8S775.3,1677.5 779.3,1669S787.3,1651.3 791.3,1641.7S799.3,1622.3 803.4,1612.5S811.7,1592.9 816,1583.5S824.5,1565 828.6,1556.4S836.7,1539.8 840.7,1532.5S848.7,1518.8 852.7,1513.3S860.7,1503.5 864.6,1500.4S872.5,1495.4 876.3,1495S884,1495.6 887.9,1498.4S895.8,1505.6 899.7,1512.1S907.7,1527.1 911.7,1538S919.7,1562.1 923.7,1577.9S931.8,1612.2 935.8,1633.1S943.9,1677.6 947.9,1703.7L947.9,1704.3C943.9,1678.7 939.8,1655.4 935.8,1634.5S927.8,1595.1 923.8,1579.3S915.8,1550.1 911.8,1539.2S903.8,1519.6 899.8,1513.1S891.8,1502 887.9,1499.3S880.2,1495.4 876.3,1495.8S868.6,1498 864.6,1501.1S856.7,1508.6 852.7,1514S844.7,1525.8 840.7,1533S832.7,1548.2 828.5,1556.7S820.2,1574.2 816,1583.5S807.6,1602.4 803.5,1612.1S795.4,1631.5 791.4,1641S783.3,1659.6 779.3,1668S771.3,1683.9 767.3,1690.2S759.3,1701.8 755.3,1706.2C747.3,1715 739.4,1720.5 731.5,1723.9S715.7,1728.8 707.7,1728.7S691.7,1726.7 683.7,1725S667.6,1722 659.6,1721.8S643.4,1722.2 635.3,1724.1S619.2,1729.2 611.1,1732.6S595,1739.7 587,1742.7S571,1748.1 563,1749.4S547.1,1750.9 539.1,1750.5S523.1,1749.3 515.1,1748.3S499,1746 491,1744.8S474.9,1742.3 466.9,1741.2S450.8,1739.3 442.8,1738.7S426.7,1737.8 418.6,1737.8S402.6,1738.1 394.5,1738.5S378.4,1739.6 370.4,1740.4S354.3,1742 346.3,1743S330.2,1745.2 322.2,1746.4S306.1,1749 298.1,1750.5S282,1753.7 274,1755.5S257.9,1759.5 249.9,1761.9S233.8,1767 225.8,1770.1S209.7,1776.7 201.6,1780.7C197.6,1782.6 193.6,1784.7 189.6,1787C187.6,1788.2 185.7,1789.5 183.7,1790.8S179.8,1793.4 177.8,1794.7Z" fill="#b00a26" stroke="#b00a26"/>
<path d="M177.8,1794.7C179.8,1793.4 181.8,1792.1 183.7,1790.8S187.6,1788.2 189.6,1787C193.6,1784.7 197.6,1782.6 201.6,1780.7C209.7,1776.7 217.7,1773.2 225.8,1770.1S241.8,1764.3 249.9,1761.9S265.9,1757.4 274,1755.5S290.1,1752 298.1,1750.5S314.2,1747.7 322.2,1746.4S338.3,1744 346.3,1743S362.4,1741.2 370.4,1740.4S386.5,1739 394.5,1738.5S410.6,1737.8 418.6,1737.8S434.7,1738.1 442.8,1738.7S458.9,1740.2 466.9,1741.2S483,1743.5 491,1744.8S507.1,1747.2 515.1,1748.3S531.1,1750.2 539.1,1750.5S555.1,1750.7 563,1749.4S579,1745.7 587,1742.7S603.1,1736 611.1,1732.6S627.2,1726.1 635.3,1724.1S651.5,1721.5 659.6,1721.8S675.7,1723.2 683.7,1725S699.7,1728.6 707.7,1728.7S723.6,1727.3 731.5,1723.9S747.3,1715 755.3,1706.2C759.3,1701.8 763.3,1696.6 767.3,1690.2S775.3,1676.3 779.3,1668S787.3,1650.5 791.4,1641S799.4,1621.7 803.5,1612.1S811.7,1592.8 816,1583.5S824.4,1565.2 828.5,1556.7S836.7,1540.2 840.7,1533S848.7,1519.4 852.7,1514S860.7,1504.2 864.6,1501.1S872.5,1496.2 876.3,1495.8S884,1496.5 887.9,1499.3S895.8,1506.5 899.8,1513.1S907.8,1528.2 911.8,1539.2S919.8,1563.4 923.8,1579.3S931.8,1613.6 935.8,1634.5S943.9,1678.7 947.9,1704.3L948,1705C943.9,1679.8 939.9,1656.7 935.9,1635.9S927.9,1596.5 923.8,1580.6S915.8,1551.3 911.8,1540.3S903.8,1520.7 899.8,1514.1S891.9,1502.9 888,1500.1S880.2,1496.3 876.3,1496.6S868.5,1498.8 864.6,1501.9S856.6,1509.3 852.6,1514.7S844.6,1526.4 840.6,1533.5S832.6,1548.6 828.5,1557S820.2,1574.3 816,1583.5S807.6,1602.1 803.5,1611.7S795.4,1630.9 791.4,1640.3S783.4,1658.7 779.4,1667S771.4,1682.6 767.4,1688.7S759.3,1699.7 755.4,1703.9C747.4,1712.2 739.4,1717.4 731.5,1720.8S715.7,1725.8 707.7,1725.8S691.7,1723.9 683.7,1722.1S667.6,1719.1 659.6,1719S643.4,1719.9 635.3,1722.1S619.2,1727.5 611.1,1731.1S595.1,1738.5 587,1741.6S571,1747.1 563.1,1748.4S547.1,1749.9 539.1,1749.6S523.1,1748.4 515.1,1747.5S499,1745.3 491,1744.1S474.9,1741.7 466.9,1740.7S450.8,1738.7 442.8,1738.1S426.7,1737.3 418.6,1737.3S402.6,1737.5 394.5,1737.9S378.4,1739 370.4,1739.7S354.3,1741.4 346.3,1742.3S330.2,1744.4 322.2,1745.7S306.1,1748.2 298.1,1749.7S282,1752.8 274,1754.6S257.9,1758.5 249.9,1760.9S233.8,1766 225.8,1769.2S209.7,1776 201.7,1780.1C197.6,1782.2 193.6,1784.3 189.6,1786.8C187.7,1788 185.7,1789.3 183.7,1790.7S179.8,1793.4 177.8,1794.8Z" fill="#b30e26" stroke="#b30e26"/>
<path d="M177.8,1794.8C179.8,1793.4 181.8,1792 183.7,1790.7S187.7,1788 189.6,1786.8C193.6,1784.3 197.6,1782.2 201.7,1780.1C209.7,1776 217.7,1772.4 225.8,1769.2S241.8,1763.3 249.9,1760.9S266,1756.4 274,1754.6S290.1,1751.2 298.1,1749.7S314.2,1746.9 322.2,1745.7S338.3,1743.3 346.3,1742.3S362.4,1740.5 370.4,1739.7S386.5,1738.4 394.5,1737.9S410.6,1737.2 418.6,1737.3S434.7,1737.6 442.8,1738.1S458.9,1739.6 466.9,1740.7S483,1742.9 491,1744.1S507.1,1746.5 515.1,1747.5S531.1,1749.3 539.1,1749.6S555.1,1749.7 563.1,1748.4S579,1744.7 587,1741.6S603.1,1734.7 611.1,1731.1S627.2,1724.2 635.3,1722.1S651.5,1719 659.6,1719S675.7,1720.3 683.7,1722.1S699.7,1725.9 707.7,1725.8S723.6,1724.1 731.5,1720.8S747.4,1712.2 755.4,1703.9C759.3,1699.7 763.4,1694.8 767.4,1688.7S775.4,1675.2 779.4,1667S787.4,1649.7 791.4,1640.3S799.4,1621.2 803.5,1611.7S811.8,1592.6 816,1583.5S824.4,1565.4 828.5,1557S836.6,1540.7 840.6,1533.5S848.6,1520 852.6,1514.7S860.6,1504.9 864.6,1501.9S872.4,1497 876.3,1496.6S884,1497.3 888,1500.1S895.9,1507.5 899.8,1514.1S907.8,1529.3 911.8,1540.3S919.8,1564.6 923.8,1580.6S931.9,1615 935.9,1635.9S943.9,1679.8 948,1705L948,1705.7C944,1680.9 939.9,1658 935.9,1637.2S927.9,1597.9 923.9,1581.9S915.9,1552.5 911.9,1541.5S903.9,1521.8 899.9,1515.1S891.9,1503.9 888,1501S880.2,1497.1 876.3,1497.4S868.5,1499.6 864.5,1502.6S856.6,1510 852.6,1515.3S844.6,1527 840.6,1534.1S832.6,1549 828.5,1557.3S820.2,1574.4 816,1583.4S807.6,1601.8 803.6,1611.3S795.5,1630.3 791.5,1639.6S783.4,1657.8 779.4,1665.9S771.4,1681.3 767.4,1687.2S759.4,1697.6 755.4,1701.5C747.4,1709.3 739.4,1714.3 731.5,1717.6S715.7,1722.8 707.7,1722.9S691.7,1721.1 683.7,1719.2S667.6,1716.2 659.5,1716.3S643.4,1717.6 635.3,1720S619.2,1725.9 611.2,1729.7S595.1,1737.4 587.1,1740.5S571,1746.1 563.1,1747.4S547.1,1748.9 539.1,1748.6S523.1,1747.6 515.1,1746.7S499,1744.6 491,1743.4S474.9,1741.1 466.9,1740.1S450.8,1738.2 442.8,1737.6S426.7,1736.7 418.6,1736.7S402.6,1736.9 394.5,1737.3S378.5,1738.3 370.4,1739.1S354.4,1740.7 346.3,1741.7S330.3,1743.7 322.2,1744.9S306.2,1747.5 298.1,1748.9S282,1751.9 274,1753.7S257.9,1757.5 249.9,1759.9S233.8,1765.1 225.8,1768.3S209.7,1775.3 201.7,1779.6C197.7,1781.7 193.6,1784 189.7,1786.5C187.7,1787.8 185.7,1789.2 183.7,1790.6S179.8,1793.4 177.8,1794.9Z" fill="#b61026" stroke="#b61026"/>
<path d="M177.8,1794.9C179.8,1793.4 181.8,1792 183.7,1790.6S187.7,1787.8 189.7,1786.5C193.6,1784 197.7,1781.7 201.7,1779.6C209.7,1775.3 217.8,1771.5 225.8,1768.3S241.9,1762.3 249.9,1759.9S266,1755.5 274,1753.7S290.1,1750.3 298.1,1748.9S314.2,1746.2 322.2,1744.9S338.3,1742.6 346.3,1741.7S362.4,1739.8 370.4,1739.1S386.5,1737.7 394.5,1737.3S410.6,1736.7 418.6,1736.7S434.7,1737 442.8,1737.6S458.9,1739.1 466.9,1740.1S483,1742.3 491,1743.4S507,1745.7 515.1,1746.7S531.1,1748.4 539.1,1748.6S555.1,1748.7 563.1,1747.4S579,1743.7 587.1,1740.5S603.1,1733.4 611.2,1729.7S627.3,1722.3 635.3,1720S651.5,1716.4 659.5,1716.3S675.6,1717.3 683.7,1719.2S699.7,1723.1 707.7,1722.9S723.6,1720.9 731.5,1717.6S747.4,1709.3 755.4,1701.5C759.4,1697.6 763.4,1693 767.4,1687.2S775.4,1674.1 779.4,1665.9S787.4,1648.9 791.5,1639.6S799.5,1620.7 803.6,1611.3S811.8,1592.5 816,1583.4S824.4,1565.6 828.5,1557.3S836.6,1541.2 840.6,1534.1S848.6,1520.6 852.6,1515.3S860.6,1505.7 864.5,1502.6S872.4,1497.8 876.3,1497.4S884.1,1498.2 888,1501S895.9,1508.5 899.9,1515.1S907.9,1530.5 911.9,1541.5S919.9,1565.9 923.9,1581.9S931.9,1616.5 935.9,1637.2S944,1680.9 948,1705.7L948.1,1706.4C944,1682 940,1659.3 936,1638.6S928,1599.3 924,1583.2S915.9,1553.7 911.9,1542.7S903.9,1522.8 899.9,1516.1S892,1504.8 888,1501.9S880.2,1497.9 876.3,1498.2S868.5,1500.3 864.5,1503.4S856.5,1510.7 852.6,1516S844.5,1527.6 840.5,1534.6S832.5,1549.4 828.4,1557.6S820.2,1574.5 816,1583.4S807.7,1601.6 803.6,1610.9S795.5,1629.6 791.5,1638.9S783.5,1656.9 779.5,1664.9S771.5,1680 767.4,1685.6S759.4,1695.6 755.4,1699.2C747.4,1706.5 739.5,1711.1 731.5,1714.4S715.7,1719.8 707.7,1720.1S691.7,1718.2 683.7,1716.3S667.6,1713.3 659.5,1713.6S643.4,1715.3 635.3,1717.9S619.2,1724.3 611.2,1728.2S595.1,1736.2 587.1,1739.5S571.1,1745 563.1,1746.4S547.1,1747.9 539.1,1747.7S523.1,1746.7 515.1,1745.9S499,1743.9 491,1742.8S474.9,1740.5 466.9,1739.5S450.8,1737.7 442.8,1737.1S426.7,1736.2 418.6,1736.1S402.6,1736.3 394.5,1736.7S378.5,1737.7 370.4,1738.4S354.4,1740 346.3,1741S330.3,1743 322.2,1744.2S306.2,1746.7 298.1,1748.1S282.1,1751 274,1752.7S258,1756.5 249.9,1758.9S233.8,1764.1 225.8,1767.4S209.7,1774.5 201.7,1779C197.7,1781.2 193.6,1783.6 189.7,1786.3C187.7,1787.6 185.7,1789 183.7,1790.5S179.8,1793.4 177.8,1795Z" fill="#b91326" stroke="#b91326"/>
<path d="M177.8,1795C179.8,1793.4 181.8,1791.9 183.7,1790.5S187.7,1787.6 189.7,1786.3C193.6,1783.6 197.7,1781.2 201.7,1779C209.7,1774.5 217.8,1770.7 225.8,1767.4S241.9,1761.3 249.9,1758.9S266,1754.5 274,1752.7S290.1,1749.5 298.1,1748.1S314.2,1745.4 322.2,1744.2S338.3,1741.9 346.3,1741S362.4,1739.2 370.4,1738.4S386.5,1737.1 394.5,1736.7S410.6,1736.1 418.6,1736.1S434.7,1736.5 442.8,1737.1S458.8,1738.5 466.9,1739.5S482.9,1741.7 491,1742.8S507,1745 515.1,1745.9S531.1,1747.5 539.1,1747.7S555.1,1747.7 563.1,1746.4S579.1,1742.7 587.1,1739.5S603.1,1732.1 611.2,1728.2S627.3,1720.5 635.3,1717.9S651.5,1713.9 659.5,1713.6S675.6,1714.4 683.7,1716.3S699.7,1720.4 707.7,1720.1S723.6,1717.7 731.5,1714.4S747.4,1706.5 755.4,1699.2C759.4,1695.6 763.4,1691.3 767.4,1685.6S775.5,1672.9 779.5,1664.9S787.5,1648.1 791.5,1638.9S799.5,1620.2 803.6,1610.9S811.8,1592.3 816,1583.4S824.3,1565.8 828.4,1557.6S836.5,1541.6 840.5,1534.6S848.6,1521.3 852.6,1516S860.5,1506.4 864.5,1503.4S872.4,1498.6 876.3,1498.2S884.1,1499 888,1501.9S895.9,1509.4 899.9,1516.1S907.9,1531.6 911.9,1542.7S919.9,1567.2 924,1583.2S932,1617.9 936,1638.6S944,1682 948.1,1706.4L948.1,1707C944.1,1683.1 940.1,1660.6 936,1640S928,1600.7 924,1584.6S916,1555 912,1543.8S904,1523.9 900,1517.1S892,1505.7 888.1,1502.8S880.2,1498.7 876.3,1499S868.4,1501.1 864.5,1504.1S856.5,1511.4 852.5,1516.7S844.5,1528.1 840.5,1535.1S832.5,1549.8 828.4,1557.9S820.2,1574.6 816,1583.4S807.7,1601.3 803.6,1610.5S795.6,1629 791.6,1638.1S783.5,1656 779.5,1663.9S771.5,1678.7 767.5,1684.1S759.5,1693.5 755.5,1696.9C747.5,1703.7 739.5,1708 731.6,1711.2S715.7,1716.7 707.7,1717.2S691.7,1715.4 683.7,1713.4S667.6,1710.5 659.5,1710.9S643.4,1713 635.4,1715.8S619.2,1722.6 611.2,1726.7S595.1,1735.1 587.1,1738.4S571.1,1744 563.1,1745.3S547.1,1747 539.1,1746.8S523.1,1745.9 515,1745S499,1743.2 491,1742.1S474.9,1739.9 466.9,1739S450.8,1737.1 442.8,1736.5S426.7,1735.6 418.6,1735.6S402.6,1735.7 394.5,1736.1S378.5,1737.1 370.4,1737.8S354.4,1739.3 346.3,1740.3S330.3,1742.3 322.2,1743.5S306.2,1745.9 298.1,1747.3S282.1,1750.1 274,1751.8S258,1755.5 249.9,1757.9S233.9,1763.2 225.8,1766.5S209.8,1773.8 201.7,1778.5C197.7,1780.8 193.7,1783.2 189.7,1786C187.7,1787.4 185.7,1788.9 183.7,1790.4S179.8,1793.5 177.8,1795.1Z" fill="#bc1726" stroke="#bc1726"/>
<path d="M177.8,1795.1C179.8,1793.5 181.8,1791.9 183.7,1790.4S187.7,1787.4 189.7,1786C193.7,1783.2 197.7,1780.8 201.7,1778.5C209.8,1773.8 217.8,1769.9 225.8,1766.5S241.9,1760.3 249.9,1757.9S266,1753.5 274,1751.8S290.1,1748.6 298.1,1747.3S314.2,1744.6 322.2,1743.5S338.3,1741.2 346.3,1740.3S362.4,1738.5 370.4,1737.8S386.5,1736.5 394.5,1736.1S410.6,1735.5 418.6,1735.6S434.7,1735.9 442.8,1736.5S458.8,1738 466.9,1739S482.9,1741 491,1742.1S507,1744.2 515,1745S531.1,1746.6 539.1,1746.8S555.1,1746.7 563.1,1745.3S579.1,1741.7 587.1,1738.4S603.1,1730.9 611.2,1726.7S627.3,1718.6 635.4,1715.8S651.5,1711.3 659.5,1710.9S675.6,1711.4 683.7,1713.4S699.7,1717.6 707.7,1717.2S723.6,1714.4 731.6,1711.2S747.5,1703.7 755.5,1696.9C759.5,1693.5 763.5,1689.5 767.5,1684.1S775.5,1671.8 779.5,1663.9S787.5,1647.2 791.6,1638.1S799.6,1619.7 803.6,1610.5S811.8,1592.2 816,1583.4S824.3,1566 828.4,1557.9S836.5,1542.1 840.5,1535.1S848.5,1521.9 852.5,1516.7S860.5,1507.1 864.5,1504.1S872.4,1499.3 876.3,1499S884.1,1499.9 888.1,1502.8S896,1510.4 900,1517.1S908,1532.7 912,1543.8S920,1568.5 924,1584.6S932,1619.4 936,1640S944.1,1683.1 948.1,1707L948.2,1707.7C944.1,1684.2 940.1,1661.9 936.1,1641.3S928.1,1602.1 924.1,1585.9S916,1556.2 912,1545S904,1524.9 900,1518.1S892,1506.6 888.1,1503.7S880.2,1499.6 876.3,1499.8S868.4,1501.9 864.4,1504.9S856.5,1512.1 852.5,1517.3S844.5,1528.7 840.4,1535.6S832.4,1550.2 828.3,1558.2S820.1,1574.7 816,1583.4S807.8,1601 803.7,1610.1S795.6,1628.4 791.6,1637.4S783.6,1655.1 779.6,1662.9S771.5,1677.4 767.5,1682.6S759.5,1691.4 755.5,1694.6C747.5,1700.9 739.5,1704.8 731.6,1708S715.7,1713.7 707.7,1714.3S691.7,1712.6 683.6,1710.5S667.6,1707.6 659.5,1708.2S643.4,1710.6 635.4,1713.7S619.2,1721 611.2,1725.3S595.1,1733.9 587.1,1737.3S571.1,1743 563.1,1744.3S547.1,1746 539.1,1745.8S523.1,1745 515,1744.2S499,1742.5 491,1741.4S474.9,1739.3 466.9,1738.4S450.8,1736.6 442.8,1736S426.7,1735.1 418.6,1735S402.6,1735.1 394.5,1735.5S378.5,1736.4 370.4,1737.1S354.4,1738.7 346.3,1739.6S330.3,1741.6 322.2,1742.7S306.2,1745.1 298.1,1746.4S282.1,1749.2 274,1750.9S258,1754.5 249.9,1756.9S233.9,1762.2 225.8,1765.6S209.8,1773.1 201.7,1777.9C197.7,1780.3 193.7,1782.9 189.7,1785.7C187.7,1787.2 185.7,1788.7 183.8,1790.3S179.8,1793.5 177.8,1795.2Z" fill="#c01a27" stroke="#c01a27"/>
<path d="M177.8,1795.2C179.8,1793.5 181.8,1791.8 183.8,1790.3S187.7,1787.2 189.7,1785.7C193.7,1782.9 197.7,1780.3 201.7,1777.9C209.8,1773.1 217.8,1769.1 225.8,1765.6S241.9,1759.3 249.9,1756.9S266,1752.6 274,1750.9S290.1,1747.8 298.1,1746.4S314.2,1743.9 322.2,1742.7S338.3,1740.5 346.3,1739.6S362.4,1737.8 370.4,1737.1S386.5,1735.8 394.5,1735.5S410.6,1734.9 418.6,1735S434.7,1735.4 442.8,1736S458.8,1737.4 466.9,1738.4S482.9,1740.4 491,1741.4S507,1743.5 515,1744.2S531.1,1745.7 539.1,1745.8S555.1,1745.7 563.1,1744.3S579.1,1740.7 587.1,1737.3S603.2,1729.6 611.2,1725.3S627.3,1716.8 635.4,1713.7S651.5,1708.7 659.5,1708.2S675.6,1708.5 683.6,1710.5S699.7,1714.8 707.7,1714.3S723.6,1711.2 731.6,1708S747.5,1700.9 755.5,1694.6C759.5,1691.4 763.5,1687.7 767.5,1682.6S775.6,1670.6 779.6,1662.9S787.6,1646.4 791.6,1637.4S799.6,1619.1 803.7,1610.1S811.9,1592 816,1583.4S824.3,1566.2 828.3,1558.2S836.4,1542.5 840.4,1535.6S848.5,1522.5 852.5,1517.3S860.5,1507.9 864.4,1504.9S872.4,1500.1 876.3,1499.8S884.1,1500.8 888.1,1503.7S896,1511.4 900,1518.1S908,1533.8 912,1545S920,1569.7 924.1,1585.9S932.1,1620.8 936.1,1641.3S944.1,1684.2 948.2,1707.7L948.2,1708.4C944.2,1685.3 940.2,1663.2 936.1,1642.7S928.1,1603.5 924.1,1587.2S916.1,1557.4 912.1,1546.1S904.1,1526 900.1,1519.2S892.1,1507.6 888.1,1504.6S880.2,1500.4 876.3,1500.7S868.4,1502.6 864.4,1505.6S856.4,1512.8 852.4,1518S844.4,1529.3 840.4,1536.2S832.4,1550.5 828.3,1558.5S820.1,1574.8 816,1583.3S807.8,1600.7 803.7,1609.7S795.7,1627.8 791.7,1636.7S783.6,1654.2 779.6,1661.9S771.6,1676.1 767.6,1681S759.6,1689.4 755.6,1692.3C747.6,1698 739.6,1701.7 731.6,1704.8S715.7,1710.7 707.7,1711.4S691.7,1709.7 683.6,1707.6S667.6,1704.7 659.5,1705.4S643.4,1708.3 635.4,1711.6S619.3,1719.3 611.2,1723.8S595.2,1732.8 587.1,1736.2S571.1,1742 563.1,1743.3S547.1,1745 539.1,1744.9S523.1,1744.2 515,1743.4S499,1741.8 491,1740.8S474.9,1738.8 466.9,1737.8S450.8,1736 442.8,1735.5S426.7,1734.5 418.6,1734.4S402.6,1734.5 394.5,1734.9S378.5,1735.8 370.4,1736.5S354.4,1738 346.3,1738.9S330.3,1740.9 322.3,1742S306.2,1744.3 298.2,1745.6S282.1,1748.3 274.1,1749.9S258,1753.6 250,1756S233.9,1761.2 225.9,1764.7S209.8,1772.4 201.8,1777.4C197.7,1779.8 193.7,1782.5 189.7,1785.5C187.7,1787 185.8,1788.6 183.8,1790.2S179.8,1793.5 177.8,1795.2Z" fill="#c31c27" stroke="#c31c27"/>
<path d="M177.8,1795.2C179.8,1793.5 181.8,1791.8 183.8,1790.2S187.7,1787 189.7,1785.5C193.7,1782.5 197.7,1779.8 201.8,1777.4C209.8,1772.4 217.8,1768.2 225.9,1764.7S241.9,1758.4 250,1756S266,1751.6 274.1,1749.9S290.1,1746.9 298.2,1745.6S314.2,1743.1 322.3,1742S338.3,1739.8 346.3,1738.9S362.4,1737.2 370.4,1736.5S386.5,1735.2 394.5,1734.9S410.6,1734.3 418.6,1734.4S434.7,1734.9 442.8,1735.5S458.8,1736.9 466.9,1737.8S482.9,1739.8 491,1740.8S507,1742.7 515,1743.4S531.1,1744.7 539.1,1744.9S555.1,1744.7 563.1,1743.3S579.1,1739.7 587.1,1736.2S603.2,1728.3 611.2,1723.8S627.3,1714.9 635.4,1711.6S651.5,1706.2 659.5,1705.4S675.6,1705.5 683.6,1707.6S699.7,1712.1 707.7,1711.4S723.6,1708 731.6,1704.8S747.6,1698 755.6,1692.3C759.6,1689.4 763.6,1686 767.6,1681S775.6,1669.5 779.6,1661.9S787.6,1645.6 791.7,1636.7S799.7,1618.6 803.7,1609.7S811.9,1591.9 816,1583.3S824.2,1566.4 828.3,1558.5S836.4,1543 840.4,1536.2S848.4,1523.2 852.4,1518S860.4,1508.6 864.4,1505.6S872.3,1500.9 876.3,1500.7S884.1,1501.6 888.1,1504.6S896.1,1512.3 900.1,1519.2S908.1,1534.9 912.1,1546.1S920.1,1571 924.1,1587.2S932.1,1622.2 936.1,1642.7S944.2,1685.3 948.2,1708.4L948.3,1709C944.2,1686.4 940.2,1664.5 936.2,1644.1S928.2,1604.9 924.2,1588.6S916.1,1558.6 912.1,1547.3S904.1,1527 900.1,1520.2S892.1,1508.5 888.1,1505.5S880.2,1501.2 876.3,1501.5S868.4,1503.4 864.4,1506.4S856.4,1513.5 852.4,1518.6S844.4,1529.9 840.4,1536.7S832.3,1550.9 828.3,1558.8S820.1,1574.9 816,1583.3S807.8,1600.4 803.8,1609.3S795.7,1627.2 791.7,1636S783.7,1653.4 779.7,1660.8S771.6,1674.8 767.6,1679.5S759.6,1687.3 755.6,1689.9C747.6,1695.2 739.6,1698.5 731.6,1701.6S715.7,1707.7 707.7,1708.5S691.6,1706.9 683.6,1704.7S667.6,1701.8 659.5,1702.7S643.4,1706 635.4,1709.5S619.3,1717.7 611.2,1722.4S595.2,1731.7 587.1,1735.2S571.1,1741 563.1,1742.3S547.1,1744 539.1,1743.9S523,1743.3 515,1742.6S499,1741.1 490.9,1740.1S474.9,1738.2 466.9,1737.2S450.8,1735.5 442.7,1734.9S426.7,1734 418.6,1733.9S402.6,1733.9 394.5,1734.2S378.5,1735.1 370.4,1735.8S354.4,1737.3 346.4,1738.2S330.3,1740.2 322.3,1741.3S306.2,1743.6 298.2,1744.8S282.1,1747.4 274.1,1749S258,1752.6 250,1755S233.9,1760.3 225.9,1763.8S209.8,1771.7 201.8,1776.8C197.8,1779.4 193.7,1782.1 189.7,1785.2C187.8,1786.8 185.8,1788.4 183.8,1790.1S179.8,1793.5 177.8,1795.3Z" fill="#c62027" stroke="#c62027"/>
<path d="M177.8,1795.3C179.8,1793.5 181.8,1791.8 183.8,1790.1S187.8,1786.8 189.7,1785.2C193.7,1782.1 197.8,1779.4 201.8,1776.8C209.8,1771.7 217.8,1767.4 225.9,1763.8S241.9,1757.4 250,1755S266,1750.6 274.1,1749S290.1,1746 298.2,1744.8S314.2,1742.4 322.3,1741.3S338.3,1739.1 346.4,1738.2S362.4,1736.5 370.4,1735.8S386.5,1734.6 394.5,1734.2S410.6,1733.8 418.6,1733.9S434.7,1734.3 442.7,1734.9S458.8,1736.3 466.9,1737.2S482.9,1739.2 490.9,1740.1S507,1741.9 515,1742.6S531.1,1743.8 539.1,1743.9S555.1,1743.7 563.1,1742.3S579.1,1738.7 587.1,1735.2S603.2,1727 611.2,1722.4S627.3,1713 635.4,1709.5S651.5,1703.6 659.5,1702.7S675.6,1702.6 683.6,1704.7S699.7,1709.3 707.7,1708.5S723.7,1704.7 731.6,1701.6S747.6,1695.2 755.6,1689.9C759.6,1687.3 763.6,1684.2 767.6,1679.5S775.7,1668.3 779.7,1660.8S787.7,1644.8 791.7,1636S799.7,1618.1 803.8,1609.3S811.9,1591.7 816,1583.3S824.2,1566.6 828.3,1558.8S836.3,1543.5 840.4,1536.7S848.4,1523.8 852.4,1518.6S860.4,1509.3 864.4,1506.4S872.3,1501.7 876.3,1501.5S884.2,1502.5 888.1,1505.5S896.1,1513.3 900.1,1520.2S908.1,1536 912.1,1547.3S920.1,1572.3 924.2,1588.6S932.2,1623.7 936.2,1644.1S944.2,1686.4 948.3,1709L948.3,1709.7C944.3,1687.5 940.3,1665.8 936.2,1645.4S928.2,1606.2 924.2,1589.9S916.2,1559.8 912.2,1548.5S904.2,1528.1 900.2,1521.2S892.1,1509.4 888.2,1506.4S880.2,1502.1 876.3,1502.3S868.3,1504.2 864.3,1507.1S856.3,1514.2 852.3,1519.3S844.3,1530.5 840.3,1537.2S832.3,1551.3 828.2,1559.1S820.1,1574.9 816,1583.3S807.9,1600.2 803.8,1608.9S795.8,1626.5 791.8,1635.3S783.7,1652.5 779.7,1659.8S771.7,1673.5 767.7,1678S759.7,1685.2 755.7,1687.6C747.6,1692.4 739.6,1695.4 731.7,1698.5S715.7,1704.7 707.7,1705.6S691.6,1704.1 683.6,1701.8S667.5,1698.9 659.5,1700S643.4,1703.7 635.4,1707.4S619.3,1716.1 611.3,1720.9S595.2,1730.5 587.2,1734.1S571.1,1740 563.1,1741.3S547.1,1743 539.1,1743S523,1742.5 515,1741.8S499,1740.4 490.9,1739.4S474.9,1737.6 466.8,1736.7S450.8,1735 442.7,1734.4S426.7,1733.4 418.6,1733.3S402.6,1733.3 394.5,1733.6S378.5,1734.5 370.5,1735.2S354.4,1736.6 346.4,1737.5S330.3,1739.5 322.3,1740.5S306.2,1742.8 298.2,1744S282.1,1746.5 274.1,1748.1S258,1751.6 250,1754S233.9,1759.3 225.9,1762.9S209.8,1771 201.8,1776.3C197.8,1778.9 193.8,1781.8 189.8,1785C187.8,1786.6 185.8,1788.2 183.8,1790S179.8,1793.5 177.8,1795.4Z" fill="#c92227" stroke="#c92227"/>
<path d="M177.8,1795.4C179.8,1793.5 181.8,1791.7 183.8,1790S187.8,1786.6 189.8,1785C193.8,1781.8 197.8,1778.9 201.8,1776.3C209.8,1771 217.9,1766.6 225.9,1762.9S242,1756.4 250,1754S266.1,1749.7 274.1,1748.1S290.1,1745.2 298.2,1744S314.2,1741.6 322.3,1740.5S338.3,1738.4 346.4,1737.5S362.4,1735.8 370.5,1735.2S386.5,1734 394.5,1733.6S410.6,1733.2 418.6,1733.3S434.7,1733.8 442.7,1734.4S458.8,1735.8 466.8,1736.7S482.9,1738.5 490.9,1739.4S507,1741.2 515,1741.8S531.1,1742.9 539.1,1743S555.1,1742.7 563.1,1741.3S579.1,1737.6 587.2,1734.1S603.2,1725.7 611.3,1720.9S627.3,1711.2 635.4,1707.4S651.5,1701.1 659.5,1700S675.6,1699.6 683.6,1701.8S699.7,1706.5 707.7,1705.6S723.7,1701.5 731.7,1698.5S747.6,1692.4 755.7,1687.6C759.7,1685.2 763.7,1682.4 767.7,1678S775.7,1667.2 779.7,1659.8S787.7,1644 791.8,1635.3S799.8,1617.6 803.8,1608.9S811.9,1591.6 816,1583.3S824.2,1566.8 828.2,1559.1S836.3,1543.9 840.3,1537.2S848.3,1524.4 852.3,1519.3S860.3,1510 864.3,1507.1S872.3,1502.5 876.3,1502.3S884.2,1503.3 888.2,1506.4S896.1,1514.3 900.2,1521.2S908.2,1537.1 912.2,1548.5S920.2,1573.5 924.2,1589.9S932.2,1625.1 936.2,1645.4S944.3,1687.5 948.3,1709.7L948.4,1710.4C944.3,1688.6 940.3,1667 936.3,1646.8S928.3,1607.6 924.3,1591.2S916.2,1561 912.2,1549.6S904.2,1529.2 900.2,1522.2S892.2,1510.4 888.2,1507.3S880.2,1502.9 876.3,1503.1S868.3,1505 864.3,1507.9S856.3,1514.9 852.3,1520S844.3,1531.1 840.3,1537.7S832.2,1551.7 828.2,1559.4S820.1,1575 816,1583.2S807.9,1599.9 803.9,1608.5S795.8,1625.9 791.8,1634.6S783.8,1651.6 779.8,1658.8S771.7,1672.2 767.7,1676.4S759.7,1683.2 755.7,1685.3C747.7,1689.6 739.7,1692.3 731.7,1695.3S715.7,1701.7 707.7,1702.7S691.6,1701.2 683.6,1699S667.5,1696 659.5,1697.3S643.4,1701.4 635.4,1705.3S619.3,1714.4 611.3,1719.4S595.2,1729.4 587.2,1733S571.1,1739 563.1,1740.3S547.1,1742 539.1,1742S523,1741.6 515,1741S499,1739.6 490.9,1738.8S474.9,1737 466.8,1736.1S450.8,1734.4 442.7,1733.9S426.7,1732.9 418.6,1732.7S402.6,1732.7 394.5,1733S378.5,1733.8 370.5,1734.5S354.4,1735.9 346.4,1736.8S330.3,1738.7 322.3,1739.8S306.2,1742 298.2,1743.2S282.1,1745.6 274.1,1747.1S258,1750.6 250,1753S233.9,1758.3 225.9,1762S209.9,1770.2 201.8,1775.7C197.8,1778.4 193.8,1781.4 189.8,1784.7C187.8,1786.4 185.8,1788.1 183.8,1789.9S179.8,1793.6 177.8,1795.5Z" fill="#cc2627" stroke="#cc2627"/>
<path d="M177.8,1795.5C179.8,1793.6 181.8,1791.7 183.8,1789.9S187.8,1786.4 189.8,1784.7C193.8,1781.4 197.8,1778.4 201.8,1775.7C209.9,1770.2 217.9,1765.8 225.9,1762S242,1755.4 250,1753S266.1,1748.7 274.1,1747.1S290.2,1744.3 298.2,1743.2S314.3,1740.9 322.3,1739.8S338.3,1737.7 346.4,1736.8S362.4,1735.2 370.5,1734.5S386.5,1733.3 394.5,1733S410.6,1732.6 418.6,1732.7S434.7,1733.3 442.7,1733.9S458.8,1735.2 466.8,1736.1S482.9,1737.9 490.9,1738.8S507,1740.4 515,1741S531.1,1742 539.1,1742S555.1,1741.7 563.1,1740.3S579.2,1736.6 587.2,1733S603.2,1724.5 611.3,1719.4S627.3,1709.3 635.4,1705.3S651.5,1698.5 659.5,1697.3S675.6,1696.7 683.6,1699S699.7,1703.8 707.7,1702.7S723.7,1698.3 731.7,1695.3S747.7,1689.6 755.7,1685.3C759.7,1683.2 763.7,1680.7 767.7,1676.4S775.8,1666.1 779.8,1658.8S787.8,1643.2 791.8,1634.6S799.8,1617.1 803.9,1608.5S812,1591.5 816,1583.2S824.2,1567 828.2,1559.4S836.2,1544.4 840.3,1537.7S848.3,1525.1 852.3,1520S860.3,1510.8 864.3,1507.9S872.3,1503.3 876.3,1503.1S884.2,1504.2 888.2,1507.3S896.2,1515.2 900.2,1522.2S908.2,1538.2 912.2,1549.6S920.2,1574.8 924.3,1591.2S932.3,1626.5 936.3,1646.8S944.3,1688.6 948.4,1710.4L948.4,1711.1C944.4,1689.7 940.4,1668.3 936.4,1648.2S928.3,1609 924.3,1592.6S916.3,1562.2 912.3,1550.8S904.2,1530.2 900.2,1523.2S892.2,1511.3 888.2,1508.2S880.2,1503.7 876.3,1503.9S868.3,1505.7 864.3,1508.6S856.3,1515.6 852.2,1520.6S844.2,1531.6 840.2,1538.2S832.2,1552.1 828.2,1559.7S820.1,1575.1 816,1583.2S807.9,1599.6 803.9,1608.1S795.9,1625.3 791.9,1633.8S783.8,1650.7 779.8,1657.8S771.8,1670.9 767.8,1674.9S759.8,1681.1 755.7,1683C747.7,1686.7 739.7,1689.1 731.7,1692.1S715.7,1698.7 707.7,1699.8S691.6,1698.4 683.6,1696.1S667.5,1693.2 659.5,1694.6S643.4,1699 635.4,1703.3S619.3,1712.8 611.3,1718S595.2,1728.2 587.2,1731.9S571.2,1737.9 563.1,1739.3S547.1,1741.1 539.1,1741.1S523,1740.8 515,1740.2S498.9,1738.9 490.9,1738.1S474.9,1736.4 466.8,1735.5S450.8,1733.9 442.7,1733.3S426.7,1732.3 418.6,1732.2S402.6,1732.1 394.6,1732.4S378.5,1733.2 370.5,1733.8S354.4,1735.3 346.4,1736.2S330.3,1738 322.3,1739.1S306.2,1741.2 298.2,1742.3S282.1,1744.7 274.1,1746.2S258.1,1749.6 250,1752S234,1757.4 225.9,1761.2S209.9,1769.5 201.8,1775.2C197.8,1778 193.8,1781.1 189.8,1784.5C187.8,1786.2 185.8,1787.9 183.8,1789.8S179.8,1793.6 177.8,1795.6Z" fill="#cf2827" stroke="#cf2827"/>
<path d="M177.8,1795.6C179.8,1793.6 181.8,1791.6 183.8,1789.8S187.8,1786.2 189.8,1784.5C193.8,1781.1 197.8,1778 201.8,1775.2C209.9,1769.5 217.9,1764.9 225.9,1761.2S242,1754.4 250,1752S266.1,1747.7 274.1,1746.2S290.2,1743.5 298.2,1742.3S314.3,1740.1 322.3,1739.1S338.3,1737 346.4,1736.2S362.4,1734.5 370.5,1733.8S386.5,1732.7 394.6,1732.4S410.6,1732 418.6,1732.2S434.7,1732.7 442.7,1733.3S458.8,1734.7 466.8,1735.5S482.9,1737.3 490.9,1738.1S507,1739.7 515,1740.2S531,1741.1 539.1,1741.1S555.1,1740.7 563.1,1739.3S579.2,1735.6 587.2,1731.9S603.3,1723.2 611.3,1718S627.4,1707.5 635.4,1703.3S651.5,1695.9 659.5,1694.6S675.6,1693.7 683.6,1696.1S699.6,1701 707.7,1699.8S723.7,1695.1 731.7,1692.1S747.7,1686.7 755.7,1683C759.8,1681.1 763.8,1678.9 767.8,1674.9S775.8,1664.9 779.8,1657.8S787.8,1642.4 791.9,1633.8S799.9,1616.6 803.9,1608.1S812,1591.3 816,1583.2S824.1,1567.2 828.2,1559.7S836.2,1544.8 840.2,1538.2S848.2,1525.7 852.2,1520.6S860.3,1511.5 864.3,1508.6S872.3,1504.1 876.3,1503.9S884.2,1505 888.2,1508.2S896.2,1516.2 900.2,1523.2S908.3,1539.3 912.3,1550.8S920.3,1576.1 924.3,1592.6S932.3,1628 936.4,1648.2S944.4,1689.7 948.4,1711.1L948.5,1711.7C944.4,1690.8 940.4,1669.6 936.4,1649.5S928.4,1610.4 924.4,1593.9S916.3,1563.5 912.3,1551.9S904.3,1531.3 900.3,1524.2S892.3,1512.2 888.3,1509S880.3,1504.5 876.3,1504.7S868.2,1506.5 864.2,1509.4S856.2,1516.3 852.2,1521.3S844.2,1532.2 840.2,1538.8S832.1,1552.5 828.1,1560S820.1,1575.2 816,1583.2S808,1599.3 804,1607.7S795.9,1624.7 791.9,1633.1S783.9,1649.8 779.9,1656.8S771.8,1669.6 767.8,1673.4S759.8,1679 755.8,1680.7C747.8,1683.9 739.7,1686 731.7,1688.9S715.7,1695.6 707.7,1696.9S691.6,1695.6 683.6,1693.2S667.5,1690.3 659.5,1691.8S643.4,1696.7 635.4,1701.2S619.3,1711.2 611.3,1716.5S595.2,1727.1 587.2,1730.9S571.2,1736.9 563.1,1738.3S547.1,1740.1 539.1,1740.1S523,1739.9 515,1739.4S498.9,1738.2 490.9,1737.5S474.8,1735.8 466.8,1735S450.8,1733.4 442.7,1732.8S426.7,1731.7 418.6,1731.6S402.6,1731.5 394.6,1731.8S378.5,1732.6 370.5,1733.2S354.4,1734.6 346.4,1735.5S330.3,1737.3 322.3,1738.3S306.2,1740.4 298.2,1741.5S282.2,1743.8 274.1,1745.3S258.1,1748.6 250,1751S234,1756.4 226,1760.3S209.9,1768.8 201.9,1774.6C197.8,1777.5 193.8,1780.7 189.8,1784.2C187.8,1785.9 185.8,1787.8 183.8,1789.7S179.8,1793.6 177.8,1795.7Z" fill="#d22b27" stroke="#d22b27"/>
<path d="M177.8,1795.7C179.8,1793.6 181.8,1791.6 183.8,1789.7S187.8,1785.9 189.8,1784.2C193.8,1780.7 197.8,1777.5 201.9,1774.6C209.9,1768.8 217.9,1764.1 226,1760.3S242,1753.4 250,1751S266.1,1746.8 274.1,1745.3S290.2,1742.6 298.2,1741.5S314.3,1739.4 322.3,1738.3S338.4,1736.3 346.4,1735.5S362.4,1733.8 370.5,1733.2S386.5,1732.1 394.6,1731.8S410.6,1731.4 418.6,1731.6S434.7,1732.2 442.7,1732.8S458.8,1734.2 466.8,1735S482.9,1736.7 490.9,1737.5S507,1738.9 515,1739.4S531,1740.2 539.1,1740.1S555.1,1739.7 563.1,1738.3S579.2,1734.6 587.2,1730.9S603.3,1721.9 611.3,1716.5S627.4,1705.6 635.4,1701.2S651.5,1693.4 659.5,1691.8S675.6,1690.8 683.6,1693.2S699.6,1698.2 707.7,1696.9S723.7,1691.8 731.7,1688.9S747.8,1683.9 755.8,1680.7C759.8,1679 763.8,1677.1 767.8,1673.4S775.8,1663.8 779.9,1656.8S787.9,1641.6 791.9,1633.1S799.9,1616 804,1607.7S812,1591.2 816,1583.2S824.1,1567.5 828.1,1560S836.2,1545.3 840.2,1538.8S848.2,1526.3 852.2,1521.3S860.2,1512.2 864.2,1509.4S872.3,1504.8 876.3,1504.7S884.3,1505.9 888.3,1509S896.3,1517.2 900.3,1524.2S908.3,1540.4 912.3,1551.9S920.4,1577.4 924.4,1593.9S932.4,1629.4 936.4,1649.5S944.4,1690.8 948.5,1711.7L948.5,1712.4C944.5,1691.9 940.5,1670.9 936.5,1650.9S928.4,1611.8 924.4,1595.2S916.4,1564.7 912.4,1553.1S904.3,1532.3 900.3,1525.2S892.3,1513.1 888.3,1509.9S880.3,1505.4 876.2,1505.5S868.2,1507.3 864.2,1510.1S856.2,1517 852.2,1522S844.1,1532.8 840.1,1539.3S832.1,1552.9 828.1,1560.3S820,1575.3 816,1583.2S808,1599.1 804,1607.3S796,1624 792,1632.4S783.9,1648.9 779.9,1655.7S771.9,1668.3 767.9,1671.8S759.8,1677 755.8,1678.3C747.8,1681.1 739.8,1682.8 731.7,1685.7S715.7,1692.6 707.7,1694.1S691.6,1692.7 683.6,1690.3S667.5,1687.4 659.5,1689.1S643.4,1694.4 635.4,1699.1S619.3,1709.5 611.3,1715.1S595.3,1726 587.2,1729.8S571.2,1735.9 563.2,1737.3S547.1,1739.1 539.1,1739.2S523,1739.1 515,1738.6S498.9,1737.5 490.9,1736.8S474.8,1735.2 466.8,1734.4S450.8,1732.8 442.7,1732.2S426.7,1731.2 418.6,1731S402.6,1730.9 394.6,1731.2S378.5,1731.9 370.5,1732.5S354.4,1733.9 346.4,1734.8S330.3,1736.6 322.3,1737.6S306.2,1739.6 298.2,1740.7S282.2,1742.9 274.1,1744.4S258.1,1747.6 250.1,1750S234,1755.4 226,1759.4S209.9,1768.1 201.9,1774.1C197.9,1777 193.9,1780.3 189.8,1783.9C187.8,1785.7 185.8,1787.6 183.8,1789.6S179.8,1793.6 177.8,1795.8Z" fill="#d52f27" stroke="#d52f27"/>
<path d="M177.8,1795.8C179.8,1793.6 181.8,1791.6 183.8,1789.6S187.8,1785.7 189.8,1783.9C193.9,1780.3 197.9,1777 201.9,1774.1C209.9,1768.1 217.9,1763.3 226,1759.4S242,1752.4 250.1,1750S266.1,1745.8 274.1,1744.4S290.2,1741.8 298.2,1740.7S314.3,1738.6 322.3,1737.6S338.4,1735.6 346.4,1734.8S362.4,1733.2 370.5,1732.5S386.5,1731.5 394.6,1731.2S410.6,1730.8 418.6,1731S434.7,1731.6 442.7,1732.2S458.8,1733.6 466.8,1734.4S482.9,1736 490.9,1736.8S507,1738.2 515,1738.6S531,1739.3 539.1,1739.2S555.1,1738.7 563.2,1737.3S579.2,1733.6 587.2,1729.8S603.3,1720.6 611.3,1715.1S627.4,1703.8 635.4,1699.1S651.5,1690.8 659.5,1689.1S675.5,1687.8 683.6,1690.3S699.6,1695.5 707.7,1694.1S723.7,1688.6 731.7,1685.7S747.8,1681.1 755.8,1678.3C759.8,1677 763.9,1675.4 767.9,1671.8S775.9,1662.6 779.9,1655.7S787.9,1640.8 792,1632.4S800,1615.5 804,1607.3S812,1591 816,1583.2S824.1,1567.7 828.1,1560.3S836.1,1545.8 840.1,1539.3S848.1,1526.9 852.2,1522S860.2,1513 864.2,1510.1S872.2,1505.6 876.2,1505.5S884.3,1506.8 888.3,1509.9S896.3,1518.1 900.3,1525.2S908.4,1541.5 912.4,1553.1S920.4,1578.6 924.4,1595.2S932.4,1630.9 936.5,1650.9S944.5,1691.9 948.5,1712.4L948.5,1715.9C944.5,1695.5 940.5,1674.6 936.5,1654.7S928.4,1615.7 924.4,1599.1S916.4,1568.4 912.4,1556.8S904.3,1536.1 900.3,1529S892.3,1517 888.3,1513.8S880.3,1509.1 876.2,1509.1S868.2,1510.7 864.2,1513.3S856.2,1519.9 852.2,1524.6S844.1,1535 840.1,1541.2S832.1,1554.3 828.1,1561.3S820,1575.8 816,1583.3S808,1598.5 804,1606.3S796,1622.1 792,1630S783.9,1645.5 779.9,1652S771.9,1663.8 767.9,1667.3S759.8,1672.4 755.8,1673.8C747.8,1676.6 739.8,1678.4 731.7,1681S715.7,1687 707.7,1688.2S691.6,1686.9 683.6,1684.6S667.5,1682.1 659.5,1683.7S643.4,1688.9 635.4,1693.5S619.3,1704.1 611.3,1709.9S595.3,1721.4 587.2,1725.6S571.2,1732.8 563.2,1734.6S547.1,1737.2 539.1,1737.4S523,1737.1 515,1736.4S498.9,1734.7 490.9,1733.8S474.8,1732 466.8,1731.3S450.8,1729.9 442.7,1729.4S426.7,1728.6 418.6,1728.5S402.6,1728.5 394.6,1728.7S378.5,1729.4 370.5,1729.9S354.4,1731.1 346.4,1731.8S330.3,1733.2 322.3,1734S306.2,1735.6 298.2,1736.5S282.2,1738.2 274.1,1739.5S258.1,1742.6 250.1,1745.2S234,1751.2 226,1755.6S209.9,1765.5 201.9,1772.1C197.9,1775.4 193.9,1779 189.8,1782.9C187.8,1784.9 185.8,1786.9 183.8,1789.1S179.8,1793.4 177.8,1795.7Z" fill="#dc3b2c" stroke="#dc3b2c"/>
<path d="M177.8,1795.7C179.8,1793.4 181.8,1791.2 183.8,1789.1S187.8,1784.9 189.8,1782.9C193.9,1779 197.9,1775.4 201.9,1772.1C209.9,1765.5 217.9,1760.1 226,1755.6S242,1747.8 250.1,1745.2S266.1,1740.8 274.1,1739.5S290.2,1737.3 298.2,1736.5S314.3,1734.8 322.3,1734S338.4,1732.5 346.4,1731.8S362.4,1730.4 370.5,1729.9S386.5,1729 394.6,1728.7S410.6,1728.4 418.6,1728.5S434.7,1728.9 442.7,1729.4S458.8,1730.5 466.8,1731.3S482.9,1732.9 490.9,1733.8S507,1735.6 515,1736.4S531,1737.6 539.1,1737.4S555.1,1736.4 563.2,1734.6S579.2,1729.9 587.2,1725.6S603.3,1715.7 611.3,1709.9S627.4,1698.2 635.4,1693.5S651.5,1685.4 659.5,1683.7S675.5,1682.4 683.6,1684.6S699.6,1689.4 707.7,1688.2S723.7,1683.6 731.7,1681S747.8,1676.6 755.8,1673.8C759.8,1672.4 763.9,1670.7 767.9,1667.3S775.9,1658.5 779.9,1652S787.9,1637.9 792,1630S800,1614.1 804,1606.3S812,1590.8 816,1583.3S824.1,1568.4 828.1,1561.3S836.1,1547.5 840.1,1541.2S848.1,1529.4 852.2,1524.6S860.2,1516 864.2,1513.3S872.2,1509.2 876.2,1509.1S884.3,1510.5 888.3,1513.8S896.3,1522 900.3,1529S908.4,1545.3 912.4,1556.8S920.4,1582.5 924.4,1599.1S932.4,1634.7 936.5,1654.7S944.5,1695.5 948.5,1715.9L948.5,1719.5C944.5,1699.1 940.5,1678.3 936.5,1658.4S928.4,1619.6 924.4,1603S916.4,1572.2 912.4,1560.6S904.3,1539.9 900.3,1532.8S892.3,1520.8 888.3,1517.6S880.3,1512.8 876.2,1512.8S868.2,1514.1 864.2,1516.6S856.2,1522.8 852.2,1527.3S844.1,1537.2 840.1,1543.2S832.1,1555.7 828.1,1562.4S820,1576.3 816,1583.4S808,1597.9 804,1605.3S796,1620.2 792,1627.6S783.9,1642.1 779.9,1648.2S771.9,1659.4 767.9,1662.7S759.8,1667.8 755.8,1669.3C747.8,1672.2 739.8,1673.9 731.7,1676.2S715.7,1681.5 707.7,1682.4S691.6,1681 683.6,1679S667.5,1676.8 659.5,1678.4S643.4,1683.3 635.4,1688S619.3,1698.7 611.3,1704.7S595.3,1716.7 587.2,1721.5S571.2,1729.6 563.2,1731.9S547.1,1735.3 539.1,1735.6S523,1735.1 515,1734.1S498.9,1731.8 490.9,1730.7S474.8,1728.8 466.8,1728.1S450.8,1726.9 442.7,1726.6S426.7,1726 418.6,1726S402.6,1726.1 394.6,1726.3S378.5,1726.9 370.5,1727.3S354.4,1728.2 346.4,1728.8S330.3,1729.9 322.3,1730.5S306.2,1731.6 298.2,1732.2S282.2,1733.4 274.1,1734.6S258.1,1737.6 250.1,1740.4S234,1747 226,1751.9S209.9,1762.8 201.9,1770.1C197.9,1773.7 193.9,1777.6 189.8,1781.9C187.8,1784 185.8,1786.2 183.8,1788.5S179.8,1793.2 177.8,1795.6Z" fill="#e24631" stroke="#e24631"/>
<path d="M177.8,1795.6C179.8,1793.2 181.8,1790.8 183.8,1788.5S187.8,1784 189.8,1781.9C193.9,1777.6 197.9,1773.7 201.9,1770.1C209.9,1762.8 217.9,1756.8 226,1751.9S242,1743.2 250.1,1740.4S266.1,1735.8 274.1,1734.6S290.2,1732.8 298.2,1732.2S314.3,1731.1 322.3,1730.5S338.4,1729.3 346.4,1728.8S362.4,1727.7 370.5,1727.3S386.5,1726.5 394.6,1726.3S410.6,1726 418.6,1726S434.7,1726.2 442.7,1726.6S458.8,1727.5 466.8,1728.1S482.9,1729.7 490.9,1730.7S507,1733.1 515,1734.1S531,1735.8 539.1,1735.6S555.1,1734.2 563.2,1731.9S579.2,1726.2 587.2,1721.5S603.3,1710.7 611.3,1704.7S627.4,1692.7 635.4,1688S651.5,1680 659.5,1678.4S675.5,1677.1 683.6,1679S699.6,1683.3 707.7,1682.4S723.7,1678.6 731.7,1676.2S747.8,1672.2 755.8,1669.3C759.8,1667.8 763.9,1666 767.9,1662.7S775.9,1654.3 779.9,1648.2S787.9,1635 792,1627.6S800,1612.7 804,1605.3S812,1590.6 816,1583.4S824.1,1569.2 828.1,1562.4S836.1,1549.1 840.1,1543.2S848.1,1531.8 852.2,1527.3S860.2,1519.1 864.2,1516.6S872.2,1512.7 876.2,1512.8S884.3,1514.3 888.3,1517.6S896.3,1525.8 900.3,1532.8S908.4,1549 912.4,1560.6S920.4,1586.3 924.4,1603S932.4,1638.5 936.5,1658.4S944.5,1699.1 948.5,1719.5L948.5,1723C944.5,1702.8 940.5,1682 936.5,1662.2S928.4,1623.4 924.4,1606.8S916.4,1576 912.4,1564.3S904.3,1543.6 900.3,1536.6S892.3,1524.7 888.3,1521.4S880.3,1516.5 876.2,1516.4S868.2,1517.5 864.2,1519.8S856.2,1525.7 852.2,1530S844.1,1539.4 840.1,1545.1S832.1,1557 828.1,1563.5S820,1576.7 816,1583.5S808,1597.3 804,1604.2S796,1618.3 792,1625.2S783.9,1638.7 779.9,1644.4S771.9,1654.9 767.9,1658.2S759.8,1663.2 755.8,1664.7C747.8,1667.7 739.8,1669.4 731.7,1671.5S715.7,1675.9 707.7,1676.5S691.6,1675.1 683.6,1673.4S667.5,1671.4 659.5,1673S643.4,1677.8 635.4,1682.5S619.3,1693.3 611.3,1699.5S595.3,1712.1 587.2,1717.3S571.2,1726.4 563.2,1729.2S547.1,1733.5 539.1,1733.8S523,1733.1 515,1731.8S498.9,1728.9 490.9,1727.7S474.8,1725.7 466.8,1725S450.8,1724 442.7,1723.7S426.7,1723.5 418.6,1723.5S402.6,1723.7 394.6,1723.9S378.5,1724.4 370.5,1724.7S354.4,1725.4 346.4,1725.8S330.3,1726.6 322.3,1726.9S306.2,1727.6 298.2,1728S282.2,1728.7 274.1,1729.8S258.1,1732.6 250.1,1735.6S234,1742.8 226,1748.2S209.9,1760.2 201.9,1768.1C197.9,1772 193.9,1776.3 189.8,1780.9C187.8,1783.2 185.8,1785.5 183.8,1788S179.8,1793 177.8,1795.6Z" fill="#e75136" stroke="#e75136"/>
<path d="M177.8,1795.6C179.8,1793 181.8,1790.4 183.8,1788S187.8,1783.2 189.8,1780.9C193.9,1776.3 197.9,1772 201.9,1768.1C209.9,1760.2 217.9,1753.6 226,1748.2S242,1738.6 250.1,1735.6S266.1,1730.8 274.1,1729.8S290.2,1728.3 298.2,1728S314.3,1727.3 322.3,1726.9S338.4,1726.2 346.4,1725.8S362.4,1725 370.5,1724.7S386.5,1724.1 394.6,1723.9S410.6,1723.5 418.6,1723.5S434.7,1723.5 442.7,1723.7S458.8,1724.4 466.8,1725S482.9,1726.5 490.9,1727.7S507,1730.6 515,1731.8S531,1734.1 539.1,1733.8S555.1,1731.9 563.2,1729.2S579.2,1722.5 587.2,1717.3S603.3,1705.8 611.3,1699.5S627.4,1687.1 635.4,1682.5S651.5,1674.6 659.5,1673S675.5,1671.7 683.6,1673.4S699.6,1677.2 707.7,1676.5S723.7,1673.5 731.7,1671.5S747.8,1667.7 755.8,1664.7C759.8,1663.2 763.9,1661.4 767.9,1658.2S775.9,1650.1 779.9,1644.4S787.9,1632.1 792,1625.2S800,1611.2 804,1604.2S812,1590.3 816,1583.5S824.1,1570 828.1,1563.5S836.1,1550.8 840.1,1545.1S848.1,1534.3 852.2,1530S860.2,1522.2 864.2,1519.8S872.2,1516.2 876.2,1516.4S884.3,1518.1 888.3,1521.4S896.3,1529.6 900.3,1536.6S908.4,1552.7 912.4,1564.3S920.4,1590.2 924.4,1606.8S932.4,1642.4 936.5,1662.2S944.5,1702.8 948.5,1723L948.5,1726.6C944.5,1706.4 940.5,1685.7 936.5,1666S928.4,1627.3 924.4,1610.7S916.4,1579.7 912.4,1568.1S904.3,1547.4 900.3,1540.4S892.3,1528.5 888.3,1525.2S880.3,1520.3 876.2,1520S868.2,1520.9 864.2,1523.1S856.2,1528.6 852.2,1532.6S844.1,1541.7 840.1,1547.1S832.1,1558.4 828.1,1564.6S820,1577.2 816,1583.7S808,1596.7 804,1603.2S796,1616.4 792,1622.8S783.9,1635.4 779.9,1640.7S771.9,1650.5 767.9,1653.6S759.8,1658.6 755.8,1660.2C747.8,1663.3 739.8,1665 731.7,1666.7S715.7,1670.3 707.7,1670.7S691.6,1669.2 683.6,1667.8S667.5,1666.1 659.5,1667.7S643.4,1672.3 635.4,1676.9S619.3,1687.9 611.3,1694.3S595.3,1707.5 587.2,1713.2S571.2,1723.3 563.2,1726.5S547.1,1731.6 539.1,1732S523,1731.2 515,1729.6S498.9,1726.1 490.9,1724.7S474.8,1722.5 466.8,1721.9S450.8,1721 442.7,1720.9S426.7,1720.9 418.6,1721S402.6,1721.2 394.6,1721.4S378.5,1721.9 370.5,1722.1S354.4,1722.6 346.4,1722.8S330.3,1723.2 322.3,1723.4S306.2,1723.6 298.2,1723.7S282.2,1723.9 274.1,1724.9S258.1,1727.6 250.1,1730.8S234,1738.6 226,1744.5S209.9,1757.6 201.9,1766.1C197.9,1770.4 193.9,1775 189.8,1779.9C187.8,1782.3 185.8,1784.8 183.8,1787.4S179.8,1792.7 177.8,1795.5Z" fill="#ec5b3b" stroke="#ec5b3b"/>
<path d="M177.8,1795.5C179.8,1792.7 181.8,1790 183.8,1787.4S187.8,1782.3 189.8,1779.9C193.9,1775 197.9,1770.4 201.9,1766.1C209.9,1757.6 217.9,1750.4 226,1744.5S242,1734 250.1,1730.8S266.1,1725.8 274.1,1724.9S290.2,1723.8 298.2,1723.7S314.3,1723.5 322.3,1723.4S338.4,1723 346.4,1722.8S362.4,1722.3 370.5,1722.1S386.5,1721.6 394.6,1721.4S410.6,1721.1 418.6,1721S434.7,1720.8 442.7,1720.9S458.8,1721.3 466.8,1721.9S482.9,1723.4 490.9,1724.7S507,1728 515,1729.6S531,1732.3 539.1,1732S555.1,1729.7 563.2,1726.5S579.2,1718.8 587.2,1713.2S603.3,1700.8 611.3,1694.3S627.4,1681.6 635.4,1676.9S651.5,1669.2 659.5,1667.7S675.5,1666.3 683.6,1667.8S699.6,1671 707.7,1670.7S723.7,1668.5 731.7,1666.7S747.8,1663.3 755.8,1660.2C759.8,1658.6 763.9,1656.7 767.9,1653.6S775.9,1646 779.9,1640.7S787.9,1629.2 792,1622.8S800,1609.8 804,1603.2S812,1590.1 816,1583.7S824.1,1570.8 828.1,1564.6S836.1,1552.5 840.1,1547.1S848.1,1536.7 852.2,1532.6S860.2,1525.3 864.2,1523.1S872.2,1519.7 876.2,1520S884.3,1521.9 888.3,1525.2S896.3,1533.5 900.3,1540.4S908.4,1556.5 912.4,1568.1S920.4,1594 924.4,1610.7S932.4,1646.2 936.5,1666S944.5,1706.4 948.5,1726.6L948.5,1730.1C944.5,1710 940.5,1689.4 936.5,1669.7S928.4,1631.2 924.4,1614.6S916.4,1583.5 912.4,1571.8S904.3,1551.2 900.3,1544.2S892.3,1532.4 888.3,1529S880.3,1524 876.2,1523.6S868.2,1524.3 864.2,1526.3S856.2,1531.4 852.2,1535.3S844.1,1543.9 840.1,1549S832.1,1559.8 828.1,1565.7S820,1577.7 816,1583.8S808,1596.1 804,1602.2S796,1614.5 792,1620.4S783.9,1632 779.9,1636.9S771.9,1646 767.9,1649S759.8,1654 755.8,1655.6C747.8,1658.8 739.8,1660.5 731.7,1662S715.7,1664.7 707.7,1664.8S691.6,1663.3 683.6,1662.1S667.5,1660.8 659.5,1662.3S643.4,1666.7 635.4,1671.4S619.3,1682.4 611.3,1689.2S595.3,1702.9 587.2,1709S571.2,1720.1 563.2,1723.8S547.1,1729.7 539.1,1730.2S523,1729.2 515,1727.3S498.9,1723.2 490.9,1721.7S474.8,1719.3 466.8,1718.7S450.8,1718.1 442.7,1718.1S426.7,1718.3 418.6,1718.5S402.6,1718.8 394.6,1719S378.5,1719.3 370.5,1719.5S354.4,1719.7 346.4,1719.8S330.3,1719.9 322.3,1719.8S306.2,1719.6 298.2,1719.5S282.2,1719.2 274.1,1720S258.1,1722.6 250.1,1726S234,1734.4 226,1740.8S209.9,1755 201.9,1764.1C197.9,1768.7 193.9,1773.6 189.8,1778.8C187.8,1781.4 185.8,1784.1 183.8,1786.9S179.8,1792.5 177.8,1795.4Z" fill="#f16640" stroke="#f16640"/>
<path d="M177.8,1795.4C179.8,1792.5 181.8,1789.7 183.8,1786.9S187.8,1781.4 189.8,1778.8C193.9,1773.6 197.9,1768.7 201.9,1764.1C209.9,1755 217.9,1747.2 226,1740.8S242,1729.4 250.1,1726S266.1,1720.8 274.1,1720S290.2,1719.3 298.2,1719.5S314.3,1719.8 322.3,1719.8S338.4,1719.9 346.4,1719.8S362.4,1719.6 370.5,1719.5S386.5,1719.2 394.6,1719S410.6,1718.6 418.6,1718.5S434.7,1718.1 442.7,1718.1S458.8,1718.2 466.8,1718.7S482.9,1720.2 490.9,1721.7S507,1725.5 515,1727.3S531,1730.6 539.1,1730.2S555.1,1727.5 563.2,1723.8S579.2,1715.1 587.2,1709S603.3,1695.9 611.3,1689.2S627.4,1676.1 635.4,1671.4S651.5,1663.8 659.5,1662.3S675.5,1660.9 683.6,1662.1S699.6,1664.9 707.7,1664.8S723.7,1663.5 731.7,1662S747.8,1658.8 755.8,1655.6C759.8,1654 763.9,1652.1 767.9,1649S775.9,1641.8 779.9,1636.9S787.9,1626.4 792,1620.4S800,1608.4 804,1602.2S812,1589.9 816,1583.8S824.1,1571.6 828.1,1565.7S836.1,1554.2 840.1,1549S848.1,1539.2 852.2,1535.3S860.2,1528.3 864.2,1526.3S872.2,1523.3 876.2,1523.6S884.3,1525.7 888.3,1529S896.3,1537.3 900.3,1544.2S908.4,1560.2 912.4,1571.8S920.4,1597.9 924.4,1614.6S932.4,1650 936.5,1669.7S944.5,1710 948.5,1730.1L948.5,1733.7C944.5,1713.6 940.5,1693.1 936.5,1673.5S928.4,1635.1 924.4,1618.4S916.4,1587.2 912.4,1575.6S904.3,1555 900.3,1548S892.3,1536.2 888.3,1532.9S880.3,1527.7 876.2,1527.3S868.2,1527.6 864.2,1529.5S856.2,1534.3 852.2,1538S844.1,1546.1 840.1,1551S832.1,1561.2 828.1,1566.8S820,1578.1 816,1583.9S808,1595.5 804,1601.2S796,1612.6 792,1618.1S783.9,1628.6 779.9,1633.1S771.9,1641.5 767.9,1644.5S759.8,1649.5 755.8,1651.1C747.8,1654.4 739.8,1656.1 731.7,1657.3S715.7,1659.1 707.7,1659S691.6,1657.4 683.6,1656.5S667.5,1655.5 659.5,1656.9S643.4,1661.2 635.4,1665.9S619.3,1677 611.3,1684S595.3,1698.3 587.2,1704.8S571.2,1717 563.2,1721.1S547.1,1727.8 539.1,1728.3S523,1727.2 515,1725.1S498.9,1720.3 490.9,1718.7S474.8,1716.1 466.8,1715.6S450.8,1715.1 442.7,1715.2S426.7,1715.7 418.6,1716S402.6,1716.4 394.6,1716.6S378.5,1716.8 370.5,1716.9S354.4,1716.9 346.4,1716.8S330.3,1716.5 322.3,1716.3S306.2,1715.6 298.2,1715.2S282.2,1714.5 274.1,1715.2S258.1,1717.6 250.1,1721.2S234,1730.2 226,1737S209.9,1752.4 201.9,1762.2C197.9,1767.1 193.9,1772.3 189.8,1777.8C187.8,1780.6 185.8,1783.4 183.8,1786.4S179.8,1792.3 177.8,1795.4Z" fill="#f57145" stroke="#f57145"/>
<path d="M177.8,1795.4C179.8,1792.3 181.8,1789.3 183.8,1786.4S187.8,1780.6 189.8,1777.8C193.9,1772.3 197.9,1767.1 201.9,1762.2C209.9,1752.4 217.9,1743.9 226,1737S242,1724.8 250.1,1721.2S266.1,1715.8 274.1,1715.2S290.2,1714.8 298.2,1715.2S314.3,1716 322.3,1716.3S338.4,1716.7 346.4,1716.8S362.4,1716.9 370.5,1716.9S386.5,1716.7 394.6,1716.6S410.6,1716.2 418.6,1716S434.7,1715.4 442.7,1715.2S458.8,1715.1 466.8,1715.6S482.9,1717 490.9,1718.7S507,1722.9 515,1725.1S531,1728.8 539.1,1728.3S555.1,1725.2 563.2,1721.1S579.2,1711.4 587.2,1704.8S603.3,1690.9 611.3,1684S627.4,1670.5 635.4,1665.9S651.5,1658.4 659.5,1656.9S675.5,1655.5 683.6,1656.5S699.6,1658.8 707.7,1659S723.7,1658.4 731.7,1657.3S747.8,1654.4 755.8,1651.1C759.8,1649.5 763.9,1647.4 767.9,1644.5S775.9,1637.7 779.9,1633.1S787.9,1623.5 792,1618.1S800,1606.9 804,1601.2S812,1589.7 816,1583.9S824.1,1572.4 828.1,1566.8S836.1,1555.9 840.1,1551S848.1,1541.7 852.2,1538S860.2,1531.4 864.2,1529.5S872.2,1526.8 876.2,1527.3S884.3,1529.5 888.3,1532.9S896.3,1541.1 900.3,1548S908.4,1563.9 912.4,1575.6S920.4,1601.8 924.4,1618.4S932.4,1653.9 936.5,1673.5S944.5,1713.6 948.5,1733.7L948.5,1737.2C944.5,1717.2 940.5,1696.8 936.5,1677.3S928.4,1639 924.4,1622.3S916.4,1591 912.4,1579.3S904.3,1558.7 900.3,1551.8S892.3,1540.1 888.3,1536.7S880.3,1531.5 876.2,1530.9S868.2,1531 864.2,1532.8S856.2,1537.2 852.2,1540.7S844.1,1548.3 840.1,1552.9S832.1,1562.6 828.1,1567.9S820,1578.6 816,1584S808,1594.9 804,1600.2S796,1610.7 792,1615.7S783.9,1625.3 779.9,1629.4S771.9,1637.1 767.9,1639.9S759.8,1644.9 755.8,1646.6C747.8,1649.9 739.8,1651.6 731.7,1652.5S715.7,1653.6 707.7,1653.1S691.6,1651.6 683.6,1650.9S667.5,1650.2 659.5,1651.6S643.4,1655.7 635.4,1660.3S619.3,1671.6 611.3,1678.8S595.3,1693.7 587.2,1700.7S571.2,1713.8 563.2,1718.4S547.1,1726 539.1,1726.5S523,1725.2 515,1722.8S498.9,1717.4 490.9,1715.7S474.8,1712.9 466.8,1712.5S450.8,1712.1 442.7,1712.4S426.7,1713.1 418.6,1713.4S402.6,1714 394.6,1714.1S378.5,1714.3 370.5,1714.3S354.4,1714.1 346.4,1713.8S330.3,1713.2 322.3,1712.7S306.2,1711.6 298.2,1711S282.2,1709.7 274.1,1710.3S258.1,1712.6 250.1,1716.4S234,1725.9 226,1733.3S209.9,1749.8 201.9,1760.2C197.9,1765.4 193.9,1770.9 189.8,1776.8C187.8,1779.7 185.8,1782.7 183.8,1785.8S179.8,1792.1 177.8,1795.3Z" fill="#f67c4a" stroke="#f67c4a"/>
<path d="M177.8,1795.3C179.8,1792.1 181.8,1788.9 183.8,1785.8S187.8,1779.7 189.8,1776.8C193.9,1770.9 197.9,1765.4 201.9,1760.2C209.9,1749.8 217.9,1740.7 226,1733.3S242,1720.2 250.1,1716.4S266.1,1710.8 274.1,1710.3S290.2,1710.3 298.2,1711S314.3,1712.2 322.3,1712.7S338.4,1713.5 346.4,1713.8S362.4,1714.2 370.5,1714.3S386.5,1714.3 394.6,1714.1S410.6,1713.8 418.6,1713.4S434.7,1712.7 442.7,1712.4S458.8,1712.1 466.8,1712.5S482.9,1713.9 490.9,1715.7S507,1720.4 515,1722.8S531,1727.1 539.1,1726.5S555.1,1723 563.2,1718.4S579.2,1707.6 587.2,1700.7S603.3,1686 611.3,1678.8S627.4,1665 635.4,1660.3S651.5,1652.9 659.5,1651.6S675.5,1650.2 683.6,1650.9S699.6,1652.7 707.7,1653.1S723.7,1653.4 731.7,1652.5S747.8,1649.9 755.8,1646.6C759.8,1644.9 763.9,1642.8 767.9,1639.9S775.9,1633.5 779.9,1629.4S787.9,1620.6 792,1615.7S800,1605.5 804,1600.2S812,1589.4 816,1584S824.1,1573.2 828.1,1567.9S836.1,1557.6 840.1,1552.9S848.1,1544.1 852.2,1540.7S860.2,1534.5 864.2,1532.8S872.2,1530.3 876.2,1530.9S884.3,1533.3 888.3,1536.7S896.3,1545 900.3,1551.8S908.4,1567.7 912.4,1579.3S920.4,1605.6 924.4,1622.3S932.4,1657.7 936.5,1677.3S944.5,1717.2 948.5,1737.2L948.5,1740.8C944.5,1720.8 940.5,1700.5 936.5,1681S928.4,1642.9 924.4,1626.2S916.4,1594.8 912.4,1583.1S904.3,1562.5 900.3,1555.6S892.3,1543.9 888.3,1540.5S880.3,1535.2 876.2,1534.5S868.2,1534.4 864.2,1536S856.2,1540.1 852.2,1543.3S844.1,1550.5 840.1,1554.9S832.1,1564 828.1,1569S820,1579.1 816,1584.1S808,1594.3 804,1599.2S796,1608.8 792,1613.3S783.9,1621.9 779.9,1625.6S771.9,1632.6 767.9,1635.4S759.8,1640.3 755.8,1642C747.8,1645.5 739.8,1647.1 731.7,1647.8S715.7,1648 707.7,1647.3S691.6,1645.7 683.6,1645.2S667.5,1644.8 659.5,1646.2S643.4,1650.1 635.4,1654.8S619.3,1666.2 611.3,1673.6S595.3,1689.1 587.2,1696.5S571.2,1710.7 563.2,1715.7S547.1,1724.1 539.1,1724.7S523,1723.3 515,1720.5S498.9,1714.6 490.9,1712.6S474.8,1709.7 466.8,1709.4S450.8,1709.2 442.7,1709.6S426.7,1710.5 418.6,1710.9S402.6,1711.6 394.6,1711.7S378.5,1711.8 370.5,1711.6S354.4,1711.2 346.4,1710.8S330.3,1709.8 322.3,1709.2S306.2,1707.6 298.2,1706.7S282.2,1705 274.1,1705.4S258.1,1707.6 250.1,1711.6S234,1721.7 226,1729.6S209.9,1747.1 201.9,1758.2C197.9,1763.7 193.9,1769.6 189.8,1775.8C187.8,1778.9 185.8,1782 183.8,1785.3S179.8,1791.8 177.8,1795.2Z" fill="#f8884f" stroke="#f8884f"/>
<path d="M177.8,1795.2C179.8,1791.8 181.8,1788.5 183.8,1785.3S187.8,1778.9 189.8,1775.8C193.9,1769.6 197.9,1763.7 201.9,1758.2C209.9,1747.1 217.9,1737.5 226,1729.6S242,1715.6 250.1,1711.6S266.1,1705.8 274.1,1705.4S290.2,1705.8 298.2,1706.7S314.3,1708.5 322.3,1709.2S338.4,1710.4 346.4,1710.8S362.4,1711.5 370.5,1711.6S386.5,1711.8 394.6,1711.7S410.6,1711.3 418.6,1710.9S434.7,1710 442.7,1709.6S458.8,1709 466.8,1709.4S482.9,1710.7 490.9,1712.6S507,1717.8 515,1720.5S531,1725.3 539.1,1724.7S555.1,1720.8 563.2,1715.7S579.2,1703.9 587.2,1696.5S603.3,1681 611.3,1673.6S627.4,1659.5 635.4,1654.8S651.5,1647.5 659.5,1646.2S675.5,1644.8 683.6,1645.2S699.6,1646.6 707.7,1647.3S723.7,1648.4 731.7,1647.8S747.8,1645.5 755.8,1642C759.8,1640.3 763.9,1638.1 767.9,1635.4S775.9,1629.3 779.9,1625.6S787.9,1617.7 792,1613.3S800,1604.1 804,1599.2S812,1589.2 816,1584.1S824.1,1574 828.1,1569S836.1,1559.2 840.1,1554.9S848.1,1546.6 852.2,1543.3S860.2,1537.6 864.2,1536S872.2,1533.9 876.2,1534.5S884.3,1537.1 888.3,1540.5S896.3,1548.8 900.3,1555.6S908.4,1571.4 912.4,1583.1S920.4,1609.5 924.4,1626.2S932.4,1661.5 936.5,1681S944.5,1720.8 948.5,1740.8L948.5,1746.8C944.5,1724.4 940.5,1702.8 936.5,1683.1S928.4,1645.6 924.4,1630.4S916.4,1600.4 912.4,1588S904.3,1566.8 900.3,1560S892.3,1547.9 888.3,1544.3S880.3,1538.8 876.2,1538S868.2,1537.9 864.2,1539.3S856.2,1543.2 852.2,1546.2S844.1,1552.7 840.1,1556.5S832.1,1564.7 828.1,1569.3S820,1579 816,1584.2S808,1594.4 804,1599.1S796,1608.3 792,1612.5S783.9,1620.6 779.9,1624.2S771.9,1631.1 767.9,1633.8S759.8,1638.8 755.8,1640.5C747.8,1644 739.8,1645.5 731.7,1645.9S715.7,1645.7 707.7,1644.8S691.6,1642.8 683.6,1642.3S667.5,1641.9 659.5,1643.4S643.4,1647.7 635.4,1652.5S619.3,1664.2 611.3,1672S595.3,1688.2 587.2,1695.9S571.2,1710.3 563.2,1715.3S547.1,1723.4 539.1,1723.9S523,1722.2 515,1719.4S498.9,1713.4 490.9,1711.4S474.8,1708.4 466.8,1708S450.8,1707.8 442.7,1708.2S426.7,1709.1 418.6,1709.5S402.6,1710.1 394.6,1710.2S378.5,1710.3 370.5,1710.1S354.4,1709.6 346.4,1709.2S330.3,1708.1 322.3,1707.4S306.2,1705.7 298.2,1704.7S282.2,1702.8 274.1,1703.2S258.1,1705.2 250.1,1709.2S234,1719.5 226,1727.6S209.9,1745.5 201.9,1756.9C197.9,1762.6 193.9,1768.7 189.8,1775.1C187.8,1778.3 185.8,1781.5 183.8,1784.9S179.8,1791.7 177.8,1795.2Z" fill="#fecf80" stroke="#fecf80"/>
<path d="M177.8,1795.2C179.8,1791.7 181.8,1788.3 183.8,1784.9S187.8,1778.3 189.8,1775.1C193.9,1768.7 197.9,1762.6 201.9,1756.9C209.9,1745.5 217.9,1735.6 226,1727.6S242,1713.3 250.1,1709.2S266.1,1703.5 274.1,1703.2S290.2,1703.7 298.2,1704.7S314.3,1706.6 322.3,1707.4S338.4,1708.7 346.4,1709.2S362.4,1710 370.5,1710.1S386.5,1710.3 394.6,1710.2S410.6,1709.9 418.6,1709.5S434.7,1708.6 442.7,1708.2S458.8,1707.6 466.8,1708S482.9,1709.4 490.9,1711.4S507,1716.7 515,1719.4S531,1724.4 539.1,1723.9S555.1,1720.2 563.2,1715.3S579.2,1703.6 587.2,1695.9S603.3,1679.7 611.3,1672S627.4,1657.4 635.4,1652.5S651.5,1644.9 659.5,1643.4S675.5,1641.8 683.6,1642.3S699.6,1643.9 707.7,1644.8S723.7,1646.4 731.7,1645.9S747.8,1644 755.8,1640.5C759.8,1638.8 763.9,1636.6 767.9,1633.8S775.9,1627.8 779.9,1624.2S787.9,1616.7 792,1612.5S800,1603.9 804,1599.1S812,1589.3 816,1584.2S824.1,1573.9 828.1,1569.3S836.1,1560.4 840.1,1556.5S848.1,1549.1 852.2,1546.2S860.2,1540.8 864.2,1539.3S872.2,1537.3 876.2,1538S884.3,1540.7 888.3,1544.3S896.3,1553.3 900.3,1560S908.4,1575.6 912.4,1588S920.4,1615.2 924.4,1630.4S932.4,1663.3 936.5,1683.1S944.5,1724.4 948.5,1746.8L948.5,1752.9C944.5,1728.1 940.5,1705.2 936.5,1685.1S928.4,1648.2 924.4,1634.6S916.4,1606 912.4,1592.9S904.3,1571.1 900.3,1564.4S892.3,1551.9 888.3,1548.2S880.3,1542.3 876.2,1541.6S868.2,1541.3 864.2,1542.7S856.2,1546.3 852.2,1549S844.1,1554.8 840.1,1558.2S832.1,1565.3 828.1,1569.6S820,1579 816,1584.2S808,1594.5 804,1599.1S796,1607.9 792,1611.8S783.9,1619.4 779.9,1622.9S771.9,1629.6 767.9,1632.3S759.8,1637.3 755.8,1639C747.8,1642.5 739.8,1643.9 731.7,1644.1S715.7,1643.5 707.7,1642.4S691.6,1640 683.6,1639.4S667.5,1639 659.5,1640.6S643.4,1645.3 635.4,1650.3S619.3,1662.3 611.3,1670.3S595.3,1687.4 587.2,1695.3S571.2,1710 563.2,1714.9S547.1,1722.7 539.1,1723.1S523,1721.2 515,1718.3S498.9,1712.1 490.9,1710.1S474.8,1707.1 466.8,1706.7S450.8,1706.4 442.7,1706.8S426.7,1707.7 418.6,1708.1S402.6,1708.7 394.6,1708.8S378.5,1708.8 370.5,1708.6S354.4,1708.1 346.4,1707.6S330.3,1706.4 322.3,1705.6S306.2,1703.8 298.2,1702.7S282.2,1700.6 274.1,1700.9S258.1,1702.8 250.1,1706.9S234,1717.3 226,1725.5S209.9,1743.9 201.9,1755.6C197.9,1761.5 193.9,1767.7 189.8,1774.4C187.8,1777.7 185.8,1781 183.8,1784.5S179.8,1791.6 177.8,1795.2Z" fill="#fed586" stroke="#fed586"/>
<path d="M177.8,1795.2C179.8,1791.6 181.8,1788 183.8,1784.5S187.8,1777.7 189.8,1774.4C193.9,1767.7 197.9,1761.5 201.9,1755.6C209.9,1743.9 217.9,1733.8 226,1725.5S242,1711 250.1,1706.9S266.1,1701.2 274.1,1700.9S290.2,1701.6 298.2,1702.7S314.3,1704.8 322.3,1705.6S338.4,1707.1 346.4,1707.6S362.4,1708.4 370.5,1708.6S386.5,1708.9 394.6,1708.8S410.6,1708.5 418.6,1708.1S434.7,1707.2 442.7,1706.8S458.8,1706.2 466.8,1706.7S482.9,1708.1 490.9,1710.1S507,1715.5 515,1718.3S531,1723.5 539.1,1723.1S555.1,1719.7 563.2,1714.9S579.2,1703.2 587.2,1695.3S603.3,1678.3 611.3,1670.3S627.4,1655.3 635.4,1650.3S651.5,1642.3 659.5,1640.6S675.5,1638.8 683.6,1639.4S699.6,1641.3 707.7,1642.4S723.7,1644.4 731.7,1644.1S747.8,1642.5 755.8,1639C759.8,1637.3 763.9,1635 767.9,1632.3S775.9,1626.3 779.9,1622.9S787.9,1615.7 792,1611.8S800,1603.7 804,1599.1S812,1589.4 816,1584.2S824.1,1573.9 828.1,1569.6S836.1,1561.6 840.1,1558.2S848.1,1551.7 852.2,1549S860.2,1544 864.2,1542.7S872.2,1540.8 876.2,1541.6S884.3,1544.4 888.3,1548.2S896.3,1557.8 900.3,1564.4S908.4,1579.8 912.4,1592.9S920.4,1620.9 924.4,1634.6S932.4,1665.1 936.5,1685.1S944.5,1728.1 948.5,1752.9L948.5,1759C944.5,1731.8 940.5,1707.5 936.5,1687.2S928.4,1650.9 924.4,1638.8S916.4,1611.6 912.4,1597.8S904.3,1575.4 900.3,1568.8S892.3,1555.9 888.3,1552S880.3,1545.9 876.2,1545.1S868.2,1544.7 864.2,1546S856.2,1549.4 852.2,1551.9S844.1,1557 840.1,1559.9S832.1,1565.9 828.1,1569.9S820,1579 816,1584.2S808,1594.6 804,1599S796,1607.4 792,1611.1S783.9,1618.2 779.9,1621.5S771.9,1628 767.9,1630.7S759.8,1635.7 755.8,1637.5C747.8,1641 739.8,1642.2 731.7,1642.3S715.7,1641.2 707.7,1639.9S691.6,1637.1 683.6,1636.5S667.5,1636.1 659.5,1637.9S643.4,1642.8 635.4,1648S619.3,1660.4 611.3,1668.7S595.3,1686.5 587.2,1694.7S571.2,1709.6 563.2,1714.4S547.1,1722.1 539.1,1722.3S523,1720.1 515,1717.2S498.9,1710.9 490.9,1708.9S474.8,1705.8 466.8,1705.3S450.8,1705 442.7,1705.4S426.7,1706.3 418.6,1706.7S402.6,1707.2 394.6,1707.3S378.5,1707.3 370.5,1707.1S354.4,1706.5 346.4,1705.9S330.3,1704.7 322.3,1703.8S306.2,1701.9 298.2,1700.7S282.2,1698.4 274.1,1698.6S258.1,1700.4 250.1,1704.6S234,1715.1 226,1723.5S209.9,1742.3 201.9,1754.3C197.9,1760.4 193.9,1766.8 189.8,1773.6C187.8,1777 185.8,1780.6 183.8,1784.1S179.8,1791.4 177.8,1795.2Z" fill="#fedc8c" stroke="#fedc8c"/>
<path d="M177.8,1795.2C179.8,1791.4 181.8,1787.7 183.8,1784.1S187.8,1777 189.8,1773.6C193.9,1766.8 197.9,1760.4 201.9,1754.3C209.9,1742.3 217.9,1731.9 226,1723.5S242,1708.7 250.1,1704.6S266.1,1698.8 274.1,1698.6S290.2,1699.5 298.2,1700.7S314.3,1702.9 322.3,1703.8S338.4,1705.4 346.4,1705.9S362.4,1706.9 370.5,1707.1S386.5,1707.4 394.6,1707.3S410.6,1707 418.6,1706.7S434.7,1705.8 442.7,1705.4S458.8,1704.9 466.8,1705.3S482.9,1706.8 490.9,1708.9S507,1714.3 515,1717.2S531,1722.5 539.1,1722.3S555.1,1719.2 563.2,1714.4S579.2,1702.8 587.2,1694.7S603.3,1677 611.3,1668.7S627.4,1653.2 635.4,1648S651.5,1639.6 659.5,1637.9S675.5,1635.9 683.6,1636.5S699.6,1638.6 707.7,1639.9S723.7,1642.3 731.7,1642.3S747.8,1641 755.8,1637.5C759.8,1635.7 763.9,1633.5 767.9,1630.7S775.9,1624.9 779.9,1621.5S787.9,1614.7 792,1611.1S800,1603.5 804,1599S812,1589.4 816,1584.2S824.1,1573.9 828.1,1569.9S836.1,1562.8 840.1,1559.9S848.1,1554.3 852.2,1551.9S860.2,1547.3 864.2,1546S872.2,1544.2 876.2,1545.1S884.3,1548.1 888.3,1552S896.3,1562.2 900.3,1568.8S908.4,1584 912.4,1597.8S920.4,1626.6 924.4,1638.8S932.4,1666.9 936.5,1687.2S944.5,1731.8 948.5,1759L948.5,1765.1C944.5,1735.4 940.5,1709.8 936.5,1689.2S928.4,1653.6 924.4,1643S916.4,1617.2 912.4,1602.7S904.3,1579.7 900.3,1573.2S892.3,1559.9 888.3,1555.8S880.3,1549.5 876.2,1548.6S868.2,1548.1 864.2,1549.3S856.2,1552.5 852.2,1554.7S844.1,1559.2 840.1,1561.6S832.1,1566.6 828.1,1570.2S820,1578.9 816,1584.2S808,1594.7 804,1599S796,1606.9 792,1610.3S783.9,1616.9 779.9,1620.2S771.9,1626.5 767.9,1629.2S759.8,1634.2 755.8,1636C747.8,1639.4 739.8,1640.6 731.7,1640.5S715.7,1639 707.7,1637.5S691.6,1634.3 683.6,1633.6S667.5,1633.2 659.5,1635.1S643.4,1640.4 635.4,1645.7S619.3,1658.4 611.3,1667.1S595.3,1685.7 587.2,1694.1S571.2,1709.3 563.2,1714S547.1,1721.4 539.1,1721.5S523,1719.1 515,1716.1S498.9,1709.7 490.9,1707.6S474.8,1704.4 466.8,1704S450.8,1703.7 442.7,1704S426.7,1704.9 418.6,1705.2S402.6,1705.8 394.6,1705.8S378.5,1705.8 370.5,1705.6S354.4,1704.9 346.4,1704.3S330.3,1703 322.3,1702S306.2,1699.9 298.2,1698.7S282.2,1696.2 274.1,1696.3S258.1,1698.1 250.1,1702.2S234,1712.9 226,1721.5S209.9,1740.7 201.9,1753.1C197.9,1759.3 193.9,1765.9 189.8,1772.9C187.8,1776.4 185.8,1780.1 183.8,1783.8S179.8,1791.3 177.8,1795.2Z" fill="#fee192" stroke="#fee192"/>
<path d="M177.8,1795.2C179.8,1791.3 181.8,1787.5 183.8,1783.8S187.8,1776.4 189.8,1772.9C193.9,1765.9 197.9,1759.3 201.9,1753.1C209.9,1740.7 217.9,1730 226,1721.5S242,1706.4 250.1,1702.2S266.1,1696.5 274.1,1696.3S290.2,1697.4 298.2,1698.7S314.3,1701.1 322.3,1702S338.4,1703.7 346.4,1704.3S362.4,1705.3 370.5,1705.6S386.5,1705.9 394.6,1705.8S410.6,1705.6 418.6,1705.2S434.7,1704.4 442.7,1704S458.8,1703.5 466.8,1704S482.9,1705.5 490.9,1707.6S507,1713.1 515,1716.1S531,1721.6 539.1,1721.5S555.1,1718.7 563.2,1714S579.2,1702.5 587.2,1694.1S603.3,1675.7 611.3,1667.1S627.4,1651.1 635.4,1645.7S651.5,1637 659.5,1635.1S675.5,1632.9 683.6,1633.6S699.6,1635.9 707.7,1637.5S723.7,1640.3 731.7,1640.5S747.8,1639.4 755.8,1636C759.8,1634.2 763.9,1631.9 767.9,1629.2S775.9,1623.4 779.9,1620.2S787.9,1613.8 792,1610.3S800,1603.2 804,1599S812,1589.5 816,1584.2S824.1,1573.9 828.1,1570.2S836.1,1563.9 840.1,1561.6S848.1,1556.9 852.2,1554.7S860.2,1550.5 864.2,1549.3S872.2,1547.7 876.2,1548.6S884.3,1551.7 888.3,1555.8S896.3,1566.7 900.3,1573.2S908.4,1588.2 912.4,1602.7S920.4,1632.4 924.4,1643S932.4,1668.6 936.5,1689.2S944.5,1735.4 948.5,1765.1L948.5,1771.1C944.5,1739.1 940.5,1712.2 936.5,1691.3S928.4,1656.3 924.4,1647.2S916.4,1622.9 912.4,1607.6S904.3,1584 900.3,1577.6S892.3,1563.9 888.3,1559.7S880.3,1553.1 876.2,1552.1S868.2,1551.5 864.2,1552.7S856.2,1555.6 852.2,1557.6S844.1,1561.4 840.1,1563.2S832.1,1567.2 828.1,1570.6S820,1578.9 816,1584.2S808,1594.8 804,1598.9S796,1606.4 792,1609.6S783.9,1615.7 779.9,1618.8S771.9,1624.9 767.9,1627.6S759.8,1632.7 755.8,1634.5C747.8,1637.9 739.8,1638.9 731.7,1638.6S715.7,1636.7 707.7,1635S691.6,1631.4 683.6,1630.7S667.5,1630.3 659.5,1632.3S643.4,1637.9 635.4,1643.5S619.3,1656.5 611.3,1665.4S595.3,1684.8 587.2,1693.4S571.2,1708.9 563.2,1713.6S547.1,1720.7 539.1,1720.7S523,1718.1 515,1715S498.9,1708.5 490.9,1706.4S474.8,1703.1 466.8,1702.6S450.8,1702.3 442.7,1702.6S426.7,1703.5 418.6,1703.8S402.6,1704.3 394.6,1704.4S378.5,1704.3 370.5,1704S354.4,1703.3 346.4,1702.7S330.3,1701.3 322.3,1700.3S306.2,1698 298.2,1696.7S282.2,1694 274.1,1694.1S258.1,1695.7 250.1,1699.9S234,1710.7 226,1719.4S209.9,1739.1 201.9,1751.8C197.9,1758.1 193.9,1765 189.8,1772.2C187.8,1775.8 185.8,1779.6 183.8,1783.4S179.8,1791.1 177.8,1795.2Z" fill="#feefa6" stroke="#feefa6"/>
<path d="M177.8,1795.2C179.8,1791.1 181.8,1787.2 183.8,1783.4S187.8,1775.8 189.8,1772.2C193.9,1765 197.9,1758.1 201.9,1751.8C209.9,1739.1 217.9,1728.2 226,1719.4S242,1704.1 250.1,1699.9S266.1,1694.2 274.1,1694.1S290.2,1695.3 298.2,1696.7S314.3,1699.3 322.3,1700.3S338.4,1702.1 346.4,1702.7S362.4,1703.8 370.5,1704S386.5,1704.4 394.6,1704.4S410.6,1704.1 418.6,1703.8S434.7,1703 442.7,1702.6S458.8,1702.2 466.8,1702.6S482.9,1704.2 490.9,1706.4S507,1712 515,1715S531,1720.6 539.1,1720.7S555.1,1718.2 563.2,1713.6S579.2,1702.1 587.2,1693.4S603.3,1674.4 611.3,1665.4S627.4,1649 635.4,1643.5S651.5,1634.3 659.5,1632.3S675.5,1629.9 683.6,1630.7S699.6,1633.3 707.7,1635S723.7,1638.3 731.7,1638.6S747.8,1637.9 755.8,1634.5C759.8,1632.7 763.9,1630.4 767.9,1627.6S775.9,1621.9 779.9,1618.8S787.9,1612.8 792,1609.6S800,1603 804,1598.9S812,1589.6 816,1584.2S824.1,1573.9 828.1,1570.6S836.1,1565.1 840.1,1563.2S848.1,1559.5 852.2,1557.6S860.2,1553.8 864.2,1552.7S872.2,1551.1 876.2,1552.1S884.3,1555.4 888.3,1559.7S896.3,1571.2 900.3,1577.6S908.4,1592.4 912.4,1607.6S920.4,1638.1 924.4,1647.2S932.4,1670.4 936.5,1691.3S944.5,1739.1 948.5,1771.1L948.5,1777.2C944.5,1742.8 940.5,1714.5 936.5,1693.4S928.4,1659 924.4,1651.4S916.4,1628.5 912.4,1612.6S904.3,1588.3 900.3,1582S892.3,1567.9 888.3,1563.5S880.3,1556.6 876.2,1555.6S868.2,1555 864.2,1556S856.2,1558.7 852.2,1560.4S844.1,1563.5 840.1,1564.9S832.1,1567.9 828.1,1570.9S820,1578.9 816,1584.3S808,1594.9 804,1598.9S796,1606 792,1608.9S783.9,1614.5 779.9,1617.4S771.9,1623.4 767.9,1626.1S759.8,1631.2 755.8,1632.9C747.8,1636.4 739.8,1637.3 731.7,1636.8S715.7,1634.5 707.7,1632.5S691.6,1628.6 683.6,1627.8S667.5,1627.4 659.5,1629.5S643.4,1635.5 635.4,1641.2S619.3,1654.5 611.3,1663.8S595.3,1683.9 587.2,1692.8S571.2,1708.6 563.2,1713.1S547.1,1720 539.1,1719.9S523,1717 515,1713.9S498.9,1707.3 490.9,1705.1S474.8,1701.8 466.8,1701.3S450.8,1700.9 442.7,1701.2S426.7,1702.1 418.6,1702.4S402.6,1702.9 394.6,1702.9S378.5,1702.8 370.5,1702.5S354.4,1701.7 346.4,1701.1S330.3,1699.6 322.3,1698.5S306.2,1696.1 298.2,1694.7S282.2,1691.8 274.1,1691.8S258.1,1693.3 250.1,1697.5S234,1708.5 226,1717.4S209.9,1737.4 201.9,1750.5C197.9,1757 193.9,1764 189.8,1771.5C187.8,1775.2 185.8,1779.1 183.8,1783S179.8,1791 177.8,1795.2Z" fill="#fff3ad" stroke="#fff3ad"/>
<path d="M177.8,1795.2C179.8,1791 181.8,1786.9 183.8,1783S187.8,1775.2 189.8,1771.5C193.9,1764 197.9,1757 201.9,1750.5C209.9,1737.4 217.9,1726.3 226,1717.4S242,1701.8 250.1,1697.5S266.1,1691.8 274.1,1691.8S290.2,1693.2 298.2,1694.7S314.3,1697.4 322.3,1698.5S338.4,1700.4 346.4,1701.1S362.4,1702.2 370.5,1702.5S386.5,1703 394.6,1702.9S410.6,1702.7 418.6,1702.4S434.7,1701.6 442.7,1701.2S458.8,1700.8 466.8,1701.3S482.9,1702.9 490.9,1705.1S507,1710.8 515,1713.9S531,1719.7 539.1,1719.9S555.1,1717.7 563.2,1713.1S579.2,1701.7 587.2,1692.8S603.3,1673 611.3,1663.8S627.4,1646.9 635.4,1641.2S651.5,1631.7 659.5,1629.5S675.5,1626.9 683.6,1627.8S699.6,1630.6 707.7,1632.5S723.7,1636.3 731.7,1636.8S747.8,1636.4 755.8,1632.9C759.8,1631.2 763.9,1628.8 767.9,1626.1S775.9,1620.4 779.9,1617.4S787.9,1611.8 792,1608.9S800,1602.8 804,1598.9S812,1589.7 816,1584.3S824.1,1573.9 828.1,1570.9S836.1,1566.3 840.1,1564.9S848.1,1562.1 852.2,1560.4S860.2,1557 864.2,1556S872.2,1554.6 876.2,1555.6S884.3,1559 888.3,1563.5S896.3,1575.7 900.3,1582S908.4,1596.6 912.4,1612.6S920.4,1643.8 924.4,1651.4S932.4,1672.2 936.5,1693.4S944.5,1742.8 948.5,1777.2L948.5,1783.3C944.5,1746.4 940.5,1716.9 936.5,1695.4S928.4,1661.7 924.4,1655.6S916.4,1634.1 912.4,1617.5S904.3,1592.6 900.3,1586.4S892.3,1571.9 888.3,1567.3S880.3,1560.2 876.2,1559.1S868.2,1558.4 864.2,1559.3S856.2,1561.8 852.2,1563.3S844.1,1565.7 840.1,1566.6S832.1,1568.5 828.1,1571.2S820,1578.8 816,1584.3S808,1595 804,1598.8S796,1605.5 792,1608.1S783.9,1613.2 779.9,1616.1S771.9,1621.9 767.9,1624.6S759.8,1629.7 755.8,1631.4C747.8,1634.9 739.8,1635.6 731.7,1635S715.7,1632.2 707.7,1630.1S691.6,1625.7 683.6,1624.8S667.5,1624.5 659.5,1626.8S643.4,1633.1 635.4,1638.9S619.3,1652.6 611.3,1662.1S595.3,1683.1 587.2,1692.2S571.2,1708.2 563.2,1712.7S547.1,1719.3 539.1,1719S523,1716 515,1712.8S498.9,1706.1 490.9,1703.8S474.8,1700.5 466.8,1700S450.8,1699.5 442.7,1699.8S426.7,1700.7 418.6,1701S402.6,1701.4 394.6,1701.5S378.5,1701.3 370.5,1701S354.4,1700.2 346.4,1699.5S330.3,1697.8 322.3,1696.7S306.2,1694.2 298.2,1692.7S282.2,1689.6 274.1,1689.5S258.1,1691 250.1,1695.2S234,1706.3 226,1715.3S209.9,1735.8 201.9,1749.2C197.9,1755.9 193.9,1763.1 189.8,1770.8C187.8,1774.6 185.8,1778.6 183.8,1782.6S179.8,1790.9 177.8,1795.1Z" fill="#fff8b4" stroke="#fff8b4"/>
<path d="M177.8,1795.1C179.8,1790.9 181.8,1786.7 183.8,1782.6S187.8,1774.6 189.8,1770.8C193.9,1763.1 197.9,1755.9 201.9,1749.2C209.9,1735.8 217.9,1724.4 226,1715.3S242,1699.4 250.1,1695.2S266.1,1689.5 274.1,1689.5S290.2,1691.1 298.2,1692.7S314.3,1695.6 322.3,1696.7S338.4,1698.8 346.4,1699.5S362.4,1700.7 370.5,1701S386.5,1701.5 394.6,1701.5S410.6,1701.3 418.6,1701S434.7,1700.1 442.7,1699.8S458.8,1699.4 466.8,1700S482.9,1701.6 490.9,1703.8S507,1709.6 515,1712.8S531,1718.8 539.1,1719S555.1,1717.2 563.2,1712.7S579.2,1701.4 587.2,1692.2S603.3,1671.7 611.3,1662.1S627.4,1644.8 635.4,1638.9S651.5,1629.1 659.5,1626.8S675.5,1623.9 683.6,1624.8S699.6,1627.9 707.7,1630.1S723.7,1634.3 731.7,1635S747.8,1634.9 755.8,1631.4C759.8,1629.7 763.9,1627.3 767.9,1624.6S775.9,1618.9 779.9,1616.1S787.9,1610.8 792,1608.1S800,1602.6 804,1598.8S812,1589.8 816,1584.3S824.1,1573.9 828.1,1571.2S836.1,1567.5 840.1,1566.6S848.1,1564.7 852.2,1563.3S860.2,1560.3 864.2,1559.3S872.2,1558.1 876.2,1559.1S884.3,1562.7 888.3,1567.3S896.3,1580.2 900.3,1586.4S908.4,1600.8 912.4,1617.5S920.4,1649.5 924.4,1655.6S932.4,1674 936.5,1695.4S944.5,1746.4 948.5,1783.3L948.5,1789.4C944.5,1750.1 940.5,1719.2 936.5,1697.5S928.4,1664.4 924.4,1659.8S916.4,1639.7 912.4,1622.4S904.3,1596.9 900.3,1590.8S892.3,1575.9 888.3,1571.1S880.3,1563.8 876.2,1562.7S868.2,1561.8 864.2,1562.7S856.2,1564.9 852.2,1566.1S844.1,1567.9 840.1,1568.3S832.1,1569.1 828.1,1571.5S820,1578.8 816,1584.3S808,1595.1 804,1598.8S796,1605 792,1607.4S783.9,1612 779.9,1614.7S771.9,1620.3 767.9,1623S759.8,1628.2 755.8,1629.9C747.8,1633.4 739.8,1634 731.7,1633.1S715.7,1630 707.7,1627.6S691.6,1622.9 683.6,1621.9S667.5,1621.6 659.5,1624S643.4,1630.6 635.4,1636.7S619.3,1650.6 611.3,1660.5S595.3,1682.2 587.2,1691.6S571.2,1707.9 563.2,1712.3S547.1,1718.7 539.1,1718.2S523,1715 515,1711.7S498.9,1704.8 490.9,1702.6S474.8,1699.2 466.8,1698.6S450.8,1698.2 442.7,1698.4S426.7,1699.2 418.6,1699.5S402.6,1700 394.6,1700S378.5,1699.8 370.5,1699.5S354.4,1698.6 346.4,1697.8S330.3,1696.1 322.3,1694.9S306.2,1692.3 298.2,1690.6S282.2,1687.4 274.1,1687.3S258.1,1688.6 250.1,1692.9S234,1704 226,1713.3S209.9,1734.2 201.9,1747.9C197.9,1754.8 193.9,1762.2 189.8,1770.1C187.8,1774 185.8,1778.1 183.8,1782.2S179.8,1790.7 177.8,1795.1Z" fill="#fffdbb" stroke="#fffdbb"/>
<path d="M177.8,1795.1C179.8,1790.7 181.8,1786.4 183.8,1782.2S187.8,1774 189.8,1770.1C193.9,1762.2 197.9,1754.8 201.9,1747.9C209.9,1734.2 217.9,1722.6 226,1713.3S242,1697.1 250.1,1692.9S266.1,1687.2 274.1,1687.3S290.2,1689 298.2,1690.6S314.3,1693.7 322.3,1694.9S338.4,1697.1 346.4,1697.8S362.4,1699.1 370.5,1699.5S386.5,1700 394.6,1700S410.6,1699.8 418.6,1699.5S434.7,1698.7 442.7,1698.4S458.8,1698.1 466.8,1698.6S482.9,1700.3 490.9,1702.6S507,1708.5 515,1711.7S531,1717.8 539.1,1718.2S555.1,1716.7 563.2,1712.3S579.2,1701 587.2,1691.6S603.3,1670.4 611.3,1660.5S627.4,1642.7 635.4,1636.7S651.5,1626.4 659.5,1624S675.5,1621 683.6,1621.9S699.6,1625.3 707.7,1627.6S723.7,1632.3 731.7,1633.1S747.8,1633.4 755.8,1629.9C759.8,1628.2 763.9,1625.7 767.9,1623S775.9,1617.4 779.9,1614.7S787.9,1609.8 792,1607.4S800,1602.4 804,1598.8S812,1589.8 816,1584.3S824.1,1573.8 828.1,1571.5S836.1,1568.6 840.1,1568.3S848.1,1567.3 852.2,1566.1S860.2,1563.5 864.2,1562.7S872.2,1561.5 876.2,1562.7S884.3,1566.3 888.3,1571.1S896.3,1584.6 900.3,1590.8S908.4,1605 912.4,1622.4S920.4,1655.3 924.4,1659.8S932.4,1675.8 936.5,1697.5S944.5,1750.1 948.5,1789.4L948.5,1793.3C944.5,1757.5 940.5,1728.8 936.5,1707.6S928.4,1673.7 924.4,1666.7S916.4,1644.9 912.4,1629.2S904.3,1605.1 900.3,1598.4S892.3,1583.5 888.3,1578.4S880.3,1570.1 876.2,1568.2S868.2,1565.7 864.2,1565.8S856.2,1566.6 852.2,1567.3S844.1,1568.6 840.1,1569.2S832.1,1570.5 828.1,1572.8S820,1579.5 816,1584.4S808,1594 804,1597.6S796,1603.9 792,1606.5S783.9,1611.6 779.9,1614.3S771.9,1619.9 767.9,1622.4S759.8,1627.2 755.8,1628.7C747.8,1631.7 739.8,1631.9 731.7,1630.7S715.7,1626.8 707.7,1624.2S691.6,1619.1 683.6,1618S667.5,1617.5 659.5,1620.3S643.4,1627.9 635.4,1634.6S619.3,1649.8 611.3,1659.9S595.3,1681.4 587.2,1690.7S571.2,1707 563.2,1711.4S547.1,1717.6 539.1,1717.1S523,1713.8 515,1710.5S498.9,1703.4 490.9,1700.7S474.8,1696.2 466.8,1695.3S450.8,1694.2 442.7,1694.5S426.7,1695.3 418.6,1695.9S402.6,1696.9 394.6,1697.1S378.5,1697.4 370.5,1697.1S354.4,1696 346.4,1695S330.3,1692.7 322.3,1691.3S306.2,1688.3 298.2,1686.7S282.2,1683.9 274.1,1684S258.1,1685.8 250.1,1690.1S234,1701.1 226,1710.4S209.9,1731.4 201.9,1745.6C197.9,1752.7 193.9,1760.4 189.8,1768.8C187.8,1772.9 185.8,1777.2 183.8,1781.7S179.8,1790.8 177.8,1795.6Z" fill="#fbfec6" stroke="#fbfec6"/>
<path d="M177.8,1795.6C179.8,1790.8 181.8,1786.2 183.8,1781.7S187.8,1772.9 189.8,1768.8C193.9,1760.4 197.9,1752.7 201.9,1745.6C209.9,1731.4 217.9,1719.6 226,1710.4S242,1694.3 250.1,1690.1S266.1,1684.2 274.1,1684S290.2,1685.2 298.2,1686.7S314.3,1689.8 322.3,1691.3S338.4,1693.9 346.4,1695S362.4,1696.7 370.5,1697.1S386.5,1697.4 394.6,1697.1S410.6,1696.4 418.6,1695.9S434.7,1694.7 442.7,1694.5S458.8,1694.3 466.8,1695.3S482.9,1698 490.9,1700.7S507,1707.2 515,1710.5S531,1716.6 539.1,1717.1S555.1,1715.8 563.2,1711.4S579.2,1699.9 587.2,1690.7S603.3,1669.9 611.3,1659.9S627.4,1641.3 635.4,1634.6S651.5,1623 659.5,1620.3S675.5,1617 683.6,1618S699.6,1621.7 707.7,1624.2S723.7,1629.5 731.7,1630.7S747.8,1631.7 755.8,1628.7C759.8,1627.2 763.9,1624.9 767.9,1622.4S775.9,1617 779.9,1614.3S787.9,1609.1 792,1606.5S800,1601.1 804,1597.6S812,1589.2 816,1584.4S824.1,1575.1 828.1,1572.8S836.1,1569.7 840.1,1569.2S848.1,1568.1 852.2,1567.3S860.2,1565.9 864.2,1565.8S872.2,1566.3 876.2,1568.2S884.3,1573.3 888.3,1578.4S896.3,1591.8 900.3,1598.4S908.4,1613.5 912.4,1629.2S920.4,1659.6 924.4,1666.7S932.4,1686.5 936.5,1707.6S944.5,1757.5 948.5,1793.3L948.5,1797.2C944.5,1764.8 940.5,1738.3 936.5,1717.7S928.4,1683.1 924.4,1673.6S916.4,1650 912.4,1636S904.3,1613.2 900.3,1606.1S892.3,1591.1 888.3,1585.7S880.3,1576.4 876.2,1573.7S868.2,1569.6 864.2,1568.9S856.2,1568.2 852.2,1568.6S844.1,1569.4 840.1,1570.1S832.1,1571.9 828.1,1574.1S820,1580.2 816,1584.4S808,1592.9 804,1596.4S796,1602.8 792,1605.6S783.9,1611.2 779.9,1613.9S771.9,1619.4 767.9,1621.8S759.8,1626.2 755.8,1627.5C747.8,1630.1 739.8,1629.9 731.7,1628.3S715.7,1623.7 707.7,1620.9S691.6,1615.3 683.6,1614.1S667.5,1613.5 659.5,1616.6S643.4,1625.2 635.4,1632.6S619.3,1649.1 611.3,1659.2S595.3,1680.5 587.2,1689.7S571.2,1706.1 563.2,1710.5S547.1,1716.5 539.1,1715.9S523,1712.6 515,1709.2S498.9,1701.9 490.9,1698.8S474.8,1693.3 466.8,1691.9S450.8,1690.3 442.7,1690.5S426.7,1691.4 418.6,1692.2S402.6,1693.7 394.6,1694.3S378.5,1695 370.5,1694.7S354.4,1693.4 346.4,1692.1S330.3,1689.2 322.3,1687.6S306.2,1684.2 298.2,1682.8S282.2,1680.4 274.1,1680.8S258.1,1683 250.1,1687.3S234,1698.2 226,1707.4S209.9,1728.5 201.9,1743.2C197.9,1750.6 193.9,1758.6 189.8,1767.4C187.8,1771.8 185.8,1776.4 183.8,1781.2S179.8,1791 177.8,1796.1Z" fill="#f3fad4" stroke="#f3fad4"/>
<path d="M177.8,1796.1C179.8,1791 181.8,1786 183.8,1781.2S187.8,1771.8 189.8,1767.4C193.9,1758.6 197.9,1750.6 201.9,1743.2C209.9,1728.5 217.9,1716.7 226,1707.4S242,1691.5 250.1,1687.3S266.1,1681.2 274.1,1680.8S290.2,1681.4 298.2,1682.8S314.3,1685.9 322.3,1687.6S338.4,1690.8 346.4,1692.1S362.4,1694.3 370.5,1694.7S386.5,1694.8 394.6,1694.3S410.6,1692.9 418.6,1692.2S434.7,1690.7 442.7,1690.5S458.8,1690.6 466.8,1691.9S482.9,1695.7 490.9,1698.8S507,1705.9 515,1709.2S531,1715.4 539.1,1715.9S555.1,1714.9 563.2,1710.5S579.2,1698.9 587.2,1689.7S603.3,1669.3 611.3,1659.2S627.4,1639.9 635.4,1632.6S651.5,1619.6 659.5,1616.6S675.5,1613 683.6,1614.1S699.6,1618 707.7,1620.9S723.7,1626.7 731.7,1628.3S747.8,1630.1 755.8,1627.5C759.8,1626.2 763.9,1624.2 767.9,1621.8S775.9,1616.7 779.9,1613.9S787.9,1608.5 792,1605.6S800,1599.8 804,1596.4S812,1588.6 816,1584.4S824.1,1576.4 828.1,1574.1S836.1,1570.8 840.1,1570.1S848.1,1568.9 852.2,1568.6S860.2,1568.2 864.2,1568.9S872.2,1571.1 876.2,1573.7S884.3,1580.2 888.3,1585.7S896.3,1599 900.3,1606.1S908.4,1621.9 912.4,1636S920.4,1664 924.4,1673.6S932.4,1697.2 936.5,1717.7S944.5,1764.8 948.5,1797.2L948.5,1801.1C944.5,1772.2 940.5,1747.9 936.5,1727.9S928.4,1692.5 924.4,1680.4S916.4,1655.2 912.4,1642.8S904.3,1621.4 900.3,1613.8S892.3,1598.7 888.3,1592.9S880.3,1582.7 876.2,1579.3S868.2,1573.6 864.2,1572.1S856.2,1569.9 852.2,1569.8S844.1,1570.1 840.1,1571S832.1,1573.3 828.1,1575.5S820,1580.9 816,1584.5S808,1591.8 804,1595.2S796,1601.7 792,1604.8S783.9,1610.7 779.9,1613.5S771.9,1619 767.9,1621.2S759.8,1625.2 755.8,1626.3C747.8,1628.4 739.8,1627.8 731.7,1625.8S715.7,1620.6 707.7,1617.5S691.6,1611.5 683.6,1610.3S667.5,1609.5 659.5,1612.9S643.4,1622.5 635.4,1630.5S619.3,1648.3 611.3,1658.5S595.3,1679.7 587.2,1688.8S571.2,1705.2 563.2,1709.6S547.1,1715.4 539.1,1714.8S523,1711.4 515,1708S498.9,1700.5 490.9,1696.9S474.8,1690.4 466.8,1688.6S450.8,1686.3 442.7,1686.5S426.7,1687.5 418.6,1688.5S402.6,1690.6 394.6,1691.4S378.5,1692.6 370.5,1692.3S354.4,1690.7 346.4,1689.2S330.3,1685.7 322.3,1683.9S306.2,1680.2 298.2,1678.9S282.2,1676.9 274.1,1677.5S258.1,1680.2 250.1,1684.5S234,1695.3 226,1704.5S209.9,1725.7 201.9,1740.9C197.9,1748.5 193.9,1756.9 189.8,1766.1C187.8,1770.8 185.8,1775.6 183.8,1780.7S179.8,1791.1 177.8,1796.6Z" fill="#ecf8e3" stroke="#ecf8e3"/>
<path d="M177.8,1796.6C179.8,1791.1 181.8,1785.8 183.8,1780.7S187.8,1770.8 189.8,1766.1C193.9,1756.9 197.9,1748.5 201.9,1740.9C209.9,1725.7 217.9,1713.7 226,1704.5S242,1688.8 250.1,1684.5S266.1,1678.2 274.1,1677.5S290.2,1677.6 298.2,1678.9S314.3,1682 322.3,1683.9S338.4,1687.7 346.4,1689.2S362.4,1691.9 370.5,1692.3S386.5,1692.2 394.6,1691.4S410.6,1689.5 418.6,1688.5S434.7,1686.7 442.7,1686.5S458.8,1686.8 466.8,1688.6S482.9,1693.4 490.9,1696.9S507,1704.6 515,1708S531,1714.1 539.1,1714.8S555.1,1713.9 563.2,1709.6S579.2,1697.8 587.2,1688.8S603.3,1668.8 611.3,1658.5S627.4,1638.5 635.4,1630.5S651.5,1616.2 659.5,1612.9S675.5,1609 683.6,1610.3S699.6,1614.4 707.7,1617.5S723.7,1623.9 731.7,1625.8S747.8,1628.4 755.8,1626.3C759.8,1625.2 763.9,1623.4 767.9,1621.2S775.9,1616.4 779.9,1613.5S787.9,1607.8 792,1604.8S800,1598.5 804,1595.2S812,1588 816,1584.5S824.1,1577.7 828.1,1575.5S836.1,1571.9 840.1,1571S848.1,1569.7 852.2,1569.8S860.2,1570.6 864.2,1572.1S872.2,1575.9 876.2,1579.3S884.3,1587.1 888.3,1592.9S896.3,1606.2 900.3,1613.8S908.4,1630.4 912.4,1642.8S920.4,1668.4 924.4,1680.4S932.4,1707.9 936.5,1727.9S944.5,1772.2 948.5,1801.1L948.5,1805C944.5,1779.6 940.5,1757.4 936.5,1738S928.4,1701.9 924.4,1687.3S916.4,1660.4 912.4,1649.6S904.3,1629.6 900.3,1621.5S892.3,1606.3 888.3,1600.2S880.3,1589 876.2,1584.8S868.2,1577.5 864.2,1575.2S856.2,1571.5 852.2,1571S844.1,1570.9 840.1,1571.9S832.1,1574.6 828.1,1576.8S820,1581.6 816,1584.5S808,1590.7 804,1594S796,1600.6 792,1603.9S783.9,1610.3 779.9,1613.2S771.9,1618.6 767.9,1620.6S759.8,1624.2 755.8,1625.1C747.8,1626.8 739.8,1625.7 731.7,1623.4S715.7,1617.5 707.7,1614.1S691.6,1607.7 683.6,1606.4S667.5,1605.5 659.5,1609.2S643.4,1619.8 635.4,1628.5S619.3,1647.5 611.3,1657.9S595.3,1678.8 587.2,1687.8S571.2,1704.3 563.2,1708.7S547.1,1714.3 539.1,1713.6S523,1710.3 515,1706.8S498.9,1699 490.9,1695S474.8,1687.4 466.8,1685.3S450.8,1682.4 442.7,1682.5S426.7,1683.6 418.6,1684.8S402.6,1687.5 394.6,1688.5S378.5,1690.2 370.5,1689.9S354.4,1688.1 346.4,1686.3S330.3,1682.3 322.3,1680.2S306.2,1676.2 298.2,1675S282.2,1673.4 274.1,1674.3S258.1,1677.4 250.1,1681.7S234,1692.3 226,1701.6S209.9,1722.9 201.9,1738.5C197.9,1746.4 193.9,1755.1 189.8,1764.8C187.8,1769.7 185.8,1774.8 183.8,1780.2S179.8,1791.2 177.8,1797.1Z" fill="#e4f4f1" stroke="#e4f4f1"/>
<path d="M177.8,1797.1C179.8,1791.2 181.8,1785.5 183.8,1780.2S187.8,1769.7 189.8,1764.8C193.9,1755.1 197.9,1746.4 201.9,1738.5C209.9,1722.9 217.9,1710.8 226,1701.6S242,1686 250.1,1681.7S266.1,1675.2 274.1,1674.3S290.2,1673.8 298.2,1675S314.3,1678.1 322.3,1680.2S338.4,1684.5 346.4,1686.3S362.4,1689.5 370.5,1689.9S386.5,1689.6 394.6,1688.5S410.6,1686 418.6,1684.8S434.7,1682.6 442.7,1682.5S458.8,1683.1 466.8,1685.3S482.9,1691.1 490.9,1695S507,1703.3 515,1706.8S531,1712.9 539.1,1713.6S555.1,1713 563.2,1708.7S579.2,1696.8 587.2,1687.8S603.3,1668.3 611.3,1657.9S627.4,1637.1 635.4,1628.5S651.5,1612.9 659.5,1609.2S675.5,1605 683.6,1606.4S699.6,1610.8 707.7,1614.1S723.7,1621.1 731.7,1623.4S747.8,1626.8 755.8,1625.1C759.8,1624.2 763.9,1622.7 767.9,1620.6S775.9,1616 779.9,1613.2S787.9,1607.2 792,1603.9S800,1597.2 804,1594S812,1587.5 816,1584.5S824.1,1579 828.1,1576.8S836.1,1572.9 840.1,1571.9S848.1,1570.5 852.2,1571S860.2,1572.9 864.2,1575.2S872.2,1580.7 876.2,1584.8S884.3,1594.1 888.3,1600.2S896.3,1613.4 900.3,1621.5S908.4,1638.8 912.4,1649.6S920.4,1672.8 924.4,1687.3S932.4,1718.6 936.5,1738S944.5,1779.6 948.5,1805L948.5,1806.7C944.5,1782.2 940.5,1757.6 936.5,1738.1S928.4,1702.1 924.4,1687.8S916.4,1661.5 912.4,1650.9S904.3,1631.2 900.3,1623S892.3,1607.7 888.3,1601.5S880.3,1590 876.2,1585.7S868.2,1578 864.2,1575.6S856.2,1571.6 852.2,1571S844.1,1570.6 840.1,1571.6S832.1,1574.4 828.1,1576.7S820,1581.9 816,1584.9S808,1591.2 804,1594.4S796,1600.8 792,1603.8S783.9,1609.6 779.9,1612.2S771.9,1617 767.9,1618.9S759.8,1622.1 755.8,1622.9C747.8,1624.5 739.8,1623.7 731.7,1621.5S715.7,1615.7 707.7,1611.9S691.6,1604.2 683.6,1602.3S667.5,1601.2 659.5,1605.4S643.4,1617.1 635.4,1626.1S619.3,1645.8 611.3,1656.4S595.3,1677.6 587.2,1686.8S571.2,1703.6 563.2,1708.2S547.1,1714.5 539.1,1713.6S523,1709.5 515,1705.3S498.9,1696.2 490.9,1692S474.8,1684.2 466.8,1682S450.8,1679.1 442.7,1679.2S426.7,1680.2 418.6,1681.4S402.6,1684.1 394.6,1685.2S378.5,1687.1 370.5,1686.8S354.4,1685.2 346.4,1683.4S330.3,1679.5 322.3,1677.3S306.2,1673.2 298.2,1671.8S282.2,1669.7 274.1,1670.5S258.1,1673.4 250.1,1677.9S234,1689.1 226,1698.8S209.9,1721 201.9,1737C197.9,1745.1 193.9,1754 189.8,1763.9C187.8,1768.9 185.8,1774.1 183.8,1779.5S179.8,1790.7 177.8,1796.6Z" fill="#d9f0f6" stroke="#d9f0f6"/>
<path d="M177.8,1796.6C179.8,1790.7 181.8,1785 183.8,1779.5S187.8,1768.9 189.8,1763.9C193.9,1754 197.9,1745.1 201.9,1737C209.9,1721 217.9,1708.4 226,1698.8S242,1682.4 250.1,1677.9S266.1,1671.2 274.1,1670.5S290.2,1670.4 298.2,1671.8S314.3,1675.2 322.3,1677.3S338.4,1681.7 346.4,1683.4S362.4,1686.5 370.5,1686.8S386.5,1686.3 394.6,1685.2S410.6,1682.6 418.6,1681.4S434.7,1679.3 442.7,1679.2S458.8,1679.9 466.8,1682S482.9,1687.8 490.9,1692S507,1701.2 515,1705.3S531,1712.8 539.1,1713.6S555.1,1712.8 563.2,1708.2S579.2,1695.9 587.2,1686.8S603.3,1667 611.3,1656.4S627.4,1635.2 635.4,1626.1S651.5,1609.6 659.5,1605.4S675.5,1600.5 683.6,1602.3S699.6,1608.2 707.7,1611.9S723.7,1619.3 731.7,1621.5S747.8,1624.5 755.8,1622.9C759.8,1622.1 763.9,1620.7 767.9,1618.9S775.9,1614.8 779.9,1612.2S787.9,1606.8 792,1603.8S800,1597.6 804,1594.4S812,1588 816,1584.9S824.1,1579.1 828.1,1576.7S836.1,1572.6 840.1,1571.6S848.1,1570.3 852.2,1571S860.2,1573.1 864.2,1575.6S872.2,1581.4 876.2,1585.7S884.3,1595.3 888.3,1601.5S896.3,1614.9 900.3,1623S908.4,1640.3 912.4,1650.9S920.4,1673.5 924.4,1687.8S932.4,1718.6 936.5,1738.1S944.5,1782.2 948.5,1806.7L948.5,1808.3C944.5,1784.8 940.5,1757.7 936.5,1738.2S928.4,1702.4 924.4,1688.3S916.4,1662.6 912.4,1652.2S904.3,1632.8 900.3,1624.6S892.3,1609.2 888.3,1602.8S880.3,1591.1 876.2,1586.6S868.2,1578.6 864.2,1576S856.2,1571.7 852.2,1570.9S844.1,1570.3 840.1,1571.3S832.1,1574.2 828.1,1576.7S820,1582.2 816,1585.3S808,1591.8 804,1594.8S796,1600.9 792,1603.7S783.9,1609 779.9,1611.2S771.9,1615.5 767.9,1617.1S759.8,1620 755.8,1620.7C747.8,1622.2 739.8,1621.6 731.7,1619.5S715.7,1613.8 707.7,1609.8S691.6,1600.7 683.6,1598.3S667.5,1597 659.5,1601.7S643.4,1614.3 635.4,1623.8S619.3,1644 611.3,1654.9S595.3,1676.4 587.2,1685.7S571.2,1702.8 563.2,1707.8S547.1,1714.7 539.1,1713.7S523,1708.7 515,1703.8S498.9,1693.4 490.9,1688.9S474.8,1681 466.8,1678.8S450.8,1675.8 442.7,1675.9S426.7,1676.8 418.6,1678S402.6,1680.7 394.6,1681.9S378.5,1683.9 370.5,1683.7S354.4,1682.3 346.4,1680.6S330.3,1676.6 322.3,1674.5S306.2,1670.1 298.2,1668.6S282.2,1666.1 274.1,1666.7S258.1,1669.4 250.1,1674.1S234,1685.9 226,1695.9S209.9,1719 201.9,1735.6C197.9,1743.8 193.9,1753 189.8,1763C187.8,1768.1 185.8,1773.4 183.8,1778.9S179.8,1790.1 177.8,1796.1Z" fill="#cce9f2" stroke="#cce9f2"/>
<path d="M177.8,1796.1C179.8,1790.1 181.8,1784.4 183.8,1778.9S187.8,1768.1 189.8,1763C193.9,1753 197.9,1743.8 201.9,1735.6C209.9,1719 217.9,1706 226,1695.9S242,1678.8 250.1,1674.1S266.1,1667.3 274.1,1666.7S290.2,1667 298.2,1668.6S314.3,1672.3 322.3,1674.5S338.4,1678.9 346.4,1680.6S362.4,1683.5 370.5,1683.7S386.5,1683.1 394.6,1681.9S410.6,1679.2 418.6,1678S434.7,1675.9 442.7,1675.9S458.8,1676.7 466.8,1678.8S482.9,1684.5 490.9,1688.9S507,1699 515,1703.8S531,1712.7 539.1,1713.7S555.1,1712.7 563.2,1707.8S579.2,1695 587.2,1685.7S603.3,1665.7 611.3,1654.9S627.4,1633.2 635.4,1623.8S651.5,1606.3 659.5,1601.7S675.5,1595.9 683.6,1598.3S699.6,1605.7 707.7,1609.8S723.7,1617.4 731.7,1619.5S747.8,1622.2 755.8,1620.7C759.8,1620 763.9,1618.7 767.9,1617.1S775.9,1613.5 779.9,1611.2S787.9,1606.4 792,1603.7S800,1597.9 804,1594.8S812,1588.5 816,1585.3S824.1,1579.2 828.1,1576.7S836.1,1572.3 840.1,1571.3S848.1,1570.1 852.2,1570.9S860.2,1573.4 864.2,1576S872.2,1582.1 876.2,1586.6S884.3,1596.5 888.3,1602.8S896.3,1616.4 900.3,1624.6S908.4,1641.8 912.4,1652.2S920.4,1674.3 924.4,1688.3S932.4,1718.7 936.5,1738.2S944.5,1784.8 948.5,1808.3L948.5,1810C944.5,1787.4 940.5,1757.8 936.5,1738.3S928.4,1702.6 924.4,1688.9S916.4,1663.6 912.4,1653.5S904.3,1634.3 900.3,1626.1S892.3,1610.6 888.3,1604.2S880.3,1592.2 876.2,1587.5S868.2,1579.2 864.2,1576.4S856.2,1571.7 852.2,1570.8S844.1,1570 840.1,1571S832.1,1574 828.1,1576.6S820,1582.5 816,1585.7S808,1592.3 804,1595.3S796,1601 792,1603.5S783.9,1608.3 779.9,1610.3S771.9,1614 767.9,1615.4S759.8,1617.8 755.8,1618.5C747.8,1619.9 739.8,1619.6 731.7,1617.6S715.7,1612 707.7,1607.6S691.6,1597.2 683.6,1594.3S667.5,1592.8 659.5,1597.9S643.4,1611.6 635.4,1621.4S619.3,1642.3 611.3,1653.3S595.3,1675.2 587.2,1684.7S571.2,1702.1 563.2,1707.3S547.1,1714.8 539.1,1713.7S523,1707.9 515,1702.4S498.9,1690.6 490.9,1685.9S474.8,1677.8 466.8,1675.6S450.8,1672.6 442.7,1672.5S426.7,1673.3 418.6,1674.5S402.6,1677.3 394.6,1678.6S378.5,1680.8 370.5,1680.6S354.4,1679.4 346.4,1677.7S330.3,1673.8 322.3,1671.6S306.2,1667.1 298.2,1665.4S282.2,1662.4 274.1,1662.9S258.1,1665.5 250.1,1670.3S234,1682.6 226,1693.1S209.9,1717.1 201.9,1734.1C197.9,1742.6 193.9,1751.9 189.8,1762.2C187.8,1767.3 185.8,1772.6 183.8,1778.2S179.8,1789.6 177.8,1795.7Z" fill="#bfe3ef" stroke="#bfe3ef"/>
<path d="M177.8,1795.7C179.8,1789.6 181.8,1783.8 183.8,1778.2S187.8,1767.3 189.8,1762.2C193.9,1751.9 197.9,1742.6 201.9,1734.1C209.9,1717.1 217.9,1703.6 226,1693.1S242,1675.2 250.1,1670.3S266.1,1663.4 274.1,1662.9S290.2,1663.6 298.2,1665.4S314.3,1669.4 322.3,1671.6S338.4,1676 346.4,1677.7S362.4,1680.5 370.5,1680.6S386.5,1679.8 394.6,1678.6S410.6,1675.8 418.6,1674.5S434.7,1672.5 442.7,1672.5S458.8,1673.5 466.8,1675.6S482.9,1681.2 490.9,1685.9S507,1696.9 515,1702.4S531,1712.5 539.1,1713.7S555.1,1712.5 563.2,1707.3S579.2,1694.1 587.2,1684.7S603.3,1664.3 611.3,1653.3S627.4,1631.2 635.4,1621.4S651.5,1603 659.5,1597.9S675.5,1591.4 683.6,1594.3S699.6,1603.2 707.7,1607.6S723.7,1615.6 731.7,1617.6S747.8,1619.9 755.8,1618.5C759.8,1617.8 763.9,1616.8 767.9,1615.4S775.9,1612.3 779.9,1610.3S787.9,1606.1 792,1603.5S800,1598.3 804,1595.3S812,1589 816,1585.7S824.1,1579.2 828.1,1576.6S836.1,1572 840.1,1571S848.1,1569.9 852.2,1570.8S860.2,1573.6 864.2,1576.4S872.2,1582.9 876.2,1587.5S884.3,1597.7 888.3,1604.2S896.3,1617.9 900.3,1626.1S908.4,1643.3 912.4,1653.5S920.4,1675.1 924.4,1688.9S932.4,1718.7 936.5,1738.3S944.5,1787.4 948.5,1810L948.5,1811.6C944.5,1790 940.5,1758 936.5,1738.4S928.4,1702.9 924.4,1689.4S916.4,1664.7 912.4,1654.8S904.3,1635.9 900.3,1627.7S892.3,1612 888.3,1605.5S880.3,1593.2 876.2,1588.4S868.2,1579.7 864.2,1576.7S856.2,1571.8 852.2,1570.7S844.1,1569.7 840.1,1570.6S832.1,1573.8 828.1,1576.6S820,1582.8 816,1586.1S808,1592.8 804,1595.7S796,1601.2 792,1603.4S783.9,1607.7 779.9,1609.3S771.9,1612.4 767.9,1613.6S759.8,1615.7 755.8,1616.3C747.8,1617.5 739.8,1617.5 731.7,1615.7S715.7,1610.2 707.7,1605.4S691.6,1593.7 683.6,1590.3S667.5,1588.6 659.5,1594.2S643.4,1608.8 635.4,1619S619.3,1640.6 611.3,1651.8S595.3,1674 587.2,1683.6S571.2,1701.4 563.2,1706.9S547.1,1715 539.1,1713.7S523,1707.1 515,1700.9S498.9,1687.8 490.9,1682.8S474.8,1674.5 466.8,1672.4S450.8,1669.3 442.7,1669.2S426.7,1669.9 418.6,1671.1S402.6,1674 394.6,1675.3S378.5,1677.6 370.5,1677.6S354.4,1676.5 346.4,1674.8S330.3,1671 322.3,1668.8S306.2,1664.1 298.2,1662.1S282.2,1658.8 274.1,1659.1S258.1,1661.5 250.1,1666.6S234,1679.4 226,1690.3S209.9,1715.2 201.9,1732.6C197.9,1741.3 193.9,1750.9 189.8,1761.3C187.8,1766.5 185.8,1771.9 183.8,1777.6S179.8,1789.1 177.8,1795.2Z" fill="#b2dceb" stroke="#b2dceb"/>
<path d="M177.8,1795.2C179.8,1789.1 181.8,1783.2 183.8,1777.6S187.8,1766.5 189.8,1761.3C193.9,1750.9 197.9,1741.3 201.9,1732.6C209.9,1715.2 217.9,1701.2 226,1690.3S242,1671.6 250.1,1666.6S266.1,1659.4 274.1,1659.1S290.2,1660.2 298.2,1662.1S314.3,1666.5 322.3,1668.8S338.4,1673.2 346.4,1674.8S362.4,1677.5 370.5,1677.6S386.5,1676.6 394.6,1675.3S410.6,1672.3 418.6,1671.1S434.7,1669.1 442.7,1669.2S458.8,1670.2 466.8,1672.4S482.9,1677.9 490.9,1682.8S507,1694.7 515,1700.9S531,1712.4 539.1,1713.7S555.1,1712.3 563.2,1706.9S579.2,1693.3 587.2,1683.6S603.3,1663 611.3,1651.8S627.4,1629.3 635.4,1619S651.5,1599.7 659.5,1594.2S675.5,1586.9 683.6,1590.3S699.6,1600.6 707.7,1605.4S723.7,1613.8 731.7,1615.7S747.8,1617.5 755.8,1616.3C759.8,1615.7 763.9,1614.8 767.9,1613.6S775.9,1611 779.9,1609.3S787.9,1605.7 792,1603.4S800,1598.6 804,1595.7S812,1589.5 816,1586.1S824.1,1579.3 828.1,1576.6S836.1,1571.6 840.1,1570.6S848.1,1569.7 852.2,1570.7S860.2,1573.8 864.2,1576.7S872.2,1583.6 876.2,1588.4S884.3,1598.9 888.3,1605.5S896.3,1619.5 900.3,1627.7S908.4,1644.8 912.4,1654.8S920.4,1675.8 924.4,1689.4S932.4,1718.7 936.5,1738.4S944.5,1790 948.5,1811.6L948.5,1812.8C944.5,1791 940.5,1760.3 936.5,1740S928.4,1703.6 924.4,1690.2S916.4,1666 912.4,1655.9S904.3,1636.3 900.3,1627.9S892.3,1611.9 888.3,1605.4S880.3,1593.2 876.2,1588.5S868.2,1580 864.2,1577.1S856.2,1572.3 852.2,1571.3S844.1,1570.2 840.1,1571S832.1,1573.7 828.1,1576.1S820,1581.6 816,1584.6S808,1590.8 804,1593.6S796,1599 792,1601.3S783.9,1605.8 779.9,1607.7S771.9,1611.3 767.9,1612.7S759.8,1615.2 755.8,1616C747.8,1617.5 739.8,1617.5 731.7,1615.2S715.7,1608.3 707.7,1603.1S691.6,1591.9 683.6,1589.3S667.5,1588.6 659.5,1594S643.4,1608.1 635.4,1618.1S619.3,1639.4 611.3,1650.7S595.3,1673.1 587.2,1682.9S571.2,1700.9 563.2,1706.5S547.1,1714.7 539.1,1713.3S523,1706.3 515,1699.8S498.9,1686 490.9,1680.9S474.8,1672.3 466.8,1670S450.8,1666.9 442.7,1666.8S426.7,1667.5 418.6,1668.7S402.6,1671.6 394.6,1672.9S378.5,1675.2 370.5,1675.2S354.4,1674 346.4,1672.3S330.3,1668.4 322.3,1666.1S306.2,1661.4 298.2,1659.4S282.2,1656 274.1,1656.4S258.1,1658.8 250.1,1663.9S234,1676.9 226,1688S209.9,1713.3 201.9,1731C197.9,1739.9 193.9,1749.7 189.8,1760.4C187.8,1765.7 185.8,1771.3 183.8,1777.1S179.8,1788.9 177.8,1795.2Z" fill="#81b8d7" stroke="#81b8d7"/>
<path d="M177.8,1795.2C179.8,1788.9 181.8,1782.9 183.8,1777.1S187.8,1765.7 189.8,1760.4C193.9,1749.7 197.9,1739.9 201.9,1731C209.9,1713.3 217.9,1699 226,1688S242,1669 250.1,1663.9S266.1,1656.7 274.1,1656.4S290.2,1657.4 298.2,1659.4S314.3,1663.8 322.3,1666.1S338.4,1670.7 346.4,1672.3S362.4,1675.1 370.5,1675.2S386.5,1674.2 394.6,1672.9S410.6,1670 418.6,1668.7S434.7,1666.7 442.7,1666.8S458.8,1667.8 466.8,1670S482.9,1675.7 490.9,1680.9S507,1693.3 515,1699.8S531,1711.9 539.1,1713.3S555.1,1712 563.2,1706.5S579.2,1692.6 587.2,1682.9S603.3,1661.9 611.3,1650.7S627.4,1628.1 635.4,1618.1S651.5,1599.5 659.5,1594S675.5,1586.6 683.6,1589.3S699.6,1598 707.7,1603.1S723.7,1612.9 731.7,1615.2S747.8,1617.5 755.8,1616C759.8,1615.2 763.9,1614.1 767.9,1612.7S775.9,1609.6 779.9,1607.7S787.9,1603.7 792,1601.3S800,1596.4 804,1593.6S812,1587.7 816,1584.6S824.1,1578.6 828.1,1576.1S836.1,1571.9 840.1,1571S848.1,1570.3 852.2,1571.3S860.2,1574.3 864.2,1577.1S872.2,1583.8 876.2,1588.5S884.3,1598.8 888.3,1605.4S896.3,1619.4 900.3,1627.9S908.4,1645.7 912.4,1655.9S920.4,1676.8 924.4,1690.2S932.4,1719.7 936.5,1740S944.5,1791 948.5,1812.8L948.5,1814.1C944.5,1791.9 940.5,1762.7 936.5,1741.7S928.4,1704.4 924.4,1691.1S916.4,1667.3 912.4,1657S904.3,1636.7 900.3,1628S892.3,1611.8 888.3,1605.3S880.3,1593.1 876.2,1588.5S868.2,1580.2 864.2,1577.5S856.2,1572.9 852.2,1571.9S844.1,1570.7 840.1,1571.4S832.1,1573.6 828.1,1575.7S820,1580.4 816,1583.1S808,1588.7 804,1591.4S796,1596.8 792,1599.2S783.9,1604 779.9,1606.1S771.9,1610.1 767.9,1611.7S759.8,1614.7 755.8,1615.6C747.8,1617.4 739.8,1617.6 731.7,1614.8S715.7,1606.3 707.7,1600.9S691.6,1590.1 683.6,1588.2S667.5,1588.5 659.5,1593.9S643.4,1607.5 635.4,1617.2S619.3,1638.2 611.3,1649.5S595.3,1672.1 587.2,1682.1S571.2,1700.5 563.2,1706.1S547.1,1714.5 539.1,1712.9S523,1705.4 515,1698.6S498.9,1684.2 490.9,1678.9S474.8,1670 466.8,1667.7S450.8,1664.5 442.7,1664.4S426.7,1665.1 418.6,1666.4S402.6,1669.3 394.6,1670.6S378.5,1672.8 370.5,1672.8S354.4,1671.5 346.4,1669.8S330.3,1665.8 322.3,1663.5S306.2,1658.7 298.2,1656.7S282.2,1653.3 274.1,1653.6S258.1,1656.2 250.1,1661.3S234,1674.4 226,1685.6S209.9,1711.3 201.9,1729.4C197.9,1738.5 193.9,1748.5 189.8,1759.4C187.8,1764.9 185.8,1770.6 183.8,1776.6S179.8,1788.8 177.8,1795.2Z" fill="#7bb3d4" stroke="#7bb3d4"/>
<path d="M177.8,1795.2C179.8,1788.8 181.8,1782.5 183.8,1776.6S187.8,1764.9 189.8,1759.4C193.9,1748.5 197.9,1738.5 201.9,1729.4C209.9,1711.3 217.9,1696.8 226,1685.6S242,1666.4 250.1,1661.3S266.1,1654 274.1,1653.6S290.2,1654.7 298.2,1656.7S314.3,1661.1 322.3,1663.5S338.4,1668.1 346.4,1669.8S362.4,1672.7 370.5,1672.8S386.5,1671.9 394.6,1670.6S410.6,1667.6 418.6,1666.4S434.7,1664.3 442.7,1664.4S458.8,1665.4 466.8,1667.7S482.9,1673.5 490.9,1678.9S507,1691.8 515,1698.6S531,1711.3 539.1,1712.9S555.1,1711.7 563.2,1706.1S579.2,1692 587.2,1682.1S603.3,1660.8 611.3,1649.5S627.4,1627 635.4,1617.2S651.5,1599.2 659.5,1593.9S675.5,1586.3 683.6,1588.2S699.6,1595.4 707.7,1600.9S723.7,1612 731.7,1614.8S747.8,1617.4 755.8,1615.6C759.8,1614.7 763.9,1613.4 767.9,1611.7S775.9,1608.2 779.9,1606.1S787.9,1601.7 792,1599.2S800,1594.2 804,1591.4S812,1585.9 816,1583.1S824.1,1577.8 828.1,1575.7S836.1,1572.1 840.1,1571.4S848.1,1570.9 852.2,1571.9S860.2,1574.7 864.2,1577.5S872.2,1583.9 876.2,1588.5S884.3,1598.7 888.3,1605.3S896.3,1619.4 900.3,1628S908.4,1646.6 912.4,1657S920.4,1677.8 924.4,1691.1S932.4,1720.6 936.5,1741.7S944.5,1791.9 948.5,1814.1L948.5,1815.3C944.5,1792.9 940.5,1765 936.5,1743.3S928.4,1705.1 924.4,1692S916.4,1668.6 912.4,1658S904.3,1637 900.3,1628.2S892.3,1611.7 888.3,1605.2S880.3,1593.1 876.2,1588.6S868.2,1580.5 864.2,1577.8S856.2,1573.4 852.2,1572.4S844.1,1571.3 840.1,1571.8S832.1,1573.5 828.1,1575.2S820,1579.2 816,1581.6S808,1586.7 804,1589.3S796,1594.6 792,1597.1S783.9,1602.2 779.9,1604.5S771.9,1608.9 767.9,1610.8S759.8,1614.2 755.8,1615.3C747.8,1617.4 739.8,1617.6 731.7,1614.3S715.7,1604.4 707.7,1598.6S691.6,1588.3 683.6,1587.2S667.5,1588.5 659.5,1593.7S643.4,1606.8 635.4,1616.3S619.3,1637.1 611.3,1648.4S595.3,1671.2 587.2,1681.3S571.2,1700 563.2,1705.7S547.1,1714.2 539.1,1712.5S523,1704.6 515,1697.5S498.9,1682.4 490.9,1676.9S474.8,1667.7 466.8,1665.3S450.8,1662 442.7,1662S426.7,1662.8 418.6,1664S402.6,1666.9 394.6,1668.2S378.5,1670.5 370.5,1670.3S354.4,1669 346.4,1667.3S330.3,1663.2 322.3,1660.8S306.2,1656 298.2,1654S282.2,1650.5 274.1,1650.9S258.1,1653.5 250.1,1658.6S234,1671.9 226,1683.2S209.9,1709.3 201.9,1727.9C197.9,1737.1 193.9,1747.3 189.8,1758.5C187.8,1764.1 185.8,1770 183.8,1776.1S179.8,1788.6 177.8,1795.2Z" fill="#75aed1" stroke="#75aed1"/>
<path d="M177.8,1795.2C179.8,1788.6 181.8,1782.2 183.8,1776.1S187.8,1764.1 189.8,1758.5C193.9,1747.3 197.9,1737.1 201.9,1727.9C209.9,1709.3 217.9,1694.6 226,1683.2S242,1663.8 250.1,1658.6S266.1,1651.3 274.1,1650.9S290.2,1652 298.2,1654S314.3,1658.4 322.3,1660.8S338.4,1665.5 346.4,1667.3S362.4,1670.2 370.5,1670.3S386.5,1669.5 394.6,1668.2S410.6,1665.3 418.6,1664S434.7,1661.9 442.7,1662S458.8,1663 466.8,1665.3S482.9,1671.4 490.9,1676.9S507,1690.4 515,1697.5S531,1710.8 539.1,1712.5S555.1,1711.4 563.2,1705.7S579.2,1691.3 587.2,1681.3S603.3,1659.7 611.3,1648.4S627.4,1625.8 635.4,1616.3S651.5,1598.9 659.5,1593.7S675.5,1586.1 683.6,1587.2S699.6,1592.7 707.7,1598.6S723.7,1611.1 731.7,1614.3S747.8,1617.4 755.8,1615.3C759.8,1614.2 763.9,1612.6 767.9,1610.8S775.9,1606.8 779.9,1604.5S787.9,1599.7 792,1597.1S800,1591.9 804,1589.3S812,1584 816,1581.6S824.1,1577 828.1,1575.2S836.1,1572.3 840.1,1571.8S848.1,1571.5 852.2,1572.4S860.2,1575.2 864.2,1577.8S872.2,1584 876.2,1588.6S884.3,1598.6 888.3,1605.2S896.3,1619.4 900.3,1628.2S908.4,1647.5 912.4,1658S920.4,1678.8 924.4,1692S932.4,1721.6 936.5,1743.3S944.5,1792.9 948.5,1815.3L948.5,1816.5C944.5,1793.9 940.5,1767.4 936.5,1745S928.4,1705.9 924.4,1692.9S916.4,1669.9 912.4,1659.1S904.3,1637.4 900.3,1628.4S892.3,1611.6 888.3,1605.1S880.3,1593 876.2,1588.6S868.2,1580.8 864.2,1578.2S856.2,1574 852.2,1573S844.1,1571.8 840.1,1572.2S832.1,1573.4 828.1,1574.8S820,1578 816,1580.1S808,1584.6 804,1587.1S796,1592.4 792,1595S783.9,1600.4 779.9,1602.9S771.9,1607.8 767.9,1609.9S759.8,1613.7 755.8,1614.9C747.8,1617.3 739.8,1617.6 731.7,1613.9S715.7,1602.4 707.7,1596.3S691.6,1586.4 683.6,1586.1S667.5,1588.5 659.5,1593.5S643.4,1606.1 635.4,1615.4S619.3,1635.9 611.3,1647.3S595.3,1670.2 587.2,1680.5S571.2,1699.5 563.2,1705.3S547.1,1713.9 539.1,1712.1S523,1703.7 515,1696.3S498.9,1680.7 490.9,1674.9S474.8,1665.4 466.8,1663S450.8,1659.6 442.7,1659.6S426.7,1660.4 418.6,1661.7S402.6,1664.6 394.6,1665.9S378.5,1668.1 370.5,1667.9S354.4,1666.6 346.4,1664.8S330.3,1660.6 322.3,1658.2S306.2,1653.3 298.2,1651.2S282.2,1647.8 274.1,1648.2S258.1,1650.8 250.1,1656S234,1669.3 226,1680.9S209.9,1707.4 201.9,1726.3C197.9,1735.7 193.9,1746.1 189.8,1757.6C187.8,1763.3 185.8,1769.3 183.8,1775.6S179.8,1788.4 177.8,1795.2Z" fill="#70a8ce" stroke="#70a8ce"/>
<path d="M177.8,1795.2C179.8,1788.4 181.8,1781.9 183.8,1775.6S187.8,1763.3 189.8,1757.6C193.9,1746.1 197.9,1735.7 201.9,1726.3C209.9,1707.4 217.9,1692.4 226,1680.9S242,1661.2 250.1,1656S266.1,1648.6 274.1,1648.2S290.2,1649.2 298.2,1651.2S314.3,1655.8 322.3,1658.2S338.4,1663 346.4,1664.8S362.4,1667.8 370.5,1667.9S386.5,1667.2 394.6,1665.9S410.6,1662.9 418.6,1661.7S434.7,1659.5 442.7,1659.6S458.8,1660.6 466.8,1663S482.9,1669.2 490.9,1674.9S507,1688.9 515,1696.3S531,1710.2 539.1,1712.1S555.1,1711.1 563.2,1705.3S579.2,1690.7 587.2,1680.5S603.3,1658.6 611.3,1647.3S627.4,1624.7 635.4,1615.4S651.5,1598.6 659.5,1593.5S675.5,1585.8 683.6,1586.1S699.6,1590.1 707.7,1596.3S723.7,1610.2 731.7,1613.9S747.8,1617.3 755.8,1614.9C759.8,1613.7 763.9,1611.9 767.9,1609.9S775.9,1605.4 779.9,1602.9S787.9,1597.7 792,1595S800,1589.7 804,1587.1S812,1582.2 816,1580.1S824.1,1576.2 828.1,1574.8S836.1,1572.5 840.1,1572.2S848.1,1572 852.2,1573S860.2,1575.7 864.2,1578.2S872.2,1584.2 876.2,1588.6S884.3,1598.5 888.3,1605.1S896.3,1619.4 900.3,1628.4S908.4,1648.4 912.4,1659.1S920.4,1679.9 924.4,1692.9S932.4,1722.5 936.5,1745S944.5,1793.9 948.5,1816.5L948.5,1821.9C944.5,1797.9 940.5,1772.2 936.5,1750.4S928.4,1712.1 924.4,1698.9S916.4,1675.6 912.4,1664.9S904.3,1643.5 900.3,1634.4S892.3,1617.5 888.3,1610.7S880.3,1598.3 876.2,1593.6S868.2,1585.2 864.2,1582.3S856.2,1577.5 852.2,1576.2S844.1,1574.4 840.1,1574.5S832.1,1575.4 828.1,1576.6S820,1579.4 816,1581.4S808,1585.7 804,1588.1S796,1593.2 792,1595.8S783.9,1601 779.9,1603.4S771.9,1608.1 767.9,1610S759.8,1613.6 755.8,1614.6C747.8,1616.8 739.8,1616.8 731.7,1612.9S715.7,1601.4 707.7,1595.3S691.6,1585.6 683.6,1585.3S667.5,1587.7 659.5,1592.7S643.4,1605.3 635.4,1614.6S619.3,1635.2 611.3,1646.7S595.3,1669.8 587.2,1680.1S571.2,1699.2 563.2,1705S547.1,1713.5 539.1,1711.5S523,1702.9 515,1695.3S498.9,1679.2 490.9,1673.3S474.8,1663.5 466.8,1661S450.8,1657.6 442.7,1657.5S426.7,1658.4 418.6,1659.7S402.6,1662.7 394.6,1664S378.5,1666.2 370.5,1666.1S354.4,1664.6 346.4,1662.7S330.3,1658.4 322.3,1655.9S306.2,1650.7 298.2,1648.6S282.2,1645.1 274.1,1645.4S258.1,1648.1 250.1,1653.3S234,1666.9 226,1678.7S209.9,1705.6 201.9,1724.9C197.9,1734.5 193.9,1745.1 189.8,1756.8C187.8,1762.7 185.8,1768.8 183.8,1775.2S179.8,1788.3 177.8,1795.2Z" fill="#6aa1cb" stroke="#6aa1cb"/>
<path d="M177.8,1795.2C179.8,1788.3 181.8,1781.6 183.8,1775.2S187.8,1762.7 189.8,1756.8C193.9,1745.1 197.9,1734.5 201.9,1724.9C209.9,1705.6 217.9,1690.4 226,1678.7S242,1658.6 250.1,1653.3S266.1,1645.8 274.1,1645.4S290.2,1646.6 298.2,1648.6S314.3,1653.3 322.3,1655.9S338.4,1660.8 346.4,1662.7S362.4,1665.9 370.5,1666.1S386.5,1665.3 394.6,1664S410.6,1661 418.6,1659.7S434.7,1657.5 442.7,1657.5S458.8,1658.6 466.8,1661S482.9,1667.4 490.9,1673.3S507,1687.6 515,1695.3S531,1709.6 539.1,1711.5S555.1,1710.8 563.2,1705S579.2,1690.3 587.2,1680.1S603.3,1658.1 611.3,1646.7S627.4,1624 635.4,1614.6S651.5,1597.8 659.5,1592.7S675.5,1585 683.6,1585.3S699.6,1589.2 707.7,1595.3S723.7,1609.1 731.7,1612.9S747.8,1616.8 755.8,1614.6C759.8,1613.6 763.9,1612 767.9,1610S775.9,1605.8 779.9,1603.4S787.9,1598.4 792,1595.8S800,1590.6 804,1588.1S812,1583.4 816,1581.4S824.1,1577.8 828.1,1576.6S836.1,1574.6 840.1,1574.5S848.1,1575 852.2,1576.2S860.2,1579.5 864.2,1582.3S872.2,1588.9 876.2,1593.6S884.3,1603.9 888.3,1610.7S896.3,1625.3 900.3,1634.4S908.4,1654.2 912.4,1664.9S920.4,1685.8 924.4,1698.9S932.4,1728.6 936.5,1750.4S944.5,1797.9 948.5,1821.9L948.5,1827.2C944.5,1802 940.5,1777 936.5,1755.8S928.4,1718.2 924.4,1705S916.4,1681.2 912.4,1670.7S904.3,1649.5 900.3,1640.4S892.3,1623.3 888.3,1616.3S880.3,1603.5 876.2,1598.6S868.2,1589.6 864.2,1586.5S856.2,1581 852.2,1579.4S844.1,1577.1 840.1,1576.9S832.1,1577.3 828.1,1578.3S820,1580.8 816,1582.7S808,1586.8 804,1589.1S796,1594 792,1596.5S783.9,1601.5 779.9,1603.9S771.9,1608.4 767.9,1610.2S759.8,1613.4 755.8,1614.4C747.8,1616.2 739.8,1615.9 731.7,1611.9S715.7,1600.4 707.7,1594.3S691.6,1584.7 683.6,1584.4S667.5,1586.8 659.5,1591.9S643.4,1604.5 635.4,1613.9S619.3,1634.5 611.3,1646.1S595.3,1669.3 587.2,1679.7S571.2,1698.9 563.2,1704.6S547.1,1713.1 539.1,1711S523,1702 515,1694.2S498.9,1677.7 490.9,1671.7S474.8,1661.6 466.8,1659.1S450.8,1655.5 442.7,1655.5S426.7,1656.3 418.6,1657.7S402.6,1660.7 394.6,1662.1S378.5,1664.4 370.5,1664.2S354.4,1662.7 346.4,1660.7S330.3,1656.2 322.3,1653.5S306.2,1648.2 298.2,1646S282.2,1642.3 274.1,1642.7S258.1,1645.3 250.1,1650.7S234,1664.5 226,1676.4S209.9,1703.9 201.9,1723.5C197.9,1733.3 193.9,1744.2 189.8,1756.1C187.8,1762.1 185.8,1768.3 183.8,1774.8S179.8,1788.1 177.8,1795.2Z" fill="#659bc8" stroke="#659bc8"/>
<path d="M177.8,1795.2C179.8,1788.1 181.8,1781.3 183.8,1774.8S187.8,1762.1 189.8,1756.1C193.9,1744.2 197.9,1733.3 201.9,1723.5C209.9,1703.9 217.9,1688.4 226,1676.4S242,1656.1 250.1,1650.7S266.1,1643.1 274.1,1642.7S290.2,1643.9 298.2,1646S314.3,1650.9 322.3,1653.5S338.4,1658.7 346.4,1660.7S362.4,1664 370.5,1664.2S386.5,1663.4 394.6,1662.1S410.6,1659 418.6,1657.7S434.7,1655.4 442.7,1655.5S458.8,1656.6 466.8,1659.1S482.9,1665.6 490.9,1671.7S507,1686.4 515,1694.2S531,1708.9 539.1,1711S555.1,1710.4 563.2,1704.6S579.2,1690 587.2,1679.7S603.3,1657.6 611.3,1646.1S627.4,1623.2 635.4,1613.9S651.5,1597 659.5,1591.9S675.5,1584.2 683.6,1584.4S699.6,1588.3 707.7,1594.3S723.7,1608 731.7,1611.9S747.8,1616.2 755.8,1614.4C759.8,1613.4 763.9,1612 767.9,1610.2S775.9,1606.2 779.9,1603.9S787.9,1599 792,1596.5S800,1591.5 804,1589.1S812,1584.6 816,1582.7S824.1,1579.3 828.1,1578.3S836.1,1576.8 840.1,1576.9S848.1,1577.9 852.2,1579.4S860.2,1583.3 864.2,1586.5S872.2,1593.6 876.2,1598.6S884.3,1609.4 888.3,1616.3S896.3,1631.3 900.3,1640.4S908.4,1660.1 912.4,1670.7S920.4,1691.7 924.4,1705S932.4,1734.7 936.5,1755.8S944.5,1802 948.5,1827.2L948.5,1832.6C944.5,1806 940.5,1781.7 936.5,1761.2S928.4,1724.4 924.4,1711S916.4,1686.9 912.4,1676.4S904.3,1655.5 900.3,1646.4S892.3,1629.1 888.3,1622S880.3,1608.8 876.2,1603.6S868.2,1594.1 864.2,1590.6S856.2,1584.5 852.2,1582.7S844.1,1579.7 840.1,1579.3S832.1,1579.2 828.1,1580S820,1582.3 816,1584S808,1587.8 804,1590.1S796,1594.8 792,1597.3S783.9,1602.1 779.9,1604.4S771.9,1608.7 767.9,1610.3S759.8,1613.3 755.8,1614.1C747.8,1615.7 739.8,1615 731.7,1611S715.7,1599.3 707.7,1593.3S691.6,1583.8 683.6,1583.6S667.5,1586 659.5,1591.1S643.4,1603.7 635.4,1613.1S619.3,1633.9 611.3,1645.5S595.3,1668.9 587.2,1679.3S571.2,1698.5 563.2,1704.3S547.1,1712.7 539.1,1710.5S523,1701.2 515,1693.1S498.9,1676.2 490.9,1670S474.8,1659.7 466.8,1657.1S450.8,1653.5 442.7,1653.4S426.7,1654.3 418.6,1655.7S402.6,1658.8 394.6,1660.2S378.5,1662.6 370.5,1662.3S354.4,1660.7 346.4,1658.7S330.3,1653.9 322.3,1651.2S306.2,1645.7 298.2,1643.4S282.2,1639.6 274.1,1640S258.1,1642.6 250.1,1648.1S234,1662 226,1674.2S209.9,1702.2 201.9,1722.2C197.9,1732.1 193.9,1743.2 189.8,1755.3C187.8,1761.4 185.8,1767.8 183.8,1774.4S179.8,1788 177.8,1795.2Z" fill="#6095c4" stroke="#6095c4"/>
<path d="M177.8,1795.2C179.8,1788 181.8,1781.1 183.8,1774.4S187.8,1761.4 189.8,1755.3C193.9,1743.2 197.9,1732.1 201.9,1722.2C209.9,1702.2 217.9,1686.4 226,1674.2S242,1653.5 250.1,1648.1S266.1,1640.3 274.1,1640S290.2,1641.2 298.2,1643.4S314.3,1648.5 322.3,1651.2S338.4,1656.6 346.4,1658.7S362.4,1662.1 370.5,1662.3S386.5,1661.6 394.6,1660.2S410.6,1657 418.6,1655.7S434.7,1653.4 442.7,1653.4S458.8,1654.5 466.8,1657.1S482.9,1663.8 490.9,1670S507,1685.1 515,1693.1S531,1708.2 539.1,1710.5S555.1,1710.1 563.2,1704.3S579.2,1689.6 587.2,1679.3S603.3,1657 611.3,1645.5S627.4,1622.5 635.4,1613.1S651.5,1596.2 659.5,1591.1S675.5,1583.4 683.6,1583.6S699.6,1587.4 707.7,1593.3S723.7,1606.9 731.7,1611S747.8,1615.7 755.8,1614.1C759.8,1613.3 763.9,1612 767.9,1610.3S775.9,1606.6 779.9,1604.4S787.9,1599.7 792,1597.3S800,1592.4 804,1590.1S812,1585.7 816,1584S824.1,1580.9 828.1,1580S836.1,1578.9 840.1,1579.3S848.1,1580.8 852.2,1582.7S860.2,1587.1 864.2,1590.6S872.2,1598.3 876.2,1603.6S884.3,1614.9 888.3,1622S896.3,1637.2 900.3,1646.4S908.4,1665.9 912.4,1676.4S920.4,1697.6 924.4,1711S932.4,1740.7 936.5,1761.2S944.5,1806 948.5,1832.6L948.5,1838C944.5,1810.1 940.5,1786.5 936.5,1766.6S928.4,1730.6 924.4,1717.1S916.4,1692.5 912.4,1682.2S904.3,1661.6 900.3,1652.3S892.3,1634.9 888.3,1627.6S880.3,1614 876.2,1608.5S868.2,1598.5 864.2,1594.7S856.2,1588 852.2,1585.9S844.1,1582.4 840.1,1581.7S832.1,1581.1 828.1,1581.8S820,1583.7 816,1585.3S808,1588.9 804,1591.1S796,1595.6 792,1598S783.9,1602.7 779.9,1604.9S771.9,1609 767.9,1610.5S759.8,1613.2 755.8,1613.8C747.8,1615.1 739.8,1614.2 731.7,1610S715.7,1598.3 707.7,1592.4S691.6,1583 683.6,1582.8S667.5,1585.2 659.5,1590.3S643.4,1602.9 635.4,1612.3S619.3,1633.2 611.3,1644.9S595.3,1668.4 587.2,1678.8S571.2,1698.2 563.2,1704S547.1,1712.3 539.1,1709.9S523,1700.3 515,1692S498.9,1674.8 490.9,1668.4S474.8,1657.8 466.8,1655.2S450.8,1651.4 442.7,1651.4S426.7,1652.3 418.6,1653.7S402.6,1656.9 394.6,1658.3S378.5,1660.7 370.5,1660.5S354.4,1658.7 346.4,1656.6S330.3,1651.7 322.3,1648.9S306.2,1643.2 298.2,1640.8S282.2,1636.9 274.1,1637.2S258.1,1639.9 250.1,1645.4S234,1659.6 226,1672S209.9,1700.4 201.9,1720.8C197.9,1731 193.9,1742.2 189.8,1754.6C187.8,1760.8 185.8,1767.3 183.8,1774S179.8,1787.9 177.8,1795.3Z" fill="#5a8fc1" stroke="#5a8fc1"/>
<path d="M177.8,1795.3C179.8,1787.9 181.8,1780.8 183.8,1774S187.8,1760.8 189.8,1754.6C193.9,1742.2 197.9,1731 201.9,1720.8C209.9,1700.4 217.9,1684.4 226,1672S242,1650.9 250.1,1645.4S266.1,1637.5 274.1,1637.2S290.2,1638.5 298.2,1640.8S314.3,1646.1 322.3,1648.9S338.4,1654.5 346.4,1656.6S362.4,1660.2 370.5,1660.5S386.5,1659.7 394.6,1658.3S410.6,1655.1 418.6,1653.7S434.7,1651.3 442.7,1651.4S458.8,1652.5 466.8,1655.2S482.9,1662.1 490.9,1668.4S507,1683.8 515,1692S531,1707.6 539.1,1709.9S555.1,1709.7 563.2,1704S579.2,1689.3 587.2,1678.8S603.3,1656.5 611.3,1644.9S627.4,1621.8 635.4,1612.3S651.5,1595.4 659.5,1590.3S675.5,1582.5 683.6,1582.8S699.6,1586.5 707.7,1592.4S723.7,1605.8 731.7,1610S747.8,1615.1 755.8,1613.8C759.8,1613.2 763.9,1612.1 767.9,1610.5S775.9,1607 779.9,1604.9S787.9,1600.4 792,1598S800,1593.3 804,1591.1S812,1586.9 816,1585.3S824.1,1582.5 828.1,1581.8S836.1,1581 840.1,1581.7S848.1,1583.7 852.2,1585.9S860.2,1591 864.2,1594.7S872.2,1603.1 876.2,1608.5S884.3,1620.3 888.3,1627.6S896.3,1643.1 900.3,1652.3S908.4,1671.8 912.4,1682.2S920.4,1703.5 924.4,1717.1S932.4,1746.8 936.5,1766.6S944.5,1810.1 948.5,1838L948.6,1839.2C944.6,1811.9 940.6,1788.2 936.6,1768.2S928.6,1731.7 924.6,1718.2S916.6,1694 912.6,1683.7S904.5,1663.2 900.5,1653.7S892.4,1635.6 888.4,1628.1S880.3,1614.2 876.3,1608.7S868.3,1598.6 864.3,1594.9S856.3,1588.4 852.2,1586.3S844.2,1583 840.1,1582.5S832.1,1582 828,1582.7S820,1584.6 816,1586.2S807.9,1589.6 803.9,1591.6S795.9,1595.9 791.9,1598.1S784,1602.5 780,1604.5S771.9,1608.3 767.9,1609.6S759.9,1612 755.8,1612.6C747.8,1613.6 739.7,1612.7 731.7,1608.6S715.6,1597.5 707.5,1591.7S691.5,1582.1 683.5,1581.5S667.6,1583.4 659.6,1588.5S643.6,1601.2 635.6,1610.9S619.5,1632.1 611.5,1644S595.3,1668.3 587.2,1679S571.1,1698.7 563.1,1704.2S547,1711.4 539,1708.6S522.9,1698.7 514.8,1690.8S498.8,1674.3 490.8,1667.8S474.7,1656.6 466.7,1653.5S450.7,1648.7 442.7,1648.5S426.7,1649.3 418.7,1650.8S402.7,1654.5 394.6,1656.1S378.5,1659 370.5,1658.8S354.4,1656.9 346.3,1654.6S330.2,1649.3 322.2,1646.3S306.2,1640.2 298.2,1637.9S282.1,1634 274.2,1634.5S258.2,1637.3 250.2,1642.9S234.2,1657.2 226.2,1669.8S210.1,1699 202,1720C198,1730.5 193.9,1741.7 189.9,1754C187.9,1760.1 185.9,1766.6 183.9,1773.3S179.9,1787.3 177.9,1794.8Z" fill="#426db0" stroke="#426db0"/>
<path d="M177.9,1794.8C179.9,1787.3 181.9,1780.1 183.9,1773.3S187.9,1760.1 189.9,1754C193.9,1741.7 198,1730.5 202,1720C210.1,1699 218.1,1682.4 226.2,1669.8S242.2,1648.5 250.2,1642.9S266.2,1634.9 274.2,1634.5S290.2,1635.6 298.2,1637.9S314.2,1643.3 322.2,1646.3S338.3,1652.3 346.3,1654.6S362.4,1658.5 370.5,1658.8S386.6,1657.8 394.6,1656.1S410.7,1652.4 418.7,1650.8S434.7,1648.2 442.7,1648.5S458.7,1650.3 466.7,1653.5S482.7,1661.4 490.8,1667.8S506.8,1682.9 514.8,1690.8S530.9,1705.9 539,1708.6S555.2,1709.6 563.1,1704.2S579.1,1689.7 587.2,1679S603.4,1656 611.5,1644S627.5,1620.5 635.6,1610.9S651.6,1593.6 659.6,1588.5S675.6,1580.9 683.5,1581.5S699.5,1585.9 707.5,1591.7S723.6,1604.6 731.7,1608.6S747.8,1613.6 755.8,1612.6C759.9,1612 763.9,1611 767.9,1609.6S776,1606.5 780,1604.5S787.9,1600.3 791.9,1598.1S799.9,1593.7 803.9,1591.6S811.9,1587.7 816,1586.2S824,1583.4 828,1582.7S836.1,1581.9 840.1,1582.5S848.2,1584.3 852.2,1586.3S860.3,1591.2 864.3,1594.9S872.3,1603.2 876.3,1608.7S884.3,1620.6 888.4,1628.1S896.5,1644.2 900.5,1653.7S908.6,1673.5 912.6,1683.7S920.6,1704.7 924.6,1718.2S932.6,1748.1 936.6,1768.2S944.6,1811.9 948.6,1839.2L948.7,1840.3C944.7,1813.6 940.7,1789.9 936.7,1769.7S928.7,1732.7 924.7,1719.3S916.8,1695.4 912.8,1685.3S904.7,1664.9 900.7,1655.1S892.6,1636.3 888.5,1628.6S880.4,1614.4 876.3,1608.8S868.3,1598.8 864.3,1595.1S856.3,1588.7 852.3,1586.8S844.2,1583.7 840.1,1583.2S832,1582.9 828,1583.6S819.9,1585.5 815.9,1587S807.9,1590.2 803.9,1592.1S795.9,1596.1 791.9,1598.2S784,1602.3 780,1604.2S772,1607.5 768,1608.8S759.9,1610.9 755.8,1611.3C747.8,1612.1 739.7,1611.1 731.6,1607.3S715.4,1596.7 707.4,1591.1S691.4,1581.2 683.5,1580.3S667.7,1581.6 659.7,1586.7S643.7,1599.6 635.7,1609.4S619.7,1630.9 611.6,1643.2S595.3,1668.2 587.2,1679.2S571,1699.2 563.1,1704.4S547,1710.5 538.9,1707.3S522.7,1697.2 514.7,1689.6S498.6,1673.8 490.6,1667.2S474.6,1655.4 466.6,1651.7S450.6,1646 442.7,1645.6S426.8,1646.3 418.8,1648S402.7,1652.1 394.7,1654S378.6,1657.2 370.5,1657S354.3,1655.1 346.2,1652.6S330.2,1646.9 322.1,1643.7S306.1,1637.3 298.1,1635S282.1,1631.2 274.2,1631.7S258.3,1634.8 250.3,1640.5S234.3,1654.9 226.3,1667.6S210.3,1697.6 202.1,1719.2C198.1,1730.1 194,1741.2 190,1753.4C188,1759.5 186,1765.8 184,1772.6S179.9,1786.7 177.9,1794.4Z" fill="#3e5da8" stroke="#3e5da8"/>
<path d="M177.9,1794.4C179.9,1786.7 181.9,1779.4 184,1772.6S188,1759.5 190,1753.4C194,1741.2 198.1,1730.1 202.1,1719.2C210.3,1697.6 218.3,1680.4 226.3,1667.6S242.3,1646.2 250.3,1640.5S266.2,1632.3 274.2,1631.7S290.1,1632.6 298.1,1635S314.1,1640.5 322.1,1643.7S338.2,1650.1 346.2,1652.6S362.4,1656.8 370.5,1657S386.6,1655.8 394.7,1654S410.7,1649.8 418.8,1648S434.7,1645.2 442.7,1645.6S458.6,1648 466.6,1651.7S482.6,1660.7 490.6,1667.2S506.7,1682 514.7,1689.6S530.8,1704.2 538.9,1707.3S555.2,1709.6 563.1,1704.4S579,1690.2 587.2,1679.2S603.5,1655.4 611.6,1643.2S627.7,1619.2 635.7,1609.4S651.8,1591.8 659.7,1586.7S675.6,1579.3 683.5,1580.3S699.4,1585.4 707.4,1591.1S723.5,1603.4 731.6,1607.3S747.8,1612.1 755.8,1611.3C759.9,1610.9 763.9,1610 768,1608.8S776,1606 780,1604.2S788,1600.3 791.9,1598.2S799.9,1594 803.9,1592.1S811.9,1588.5 815.9,1587S824,1584.3 828,1583.6S836.1,1582.7 840.1,1583.2S848.3,1584.8 852.3,1586.8S860.4,1591.5 864.3,1595.1S872.3,1603.3 876.3,1608.8S884.4,1620.9 888.5,1628.6S896.6,1645.3 900.7,1655.1S908.8,1675.2 912.8,1685.3S920.7,1705.9 924.7,1719.3S932.7,1749.5 936.7,1769.7S944.7,1813.6 948.7,1840.3L948.8,1841.5C944.8,1815.4 940.8,1791.6 936.8,1771.2S928.8,1733.8 924.9,1720.4S916.9,1696.8 912.9,1686.9S904.9,1666.6 900.9,1656.5S892.7,1637 888.6,1629.1S880.4,1614.6 876.4,1609S868.4,1598.9 864.4,1595.3S856.4,1589.1 852.4,1587.2S844.2,1584.3 840.2,1584S832,1583.9 828,1584.6S819.9,1586.4 815.8,1587.8S807.8,1590.9 803.8,1592.6S795.8,1596.3 791.9,1598.3S784,1602.2 780.1,1603.8S772,1606.8 768,1607.9S759.9,1609.7 755.9,1610C747.8,1610.7 739.6,1609.6 731.5,1605.9S715.3,1595.9 707.3,1590.4S691.3,1580.3 683.4,1579S667.8,1579.9 659.8,1584.9S643.9,1598 635.9,1607.9S619.9,1629.8 611.8,1642.3S595.3,1668.1 587.1,1679.4S570.9,1699.7 563.1,1704.6S546.9,1709.6 538.8,1706S522.6,1695.6 514.6,1688.4S498.5,1673.4 490.5,1666.7S474.5,1654.2 466.5,1650S450.6,1643.2 442.7,1642.7S426.8,1643.3 418.8,1645.2S402.8,1649.7 394.7,1651.8S378.6,1655.4 370.5,1655.3S354.2,1653.3 346.2,1650.6S330.1,1644.5 322,1641.1S306,1634.4 298,1632S282.1,1628.3 274.2,1629S258.4,1632.3 250.4,1638S234.5,1652.5 226.5,1665.5S210.4,1696.2 202.3,1718.5C198.2,1729.6 194.1,1740.7 190.1,1752.8C188.1,1758.8 186,1765.1 184,1771.9S180,1786.1 178,1794Z" fill="#384ea1" stroke="#384ea1"/>
<path d="M178,1794C180,1786.1 182,1778.7 184,1771.9S188.1,1758.8 190.1,1752.8C194.1,1740.7 198.2,1729.6 202.3,1718.5C210.4,1696.2 218.5,1678.5 226.5,1665.5S242.5,1643.8 250.4,1638S266.3,1629.6 274.2,1629S290.1,1629.7 298,1632S314,1637.7 322,1641.1S338.1,1648 346.2,1650.6S362.3,1655.2 370.5,1655.3S386.7,1653.9 394.7,1651.8S410.8,1647.1 418.8,1645.2S434.7,1642.1 442.7,1642.7S458.5,1645.8 466.5,1650S482.5,1660 490.5,1666.7S506.5,1681.1 514.6,1688.4S530.7,1702.4 538.8,1706S555.3,1709.5 563.1,1704.6S578.9,1690.6 587.1,1679.4S603.7,1654.9 611.8,1642.3S627.9,1617.8 635.9,1607.9S651.9,1590 659.8,1584.9S675.6,1577.7 683.4,1579S699.3,1584.9 707.3,1590.4S723.4,1602.2 731.5,1605.9S747.8,1610.7 755.9,1610C759.9,1609.7 764,1608.9 768,1607.9S776.1,1605.5 780.1,1603.8S788,1600.2 791.9,1598.3S799.8,1594.4 803.8,1592.6S811.8,1589.2 815.8,1587.8S823.9,1585.3 828,1584.6S836.1,1583.6 840.2,1584S848.3,1585.4 852.4,1587.2S860.4,1591.7 864.4,1595.3S872.4,1603.4 876.4,1609S884.5,1621.2 888.6,1629.1S896.8,1646.4 900.9,1656.5S909,1677 912.9,1686.9S920.9,1707 924.9,1720.4S932.8,1750.8 936.8,1771.2S944.8,1815.4 948.8,1841.5L948.9,1842.7C944.9,1817.1 940.9,1793.2 936.9,1772.7S929,1734.9 925,1721.5S917.1,1698.3 913.1,1688.5S905.1,1668.3 901,1657.9S892.8,1637.7 888.7,1629.6S880.5,1614.7 876.4,1609.2S868.4,1599.1 864.5,1595.6S856.5,1589.4 852.5,1587.6S844.3,1585 840.2,1584.7S832,1584.8 827.9,1585.5S819.8,1587.4 815.8,1588.7S807.7,1591.5 803.7,1593.1S795.8,1596.5 791.9,1598.4S784.1,1602 780.1,1603.5S772.1,1606.1 768,1607S759.9,1608.5 755.9,1608.7C747.7,1609.2 739.6,1608.1 731.4,1604.5S715.2,1595.1 707.2,1589.7S691.2,1579.4 683.4,1577.8S667.9,1578.1 659.9,1583.2S644.1,1596.4 636.1,1606.4S620.1,1628.6 612,1641.5S595.4,1668 587.1,1679.5S570.8,1700.2 563.1,1704.8S546.9,1708.7 538.7,1704.7S522.5,1694.1 514.4,1687.2S498.4,1672.9 490.3,1666.1S474.3,1653 466.4,1648.3S450.5,1640.5 442.6,1639.7S426.8,1640.3 418.9,1642.4S402.9,1647.3 394.8,1649.6S378.6,1653.7 370.5,1653.6S354.2,1651.5 346.1,1648.6S330,1642.1 322,1638.5S305.9,1631.5 298,1629.1S282.1,1625.5 274.2,1626.2S258.5,1629.8 250.6,1635.6S234.7,1650.1 226.7,1663.3S210.6,1694.8 202.4,1717.7C198.3,1729.2 194.2,1740.2 190.2,1752.2C188.1,1758.2 186.1,1764.4 184.1,1771.2S180.1,1785.4 178,1793.6Z" fill="#343e99" stroke="#343e99"/>
<path d="M178,1793.6C180.1,1785.4 182.1,1778 184.1,1771.2S188.1,1758.2 190.2,1752.2C194.2,1740.2 198.3,1729.2 202.4,1717.7C210.6,1694.8 218.7,1676.5 226.7,1663.3S242.6,1641.4 250.6,1635.6S266.3,1627 274.2,1626.2S290,1626.7 298,1629.1S313.9,1634.9 322,1638.5S338,1645.8 346.1,1648.6S362.3,1653.5 370.5,1653.6S386.7,1651.9 394.8,1649.6S410.9,1644.4 418.9,1642.4S434.8,1639 442.6,1639.7S458.4,1643.6 466.4,1648.3S482.3,1659.2 490.3,1666.1S506.4,1680.2 514.4,1687.2S530.5,1700.7 538.7,1704.7S555.3,1709.4 563.1,1704.8S578.8,1691 587.1,1679.5S603.8,1654.4 612,1641.5S628.1,1616.5 636.1,1606.4S652,1588.3 659.9,1583.2S675.6,1576.1 683.4,1577.8S699.2,1584.4 707.2,1589.7S723.2,1601 731.4,1604.5S747.7,1609.2 755.9,1608.7C759.9,1608.5 764,1607.9 768,1607S776.1,1604.9 780.1,1603.5S788,1600.2 791.9,1598.4S799.7,1594.8 803.7,1593.1S811.7,1590 815.8,1588.7S823.9,1586.2 827.9,1585.5S836.1,1584.4 840.2,1584.7S848.4,1585.9 852.5,1587.6S860.5,1592 864.5,1595.6S872.4,1603.6 876.4,1609.2S884.5,1621.5 888.7,1629.6S897,1647.5 901,1657.9S909.2,1678.7 913.1,1688.5S921.1,1708.2 925,1721.5S932.9,1752.1 936.9,1772.7S944.9,1817.1 948.9,1842.7" fill="none" stroke="#313695"/>
</g>
<g stroke="#000" stroke-width="3.2">
<line x1="154" x2="161.7" y1="1862.8" y2="1862.8"/>
<line x1="154" x2="161.7" y1="1794.9" y2="1794.9"/>
<line x1="154" x2="161.7" y1="1727" y2="1727"/>
<line x1="154" x2="161.7" y1="1659" y2="1659"/>
<line x1="154" x2="161.7" y1="1591.1" y2="1591.1"/>
<line x1="154" x2="161.7" y1="1523.2" y2="1523.2"/>
<line x1="154" x2="161.7" y1="1455.2" y2="1455.2"/>
<line x1="154" x2="161.7" y1="1387.3" y2="1387.3"/>
<line x1="154" x2="161.7" y1="1319.4" y2="1319.4"/>
<line x1="177.8" x2="177.8" y1="1862.8" y2="1855.1"/>
<line x1="370.5" x2="370.5" y1="1862.8" y2="1855.1"/>
<line x1="563.2" x2="563.2" y1="1862.8" y2="1855.1"/>
<line x1="755.8" x2="755.8" y1="1862.8" y2="1855.1"/>
<line x1="948.5" x2="948.5" y1="1862.8" y2="1855.1"/>
</g>
<rect x="154" y="1319.4" width="818.6" height="543.4" fill="none" stroke="#000" stroke-width="3.5"/>
<g font-family="'DejaVu Sans','Liberation Sans',sans-serif" font-size="28.0" text-anchor="end" fill="#000">
<text x="145.1" y="1874.3">−0.2</text>
<text x="145.1" y="1806.4">0.0</text>
<text x="145.1" y="1738.5">0.2</text>
<text x="145.1" y="1670.5">0.4</text>
<text x="145.1" y="1602.6">0.6</text>
<text x="145.1" y="1534.7">0.8</text>
<text x="145.1" y="1466.8">1.0</text>
<text x="145.1" y="1398.8">1.2</text>
<text x="145.1" y="1330.9">1.4</text>
</g>
<text x="779.5" y="1777.9" font-family="'DejaVu Sans','Liberation Sans',sans-serif" font-size="47.4" fill="#000">iii) Mn</text>
</g>
<g font-family="'DejaVu Sans','Liberation Sans',sans-serif" font-size="28.0" text-anchor="middle" fill="#000">
<text x="177.8" y="1893.3">A</text>
<text x="370.5" y="1893.3">B</text>
<text x="563.2" y="1893.3">C</text>
<text x="755.8" y="1893.3">D</text>
<text x="948.5" y="1893.3">E</text>
</g>
<text x="563.3" y="1949" font-family="'DejaVu Sans','Liberation Sans',sans-serif" font-size="47.1" text-anchor="middle" fill="#000">Pathway Step</text>
<text transform="translate(37.1 995.8) rotate(-90)" font-family="'DejaVu Sans','Liberation Sans',sans-serif" font-size="47.5" text-anchor="middle" fill="#000">Energy Difference per unit cell / eV</text>
</svg>
</body>
</html>
